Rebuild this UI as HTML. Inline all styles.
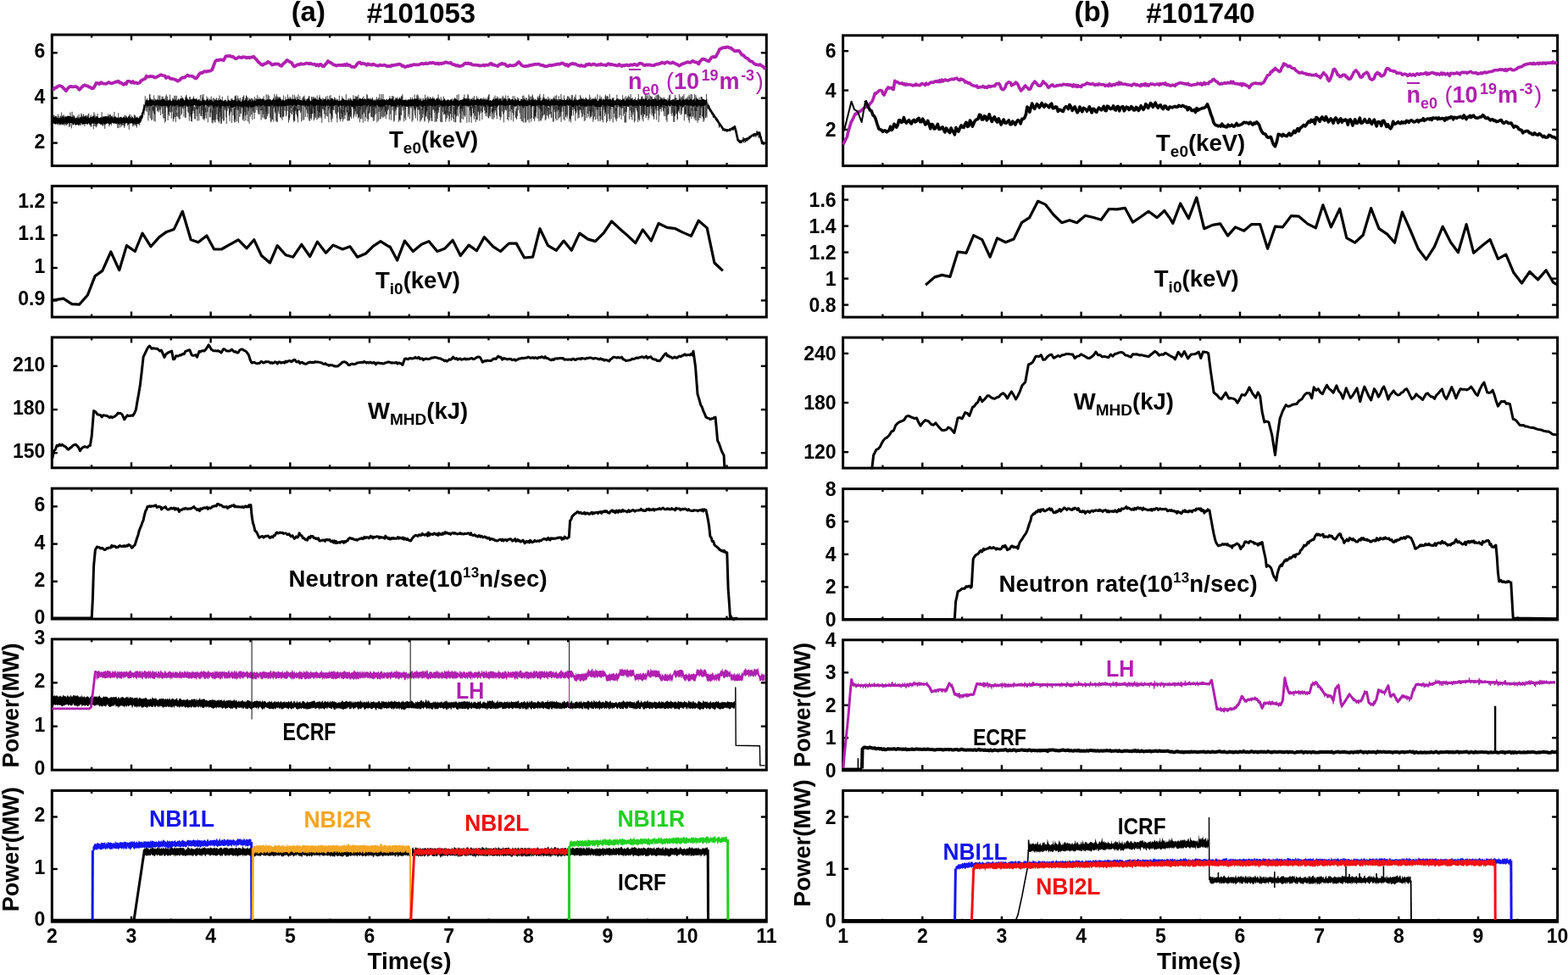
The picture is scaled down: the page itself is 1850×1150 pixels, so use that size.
<!DOCTYPE html><html><head><meta charset="utf-8"><title>Figure</title><style>html,body{margin:0;padding:0;background:#fff;}svg{display:block;}</style></head><body><svg width="1850" height="1150" viewBox="0 0 1850 1150" font-family='"Liberation Sans", Arial, sans-serif' font-weight="bold">
<rect width="1850" height="1150" fill="#fff"/>
<defs><filter id="bl" x="-5%" y="-50%" width="110%" height="200%"><feGaussianBlur stdDeviation="0.35"/></filter></defs>
<line x1="108.1" y1="41" x2="108.1" y2="44.5" stroke="#000" stroke-width="2.4"/>
<line x1="108.1" y1="195.6" x2="108.1" y2="192.1" stroke="#000" stroke-width="2.4"/>
<line x1="155" y1="41" x2="155" y2="47.5" stroke="#000" stroke-width="2.4"/>
<line x1="155" y1="195.6" x2="155" y2="189.1" stroke="#000" stroke-width="2.4"/>
<line x1="201.8" y1="41" x2="201.8" y2="44.5" stroke="#000" stroke-width="2.4"/>
<line x1="201.8" y1="195.6" x2="201.8" y2="192.1" stroke="#000" stroke-width="2.4"/>
<line x1="248.6" y1="41" x2="248.6" y2="47.5" stroke="#000" stroke-width="2.4"/>
<line x1="248.6" y1="195.6" x2="248.6" y2="189.1" stroke="#000" stroke-width="2.4"/>
<line x1="295.5" y1="41" x2="295.5" y2="44.5" stroke="#000" stroke-width="2.4"/>
<line x1="295.5" y1="195.6" x2="295.5" y2="192.1" stroke="#000" stroke-width="2.4"/>
<line x1="342.3" y1="41" x2="342.3" y2="47.5" stroke="#000" stroke-width="2.4"/>
<line x1="342.3" y1="195.6" x2="342.3" y2="189.1" stroke="#000" stroke-width="2.4"/>
<line x1="389.1" y1="41" x2="389.1" y2="44.5" stroke="#000" stroke-width="2.4"/>
<line x1="389.1" y1="195.6" x2="389.1" y2="192.1" stroke="#000" stroke-width="2.4"/>
<line x1="436" y1="41" x2="436" y2="47.5" stroke="#000" stroke-width="2.4"/>
<line x1="436" y1="195.6" x2="436" y2="189.1" stroke="#000" stroke-width="2.4"/>
<line x1="482.8" y1="41" x2="482.8" y2="44.5" stroke="#000" stroke-width="2.4"/>
<line x1="482.8" y1="195.6" x2="482.8" y2="192.1" stroke="#000" stroke-width="2.4"/>
<line x1="529.6" y1="41" x2="529.6" y2="47.5" stroke="#000" stroke-width="2.4"/>
<line x1="529.6" y1="195.6" x2="529.6" y2="189.1" stroke="#000" stroke-width="2.4"/>
<line x1="576.5" y1="41" x2="576.5" y2="44.5" stroke="#000" stroke-width="2.4"/>
<line x1="576.5" y1="195.6" x2="576.5" y2="192.1" stroke="#000" stroke-width="2.4"/>
<line x1="623.3" y1="41" x2="623.3" y2="47.5" stroke="#000" stroke-width="2.4"/>
<line x1="623.3" y1="195.6" x2="623.3" y2="189.1" stroke="#000" stroke-width="2.4"/>
<line x1="670.2" y1="41" x2="670.2" y2="44.5" stroke="#000" stroke-width="2.4"/>
<line x1="670.2" y1="195.6" x2="670.2" y2="192.1" stroke="#000" stroke-width="2.4"/>
<line x1="717" y1="41" x2="717" y2="47.5" stroke="#000" stroke-width="2.4"/>
<line x1="717" y1="195.6" x2="717" y2="189.1" stroke="#000" stroke-width="2.4"/>
<line x1="763.8" y1="41" x2="763.8" y2="44.5" stroke="#000" stroke-width="2.4"/>
<line x1="763.8" y1="195.6" x2="763.8" y2="192.1" stroke="#000" stroke-width="2.4"/>
<line x1="810.7" y1="41" x2="810.7" y2="47.5" stroke="#000" stroke-width="2.4"/>
<line x1="810.7" y1="195.6" x2="810.7" y2="189.1" stroke="#000" stroke-width="2.4"/>
<line x1="857.5" y1="41" x2="857.5" y2="44.5" stroke="#000" stroke-width="2.4"/>
<line x1="857.5" y1="195.6" x2="857.5" y2="192.1" stroke="#000" stroke-width="2.4"/>
<line x1="61.3" y1="62.3" x2="67.8" y2="62.3" stroke="#000" stroke-width="2.4"/>
<line x1="904.3" y1="62.3" x2="897.8" y2="62.3" stroke="#000" stroke-width="2.4"/>
<text x="53.3" y="68.2" font-size="23" text-anchor="end" fill="#000" >6</text>
<line x1="61.3" y1="115.6" x2="67.8" y2="115.6" stroke="#000" stroke-width="2.4"/>
<line x1="904.3" y1="115.6" x2="897.8" y2="115.6" stroke="#000" stroke-width="2.4"/>
<text x="53.3" y="121.5" font-size="23" text-anchor="end" fill="#000" >4</text>
<line x1="61.3" y1="168.6" x2="67.8" y2="168.6" stroke="#000" stroke-width="2.4"/>
<line x1="904.3" y1="168.6" x2="897.8" y2="168.6" stroke="#000" stroke-width="2.4"/>
<text x="53.3" y="174.5" font-size="23" text-anchor="end" fill="#000" >2</text>
<rect x="61.3" y="41" width="843" height="154.6" fill="none" stroke="#000" stroke-width="3"/>
<line x1="108.1" y1="219.4" x2="108.1" y2="222.9" stroke="#000" stroke-width="2.4"/>
<line x1="108.1" y1="374" x2="108.1" y2="370.5" stroke="#000" stroke-width="2.4"/>
<line x1="155" y1="219.4" x2="155" y2="225.9" stroke="#000" stroke-width="2.4"/>
<line x1="155" y1="374" x2="155" y2="367.5" stroke="#000" stroke-width="2.4"/>
<line x1="201.8" y1="219.4" x2="201.8" y2="222.9" stroke="#000" stroke-width="2.4"/>
<line x1="201.8" y1="374" x2="201.8" y2="370.5" stroke="#000" stroke-width="2.4"/>
<line x1="248.6" y1="219.4" x2="248.6" y2="225.9" stroke="#000" stroke-width="2.4"/>
<line x1="248.6" y1="374" x2="248.6" y2="367.5" stroke="#000" stroke-width="2.4"/>
<line x1="295.5" y1="219.4" x2="295.5" y2="222.9" stroke="#000" stroke-width="2.4"/>
<line x1="295.5" y1="374" x2="295.5" y2="370.5" stroke="#000" stroke-width="2.4"/>
<line x1="342.3" y1="219.4" x2="342.3" y2="225.9" stroke="#000" stroke-width="2.4"/>
<line x1="342.3" y1="374" x2="342.3" y2="367.5" stroke="#000" stroke-width="2.4"/>
<line x1="389.1" y1="219.4" x2="389.1" y2="222.9" stroke="#000" stroke-width="2.4"/>
<line x1="389.1" y1="374" x2="389.1" y2="370.5" stroke="#000" stroke-width="2.4"/>
<line x1="436" y1="219.4" x2="436" y2="225.9" stroke="#000" stroke-width="2.4"/>
<line x1="436" y1="374" x2="436" y2="367.5" stroke="#000" stroke-width="2.4"/>
<line x1="482.8" y1="219.4" x2="482.8" y2="222.9" stroke="#000" stroke-width="2.4"/>
<line x1="482.8" y1="374" x2="482.8" y2="370.5" stroke="#000" stroke-width="2.4"/>
<line x1="529.6" y1="219.4" x2="529.6" y2="225.9" stroke="#000" stroke-width="2.4"/>
<line x1="529.6" y1="374" x2="529.6" y2="367.5" stroke="#000" stroke-width="2.4"/>
<line x1="576.5" y1="219.4" x2="576.5" y2="222.9" stroke="#000" stroke-width="2.4"/>
<line x1="576.5" y1="374" x2="576.5" y2="370.5" stroke="#000" stroke-width="2.4"/>
<line x1="623.3" y1="219.4" x2="623.3" y2="225.9" stroke="#000" stroke-width="2.4"/>
<line x1="623.3" y1="374" x2="623.3" y2="367.5" stroke="#000" stroke-width="2.4"/>
<line x1="670.2" y1="219.4" x2="670.2" y2="222.9" stroke="#000" stroke-width="2.4"/>
<line x1="670.2" y1="374" x2="670.2" y2="370.5" stroke="#000" stroke-width="2.4"/>
<line x1="717" y1="219.4" x2="717" y2="225.9" stroke="#000" stroke-width="2.4"/>
<line x1="717" y1="374" x2="717" y2="367.5" stroke="#000" stroke-width="2.4"/>
<line x1="763.8" y1="219.4" x2="763.8" y2="222.9" stroke="#000" stroke-width="2.4"/>
<line x1="763.8" y1="374" x2="763.8" y2="370.5" stroke="#000" stroke-width="2.4"/>
<line x1="810.7" y1="219.4" x2="810.7" y2="225.9" stroke="#000" stroke-width="2.4"/>
<line x1="810.7" y1="374" x2="810.7" y2="367.5" stroke="#000" stroke-width="2.4"/>
<line x1="857.5" y1="219.4" x2="857.5" y2="222.9" stroke="#000" stroke-width="2.4"/>
<line x1="857.5" y1="374" x2="857.5" y2="370.5" stroke="#000" stroke-width="2.4"/>
<line x1="61.3" y1="239" x2="67.8" y2="239" stroke="#000" stroke-width="2.4"/>
<line x1="904.3" y1="239" x2="897.8" y2="239" stroke="#000" stroke-width="2.4"/>
<text x="53.3" y="244.9" font-size="23" text-anchor="end" fill="#000" >1.2</text>
<line x1="61.3" y1="277.4" x2="67.8" y2="277.4" stroke="#000" stroke-width="2.4"/>
<line x1="904.3" y1="277.4" x2="897.8" y2="277.4" stroke="#000" stroke-width="2.4"/>
<text x="53.3" y="283.3" font-size="23" text-anchor="end" fill="#000" >1.1</text>
<line x1="61.3" y1="316" x2="67.8" y2="316" stroke="#000" stroke-width="2.4"/>
<line x1="904.3" y1="316" x2="897.8" y2="316" stroke="#000" stroke-width="2.4"/>
<text x="53.3" y="321.9" font-size="23" text-anchor="end" fill="#000" >1</text>
<line x1="61.3" y1="354.4" x2="67.8" y2="354.4" stroke="#000" stroke-width="2.4"/>
<line x1="904.3" y1="354.4" x2="897.8" y2="354.4" stroke="#000" stroke-width="2.4"/>
<text x="53.3" y="360.3" font-size="23" text-anchor="end" fill="#000" >0.9</text>
<rect x="61.3" y="219.4" width="843" height="154.6" fill="none" stroke="#000" stroke-width="3"/>
<line x1="108.1" y1="397.9" x2="108.1" y2="401.4" stroke="#000" stroke-width="2.4"/>
<line x1="108.1" y1="551.8" x2="108.1" y2="548.3" stroke="#000" stroke-width="2.4"/>
<line x1="155" y1="397.9" x2="155" y2="404.4" stroke="#000" stroke-width="2.4"/>
<line x1="155" y1="551.8" x2="155" y2="545.3" stroke="#000" stroke-width="2.4"/>
<line x1="201.8" y1="397.9" x2="201.8" y2="401.4" stroke="#000" stroke-width="2.4"/>
<line x1="201.8" y1="551.8" x2="201.8" y2="548.3" stroke="#000" stroke-width="2.4"/>
<line x1="248.6" y1="397.9" x2="248.6" y2="404.4" stroke="#000" stroke-width="2.4"/>
<line x1="248.6" y1="551.8" x2="248.6" y2="545.3" stroke="#000" stroke-width="2.4"/>
<line x1="295.5" y1="397.9" x2="295.5" y2="401.4" stroke="#000" stroke-width="2.4"/>
<line x1="295.5" y1="551.8" x2="295.5" y2="548.3" stroke="#000" stroke-width="2.4"/>
<line x1="342.3" y1="397.9" x2="342.3" y2="404.4" stroke="#000" stroke-width="2.4"/>
<line x1="342.3" y1="551.8" x2="342.3" y2="545.3" stroke="#000" stroke-width="2.4"/>
<line x1="389.1" y1="397.9" x2="389.1" y2="401.4" stroke="#000" stroke-width="2.4"/>
<line x1="389.1" y1="551.8" x2="389.1" y2="548.3" stroke="#000" stroke-width="2.4"/>
<line x1="436" y1="397.9" x2="436" y2="404.4" stroke="#000" stroke-width="2.4"/>
<line x1="436" y1="551.8" x2="436" y2="545.3" stroke="#000" stroke-width="2.4"/>
<line x1="482.8" y1="397.9" x2="482.8" y2="401.4" stroke="#000" stroke-width="2.4"/>
<line x1="482.8" y1="551.8" x2="482.8" y2="548.3" stroke="#000" stroke-width="2.4"/>
<line x1="529.6" y1="397.9" x2="529.6" y2="404.4" stroke="#000" stroke-width="2.4"/>
<line x1="529.6" y1="551.8" x2="529.6" y2="545.3" stroke="#000" stroke-width="2.4"/>
<line x1="576.5" y1="397.9" x2="576.5" y2="401.4" stroke="#000" stroke-width="2.4"/>
<line x1="576.5" y1="551.8" x2="576.5" y2="548.3" stroke="#000" stroke-width="2.4"/>
<line x1="623.3" y1="397.9" x2="623.3" y2="404.4" stroke="#000" stroke-width="2.4"/>
<line x1="623.3" y1="551.8" x2="623.3" y2="545.3" stroke="#000" stroke-width="2.4"/>
<line x1="670.2" y1="397.9" x2="670.2" y2="401.4" stroke="#000" stroke-width="2.4"/>
<line x1="670.2" y1="551.8" x2="670.2" y2="548.3" stroke="#000" stroke-width="2.4"/>
<line x1="717" y1="397.9" x2="717" y2="404.4" stroke="#000" stroke-width="2.4"/>
<line x1="717" y1="551.8" x2="717" y2="545.3" stroke="#000" stroke-width="2.4"/>
<line x1="763.8" y1="397.9" x2="763.8" y2="401.4" stroke="#000" stroke-width="2.4"/>
<line x1="763.8" y1="551.8" x2="763.8" y2="548.3" stroke="#000" stroke-width="2.4"/>
<line x1="810.7" y1="397.9" x2="810.7" y2="404.4" stroke="#000" stroke-width="2.4"/>
<line x1="810.7" y1="551.8" x2="810.7" y2="545.3" stroke="#000" stroke-width="2.4"/>
<line x1="857.5" y1="397.9" x2="857.5" y2="401.4" stroke="#000" stroke-width="2.4"/>
<line x1="857.5" y1="551.8" x2="857.5" y2="548.3" stroke="#000" stroke-width="2.4"/>
<line x1="61.3" y1="431.8" x2="67.8" y2="431.8" stroke="#000" stroke-width="2.4"/>
<line x1="904.3" y1="431.8" x2="897.8" y2="431.8" stroke="#000" stroke-width="2.4"/>
<text x="53.3" y="437.7" font-size="23" text-anchor="end" fill="#000" >210</text>
<line x1="61.3" y1="483.1" x2="67.8" y2="483.1" stroke="#000" stroke-width="2.4"/>
<line x1="904.3" y1="483.1" x2="897.8" y2="483.1" stroke="#000" stroke-width="2.4"/>
<text x="53.3" y="489" font-size="23" text-anchor="end" fill="#000" >180</text>
<line x1="61.3" y1="534.2" x2="67.8" y2="534.2" stroke="#000" stroke-width="2.4"/>
<line x1="904.3" y1="534.2" x2="897.8" y2="534.2" stroke="#000" stroke-width="2.4"/>
<text x="53.3" y="540.1" font-size="23" text-anchor="end" fill="#000" >150</text>
<rect x="61.3" y="397.9" width="843" height="153.9" fill="none" stroke="#000" stroke-width="3"/>
<line x1="108.1" y1="576.1" x2="108.1" y2="579.6" stroke="#000" stroke-width="2.4"/>
<line x1="108.1" y1="730.1" x2="108.1" y2="726.6" stroke="#000" stroke-width="2.4"/>
<line x1="155" y1="576.1" x2="155" y2="582.6" stroke="#000" stroke-width="2.4"/>
<line x1="155" y1="730.1" x2="155" y2="723.6" stroke="#000" stroke-width="2.4"/>
<line x1="201.8" y1="576.1" x2="201.8" y2="579.6" stroke="#000" stroke-width="2.4"/>
<line x1="201.8" y1="730.1" x2="201.8" y2="726.6" stroke="#000" stroke-width="2.4"/>
<line x1="248.6" y1="576.1" x2="248.6" y2="582.6" stroke="#000" stroke-width="2.4"/>
<line x1="248.6" y1="730.1" x2="248.6" y2="723.6" stroke="#000" stroke-width="2.4"/>
<line x1="295.5" y1="576.1" x2="295.5" y2="579.6" stroke="#000" stroke-width="2.4"/>
<line x1="295.5" y1="730.1" x2="295.5" y2="726.6" stroke="#000" stroke-width="2.4"/>
<line x1="342.3" y1="576.1" x2="342.3" y2="582.6" stroke="#000" stroke-width="2.4"/>
<line x1="342.3" y1="730.1" x2="342.3" y2="723.6" stroke="#000" stroke-width="2.4"/>
<line x1="389.1" y1="576.1" x2="389.1" y2="579.6" stroke="#000" stroke-width="2.4"/>
<line x1="389.1" y1="730.1" x2="389.1" y2="726.6" stroke="#000" stroke-width="2.4"/>
<line x1="436" y1="576.1" x2="436" y2="582.6" stroke="#000" stroke-width="2.4"/>
<line x1="436" y1="730.1" x2="436" y2="723.6" stroke="#000" stroke-width="2.4"/>
<line x1="482.8" y1="576.1" x2="482.8" y2="579.6" stroke="#000" stroke-width="2.4"/>
<line x1="482.8" y1="730.1" x2="482.8" y2="726.6" stroke="#000" stroke-width="2.4"/>
<line x1="529.6" y1="576.1" x2="529.6" y2="582.6" stroke="#000" stroke-width="2.4"/>
<line x1="529.6" y1="730.1" x2="529.6" y2="723.6" stroke="#000" stroke-width="2.4"/>
<line x1="576.5" y1="576.1" x2="576.5" y2="579.6" stroke="#000" stroke-width="2.4"/>
<line x1="576.5" y1="730.1" x2="576.5" y2="726.6" stroke="#000" stroke-width="2.4"/>
<line x1="623.3" y1="576.1" x2="623.3" y2="582.6" stroke="#000" stroke-width="2.4"/>
<line x1="623.3" y1="730.1" x2="623.3" y2="723.6" stroke="#000" stroke-width="2.4"/>
<line x1="670.2" y1="576.1" x2="670.2" y2="579.6" stroke="#000" stroke-width="2.4"/>
<line x1="670.2" y1="730.1" x2="670.2" y2="726.6" stroke="#000" stroke-width="2.4"/>
<line x1="717" y1="576.1" x2="717" y2="582.6" stroke="#000" stroke-width="2.4"/>
<line x1="717" y1="730.1" x2="717" y2="723.6" stroke="#000" stroke-width="2.4"/>
<line x1="763.8" y1="576.1" x2="763.8" y2="579.6" stroke="#000" stroke-width="2.4"/>
<line x1="763.8" y1="730.1" x2="763.8" y2="726.6" stroke="#000" stroke-width="2.4"/>
<line x1="810.7" y1="576.1" x2="810.7" y2="582.6" stroke="#000" stroke-width="2.4"/>
<line x1="810.7" y1="730.1" x2="810.7" y2="723.6" stroke="#000" stroke-width="2.4"/>
<line x1="857.5" y1="576.1" x2="857.5" y2="579.6" stroke="#000" stroke-width="2.4"/>
<line x1="857.5" y1="730.1" x2="857.5" y2="726.6" stroke="#000" stroke-width="2.4"/>
<line x1="61.3" y1="597.4" x2="67.8" y2="597.4" stroke="#000" stroke-width="2.4"/>
<line x1="904.3" y1="597.4" x2="897.8" y2="597.4" stroke="#000" stroke-width="2.4"/>
<text x="53.3" y="603.3" font-size="23" text-anchor="end" fill="#000" >6</text>
<line x1="61.3" y1="641.6" x2="67.8" y2="641.6" stroke="#000" stroke-width="2.4"/>
<line x1="904.3" y1="641.6" x2="897.8" y2="641.6" stroke="#000" stroke-width="2.4"/>
<text x="53.3" y="647.5" font-size="23" text-anchor="end" fill="#000" >4</text>
<line x1="61.3" y1="685.8" x2="67.8" y2="685.8" stroke="#000" stroke-width="2.4"/>
<line x1="904.3" y1="685.8" x2="897.8" y2="685.8" stroke="#000" stroke-width="2.4"/>
<text x="53.3" y="691.7" font-size="23" text-anchor="end" fill="#000" >2</text>
<text x="53.3" y="736" font-size="23" text-anchor="end" fill="#000" >0</text>
<rect x="61.3" y="576.1" width="843" height="154" fill="none" stroke="#000" stroke-width="3"/>
<line x1="108.1" y1="753.9" x2="108.1" y2="757.4" stroke="#000" stroke-width="2.4"/>
<line x1="108.1" y1="908.2" x2="108.1" y2="904.7" stroke="#000" stroke-width="2.4"/>
<line x1="155" y1="753.9" x2="155" y2="760.4" stroke="#000" stroke-width="2.4"/>
<line x1="155" y1="908.2" x2="155" y2="901.7" stroke="#000" stroke-width="2.4"/>
<line x1="201.8" y1="753.9" x2="201.8" y2="757.4" stroke="#000" stroke-width="2.4"/>
<line x1="201.8" y1="908.2" x2="201.8" y2="904.7" stroke="#000" stroke-width="2.4"/>
<line x1="248.6" y1="753.9" x2="248.6" y2="760.4" stroke="#000" stroke-width="2.4"/>
<line x1="248.6" y1="908.2" x2="248.6" y2="901.7" stroke="#000" stroke-width="2.4"/>
<line x1="295.5" y1="753.9" x2="295.5" y2="757.4" stroke="#000" stroke-width="2.4"/>
<line x1="295.5" y1="908.2" x2="295.5" y2="904.7" stroke="#000" stroke-width="2.4"/>
<line x1="342.3" y1="753.9" x2="342.3" y2="760.4" stroke="#000" stroke-width="2.4"/>
<line x1="342.3" y1="908.2" x2="342.3" y2="901.7" stroke="#000" stroke-width="2.4"/>
<line x1="389.1" y1="753.9" x2="389.1" y2="757.4" stroke="#000" stroke-width="2.4"/>
<line x1="389.1" y1="908.2" x2="389.1" y2="904.7" stroke="#000" stroke-width="2.4"/>
<line x1="436" y1="753.9" x2="436" y2="760.4" stroke="#000" stroke-width="2.4"/>
<line x1="436" y1="908.2" x2="436" y2="901.7" stroke="#000" stroke-width="2.4"/>
<line x1="482.8" y1="753.9" x2="482.8" y2="757.4" stroke="#000" stroke-width="2.4"/>
<line x1="482.8" y1="908.2" x2="482.8" y2="904.7" stroke="#000" stroke-width="2.4"/>
<line x1="529.6" y1="753.9" x2="529.6" y2="760.4" stroke="#000" stroke-width="2.4"/>
<line x1="529.6" y1="908.2" x2="529.6" y2="901.7" stroke="#000" stroke-width="2.4"/>
<line x1="576.5" y1="753.9" x2="576.5" y2="757.4" stroke="#000" stroke-width="2.4"/>
<line x1="576.5" y1="908.2" x2="576.5" y2="904.7" stroke="#000" stroke-width="2.4"/>
<line x1="623.3" y1="753.9" x2="623.3" y2="760.4" stroke="#000" stroke-width="2.4"/>
<line x1="623.3" y1="908.2" x2="623.3" y2="901.7" stroke="#000" stroke-width="2.4"/>
<line x1="670.2" y1="753.9" x2="670.2" y2="757.4" stroke="#000" stroke-width="2.4"/>
<line x1="670.2" y1="908.2" x2="670.2" y2="904.7" stroke="#000" stroke-width="2.4"/>
<line x1="717" y1="753.9" x2="717" y2="760.4" stroke="#000" stroke-width="2.4"/>
<line x1="717" y1="908.2" x2="717" y2="901.7" stroke="#000" stroke-width="2.4"/>
<line x1="763.8" y1="753.9" x2="763.8" y2="757.4" stroke="#000" stroke-width="2.4"/>
<line x1="763.8" y1="908.2" x2="763.8" y2="904.7" stroke="#000" stroke-width="2.4"/>
<line x1="810.7" y1="753.9" x2="810.7" y2="760.4" stroke="#000" stroke-width="2.4"/>
<line x1="810.7" y1="908.2" x2="810.7" y2="901.7" stroke="#000" stroke-width="2.4"/>
<line x1="857.5" y1="753.9" x2="857.5" y2="757.4" stroke="#000" stroke-width="2.4"/>
<line x1="857.5" y1="908.2" x2="857.5" y2="904.7" stroke="#000" stroke-width="2.4"/>
<text x="53.3" y="759.8" font-size="23" text-anchor="end" fill="#000" >3</text>
<line x1="61.3" y1="805.3" x2="67.8" y2="805.3" stroke="#000" stroke-width="2.4"/>
<line x1="904.3" y1="805.3" x2="897.8" y2="805.3" stroke="#000" stroke-width="2.4"/>
<text x="53.3" y="811.2" font-size="23" text-anchor="end" fill="#000" >2</text>
<line x1="61.3" y1="856.7" x2="67.8" y2="856.7" stroke="#000" stroke-width="2.4"/>
<line x1="904.3" y1="856.7" x2="897.8" y2="856.7" stroke="#000" stroke-width="2.4"/>
<text x="53.3" y="862.6" font-size="23" text-anchor="end" fill="#000" >1</text>
<text x="53.3" y="914.1" font-size="23" text-anchor="end" fill="#000" >0</text>
<rect x="61.3" y="753.9" width="843" height="154.3" fill="none" stroke="#000" stroke-width="3"/>
<line x1="108.1" y1="932.5" x2="108.1" y2="936" stroke="#000" stroke-width="2.4"/>
<line x1="108.1" y1="1087.2" x2="108.1" y2="1083.7" stroke="#000" stroke-width="2.4"/>
<line x1="155" y1="932.5" x2="155" y2="939" stroke="#000" stroke-width="2.4"/>
<line x1="155" y1="1087.2" x2="155" y2="1080.7" stroke="#000" stroke-width="2.4"/>
<line x1="201.8" y1="932.5" x2="201.8" y2="936" stroke="#000" stroke-width="2.4"/>
<line x1="201.8" y1="1087.2" x2="201.8" y2="1083.7" stroke="#000" stroke-width="2.4"/>
<line x1="248.6" y1="932.5" x2="248.6" y2="939" stroke="#000" stroke-width="2.4"/>
<line x1="248.6" y1="1087.2" x2="248.6" y2="1080.7" stroke="#000" stroke-width="2.4"/>
<line x1="295.5" y1="932.5" x2="295.5" y2="936" stroke="#000" stroke-width="2.4"/>
<line x1="295.5" y1="1087.2" x2="295.5" y2="1083.7" stroke="#000" stroke-width="2.4"/>
<line x1="342.3" y1="932.5" x2="342.3" y2="939" stroke="#000" stroke-width="2.4"/>
<line x1="342.3" y1="1087.2" x2="342.3" y2="1080.7" stroke="#000" stroke-width="2.4"/>
<line x1="389.1" y1="932.5" x2="389.1" y2="936" stroke="#000" stroke-width="2.4"/>
<line x1="389.1" y1="1087.2" x2="389.1" y2="1083.7" stroke="#000" stroke-width="2.4"/>
<line x1="436" y1="932.5" x2="436" y2="939" stroke="#000" stroke-width="2.4"/>
<line x1="436" y1="1087.2" x2="436" y2="1080.7" stroke="#000" stroke-width="2.4"/>
<line x1="482.8" y1="932.5" x2="482.8" y2="936" stroke="#000" stroke-width="2.4"/>
<line x1="482.8" y1="1087.2" x2="482.8" y2="1083.7" stroke="#000" stroke-width="2.4"/>
<line x1="529.6" y1="932.5" x2="529.6" y2="939" stroke="#000" stroke-width="2.4"/>
<line x1="529.6" y1="1087.2" x2="529.6" y2="1080.7" stroke="#000" stroke-width="2.4"/>
<line x1="576.5" y1="932.5" x2="576.5" y2="936" stroke="#000" stroke-width="2.4"/>
<line x1="576.5" y1="1087.2" x2="576.5" y2="1083.7" stroke="#000" stroke-width="2.4"/>
<line x1="623.3" y1="932.5" x2="623.3" y2="939" stroke="#000" stroke-width="2.4"/>
<line x1="623.3" y1="1087.2" x2="623.3" y2="1080.7" stroke="#000" stroke-width="2.4"/>
<line x1="670.2" y1="932.5" x2="670.2" y2="936" stroke="#000" stroke-width="2.4"/>
<line x1="670.2" y1="1087.2" x2="670.2" y2="1083.7" stroke="#000" stroke-width="2.4"/>
<line x1="717" y1="932.5" x2="717" y2="939" stroke="#000" stroke-width="2.4"/>
<line x1="717" y1="1087.2" x2="717" y2="1080.7" stroke="#000" stroke-width="2.4"/>
<line x1="763.8" y1="932.5" x2="763.8" y2="936" stroke="#000" stroke-width="2.4"/>
<line x1="763.8" y1="1087.2" x2="763.8" y2="1083.7" stroke="#000" stroke-width="2.4"/>
<line x1="810.7" y1="932.5" x2="810.7" y2="939" stroke="#000" stroke-width="2.4"/>
<line x1="810.7" y1="1087.2" x2="810.7" y2="1080.7" stroke="#000" stroke-width="2.4"/>
<line x1="857.5" y1="932.5" x2="857.5" y2="936" stroke="#000" stroke-width="2.4"/>
<line x1="857.5" y1="1087.2" x2="857.5" y2="1083.7" stroke="#000" stroke-width="2.4"/>
<line x1="61.3" y1="963.5" x2="67.8" y2="963.5" stroke="#000" stroke-width="2.4"/>
<line x1="904.3" y1="963.5" x2="897.8" y2="963.5" stroke="#000" stroke-width="2.4"/>
<text x="53.3" y="969.4" font-size="23" text-anchor="end" fill="#000" >2</text>
<line x1="61.3" y1="1025" x2="67.8" y2="1025" stroke="#000" stroke-width="2.4"/>
<line x1="904.3" y1="1025" x2="897.8" y2="1025" stroke="#000" stroke-width="2.4"/>
<text x="53.3" y="1030.9" font-size="23" text-anchor="end" fill="#000" >1</text>
<text x="53.3" y="1092.3" font-size="23" text-anchor="end" fill="#000" >0</text>
<rect x="61.3" y="932.5" width="843" height="154.7" fill="none" stroke="#000" stroke-width="3"/>
<line x1="1041.4" y1="41.8" x2="1041.4" y2="45.3" stroke="#000" stroke-width="2.4"/>
<line x1="1041.4" y1="195.6" x2="1041.4" y2="192.1" stroke="#000" stroke-width="2.4"/>
<line x1="1088.3" y1="41.8" x2="1088.3" y2="48.3" stroke="#000" stroke-width="2.4"/>
<line x1="1088.3" y1="195.6" x2="1088.3" y2="189.1" stroke="#000" stroke-width="2.4"/>
<line x1="1135.1" y1="41.8" x2="1135.1" y2="45.3" stroke="#000" stroke-width="2.4"/>
<line x1="1135.1" y1="195.6" x2="1135.1" y2="192.1" stroke="#000" stroke-width="2.4"/>
<line x1="1181.9" y1="41.8" x2="1181.9" y2="48.3" stroke="#000" stroke-width="2.4"/>
<line x1="1181.9" y1="195.6" x2="1181.9" y2="189.1" stroke="#000" stroke-width="2.4"/>
<line x1="1228.8" y1="41.8" x2="1228.8" y2="45.3" stroke="#000" stroke-width="2.4"/>
<line x1="1228.8" y1="195.6" x2="1228.8" y2="192.1" stroke="#000" stroke-width="2.4"/>
<line x1="1275.6" y1="41.8" x2="1275.6" y2="48.3" stroke="#000" stroke-width="2.4"/>
<line x1="1275.6" y1="195.6" x2="1275.6" y2="189.1" stroke="#000" stroke-width="2.4"/>
<line x1="1322.4" y1="41.8" x2="1322.4" y2="45.3" stroke="#000" stroke-width="2.4"/>
<line x1="1322.4" y1="195.6" x2="1322.4" y2="192.1" stroke="#000" stroke-width="2.4"/>
<line x1="1369.3" y1="41.8" x2="1369.3" y2="48.3" stroke="#000" stroke-width="2.4"/>
<line x1="1369.3" y1="195.6" x2="1369.3" y2="189.1" stroke="#000" stroke-width="2.4"/>
<line x1="1416.1" y1="41.8" x2="1416.1" y2="45.3" stroke="#000" stroke-width="2.4"/>
<line x1="1416.1" y1="195.6" x2="1416.1" y2="192.1" stroke="#000" stroke-width="2.4"/>
<line x1="1463" y1="41.8" x2="1463" y2="48.3" stroke="#000" stroke-width="2.4"/>
<line x1="1463" y1="195.6" x2="1463" y2="189.1" stroke="#000" stroke-width="2.4"/>
<line x1="1509.8" y1="41.8" x2="1509.8" y2="45.3" stroke="#000" stroke-width="2.4"/>
<line x1="1509.8" y1="195.6" x2="1509.8" y2="192.1" stroke="#000" stroke-width="2.4"/>
<line x1="1556.6" y1="41.8" x2="1556.6" y2="48.3" stroke="#000" stroke-width="2.4"/>
<line x1="1556.6" y1="195.6" x2="1556.6" y2="189.1" stroke="#000" stroke-width="2.4"/>
<line x1="1603.5" y1="41.8" x2="1603.5" y2="45.3" stroke="#000" stroke-width="2.4"/>
<line x1="1603.5" y1="195.6" x2="1603.5" y2="192.1" stroke="#000" stroke-width="2.4"/>
<line x1="1650.3" y1="41.8" x2="1650.3" y2="48.3" stroke="#000" stroke-width="2.4"/>
<line x1="1650.3" y1="195.6" x2="1650.3" y2="189.1" stroke="#000" stroke-width="2.4"/>
<line x1="1697.1" y1="41.8" x2="1697.1" y2="45.3" stroke="#000" stroke-width="2.4"/>
<line x1="1697.1" y1="195.6" x2="1697.1" y2="192.1" stroke="#000" stroke-width="2.4"/>
<line x1="1744" y1="41.8" x2="1744" y2="48.3" stroke="#000" stroke-width="2.4"/>
<line x1="1744" y1="195.6" x2="1744" y2="189.1" stroke="#000" stroke-width="2.4"/>
<line x1="1790.8" y1="41.8" x2="1790.8" y2="45.3" stroke="#000" stroke-width="2.4"/>
<line x1="1790.8" y1="195.6" x2="1790.8" y2="192.1" stroke="#000" stroke-width="2.4"/>
<line x1="994.6" y1="60.2" x2="1001.1" y2="60.2" stroke="#000" stroke-width="2.4"/>
<line x1="1837.6" y1="60.2" x2="1831.1" y2="60.2" stroke="#000" stroke-width="2.4"/>
<text x="986.6" y="68.2" font-size="23" text-anchor="end" fill="#000" >6</text>
<line x1="994.6" y1="106.6" x2="1001.1" y2="106.6" stroke="#000" stroke-width="2.4"/>
<line x1="1837.6" y1="106.6" x2="1831.1" y2="106.6" stroke="#000" stroke-width="2.4"/>
<text x="986.6" y="114.6" font-size="23" text-anchor="end" fill="#000" >4</text>
<line x1="994.6" y1="152.9" x2="1001.1" y2="152.9" stroke="#000" stroke-width="2.4"/>
<line x1="1837.6" y1="152.9" x2="1831.1" y2="152.9" stroke="#000" stroke-width="2.4"/>
<text x="986.6" y="160.9" font-size="23" text-anchor="end" fill="#000" >2</text>
<rect x="994.6" y="41.8" width="843" height="153.8" fill="none" stroke="#000" stroke-width="3"/>
<line x1="1041.4" y1="219.8" x2="1041.4" y2="223.3" stroke="#000" stroke-width="2.4"/>
<line x1="1041.4" y1="374.1" x2="1041.4" y2="370.6" stroke="#000" stroke-width="2.4"/>
<line x1="1088.3" y1="219.8" x2="1088.3" y2="226.3" stroke="#000" stroke-width="2.4"/>
<line x1="1088.3" y1="374.1" x2="1088.3" y2="367.6" stroke="#000" stroke-width="2.4"/>
<line x1="1135.1" y1="219.8" x2="1135.1" y2="223.3" stroke="#000" stroke-width="2.4"/>
<line x1="1135.1" y1="374.1" x2="1135.1" y2="370.6" stroke="#000" stroke-width="2.4"/>
<line x1="1181.9" y1="219.8" x2="1181.9" y2="226.3" stroke="#000" stroke-width="2.4"/>
<line x1="1181.9" y1="374.1" x2="1181.9" y2="367.6" stroke="#000" stroke-width="2.4"/>
<line x1="1228.8" y1="219.8" x2="1228.8" y2="223.3" stroke="#000" stroke-width="2.4"/>
<line x1="1228.8" y1="374.1" x2="1228.8" y2="370.6" stroke="#000" stroke-width="2.4"/>
<line x1="1275.6" y1="219.8" x2="1275.6" y2="226.3" stroke="#000" stroke-width="2.4"/>
<line x1="1275.6" y1="374.1" x2="1275.6" y2="367.6" stroke="#000" stroke-width="2.4"/>
<line x1="1322.4" y1="219.8" x2="1322.4" y2="223.3" stroke="#000" stroke-width="2.4"/>
<line x1="1322.4" y1="374.1" x2="1322.4" y2="370.6" stroke="#000" stroke-width="2.4"/>
<line x1="1369.3" y1="219.8" x2="1369.3" y2="226.3" stroke="#000" stroke-width="2.4"/>
<line x1="1369.3" y1="374.1" x2="1369.3" y2="367.6" stroke="#000" stroke-width="2.4"/>
<line x1="1416.1" y1="219.8" x2="1416.1" y2="223.3" stroke="#000" stroke-width="2.4"/>
<line x1="1416.1" y1="374.1" x2="1416.1" y2="370.6" stroke="#000" stroke-width="2.4"/>
<line x1="1463" y1="219.8" x2="1463" y2="226.3" stroke="#000" stroke-width="2.4"/>
<line x1="1463" y1="374.1" x2="1463" y2="367.6" stroke="#000" stroke-width="2.4"/>
<line x1="1509.8" y1="219.8" x2="1509.8" y2="223.3" stroke="#000" stroke-width="2.4"/>
<line x1="1509.8" y1="374.1" x2="1509.8" y2="370.6" stroke="#000" stroke-width="2.4"/>
<line x1="1556.6" y1="219.8" x2="1556.6" y2="226.3" stroke="#000" stroke-width="2.4"/>
<line x1="1556.6" y1="374.1" x2="1556.6" y2="367.6" stroke="#000" stroke-width="2.4"/>
<line x1="1603.5" y1="219.8" x2="1603.5" y2="223.3" stroke="#000" stroke-width="2.4"/>
<line x1="1603.5" y1="374.1" x2="1603.5" y2="370.6" stroke="#000" stroke-width="2.4"/>
<line x1="1650.3" y1="219.8" x2="1650.3" y2="226.3" stroke="#000" stroke-width="2.4"/>
<line x1="1650.3" y1="374.1" x2="1650.3" y2="367.6" stroke="#000" stroke-width="2.4"/>
<line x1="1697.1" y1="219.8" x2="1697.1" y2="223.3" stroke="#000" stroke-width="2.4"/>
<line x1="1697.1" y1="374.1" x2="1697.1" y2="370.6" stroke="#000" stroke-width="2.4"/>
<line x1="1744" y1="219.8" x2="1744" y2="226.3" stroke="#000" stroke-width="2.4"/>
<line x1="1744" y1="374.1" x2="1744" y2="367.6" stroke="#000" stroke-width="2.4"/>
<line x1="1790.8" y1="219.8" x2="1790.8" y2="223.3" stroke="#000" stroke-width="2.4"/>
<line x1="1790.8" y1="374.1" x2="1790.8" y2="370.6" stroke="#000" stroke-width="2.4"/>
<line x1="994.6" y1="235.6" x2="1001.1" y2="235.6" stroke="#000" stroke-width="2.4"/>
<line x1="1837.6" y1="235.6" x2="1831.1" y2="235.6" stroke="#000" stroke-width="2.4"/>
<text x="986.6" y="243.6" font-size="23" text-anchor="end" fill="#000" >1.6</text>
<line x1="994.6" y1="266.6" x2="1001.1" y2="266.6" stroke="#000" stroke-width="2.4"/>
<line x1="1837.6" y1="266.6" x2="1831.1" y2="266.6" stroke="#000" stroke-width="2.4"/>
<text x="986.6" y="274.6" font-size="23" text-anchor="end" fill="#000" >1.4</text>
<line x1="994.6" y1="297.6" x2="1001.1" y2="297.6" stroke="#000" stroke-width="2.4"/>
<line x1="1837.6" y1="297.6" x2="1831.1" y2="297.6" stroke="#000" stroke-width="2.4"/>
<text x="986.6" y="305.6" font-size="23" text-anchor="end" fill="#000" >1.2</text>
<line x1="994.6" y1="328.6" x2="1001.1" y2="328.6" stroke="#000" stroke-width="2.4"/>
<line x1="1837.6" y1="328.6" x2="1831.1" y2="328.6" stroke="#000" stroke-width="2.4"/>
<text x="986.6" y="336.6" font-size="23" text-anchor="end" fill="#000" >1</text>
<line x1="994.6" y1="359.6" x2="1001.1" y2="359.6" stroke="#000" stroke-width="2.4"/>
<line x1="1837.6" y1="359.6" x2="1831.1" y2="359.6" stroke="#000" stroke-width="2.4"/>
<text x="986.6" y="367.6" font-size="23" text-anchor="end" fill="#000" >0.8</text>
<rect x="994.6" y="219.8" width="843" height="154.3" fill="none" stroke="#000" stroke-width="3"/>
<line x1="1041.4" y1="398.1" x2="1041.4" y2="401.6" stroke="#000" stroke-width="2.4"/>
<line x1="1041.4" y1="552.1" x2="1041.4" y2="548.6" stroke="#000" stroke-width="2.4"/>
<line x1="1088.3" y1="398.1" x2="1088.3" y2="404.6" stroke="#000" stroke-width="2.4"/>
<line x1="1088.3" y1="552.1" x2="1088.3" y2="545.6" stroke="#000" stroke-width="2.4"/>
<line x1="1135.1" y1="398.1" x2="1135.1" y2="401.6" stroke="#000" stroke-width="2.4"/>
<line x1="1135.1" y1="552.1" x2="1135.1" y2="548.6" stroke="#000" stroke-width="2.4"/>
<line x1="1181.9" y1="398.1" x2="1181.9" y2="404.6" stroke="#000" stroke-width="2.4"/>
<line x1="1181.9" y1="552.1" x2="1181.9" y2="545.6" stroke="#000" stroke-width="2.4"/>
<line x1="1228.8" y1="398.1" x2="1228.8" y2="401.6" stroke="#000" stroke-width="2.4"/>
<line x1="1228.8" y1="552.1" x2="1228.8" y2="548.6" stroke="#000" stroke-width="2.4"/>
<line x1="1275.6" y1="398.1" x2="1275.6" y2="404.6" stroke="#000" stroke-width="2.4"/>
<line x1="1275.6" y1="552.1" x2="1275.6" y2="545.6" stroke="#000" stroke-width="2.4"/>
<line x1="1322.4" y1="398.1" x2="1322.4" y2="401.6" stroke="#000" stroke-width="2.4"/>
<line x1="1322.4" y1="552.1" x2="1322.4" y2="548.6" stroke="#000" stroke-width="2.4"/>
<line x1="1369.3" y1="398.1" x2="1369.3" y2="404.6" stroke="#000" stroke-width="2.4"/>
<line x1="1369.3" y1="552.1" x2="1369.3" y2="545.6" stroke="#000" stroke-width="2.4"/>
<line x1="1416.1" y1="398.1" x2="1416.1" y2="401.6" stroke="#000" stroke-width="2.4"/>
<line x1="1416.1" y1="552.1" x2="1416.1" y2="548.6" stroke="#000" stroke-width="2.4"/>
<line x1="1463" y1="398.1" x2="1463" y2="404.6" stroke="#000" stroke-width="2.4"/>
<line x1="1463" y1="552.1" x2="1463" y2="545.6" stroke="#000" stroke-width="2.4"/>
<line x1="1509.8" y1="398.1" x2="1509.8" y2="401.6" stroke="#000" stroke-width="2.4"/>
<line x1="1509.8" y1="552.1" x2="1509.8" y2="548.6" stroke="#000" stroke-width="2.4"/>
<line x1="1556.6" y1="398.1" x2="1556.6" y2="404.6" stroke="#000" stroke-width="2.4"/>
<line x1="1556.6" y1="552.1" x2="1556.6" y2="545.6" stroke="#000" stroke-width="2.4"/>
<line x1="1603.5" y1="398.1" x2="1603.5" y2="401.6" stroke="#000" stroke-width="2.4"/>
<line x1="1603.5" y1="552.1" x2="1603.5" y2="548.6" stroke="#000" stroke-width="2.4"/>
<line x1="1650.3" y1="398.1" x2="1650.3" y2="404.6" stroke="#000" stroke-width="2.4"/>
<line x1="1650.3" y1="552.1" x2="1650.3" y2="545.6" stroke="#000" stroke-width="2.4"/>
<line x1="1697.1" y1="398.1" x2="1697.1" y2="401.6" stroke="#000" stroke-width="2.4"/>
<line x1="1697.1" y1="552.1" x2="1697.1" y2="548.6" stroke="#000" stroke-width="2.4"/>
<line x1="1744" y1="398.1" x2="1744" y2="404.6" stroke="#000" stroke-width="2.4"/>
<line x1="1744" y1="552.1" x2="1744" y2="545.6" stroke="#000" stroke-width="2.4"/>
<line x1="1790.8" y1="398.1" x2="1790.8" y2="401.6" stroke="#000" stroke-width="2.4"/>
<line x1="1790.8" y1="552.1" x2="1790.8" y2="548.6" stroke="#000" stroke-width="2.4"/>
<line x1="994.6" y1="416.9" x2="1001.1" y2="416.9" stroke="#000" stroke-width="2.4"/>
<line x1="1837.6" y1="416.9" x2="1831.1" y2="416.9" stroke="#000" stroke-width="2.4"/>
<text x="986.6" y="424.9" font-size="23" text-anchor="end" fill="#000" >240</text>
<line x1="994.6" y1="475" x2="1001.1" y2="475" stroke="#000" stroke-width="2.4"/>
<line x1="1837.6" y1="475" x2="1831.1" y2="475" stroke="#000" stroke-width="2.4"/>
<text x="986.6" y="483" font-size="23" text-anchor="end" fill="#000" >180</text>
<line x1="994.6" y1="533.2" x2="1001.1" y2="533.2" stroke="#000" stroke-width="2.4"/>
<line x1="1837.6" y1="533.2" x2="1831.1" y2="533.2" stroke="#000" stroke-width="2.4"/>
<text x="986.6" y="541.2" font-size="23" text-anchor="end" fill="#000" >120</text>
<rect x="994.6" y="398.1" width="843" height="154" fill="none" stroke="#000" stroke-width="3"/>
<line x1="1041.4" y1="576.6" x2="1041.4" y2="580.1" stroke="#000" stroke-width="2.4"/>
<line x1="1041.4" y1="731" x2="1041.4" y2="727.5" stroke="#000" stroke-width="2.4"/>
<line x1="1088.3" y1="576.6" x2="1088.3" y2="583.1" stroke="#000" stroke-width="2.4"/>
<line x1="1088.3" y1="731" x2="1088.3" y2="724.5" stroke="#000" stroke-width="2.4"/>
<line x1="1135.1" y1="576.6" x2="1135.1" y2="580.1" stroke="#000" stroke-width="2.4"/>
<line x1="1135.1" y1="731" x2="1135.1" y2="727.5" stroke="#000" stroke-width="2.4"/>
<line x1="1181.9" y1="576.6" x2="1181.9" y2="583.1" stroke="#000" stroke-width="2.4"/>
<line x1="1181.9" y1="731" x2="1181.9" y2="724.5" stroke="#000" stroke-width="2.4"/>
<line x1="1228.8" y1="576.6" x2="1228.8" y2="580.1" stroke="#000" stroke-width="2.4"/>
<line x1="1228.8" y1="731" x2="1228.8" y2="727.5" stroke="#000" stroke-width="2.4"/>
<line x1="1275.6" y1="576.6" x2="1275.6" y2="583.1" stroke="#000" stroke-width="2.4"/>
<line x1="1275.6" y1="731" x2="1275.6" y2="724.5" stroke="#000" stroke-width="2.4"/>
<line x1="1322.4" y1="576.6" x2="1322.4" y2="580.1" stroke="#000" stroke-width="2.4"/>
<line x1="1322.4" y1="731" x2="1322.4" y2="727.5" stroke="#000" stroke-width="2.4"/>
<line x1="1369.3" y1="576.6" x2="1369.3" y2="583.1" stroke="#000" stroke-width="2.4"/>
<line x1="1369.3" y1="731" x2="1369.3" y2="724.5" stroke="#000" stroke-width="2.4"/>
<line x1="1416.1" y1="576.6" x2="1416.1" y2="580.1" stroke="#000" stroke-width="2.4"/>
<line x1="1416.1" y1="731" x2="1416.1" y2="727.5" stroke="#000" stroke-width="2.4"/>
<line x1="1463" y1="576.6" x2="1463" y2="583.1" stroke="#000" stroke-width="2.4"/>
<line x1="1463" y1="731" x2="1463" y2="724.5" stroke="#000" stroke-width="2.4"/>
<line x1="1509.8" y1="576.6" x2="1509.8" y2="580.1" stroke="#000" stroke-width="2.4"/>
<line x1="1509.8" y1="731" x2="1509.8" y2="727.5" stroke="#000" stroke-width="2.4"/>
<line x1="1556.6" y1="576.6" x2="1556.6" y2="583.1" stroke="#000" stroke-width="2.4"/>
<line x1="1556.6" y1="731" x2="1556.6" y2="724.5" stroke="#000" stroke-width="2.4"/>
<line x1="1603.5" y1="576.6" x2="1603.5" y2="580.1" stroke="#000" stroke-width="2.4"/>
<line x1="1603.5" y1="731" x2="1603.5" y2="727.5" stroke="#000" stroke-width="2.4"/>
<line x1="1650.3" y1="576.6" x2="1650.3" y2="583.1" stroke="#000" stroke-width="2.4"/>
<line x1="1650.3" y1="731" x2="1650.3" y2="724.5" stroke="#000" stroke-width="2.4"/>
<line x1="1697.1" y1="576.6" x2="1697.1" y2="580.1" stroke="#000" stroke-width="2.4"/>
<line x1="1697.1" y1="731" x2="1697.1" y2="727.5" stroke="#000" stroke-width="2.4"/>
<line x1="1744" y1="576.6" x2="1744" y2="583.1" stroke="#000" stroke-width="2.4"/>
<line x1="1744" y1="731" x2="1744" y2="724.5" stroke="#000" stroke-width="2.4"/>
<line x1="1790.8" y1="576.6" x2="1790.8" y2="580.1" stroke="#000" stroke-width="2.4"/>
<line x1="1790.8" y1="731" x2="1790.8" y2="727.5" stroke="#000" stroke-width="2.4"/>
<text x="986.6" y="584.6" font-size="23" text-anchor="end" fill="#000" >8</text>
<line x1="994.6" y1="615.2" x2="1001.1" y2="615.2" stroke="#000" stroke-width="2.4"/>
<line x1="1837.6" y1="615.2" x2="1831.1" y2="615.2" stroke="#000" stroke-width="2.4"/>
<text x="986.6" y="623.2" font-size="23" text-anchor="end" fill="#000" >6</text>
<line x1="994.6" y1="653.8" x2="1001.1" y2="653.8" stroke="#000" stroke-width="2.4"/>
<line x1="1837.6" y1="653.8" x2="1831.1" y2="653.8" stroke="#000" stroke-width="2.4"/>
<text x="986.6" y="661.8" font-size="23" text-anchor="end" fill="#000" >4</text>
<line x1="994.6" y1="692.4" x2="1001.1" y2="692.4" stroke="#000" stroke-width="2.4"/>
<line x1="1837.6" y1="692.4" x2="1831.1" y2="692.4" stroke="#000" stroke-width="2.4"/>
<text x="986.6" y="700.4" font-size="23" text-anchor="end" fill="#000" >2</text>
<text x="986.6" y="739" font-size="23" text-anchor="end" fill="#000" >0</text>
<rect x="994.6" y="576.6" width="843" height="154.4" fill="none" stroke="#000" stroke-width="3"/>
<line x1="1041.4" y1="754.8" x2="1041.4" y2="758.3" stroke="#000" stroke-width="2.4"/>
<line x1="1041.4" y1="908.8" x2="1041.4" y2="905.3" stroke="#000" stroke-width="2.4"/>
<line x1="1088.3" y1="754.8" x2="1088.3" y2="761.3" stroke="#000" stroke-width="2.4"/>
<line x1="1088.3" y1="908.8" x2="1088.3" y2="902.3" stroke="#000" stroke-width="2.4"/>
<line x1="1135.1" y1="754.8" x2="1135.1" y2="758.3" stroke="#000" stroke-width="2.4"/>
<line x1="1135.1" y1="908.8" x2="1135.1" y2="905.3" stroke="#000" stroke-width="2.4"/>
<line x1="1181.9" y1="754.8" x2="1181.9" y2="761.3" stroke="#000" stroke-width="2.4"/>
<line x1="1181.9" y1="908.8" x2="1181.9" y2="902.3" stroke="#000" stroke-width="2.4"/>
<line x1="1228.8" y1="754.8" x2="1228.8" y2="758.3" stroke="#000" stroke-width="2.4"/>
<line x1="1228.8" y1="908.8" x2="1228.8" y2="905.3" stroke="#000" stroke-width="2.4"/>
<line x1="1275.6" y1="754.8" x2="1275.6" y2="761.3" stroke="#000" stroke-width="2.4"/>
<line x1="1275.6" y1="908.8" x2="1275.6" y2="902.3" stroke="#000" stroke-width="2.4"/>
<line x1="1322.4" y1="754.8" x2="1322.4" y2="758.3" stroke="#000" stroke-width="2.4"/>
<line x1="1322.4" y1="908.8" x2="1322.4" y2="905.3" stroke="#000" stroke-width="2.4"/>
<line x1="1369.3" y1="754.8" x2="1369.3" y2="761.3" stroke="#000" stroke-width="2.4"/>
<line x1="1369.3" y1="908.8" x2="1369.3" y2="902.3" stroke="#000" stroke-width="2.4"/>
<line x1="1416.1" y1="754.8" x2="1416.1" y2="758.3" stroke="#000" stroke-width="2.4"/>
<line x1="1416.1" y1="908.8" x2="1416.1" y2="905.3" stroke="#000" stroke-width="2.4"/>
<line x1="1463" y1="754.8" x2="1463" y2="761.3" stroke="#000" stroke-width="2.4"/>
<line x1="1463" y1="908.8" x2="1463" y2="902.3" stroke="#000" stroke-width="2.4"/>
<line x1="1509.8" y1="754.8" x2="1509.8" y2="758.3" stroke="#000" stroke-width="2.4"/>
<line x1="1509.8" y1="908.8" x2="1509.8" y2="905.3" stroke="#000" stroke-width="2.4"/>
<line x1="1556.6" y1="754.8" x2="1556.6" y2="761.3" stroke="#000" stroke-width="2.4"/>
<line x1="1556.6" y1="908.8" x2="1556.6" y2="902.3" stroke="#000" stroke-width="2.4"/>
<line x1="1603.5" y1="754.8" x2="1603.5" y2="758.3" stroke="#000" stroke-width="2.4"/>
<line x1="1603.5" y1="908.8" x2="1603.5" y2="905.3" stroke="#000" stroke-width="2.4"/>
<line x1="1650.3" y1="754.8" x2="1650.3" y2="761.3" stroke="#000" stroke-width="2.4"/>
<line x1="1650.3" y1="908.8" x2="1650.3" y2="902.3" stroke="#000" stroke-width="2.4"/>
<line x1="1697.1" y1="754.8" x2="1697.1" y2="758.3" stroke="#000" stroke-width="2.4"/>
<line x1="1697.1" y1="908.8" x2="1697.1" y2="905.3" stroke="#000" stroke-width="2.4"/>
<line x1="1744" y1="754.8" x2="1744" y2="761.3" stroke="#000" stroke-width="2.4"/>
<line x1="1744" y1="908.8" x2="1744" y2="902.3" stroke="#000" stroke-width="2.4"/>
<line x1="1790.8" y1="754.8" x2="1790.8" y2="758.3" stroke="#000" stroke-width="2.4"/>
<line x1="1790.8" y1="908.8" x2="1790.8" y2="905.3" stroke="#000" stroke-width="2.4"/>
<text x="986.6" y="762.8" font-size="23" text-anchor="end" fill="#000" >4</text>
<line x1="994.6" y1="793.3" x2="1001.1" y2="793.3" stroke="#000" stroke-width="2.4"/>
<line x1="1837.6" y1="793.3" x2="1831.1" y2="793.3" stroke="#000" stroke-width="2.4"/>
<text x="986.6" y="801.3" font-size="23" text-anchor="end" fill="#000" >3</text>
<line x1="994.6" y1="831.8" x2="1001.1" y2="831.8" stroke="#000" stroke-width="2.4"/>
<line x1="1837.6" y1="831.8" x2="1831.1" y2="831.8" stroke="#000" stroke-width="2.4"/>
<text x="986.6" y="839.8" font-size="23" text-anchor="end" fill="#000" >2</text>
<line x1="994.6" y1="870.3" x2="1001.1" y2="870.3" stroke="#000" stroke-width="2.4"/>
<line x1="1837.6" y1="870.3" x2="1831.1" y2="870.3" stroke="#000" stroke-width="2.4"/>
<text x="986.6" y="878.3" font-size="23" text-anchor="end" fill="#000" >1</text>
<text x="986.6" y="916.8" font-size="23" text-anchor="end" fill="#000" >0</text>
<rect x="994.6" y="754.8" width="843" height="154" fill="none" stroke="#000" stroke-width="3"/>
<line x1="1041.4" y1="932.5" x2="1041.4" y2="936" stroke="#000" stroke-width="2.4"/>
<line x1="1041.4" y1="1087.3" x2="1041.4" y2="1083.8" stroke="#000" stroke-width="2.4"/>
<line x1="1088.3" y1="932.5" x2="1088.3" y2="939" stroke="#000" stroke-width="2.4"/>
<line x1="1088.3" y1="1087.3" x2="1088.3" y2="1080.8" stroke="#000" stroke-width="2.4"/>
<line x1="1135.1" y1="932.5" x2="1135.1" y2="936" stroke="#000" stroke-width="2.4"/>
<line x1="1135.1" y1="1087.3" x2="1135.1" y2="1083.8" stroke="#000" stroke-width="2.4"/>
<line x1="1181.9" y1="932.5" x2="1181.9" y2="939" stroke="#000" stroke-width="2.4"/>
<line x1="1181.9" y1="1087.3" x2="1181.9" y2="1080.8" stroke="#000" stroke-width="2.4"/>
<line x1="1228.8" y1="932.5" x2="1228.8" y2="936" stroke="#000" stroke-width="2.4"/>
<line x1="1228.8" y1="1087.3" x2="1228.8" y2="1083.8" stroke="#000" stroke-width="2.4"/>
<line x1="1275.6" y1="932.5" x2="1275.6" y2="939" stroke="#000" stroke-width="2.4"/>
<line x1="1275.6" y1="1087.3" x2="1275.6" y2="1080.8" stroke="#000" stroke-width="2.4"/>
<line x1="1322.4" y1="932.5" x2="1322.4" y2="936" stroke="#000" stroke-width="2.4"/>
<line x1="1322.4" y1="1087.3" x2="1322.4" y2="1083.8" stroke="#000" stroke-width="2.4"/>
<line x1="1369.3" y1="932.5" x2="1369.3" y2="939" stroke="#000" stroke-width="2.4"/>
<line x1="1369.3" y1="1087.3" x2="1369.3" y2="1080.8" stroke="#000" stroke-width="2.4"/>
<line x1="1416.1" y1="932.5" x2="1416.1" y2="936" stroke="#000" stroke-width="2.4"/>
<line x1="1416.1" y1="1087.3" x2="1416.1" y2="1083.8" stroke="#000" stroke-width="2.4"/>
<line x1="1463" y1="932.5" x2="1463" y2="939" stroke="#000" stroke-width="2.4"/>
<line x1="1463" y1="1087.3" x2="1463" y2="1080.8" stroke="#000" stroke-width="2.4"/>
<line x1="1509.8" y1="932.5" x2="1509.8" y2="936" stroke="#000" stroke-width="2.4"/>
<line x1="1509.8" y1="1087.3" x2="1509.8" y2="1083.8" stroke="#000" stroke-width="2.4"/>
<line x1="1556.6" y1="932.5" x2="1556.6" y2="939" stroke="#000" stroke-width="2.4"/>
<line x1="1556.6" y1="1087.3" x2="1556.6" y2="1080.8" stroke="#000" stroke-width="2.4"/>
<line x1="1603.5" y1="932.5" x2="1603.5" y2="936" stroke="#000" stroke-width="2.4"/>
<line x1="1603.5" y1="1087.3" x2="1603.5" y2="1083.8" stroke="#000" stroke-width="2.4"/>
<line x1="1650.3" y1="932.5" x2="1650.3" y2="939" stroke="#000" stroke-width="2.4"/>
<line x1="1650.3" y1="1087.3" x2="1650.3" y2="1080.8" stroke="#000" stroke-width="2.4"/>
<line x1="1697.1" y1="932.5" x2="1697.1" y2="936" stroke="#000" stroke-width="2.4"/>
<line x1="1697.1" y1="1087.3" x2="1697.1" y2="1083.8" stroke="#000" stroke-width="2.4"/>
<line x1="1744" y1="932.5" x2="1744" y2="939" stroke="#000" stroke-width="2.4"/>
<line x1="1744" y1="1087.3" x2="1744" y2="1080.8" stroke="#000" stroke-width="2.4"/>
<line x1="1790.8" y1="932.5" x2="1790.8" y2="936" stroke="#000" stroke-width="2.4"/>
<line x1="1790.8" y1="1087.3" x2="1790.8" y2="1083.8" stroke="#000" stroke-width="2.4"/>
<line x1="994.6" y1="963.5" x2="1001.1" y2="963.5" stroke="#000" stroke-width="2.4"/>
<line x1="1837.6" y1="963.5" x2="1831.1" y2="963.5" stroke="#000" stroke-width="2.4"/>
<text x="986.6" y="971.5" font-size="23" text-anchor="end" fill="#000" >2</text>
<line x1="994.6" y1="1024.8" x2="1001.1" y2="1024.8" stroke="#000" stroke-width="2.4"/>
<line x1="1837.6" y1="1024.8" x2="1831.1" y2="1024.8" stroke="#000" stroke-width="2.4"/>
<text x="986.6" y="1032.8" font-size="23" text-anchor="end" fill="#000" >1</text>
<text x="986.6" y="1094.2" font-size="23" text-anchor="end" fill="#000" >0</text>
<rect x="994.6" y="932.5" width="843" height="154.8" fill="none" stroke="#000" stroke-width="3"/>
<text x="61.3" y="1112.2" font-size="23" text-anchor="middle" fill="#000" >2</text>
<text x="155" y="1112.2" font-size="23" text-anchor="middle" fill="#000" >3</text>
<text x="248.6" y="1112.2" font-size="23" text-anchor="middle" fill="#000" >4</text>
<text x="342.3" y="1112.2" font-size="23" text-anchor="middle" fill="#000" >5</text>
<text x="436" y="1112.2" font-size="23" text-anchor="middle" fill="#000" >6</text>
<text x="529.6" y="1112.2" font-size="23" text-anchor="middle" fill="#000" >7</text>
<text x="623.3" y="1112.2" font-size="23" text-anchor="middle" fill="#000" >8</text>
<text x="717" y="1112.2" font-size="23" text-anchor="middle" fill="#000" >9</text>
<text x="810.7" y="1112.2" font-size="23" text-anchor="middle" fill="#000" >10</text>
<text x="904.3" y="1112.2" font-size="23" text-anchor="middle" fill="#000" >11</text>
<text x="994.6" y="1112.2" font-size="23" text-anchor="middle" fill="#000" >1</text>
<text x="1088.3" y="1112.2" font-size="23" text-anchor="middle" fill="#000" >2</text>
<text x="1181.9" y="1112.2" font-size="23" text-anchor="middle" fill="#000" >3</text>
<text x="1275.6" y="1112.2" font-size="23" text-anchor="middle" fill="#000" >4</text>
<text x="1369.3" y="1112.2" font-size="23" text-anchor="middle" fill="#000" >5</text>
<text x="1463" y="1112.2" font-size="23" text-anchor="middle" fill="#000" >6</text>
<text x="1556.6" y="1112.2" font-size="23" text-anchor="middle" fill="#000" >7</text>
<text x="1650.3" y="1112.2" font-size="23" text-anchor="middle" fill="#000" >8</text>
<text x="1744" y="1112.2" font-size="23" text-anchor="middle" fill="#000" >9</text>
<text x="1837.6" y="1112.2" font-size="23" text-anchor="middle" fill="#000" >10</text>
<text x="483" y="1142.5" font-size="28" text-anchor="middle" fill="#000" >Time(s)</text>
<text x="1414.5" y="1142.5" font-size="28" text-anchor="middle" fill="#000" >Time(s)</text>
<text x="363.8" y="24.8" font-size="33" text-anchor="middle" fill="#000" >(a)</text>
<text x="497" y="26.5" font-size="33" text-anchor="middle" fill="#000" >#101053</text>
<text x="1288.5" y="24.8" font-size="33" text-anchor="middle" fill="#000" >(b)</text>
<text x="1416.5" y="26.5" font-size="33" text-anchor="middle" fill="#000" >#101740</text>
<text x="22" y="832" font-size="27" text-anchor="middle" transform="rotate(-90 22 832)">Power(MW)</text>
<text x="22" y="1001.7" font-size="27" text-anchor="middle" transform="rotate(-90 22 1001.7)">Power(MW)</text>
<text x="956" y="831.5" font-size="27" text-anchor="middle" transform="rotate(-90 956 831.5)">Power(MW)</text>
<text x="956.5" y="994.4" font-size="27.6" text-anchor="middle" transform="rotate(-90 956.5 994.4)">Power(MW)</text>
<polygon points="61.5,138.7 62.7,136.6 63.9,138.4 65.1,137.5 66.3,136.6 67.5,139.2 68.7,139.8 69.9,139.1 71.1,139.3 72.3,139.3 73.5,136.6 74.7,138.3 75.9,139.8 77.1,136.4 78.3,138.8 79.5,136.8 80.7,136.4 81.9,137.3 83.1,136.7 84.3,138.2 85.5,137.3 86.7,139.2 87.9,137.6 89.1,139.7 90.3,138.6 91.5,139.6 92.7,139.8 93.9,139.6 95.1,136.9 96.3,139.3 97.5,136.9 98.7,138.2 99.9,137 101.1,136.8 102.3,139.6 103.5,138.1 104.7,139.3 105.9,139.1 107.1,137.2 108.3,138.2 109.5,136.5 110.7,136.8 111.9,139.3 113.1,138.8 114.3,136.6 115.5,138.2 116.7,139.1 117.9,139 119.1,138.1 120.3,138.9 121.5,137.3 122.7,137.4 123.9,137.3 125.1,137.1 126.3,137.5 127.5,137.8 128.7,139.5 129.9,139.2 131.1,136.9 132.3,138.1 133.5,139 134.7,138.1 135.9,136.9 137.1,138.8 138.3,139.5 139.5,138 140.7,139.7 141.9,138.1 143.1,137.5 144.3,139.6 145.5,137.4 146.7,138.2 147.9,139.7 149.1,137.4 150.3,139.8 151.5,137.1 152.7,137.1 153.9,139 155.1,139.8 156.3,137.8 157.5,139.5 158.7,139.8 159.9,138.7 161.1,138.7 162.3,138.2 163.5,139.8 164.7,137.5 165.9,137.2 167.1,134.4 168.3,129.5 169.5,124.9 170.7,123.4 171.9,118.8 173.1,117 174.3,118.6 175.5,118.3 176.7,116.7 177.9,116.5 179.1,118.3 180.3,118.4 181.5,119.3 182.7,118.8 183.9,117.9 185.1,118 186.3,117.1 187.5,118 188.7,119.2 189.9,117.2 191.1,117.8 192.3,115.9 193.5,117.3 194.7,118.4 195.9,118.9 197.1,118.2 198.3,119.3 199.5,118 200.7,116.6 201.9,119.1 203.1,119.1 204.3,116.3 205.5,118.8 206.7,116.7 207.9,118.4 209.1,118.8 210.3,116.3 211.5,118.8 212.7,116.1 213.9,115.9 215.1,116.5 216.3,116.6 217.5,118.9 218.7,118.1 219.9,116.6 221.1,116.2 222.3,117.2 223.5,118.4 224.7,117.3 225.9,117.2 227.1,118 228.3,115.8 229.5,116.5 230.7,116.8 231.9,116.7 233.1,118.7 234.3,116.4 235.5,118.9 236.7,118.7 237.9,119.1 239.1,118.5 240.3,117 241.5,119 242.7,118.5 243.9,117.3 245.1,117.2 246.3,119.2 247.5,116.1 248.7,118.4 249.9,117.3 251.1,119.9 252.3,119.9 253.5,117.3 254.7,118.6 255.9,118.3 257.1,118.8 258.3,117.9 259.5,117.4 260.7,117.1 261.9,119.4 263.1,119.5 264.3,119.2 265.5,118.4 266.7,117.7 267.9,120.4 269.1,117.6 270.3,117.7 271.5,120.1 272.7,119.5 273.9,117.1 275.1,118.8 276.3,117.5 277.5,118.2 278.7,118.5 279.9,120.1 281.1,118.1 282.3,118.4 283.5,118.6 284.7,120.5 285.9,117.5 287.1,119.5 288.3,118.6 289.5,118.1 290.7,117.2 291.9,120.3 293.1,118.9 294.3,117.5 295.5,118.1 296.7,120.5 297.9,117 299.1,120.1 300.3,117.5 301.5,119.2 302.7,116.6 303.9,117 305.1,117.1 306.3,116.9 307.5,116.2 308.7,117.2 309.9,115.9 311.1,117 312.3,119 313.5,118 314.7,117.7 315.9,116.6 317.1,118.1 318.3,116.9 319.5,117.5 320.7,118.7 321.9,117.1 323.1,116.4 324.3,118.7 325.5,116.4 326.7,118 327.9,116.5 329.1,116.2 330.3,116.1 331.5,116.4 332.7,118.9 333.9,117.1 335.1,118.7 336.3,118.2 337.5,117.2 338.7,117.1 339.9,116.8 341.1,117.1 342.3,116 343.5,117.8 344.7,116.4 345.9,116.7 347.1,117 348.3,116 349.5,117.9 350.7,117.9 351.9,116.3 353.1,117.7 354.3,118 355.5,117.8 356.7,119.3 357.9,118.2 359.1,115.9 360.3,118.9 361.5,118.9 362.7,116.6 363.9,115.8 365.1,117.1 366.3,119 367.5,119.3 368.7,117.9 369.9,116.4 371.1,116.2 372.3,116.3 373.5,116.9 374.7,118.3 375.9,118.1 377.1,117.3 378.3,116.2 379.5,118.2 380.7,118.8 381.9,117.4 383.1,116.8 384.3,116 385.5,119 386.7,115.9 387.9,117.2 389.1,119 390.3,116.1 391.5,116 392.7,115.9 393.9,118.7 395.1,117.1 396.3,118.2 397.5,118.3 398.7,119.1 399.9,119.2 401.1,118.3 402.3,118.7 403.5,116.5 404.7,116.1 405.9,117 407.1,118.2 408.3,117.6 409.5,118.8 410.7,117.1 411.9,118.4 413.1,118.5 414.3,116.4 415.5,119.2 416.7,116.5 417.9,117.1 419.1,116.7 420.3,119.1 421.5,117 422.7,118.2 423.9,116 425.1,115.8 426.3,117 427.5,116 428.7,117.5 429.9,117.3 431.1,116.5 432.3,118.6 433.5,116.2 434.7,116.3 435.9,116.9 437.1,118 438.3,117.5 439.5,116.1 440.7,118.4 441.9,118.8 443.1,118.7 444.3,118.8 445.5,117.6 446.7,117.3 447.9,118.1 449.1,118.5 450.3,117.7 451.5,116.4 452.7,117.9 453.9,116.8 455.1,118.7 456.3,116.3 457.5,118.3 458.7,116.6 459.9,116.1 461.1,116.6 462.3,116.7 463.5,115.8 464.7,118.4 465.9,118.4 467.1,116.6 468.3,115.8 469.5,118.9 470.7,116 471.9,116.2 473.1,116.6 474.3,118.3 475.5,118.1 476.7,117.8 477.9,118 479.1,117.7 480.3,119.1 481.5,116.7 482.7,118.6 483.9,116.5 485.1,118 486.3,116.9 487.5,117.6 488.7,117.5 489.9,116.3 491.1,116.8 492.3,116.6 493.5,116.5 494.7,118.4 495.9,116.7 497.1,119 498.3,118.8 499.5,118.5 500.7,117.4 501.9,116.2 503.1,119 504.3,116.6 505.5,118.1 506.7,115.9 507.9,116.8 509.1,116.5 510.3,116 511.5,116.4 512.7,116.5 513.9,118.8 515.1,116.3 516.3,115.9 517.5,118.6 518.7,116.5 519.9,119 521.1,118.3 522.3,119.2 523.5,117.8 524.7,115.8 525.9,119.1 527.1,117.9 528.3,117.3 529.5,117.5 530.7,118.8 531.9,116.7 533.1,119.1 534.3,119 535.5,116.6 536.7,117.1 537.9,115.9 539.1,118.1 540.3,118.2 541.5,119 542.7,118.2 543.9,118.1 545.1,117.6 546.3,117.5 547.5,116.1 548.7,116 549.9,118.1 551.1,116.7 552.3,116.5 553.5,116 554.7,119.2 555.9,115.9 557.1,117.6 558.3,118.5 559.5,116.5 560.7,118.2 561.9,117.5 563.1,116.4 564.3,117.2 565.5,117.9 566.7,116.2 567.9,115.9 569.1,118.6 570.3,117.3 571.5,117 572.7,117.3 573.9,118.4 575.1,117.9 576.3,117.8 577.5,119.1 578.7,117.7 579.9,119 581.1,117.9 582.3,116.6 583.5,118.1 584.7,116.8 585.9,116.2 587.1,116.6 588.3,119.1 589.5,117.5 590.7,116.1 591.9,119.3 593.1,118.7 594.3,116.1 595.5,118 596.7,116.2 597.9,119.2 599.1,118.9 600.3,115.9 601.5,115.9 602.7,118.4 603.9,117.3 605.1,117.1 606.3,118.6 607.5,117.5 608.7,116.5 609.9,118.6 611.1,116.2 612.3,118.8 613.5,119.3 614.7,117.2 615.9,117 617.1,118.2 618.3,116.1 619.5,118.1 620.7,118.7 621.9,118.4 623.1,118.9 624.3,115.9 625.5,118.6 626.7,118.5 627.9,116.4 629.1,118.6 630.3,118 631.5,116.3 632.7,118.7 633.9,117.2 635.1,118.4 636.3,116.7 637.5,118.4 638.7,119 639.9,117.2 641.1,116.2 642.3,116.7 643.5,117.7 644.7,116 645.9,118.6 647.1,115.8 648.3,118.7 649.5,118.4 650.7,116.5 651.9,118.4 653.1,115.8 654.3,116.2 655.5,117.8 656.7,117 657.9,118.6 659.1,119.2 660.3,116.9 661.5,117.5 662.7,117.9 663.9,117.8 665.1,118.2 666.3,117.6 667.5,118.4 668.7,116.5 669.9,117.8 671.1,118.3 672.3,116.6 673.5,118.3 674.7,116.7 675.9,119.1 677.1,118 678.3,117 679.5,118.2 680.7,118.3 681.9,118.2 683.1,117 684.3,118.1 685.5,116.4 686.7,115.9 687.9,117.2 689.1,117 690.3,117.2 691.5,117.4 692.7,116.8 693.9,117.8 695.1,117.7 696.3,118.4 697.5,117.5 698.7,116.7 699.9,116.1 701.1,118.2 702.3,116.5 703.5,116.2 704.7,119.2 705.9,119.1 707.1,116.1 708.3,117.6 709.5,116.3 710.7,118.9 711.9,116.6 713.1,118 714.3,116.5 715.5,117.2 716.7,118.1 717.9,116.7 719.1,117.6 720.3,116.7 721.5,118.6 722.7,115.8 723.9,117 725.1,118.9 726.3,118 727.5,116.7 728.7,116.2 729.9,116.7 731.1,118.7 732.3,118.8 733.5,117.8 734.7,117.7 735.9,116.1 737.1,118.5 738.3,118.3 739.5,115.9 740.7,117.8 741.9,117.1 743.1,118.4 744.3,116.1 745.5,116.3 746.7,117.9 747.9,118.3 749.1,116.3 750.3,118.4 751.5,117.6 752.7,119.2 753.9,115.8 755.1,118.5 756.3,116.6 757.5,117.6 758.7,116.7 759.9,117.1 761.1,117.6 762.3,115.9 763.5,118.3 764.7,117.8 765.9,116.1 767.1,118.1 768.3,118.5 769.5,116.9 770.7,116.4 771.9,117.2 773.1,116.6 774.3,116.8 775.5,118.9 776.7,117.8 777.9,118.1 779.1,117.2 780.3,116 781.5,117.6 782.7,117.7 783.9,116.3 785.1,117.3 786.3,117.1 787.5,119.2 788.7,117.8 789.9,116.6 791.1,118.9 792.3,117.8 793.5,118.7 794.7,116.8 795.9,118.7 797.1,118.9 798.3,118.2 799.5,117.5 800.7,118.1 801.9,115.9 803.1,118.4 804.3,118.4 805.5,117.1 806.7,117 807.9,117.9 809.1,116.3 810.3,117.9 811.5,116.2 812.7,118.7 813.9,117.5 815.1,116.5 816.3,117.7 817.5,118.7 818.7,116 819.9,119.1 821.1,118.5 822.3,116.2 823.5,116.7 824.7,118.1 825.9,118.1 827.1,117.5 828.3,117.6 829.5,117.1 830.7,117 831.9,118.1 833.1,117.7 834.3,116.6 834.3,123.4 833.1,123.4 831.9,124.5 830.7,124.6 829.5,125.3 828.3,125.2 827.1,125.4 825.9,125.2 824.7,124.1 823.5,124.6 822.3,125.7 821.1,125.2 819.9,124.2 818.7,124.6 817.5,125.5 816.3,125.2 815.1,124.6 813.9,124.7 812.7,124 811.5,124.8 810.3,124 809.1,124.1 807.9,124.2 806.7,125.4 805.5,126 804.3,125.4 803.1,125 801.9,124.1 800.7,124.7 799.5,125.7 798.3,125.9 797.1,123.9 795.9,125.5 794.7,125.2 793.5,124.6 792.3,123.3 791.1,124.9 789.9,125.1 788.7,124.1 787.5,125.7 786.3,124.7 785.1,125 783.9,123.8 782.7,124.1 781.5,124.1 780.3,125.9 779.1,125.7 777.9,123.8 776.7,125.4 775.5,124.2 774.3,125.9 773.1,125.2 771.9,124.3 770.7,125.7 769.5,125.7 768.3,124.2 767.1,125.3 765.9,125.7 764.7,126 763.5,125.9 762.3,125.3 761.1,124.1 759.9,125.5 758.7,125.6 757.5,124.2 756.3,124.9 755.1,124.7 753.9,123.3 752.7,125.7 751.5,124.8 750.3,124.5 749.1,124.7 747.9,124.8 746.7,125.7 745.5,124.7 744.3,124.5 743.1,124.3 741.9,126 740.7,126 739.5,124.6 738.3,124.7 737.1,124.8 735.9,124.9 734.7,123.8 733.5,125.2 732.3,125.8 731.1,125.8 729.9,124.2 728.7,123.6 727.5,124.7 726.3,123.9 725.1,124.2 723.9,126.1 722.7,126.1 721.5,125.5 720.3,125.9 719.1,124.5 717.9,125.5 716.7,123.3 715.5,125.9 714.3,124.6 713.1,124.6 711.9,124.5 710.7,123.8 709.5,125.9 708.3,126 707.1,125.9 705.9,125.8 704.7,125.9 703.5,125.7 702.3,125.7 701.1,124.9 699.9,123.6 698.7,124.6 697.5,125.7 696.3,124.7 695.1,125.5 693.9,123.6 692.7,125.8 691.5,125.6 690.3,124.8 689.1,125.9 687.9,123.7 686.7,125.6 685.5,125.1 684.3,125.2 683.1,123.4 681.9,125.8 680.7,124.5 679.5,124.4 678.3,124.4 677.1,125.8 675.9,126 674.7,125.9 673.5,124.6 672.3,124 671.1,124.4 669.9,123.7 668.7,123.6 667.5,125.4 666.3,124.7 665.1,124.7 663.9,123.7 662.7,125.6 661.5,123.5 660.3,125.2 659.1,125.8 657.9,123.6 656.7,124.7 655.5,124.6 654.3,124.3 653.1,124.2 651.9,123.7 650.7,124.8 649.5,124.7 648.3,126.1 647.1,124.5 645.9,125 644.7,124.7 643.5,124.8 642.3,124.2 641.1,123.5 639.9,123.9 638.7,125.1 637.5,125.9 636.3,123.6 635.1,123.9 633.9,124.6 632.7,123.7 631.5,125.7 630.3,125.6 629.1,124.7 627.9,125.7 626.7,126 625.5,123.4 624.3,124.6 623.1,124 621.9,125.5 620.7,124.9 619.5,124.7 618.3,124.6 617.1,125.8 615.9,125.3 614.7,123.8 613.5,125.8 612.3,124.4 611.1,123.7 609.9,124.6 608.7,126 607.5,125.1 606.3,124.9 605.1,124.5 603.9,124.1 602.7,123.6 601.5,123.7 600.3,124.5 599.1,123.9 597.9,124.4 596.7,125.3 595.5,125.1 594.3,124.3 593.1,124.6 591.9,123.9 590.7,124.7 589.5,123.5 588.3,123.9 587.1,125.7 585.9,125.5 584.7,125.1 583.5,124.4 582.3,123.9 581.1,125.7 579.9,125.7 578.7,125.7 577.5,126 576.3,123.9 575.1,123.8 573.9,123.4 572.7,126 571.5,125 570.3,124.7 569.1,123.6 567.9,125.5 566.7,123.9 565.5,124.1 564.3,125 563.1,124.1 561.9,124.3 560.7,124.1 559.5,124.6 558.3,125.3 557.1,124.7 555.9,124.3 554.7,124.5 553.5,125.3 552.3,125.2 551.1,125.2 549.9,124.5 548.7,123.6 547.5,125.1 546.3,124.4 545.1,124.9 543.9,123.8 542.7,123.5 541.5,125 540.3,125.9 539.1,124.3 537.9,123.9 536.7,124.9 535.5,124.6 534.3,125 533.1,123.8 531.9,125.6 530.7,124.4 529.5,125.3 528.3,125.9 527.1,123.7 525.9,125 524.7,125.5 523.5,124.6 522.3,126.1 521.1,125.1 519.9,124.5 518.7,123.5 517.5,124 516.3,124.2 515.1,124.3 513.9,124.9 512.7,125 511.5,123.9 510.3,125.5 509.1,124.9 507.9,124.5 506.7,124.7 505.5,123.7 504.3,125.8 503.1,123.4 501.9,124.9 500.7,124.4 499.5,125.5 498.3,125.7 497.1,125.6 495.9,124.3 494.7,124.3 493.5,126 492.3,126 491.1,125.5 489.9,124.6 488.7,125.3 487.5,124.8 486.3,125.3 485.1,125.8 483.9,124.9 482.7,125.5 481.5,125.5 480.3,126 479.1,125.3 477.9,125.3 476.7,124.3 475.5,125.4 474.3,125.1 473.1,124.3 471.9,124 470.7,125.9 469.5,123.5 468.3,125 467.1,125.6 465.9,124.9 464.7,125.7 463.5,125.1 462.3,125.9 461.1,125.4 459.9,123.6 458.7,124.4 457.5,123.7 456.3,123.6 455.1,123.9 453.9,125.5 452.7,125.1 451.5,124.5 450.3,125.9 449.1,125.5 447.9,125.9 446.7,125.8 445.5,124.6 444.3,123.6 443.1,125.6 441.9,124.9 440.7,123.6 439.5,126 438.3,123.7 437.1,125.3 435.9,125 434.7,123.3 433.5,124.9 432.3,124.6 431.1,123.3 429.9,123.9 428.7,123.7 427.5,125.1 426.3,124.9 425.1,125.1 423.9,125 422.7,125.4 421.5,123.5 420.3,125.4 419.1,123.5 417.9,125.9 416.7,125.8 415.5,126 414.3,124.9 413.1,124.1 411.9,125.4 410.7,124.8 409.5,124.7 408.3,126.1 407.1,123.4 405.9,123.9 404.7,125.1 403.5,124.6 402.3,125.5 401.1,124.3 399.9,126.1 398.7,124.5 397.5,123.5 396.3,123.9 395.1,123.9 393.9,125.7 392.7,124.7 391.5,124.2 390.3,123.7 389.1,126.1 387.9,123.4 386.7,125.6 385.5,123.9 384.3,125.7 383.1,125.5 381.9,124.7 380.7,124.9 379.5,124.5 378.3,123.9 377.1,124.6 375.9,124.2 374.7,124.1 373.5,124 372.3,125.2 371.1,124.3 369.9,125.6 368.7,124 367.5,124 366.3,123.4 365.1,124.4 363.9,125.2 362.7,126 361.5,123.6 360.3,126 359.1,123.6 357.9,125 356.7,123.9 355.5,124.4 354.3,124.3 353.1,123.8 351.9,123.3 350.7,124.2 349.5,125.3 348.3,124.5 347.1,123.7 345.9,125.3 344.7,124.9 343.5,124.1 342.3,124.2 341.1,124.1 339.9,124.7 338.7,124.6 337.5,124.6 336.3,125.6 335.1,124.9 333.9,125.4 332.7,125 331.5,126 330.3,124.4 329.1,125.7 327.9,125.2 326.7,125.6 325.5,124.1 324.3,125.7 323.1,124.1 321.9,124.8 320.7,124.1 319.5,124.5 318.3,124.6 317.1,125 315.9,124.7 314.7,126 313.5,124.6 312.3,125.4 311.1,123.3 309.9,123.8 308.7,125.1 307.5,125.3 306.3,124.4 305.1,124 303.9,125.3 302.7,123.4 301.5,124.1 300.3,126 299.1,126.1 297.9,126.7 296.7,126.1 295.5,126.4 294.3,125.3 293.1,126.8 291.9,126.4 290.7,126.1 289.5,124.9 288.3,125.8 287.1,127.1 285.9,125.4 284.7,125.3 283.5,125.4 282.3,125.3 281.1,126.3 279.9,124.6 278.7,126.3 277.5,125.2 276.3,126.1 275.1,126.5 273.9,127.2 272.7,126.8 271.5,125.2 270.3,124.7 269.1,126.7 267.9,124.5 266.7,125.8 265.5,124.9 264.3,125.8 263.1,125 261.9,125.3 260.7,125.2 259.5,127.2 258.3,124.6 257.1,124.6 255.9,126.1 254.7,124.7 253.5,126.1 252.3,127 251.1,126.2 249.9,124.4 248.7,123.8 247.5,125.1 246.3,123.5 245.1,125 243.9,124.2 242.7,123.6 241.5,125 240.3,124.2 239.1,123.9 237.9,124.2 236.7,124.6 235.5,124.9 234.3,125.8 233.1,125.1 231.9,124.1 230.7,124.8 229.5,123.7 228.3,124.5 227.1,125.6 225.9,124.7 224.7,125.5 223.5,124.5 222.3,125.5 221.1,126 219.9,123.8 218.7,124.3 217.5,123.4 216.3,125.3 215.1,125.4 213.9,124.5 212.7,125.4 211.5,125.9 210.3,123.4 209.1,124.5 207.9,124.2 206.7,124.9 205.5,125.4 204.3,123.9 203.1,125.4 201.9,124 200.7,125.1 199.5,126.1 198.3,125.1 197.1,125.8 195.9,124.1 194.7,125.6 193.5,124.7 192.3,125 191.1,125.4 189.9,125.7 188.7,123.9 187.5,125.8 186.3,123.9 185.1,123.6 183.9,125.1 182.7,124.6 181.5,123.6 180.3,123.9 179.1,124.6 177.9,125.4 176.7,124.5 175.5,124.2 174.3,125.4 173.1,125.6 171.9,123.7 170.7,130.4 169.5,133.3 168.3,139.2 167.1,141.4 165.9,144.8 164.7,144.8 163.5,146.5 162.3,146.3 161.1,145.6 159.9,146.8 158.7,145.4 157.5,146 156.3,145.9 155.1,145.1 153.9,145.9 152.7,145 151.5,147.2 150.3,145.4 149.1,144.8 147.9,146.2 146.7,145.2 145.5,144.8 144.3,145.5 143.1,147.1 141.9,144.8 140.7,145.1 139.5,145.5 138.3,145.3 137.1,146.6 135.9,145.4 134.7,145.8 133.5,145.4 132.3,144.7 131.1,145.7 129.9,147 128.7,146.5 127.5,145.6 126.3,145.4 125.1,146.1 123.9,147.4 122.7,146 121.5,145.2 120.3,146.5 119.1,147 117.9,146.2 116.7,145.5 115.5,145.4 114.3,147.1 113.1,145.9 111.9,145.4 110.7,145.4 109.5,145.6 108.3,145.6 107.1,147.4 105.9,147.2 104.7,145.1 103.5,147.3 102.3,145.9 101.1,146.3 99.9,146 98.7,146.2 97.5,147.2 96.3,145.3 95.1,144.7 93.9,147 92.7,145.8 91.5,146.9 90.3,147.2 89.1,147.5 87.9,144.8 86.7,147.5 85.5,145.7 84.3,145.1 83.1,145 81.9,145.7 80.7,145.1 79.5,146.5 78.3,144.9 77.1,145.9 75.9,145.1 74.7,147.2 73.5,146.9 72.3,145.5 71.1,147.3 69.9,146.3 68.7,145 67.5,146.7 66.3,145.3 65.1,147 63.9,145.8 62.7,145 61.5,144.9" fill="#000"/>
<polyline points="61.5,141.2 61.7,144.1 61.9,138.7 62.1,141.4 62.3,146.4 62.5,143.8 62.7,146.1 62.9,143.1 63.1,135.9 63.3,145.4 63.5,144.1 63.7,144.1 63.9,135.8 64.1,135.6 64.3,143.4 64.5,142 64.7,144.2 64.9,139.8 65.1,143.4 65.3,143.7 65.5,144.3 65.7,146.7 65.9,139.8 66.1,139.4 66.3,140.9 66.5,141.8 66.7,140.5 66.9,138.6 67.1,140.2 67.3,146.8 67.5,139.1 67.7,143.1 67.9,142.4 68.1,147.2 68.3,134.5 68.5,141 68.7,141.8 68.9,139.1 69.1,136.6 69.3,145.3 69.5,144.7 69.7,145.8 69.9,147.7 70.1,143.6 70.3,144.5 70.5,139.9 70.7,140.5 70.9,137.4 71.1,138.5 71.3,140.2 71.5,136.7 71.7,143.1 71.9,147.7 72.1,144.4 72.3,135 72.5,132.6 72.7,137.9 72.9,145.9 73.1,146.4 73.3,142.8 73.5,143.1 73.7,143.9 73.9,144.2 74.1,144.3 74.3,136.2 74.5,147.1 74.7,145.8 74.9,144.2 75.1,145.4 75.3,135.3 75.5,141.5 75.7,146.1 75.9,137.2 76.1,148.3 76.3,143.4 76.5,144.7 76.7,142.7 76.9,146.6 77.1,139.7 77.3,140.6 77.5,138.9 77.7,145.8 77.9,147.8 78.1,140.5 78.3,137 78.5,141.7 78.7,147.5 78.9,138.3 79.1,147 79.3,137.4 79.5,139.2 79.7,144.6 79.9,143.5 80.1,142.7 80.3,142.8 80.5,144.4 80.7,141.5 80.9,143.3 81.1,145.1 81.3,144.4 81.5,149.8 81.7,143.4 81.9,140.6 82.1,140.8 82.3,140.9 82.5,143.7 82.7,149.2 82.9,132.5 83.1,137.9 83.3,143.1 83.5,140.6 83.7,144.7 83.9,143.3 84.1,140.2 84.3,151.4 84.5,143.5 84.7,141.3 84.9,142 85.1,131.8 85.3,140.3 85.5,146 85.7,137.8 85.9,145.5 86.1,147.9 86.3,135.7 86.5,140.9 86.7,140.9 86.9,144.6 87.1,146.3 87.3,136.7 87.5,144.8 87.7,136.5 87.9,142.9 88.1,146.7 88.3,145.2 88.5,142.7 88.7,141.9 88.9,148 89.1,146.2 89.3,141.1 89.5,145.7 89.7,141.2 89.9,142.7 90.1,144.9 90.3,143 90.5,144.6 90.7,144.5 90.9,138.5 91.1,138.3 91.3,136.6 91.5,147 91.7,145 91.9,142.2 92.1,137.9 92.3,145.1 92.5,148.2 92.7,138.8 92.9,148.1 93.1,134.7 93.3,147.5 93.5,141.8 93.7,139.9 93.9,143.7 94.1,143.8 94.3,146.5 94.5,147.9 94.7,147.7 94.9,141.5 95.1,139.4 95.3,146.1 95.5,147.6 95.7,141.2 95.9,133.5 96.1,140.7 96.3,135.2 96.5,145.3 96.7,142.2 96.9,145.4 97.1,142.5 97.3,147.2 97.5,142 97.7,146.2 97.9,139.6 98.1,145.5 98.3,135.1 98.5,138.1 98.7,134.7 98.9,146.3 99.1,141.5 99.3,142.1 99.5,140 99.7,143.1 99.9,149 100.1,142.4 100.3,141.4 100.5,137.4 100.7,140.1 100.9,146.3 101.1,135.9 101.3,139.9 101.5,142.2 101.7,145.3 101.9,142.8 102.1,137.7 102.3,136.3 102.5,139.8 102.7,138.8 102.9,139.3 103.1,136.4 103.3,141.8 103.5,137.7 103.7,143.6 103.9,139.8 104.1,134.8 104.3,145 104.5,141.2 104.7,133.7 104.9,138.9 105.1,145.2 105.3,145 105.5,144.7 105.7,143.4 105.9,147.3 106.1,144.7 106.3,145.6 106.5,147.2 106.7,141.1 106.9,140.4 107.1,149.6 107.3,135.5 107.5,138.7 107.7,144.8 107.9,149.4 108.1,141.7 108.3,144.3 108.5,145.6 108.7,143.3 108.9,145.3 109.1,142.1 109.3,141.5 109.5,138.3 109.7,140.8 109.9,139 110.1,139 110.3,152.3 110.5,146.5 110.7,144.6 110.9,132.3 111.1,148.6 111.3,143.8 111.5,141.9 111.7,144.2 111.9,134.8 112.1,146.1 112.3,147.2 112.5,149.1 112.7,136.9 112.9,139.7 113.1,143.3 113.3,142.9 113.5,150.3 113.7,146.1 113.9,137.7 114.1,137.1 114.3,148.7 114.5,146 114.7,138.9 114.9,143.2 115.1,134 115.3,139.4 115.5,142 115.7,144.2 115.9,143.9 116.1,143.6 116.3,144.6 116.5,143 116.7,141 116.9,145.2 117.1,139.8 117.3,142.2 117.5,141.8 117.7,142.8 117.9,142.2 118.1,142.9 118.3,143.8 118.5,146.2 118.7,143.9 118.9,141.5 119.1,143.9 119.3,138.5 119.5,138.7 119.7,145 119.9,138.1 120.1,132.2 120.3,138.2 120.5,148.2 120.7,139.3 120.9,144.2 121.1,144.1 121.3,142.9 121.5,147.8 121.7,144.9 121.9,148.5 122.1,145.9 122.3,146.1 122.5,138.1 122.7,141.6 122.9,145 123.1,144.5 123.3,145.7 123.5,141.4 123.7,151.9 123.9,146.9 124.1,141.4 124.3,140.9 124.5,145.5 124.7,145.9 124.9,142.2 125.1,137.8 125.3,142.9 125.5,145.2 125.7,142.3 125.9,145.4 126.1,144.3 126.3,143 126.5,142.4 126.7,138.2 126.9,139.8 127.1,142.2 127.3,136.6 127.5,140.5 127.7,134.6 127.9,144.4 128.1,142 128.3,141.3 128.5,136.8 128.7,149.1 128.9,144.2 129.1,141.5 129.3,135.3 129.5,145.2 129.7,145.8 129.9,135 130.1,142 130.3,135.3 130.5,138.2 130.7,139.8 130.9,136.9 131.1,142.3 131.3,143.1 131.5,147.9 131.7,146.6 131.9,137.2 132.1,140.3 132.3,138.2 132.5,138.1 132.7,144.1 132.9,136.2 133.1,137.5 133.3,142.1 133.5,141.4 133.7,141 133.9,144.9 134.1,143.5 134.3,141.9 134.5,139.6 134.7,141.5 134.9,131.9 135.1,136.5 135.3,143 135.5,142.8 135.7,137 135.9,141.2 136.1,141 136.3,142.1 136.5,139 136.7,141.7 136.9,142 137.1,145 137.3,143.3 137.5,140.8 137.7,139.4 137.9,138 138.1,141.8 138.3,140.3 138.5,142.6 138.7,151 138.9,141 139.1,146.4 139.3,142.7 139.5,146.4 139.7,133.2 139.9,144.5 140.1,151.1 140.3,143.4 140.5,147.1 140.7,145.1 140.9,145.8 141.1,144.1 141.3,138.1 141.5,146.7 141.7,138.3 141.9,143.1 142.1,150.3 142.3,146.6 142.5,142.3 142.7,139.1 142.9,143.2 143.1,144.4 143.3,144.9 143.5,148.5 143.7,142.3 143.9,143.2 144.1,140.6 144.3,147.6 144.5,139.5 144.7,139.6 144.9,144.9 145.1,147.3 145.3,142.2 145.5,139.6 145.7,145.3 145.9,148 146.1,146.5 146.3,140.2 146.5,150.9 146.7,142.2 146.9,145.2 147.1,135.6 147.3,149 147.5,147.4 147.7,137.6 147.9,136.5 148.1,136 148.3,142 148.5,141 148.7,141.7 148.9,138.1 149.1,142.3 149.3,136.7 149.5,144 149.7,141.3 149.9,138.8 150.1,142.8 150.3,140.4 150.5,148.2 150.7,140.4 150.9,139.5 151.1,138.6 151.3,140.9 151.5,143.3 151.7,144.2 151.9,139.5 152.1,142.2 152.3,152.8 152.5,135.1 152.7,140.2 152.9,142.8 153.1,141.3 153.3,143.6 153.5,142.4 153.7,145.1 153.9,135 154.1,138.8 154.3,138.2 154.5,144.6 154.7,139.7 154.9,144.6 155.1,145 155.3,143.4 155.5,136.8 155.7,142.1 155.9,143.9 156.1,140.2 156.3,141.8 156.5,145 156.7,149.3 156.9,140.1 157.1,142.8 157.3,141.6 157.5,148.1 157.7,143.4 157.9,142.1 158.1,142.2 158.3,135.5 158.5,147.7 158.7,145.6 158.9,135.6 159.1,143.9 159.3,143.6 159.5,136.5 159.7,141.4 159.9,147.9 160.1,140 160.3,137.6 160.5,143.5 160.7,148.6 160.9,143.8 161.1,143.1 161.3,150.7 161.5,144.2 161.7,144.3 161.9,138.3 162.1,137.8 162.3,143.3 162.5,143.1 162.7,140.1 162.9,143.9 163.1,141.8 163.3,141.9 163.5,140.9 163.7,146.2 163.9,145.4 164.1,139.3 164.3,142.5 164.5,145 164.7,148 164.9,140.7 165.1,136.5 165.3,142.3 165.5,139.6 165.7,143.6 165.9,137.9 166.1,135.9 166.3,139.5 166.5,143.1 166.7,138.9 166.9,137.2 167.1,139.8 167.3,132.9 167.5,139.5 167.7,135.8 167.9,136.5 168.1,132.9 168.3,135.1 168.5,138.4 168.7,130.8 168.9,132.1 169.1,131.9 169.3,133.7 169.5,126.2 169.7,122.9 169.9,130.4 170.1,135.7 170.3,127.8 170.5,127.2 170.7,128.5 170.9,126.2 171.1,123.2 171.3,113.3 171.5,125.4 171.7,121.1 171.9,124.3 172.1,130.7 172.3,127.9 172.5,120.9 172.7,121 172.9,122.4 173.1,127.2 173.3,131.8 173.5,120.3 173.7,115.9 173.9,127 174.1,121.5 174.3,120.3 174.5,122 174.7,128.2 174.9,142.4 175.1,121.1 175.3,125.2 175.5,119.6 175.7,126.3 175.9,136.2 176.1,124.1 176.3,120.9 176.5,111.2 176.7,130.8 176.9,111.4 177.1,122.6 177.3,139.4 177.5,129.6 177.7,115.7 177.9,121.1 178.1,119.5 178.3,124.9 178.5,121.7 178.7,142 178.9,128.4 179.1,124 179.3,123 179.5,117.2 179.7,141.1 179.9,125.7 180.1,128.9 180.3,130.6 180.5,117.4 180.7,124.7 180.9,129.6 181.1,126.4 181.3,133.4 181.5,122.5 181.7,112.4 181.9,142.7 182.1,116.3 182.3,122.4 182.5,135.1 182.7,130.5 182.9,122.3 183.1,143.5 183.3,117 183.5,118.2 183.7,122.2 183.9,122.5 184.1,123.7 184.3,126.8 184.5,121 184.7,122 184.9,116.8 185.1,117.5 185.3,123.4 185.5,131.3 185.7,117.9 185.9,128.4 186.1,130.2 186.3,128.1 186.5,127.2 186.7,112.4 186.9,131.6 187.1,131.3 187.3,132.4 187.5,125 187.7,121.2 187.9,130.5 188.1,117.2 188.3,113.3 188.5,119.8 188.7,112.5 188.9,129.2 189.1,117.6 189.3,130.9 189.5,135.9 189.7,126.4 189.9,127.5 190.1,126.8 190.3,117.7 190.5,117.6 190.7,120.4 190.9,119.7 191.1,113.8 191.3,121.7 191.5,134.4 191.7,129.2 191.9,114.3 192.1,113.7 192.3,115.4 192.5,116.7 192.7,139.6 192.9,117 193.1,117.4 193.3,119.4 193.5,117.5 193.7,119.9 193.9,139.5 194.1,117.6 194.3,115.8 194.5,125.9 194.7,144.7 194.9,119.8 195.1,133.1 195.3,142.8 195.5,122.6 195.7,113.4 195.9,120.9 196.1,126.1 196.3,111.5 196.5,118.9 196.7,117.9 196.9,120.7 197.1,124.9 197.3,127.4 197.5,125.5 197.7,113.9 197.9,123.7 198.1,142 198.3,117.8 198.5,121.6 198.7,135 198.9,118.3 199.1,132 199.3,120.8 199.5,128.1 199.7,136.9 199.9,119.8 200.1,122.6 200.3,131.8 200.5,111.7 200.7,121.2 200.9,123.9 201.1,120.9 201.3,121.5 201.5,127.2 201.7,132.7 201.9,125.1 202.1,124.7 202.3,139.6 202.5,123.5 202.7,125.5 202.9,130.1 203.1,132 203.3,121.1 203.5,124.4 203.7,115.6 203.9,126.2 204.1,122.9 204.3,143.4 204.5,133.4 204.7,140.4 204.9,119.8 205.1,123.4 205.3,139.6 205.5,123.9 205.7,113.1 205.9,116.8 206.1,120.9 206.3,121.7 206.5,137.6 206.7,138 206.9,112.7 207.1,116.6 207.3,144 207.5,121.2 207.7,120.4 207.9,120.5 208.1,129.6 208.3,112.9 208.5,136.2 208.7,136.9 208.9,132.6 209.1,137.7 209.3,134.8 209.5,121.9 209.7,125.3 209.9,126.1 210.1,126.7 210.3,125.5 210.5,119.1 210.7,138.6 210.9,116.4 211.1,130.4 211.3,140.5 211.5,124.7 211.7,125.4 211.9,121.5 212.1,140.3 212.3,140.6 212.5,128.8 212.7,121.4 212.9,119.3 213.1,123.9 213.3,119.7 213.5,125.9 213.7,124.6 213.9,135.9 214.1,112.8 214.3,119.9 214.5,134.1 214.7,121.7 214.9,126.5 215.1,119.7 215.3,123.8 215.5,115 215.7,126.8 215.9,116 216.1,128.3 216.3,128.7 216.5,117.4 216.7,125 216.9,137.7 217.1,136.1 217.3,118.1 217.5,125.1 217.7,122.7 217.9,124 218.1,118.5 218.3,127.7 218.5,114.7 218.7,139 218.9,124.4 219.1,138.7 219.3,126.1 219.5,112.8 219.7,125.7 219.9,111.8 220.1,119 220.3,114.7 220.5,120.8 220.7,117.1 220.9,123.7 221.1,126.1 221.3,120 221.5,126.6 221.7,131.9 221.9,120.2 222.1,125.4 222.3,120.1 222.5,133.3 222.7,132.5 222.9,121.4 223.1,131.2 223.3,142.6 223.5,114.4 223.7,119.6 223.9,137.7 224.1,137.3 224.3,132.3 224.5,114.1 224.7,125.3 224.9,136.1 225.1,117.6 225.3,131.3 225.5,143.1 225.7,122.5 225.9,139.5 226.1,124.3 226.3,117.1 226.5,143.4 226.7,117.4 226.9,134.2 227.1,133.5 227.3,115.6 227.5,127.3 227.7,131 227.9,125.7 228.1,130.2 228.3,120.3 228.5,113.4 228.7,124.1 228.9,121.7 229.1,133.9 229.3,126.2 229.5,131 229.7,140.3 229.9,132.6 230.1,127.6 230.3,130.1 230.5,140.5 230.7,132.6 230.9,122.4 231.1,128.4 231.3,118.1 231.5,118.9 231.7,121.7 231.9,128.7 232.1,115.5 232.3,136.8 232.5,126.6 232.7,118 232.9,142.5 233.1,126 233.3,128.9 233.5,128.1 233.7,121.4 233.9,121.4 234.1,126.5 234.3,125.6 234.5,139.6 234.7,142.3 234.9,141 235.1,117.5 235.3,133.9 235.5,131.9 235.7,121 235.9,117.6 236.1,117.2 236.3,115 236.5,112 236.7,122.6 236.9,136.9 237.1,130.6 237.3,122.1 237.5,136.3 237.7,120.5 237.9,137.3 238.1,133.5 238.3,111.7 238.5,119.9 238.7,116.3 238.9,130.4 239.1,114.8 239.3,115.5 239.5,140.7 239.7,122.4 239.9,116.5 240.1,111 240.3,139.9 240.5,117.8 240.7,136.3 240.9,124.3 241.1,142.1 241.3,117.7 241.5,122.9 241.7,139.8 241.9,135.7 242.1,136.1 242.3,135.4 242.5,127.3 242.7,132.4 242.9,120.9 243.1,121.9 243.3,130.5 243.5,139.7 243.7,128.2 243.9,113.6 244.1,113.9 244.3,124.5 244.5,124.3 244.7,122.4 244.9,132.1 245.1,116.8 245.3,144.3 245.5,115.6 245.7,119.4 245.9,119 246.1,125.8 246.3,121 246.5,125.8 246.7,120.3 246.9,126.9 247.1,118.4 247.3,138 247.5,138.4 247.7,132.4 247.9,128.1 248.1,138.1 248.3,125.6 248.5,124.9 248.7,121.2 248.9,133 249.1,117.9 249.3,113.6 249.5,124 249.7,130.4 249.9,136.1 250.1,144.7 250.3,135.9 250.5,130.3 250.7,141.9 250.9,125.3 251.1,145.5 251.3,115.8 251.5,125 251.7,136.7 251.9,141.4 252.1,124.6 252.3,115.5 252.5,122 252.7,141.5 252.9,136 253.1,125.6 253.3,143.9 253.5,117.2 253.7,128.3 253.9,144.4 254.1,118.1 254.3,118.1 254.5,118.9 254.7,141.1 254.9,140.6 255.1,115.8 255.3,134.9 255.5,115.5 255.7,118.6 255.9,124.2 256.1,126.6 256.3,118.4 256.5,125.2 256.7,121.9 256.9,141 257.1,119.5 257.3,120.3 257.5,142.8 257.7,115.7 257.9,122.6 258.1,140.5 258.3,145.1 258.5,118.6 258.7,122.9 258.9,142.9 259.1,112.5 259.3,125.9 259.5,132.3 259.7,122.5 259.9,137.6 260.1,138.2 260.3,120.2 260.5,145.8 260.7,122.6 260.9,127.9 261.1,125.6 261.3,139.2 261.5,145.6 261.7,117.9 261.9,122.2 262.1,140.3 262.3,114.2 262.5,121.9 262.7,118.3 262.9,123.7 263.1,121.8 263.3,121.5 263.5,128.7 263.7,142.8 263.9,127.2 264.1,118.7 264.3,142.2 264.5,123.7 264.7,127.2 264.9,118.6 265.1,121.1 265.3,117.9 265.5,129.6 265.7,123.6 265.9,119.5 266.1,117.4 266.3,126.7 266.5,125.8 266.7,138.2 266.9,121.9 267.1,124.2 267.3,146 267.5,126.4 267.7,122.9 267.9,130.1 268.1,131.1 268.3,121.3 268.5,124 268.7,118.5 268.9,112.8 269.1,120.4 269.3,128.2 269.5,121.2 269.7,119 269.9,119.6 270.1,118.1 270.3,136.3 270.5,132.5 270.7,125.8 270.9,131 271.1,142.8 271.3,119 271.5,134 271.7,118.6 271.9,131.6 272.1,118.9 272.3,125.2 272.5,116.6 272.7,118.6 272.9,130.7 273.1,131.9 273.3,125.8 273.5,144.9 273.7,116.1 273.9,115.9 274.1,122.6 274.3,123.4 274.5,125.4 274.7,121.3 274.9,119.9 275.1,136.1 275.3,125.6 275.5,118.2 275.7,118.1 275.9,122.2 276.1,120.5 276.3,142.7 276.5,127.6 276.7,144.5 276.9,123 277.1,113.4 277.3,116.9 277.5,140.7 277.7,113.4 277.9,143.9 278.1,142.4 278.3,125.7 278.5,112.4 278.7,129.3 278.9,120.8 279.1,116.1 279.3,121.8 279.5,127.6 279.7,137.4 279.9,143.2 280.1,129.6 280.3,129.7 280.5,112.7 280.7,129.3 280.9,116.6 281.1,130 281.3,120.9 281.5,144.9 281.7,117.7 281.9,115.9 282.1,123.2 282.3,123.2 282.5,125.5 282.7,136.9 282.9,137.8 283.1,124.2 283.3,133.6 283.5,115.3 283.7,122.7 283.9,125.9 284.1,125.1 284.3,123.6 284.5,134.3 284.7,120.1 284.9,127.5 285.1,124.5 285.3,119.4 285.5,117 285.7,124 285.9,127.2 286.1,120.6 286.3,137 286.5,141.7 286.7,114.3 286.9,140.3 287.1,113.9 287.3,122.2 287.5,136.4 287.7,112.3 287.9,132.7 288.1,143 288.3,131.9 288.5,130.1 288.7,121.8 288.9,132 289.1,123.5 289.3,116.6 289.5,115.8 289.7,136.3 289.9,124.6 290.1,142.1 290.3,128.4 290.5,112.8 290.7,120.6 290.9,112.7 291.1,135.3 291.3,134.8 291.5,114.7 291.7,119.2 291.9,125.5 292.1,118.7 292.3,118.6 292.5,143.1 292.7,134.2 292.9,115.2 293.1,131.1 293.3,124.5 293.5,128.1 293.7,118.6 293.9,138.7 294.1,145.8 294.3,132.8 294.5,116.1 294.7,121.2 294.9,118.9 295.1,118.7 295.3,137.5 295.5,117.1 295.7,125.1 295.9,124.4 296.1,128.2 296.3,115.8 296.5,118.3 296.7,135.2 296.9,123.4 297.1,126.6 297.3,123.3 297.5,115.9 297.7,141.4 297.9,121.1 298.1,121.3 298.3,119 298.5,127.8 298.7,131.3 298.9,117 299.1,126.2 299.3,133.2 299.5,129.3 299.7,127.9 299.9,119.3 300.1,140.4 300.3,114.1 300.5,115.8 300.7,120.3 300.9,118.5 301.1,132.9 301.3,127.9 301.5,119.5 301.7,125.5 301.9,115.8 302.1,122.4 302.3,125.2 302.5,125.1 302.7,121.8 302.9,129.9 303.1,123.3 303.3,125.2 303.5,121.7 303.7,112.3 303.9,126.3 304.1,119.3 304.3,127.3 304.5,133.4 304.7,119.1 304.9,128.3 305.1,135.2 305.3,127.3 305.5,125.7 305.7,114.6 305.9,121.3 306.1,130.8 306.3,134.8 306.5,123.6 306.7,126.6 306.9,125.4 307.1,130.3 307.3,116.4 307.5,119.9 307.7,123 307.9,125.6 308.1,141.5 308.3,117.7 308.5,125.7 308.7,130.1 308.9,128 309.1,130.1 309.3,126.8 309.5,121.7 309.7,138.5 309.9,124.3 310.1,119.7 310.3,123.9 310.5,119.5 310.7,134.8 310.9,128.2 311.1,113.5 311.3,139.5 311.5,119.2 311.7,123.5 311.9,117.2 312.1,125.3 312.3,124.6 312.5,119.7 312.7,140.7 312.9,117.7 313.1,124.1 313.3,137.5 313.5,140.7 313.7,119.7 313.9,131.7 314.1,111.4 314.3,120.9 314.5,140.2 314.7,119.8 314.9,134.2 315.1,123.7 315.3,121.9 315.5,120.1 315.7,137.1 315.9,122.5 316.1,111.4 316.3,118.7 316.5,127.3 316.7,129.7 316.9,134.3 317.1,126.5 317.3,112.8 317.5,125.5 317.7,119.4 317.9,122.5 318.1,122.5 318.3,117.4 318.5,125.7 318.7,121.2 318.9,138.9 319.1,121 319.3,144.3 319.5,125.4 319.7,120.4 319.9,136.5 320.1,143.2 320.3,128.1 320.5,120.7 320.7,126.4 320.9,121.8 321.1,141.1 321.3,126.5 321.5,140.8 321.7,129.6 321.9,122.1 322.1,118.2 322.3,127.9 322.5,116.6 322.7,137.9 322.9,143.5 323.1,115 323.3,125 323.5,126.4 323.7,111.1 323.9,118.9 324.1,118.8 324.3,123.8 324.5,131.7 324.7,121.6 324.9,133.6 325.1,116.1 325.3,113.7 325.5,142.5 325.7,114.5 325.9,121.3 326.1,122.1 326.3,111.1 326.5,141.6 326.7,143.9 326.9,118.8 327.1,116.8 327.3,143.7 327.5,113.8 327.7,117 327.9,126.5 328.1,117.5 328.3,130.5 328.5,131.5 328.7,114.5 328.9,122.4 329.1,134.3 329.3,122.2 329.5,118.3 329.7,114.6 329.9,120.3 330.1,125.5 330.3,114.3 330.5,114.7 330.7,138.1 330.9,125.5 331.1,138.2 331.3,123.2 331.5,131 331.7,139.5 331.9,121 332.1,119.7 332.3,125.2 332.5,121.2 332.7,119.9 332.9,134.6 333.1,141.7 333.3,117.4 333.5,129.9 333.7,137.3 333.9,125.7 334.1,138.2 334.3,119.6 334.5,112.5 334.7,119.9 334.9,137.2 335.1,122.1 335.3,124.2 335.5,125.4 335.7,124.6 335.9,128.9 336.1,130.7 336.3,123.7 336.5,124 336.7,117.9 336.9,114.1 337.1,124.3 337.3,120.7 337.5,137.3 337.7,122.7 337.9,135.7 338.1,118.1 338.3,122.3 338.5,124.4 338.7,127.6 338.9,130.9 339.1,125.1 339.3,121 339.5,111.4 339.7,123.2 339.9,119.5 340.1,118.5 340.3,133.9 340.5,144.6 340.7,115.5 340.9,139.4 341.1,136.2 341.3,141.8 341.5,137.3 341.7,118.7 341.9,138.6 342.1,113.9 342.3,117.6 342.5,119.7 342.7,132.9 342.9,120.9 343.1,123.2 343.3,127.5 343.5,115.4 343.7,121.1 343.9,119.9 344.1,134.4 344.3,129.9 344.5,135.1 344.7,123.5 344.9,130.2 345.1,131.7 345.3,124.8 345.5,111.7 345.7,120.8 345.9,121.5 346.1,119 346.3,141.6 346.5,127 346.7,143.9 346.9,124.9 347.1,141.8 347.3,122.1 347.5,111.9 347.7,142.9 347.9,118.3 348.1,131.2 348.3,129.8 348.5,125.7 348.7,129.8 348.9,114.2 349.1,120.3 349.3,134.7 349.5,124.6 349.7,120.9 349.9,121.8 350.1,125.1 350.3,131.6 350.5,114.3 350.7,136.8 350.9,128.2 351.1,139.2 351.3,129.2 351.5,144.3 351.7,116.5 351.9,111.3 352.1,113.8 352.3,130.3 352.5,127.6 352.7,125.1 352.9,122.3 353.1,124.4 353.3,130.4 353.5,122.2 353.7,120.2 353.9,113.4 354.1,121.2 354.3,133.2 354.5,132.4 354.7,118.4 354.9,125.4 355.1,124.7 355.3,131.2 355.5,124.6 355.7,143.5 355.9,127.6 356.1,120.5 356.3,124.3 356.5,121.1 356.7,116.1 356.9,126.3 357.1,141.7 357.3,120.9 357.5,114.7 357.7,113.9 357.9,121.4 358.1,114.4 358.3,127.3 358.5,130.3 358.7,141.5 358.9,127.8 359.1,112.7 359.3,123.9 359.5,126.2 359.7,125.2 359.9,120.2 360.1,119.5 360.3,138.1 360.5,121.4 360.7,124.3 360.9,116.8 361.1,117.4 361.3,126.6 361.5,129.4 361.7,117.3 361.9,117.1 362.1,126.1 362.3,133.3 362.5,118.5 362.7,130.1 362.9,138.5 363.1,123.9 363.3,120.7 363.5,122 363.7,115.6 363.9,130.3 364.1,134.2 364.3,113.5 364.5,141.8 364.7,131.1 364.9,113.1 365.1,125.1 365.3,121.1 365.5,143 365.7,120.8 365.9,130.6 366.1,121.3 366.3,139.7 366.5,129.6 366.7,134.3 366.9,122.4 367.1,123.8 367.3,141.3 367.5,114.3 367.7,138.7 367.9,120 368.1,114.1 368.3,129.5 368.5,134.2 368.7,117.6 368.9,132.7 369.1,133.7 369.3,116.8 369.5,124.4 369.7,114.8 369.9,127.8 370.1,113.9 370.3,142.3 370.5,124.4 370.7,119 370.9,140.5 371.1,122.2 371.3,133.7 371.5,117.5 371.7,122.9 371.9,137.6 372.1,115.1 372.3,139.1 372.5,118.4 372.7,120.5 372.9,120.3 373.1,121.2 373.3,124.6 373.5,120.3 373.7,125.1 373.9,141.4 374.1,118.2 374.3,112.6 374.5,130.5 374.7,117.8 374.9,121.9 375.1,140.3 375.3,117.5 375.5,126.9 375.7,138 375.9,123.7 376.1,120.9 376.3,115 376.5,139 376.7,117.6 376.9,132.5 377.1,112.2 377.3,132 377.5,114.9 377.7,137.1 377.9,131.2 378.1,119 378.3,139.3 378.5,117 378.7,125.3 378.9,120.9 379.1,116.5 379.3,138 379.5,117.6 379.7,144.8 379.9,141.7 380.1,118.8 380.3,124.2 380.5,128.6 380.7,119.8 380.9,115.5 381.1,123.1 381.3,124.8 381.5,128.2 381.7,116.4 381.9,117.7 382.1,130.4 382.3,127.1 382.5,134.5 382.7,120.1 382.9,117.5 383.1,129.5 383.3,120.1 383.5,140.1 383.7,132.3 383.9,132.1 384.1,124.6 384.3,113.9 384.5,119.1 384.7,134.6 384.9,133.2 385.1,137.2 385.3,119.6 385.5,121.8 385.7,119.2 385.9,122.5 386.1,112.9 386.3,128.2 386.5,137.4 386.7,125.6 386.9,122.6 387.1,118.3 387.3,126.2 387.5,129.6 387.7,126.2 387.9,144.3 388.1,119.4 388.3,127.5 388.5,117.5 388.7,113.2 388.9,113.6 389.1,121.6 389.3,133.8 389.5,119.3 389.7,120.8 389.9,125.2 390.1,112 390.3,134.2 390.5,116.9 390.7,141.1 390.9,121.6 391.1,144 391.3,120.4 391.5,136.7 391.7,116.7 391.9,126.7 392.1,129 392.3,119.4 392.5,139.8 392.7,132.4 392.9,120.3 393.1,125.8 393.3,130.1 393.5,119.8 393.7,119.1 393.9,129.7 394.1,117.2 394.3,122 394.5,114.7 394.7,119.7 394.9,117.1 395.1,114.9 395.3,121.3 395.5,122.4 395.7,133.3 395.9,124 396.1,133 396.3,134.8 396.5,126.2 396.7,124 396.9,116.4 397.1,125 397.3,127.8 397.5,139.7 397.7,121.4 397.9,144.4 398.1,117.1 398.3,129.9 398.5,132.4 398.7,123.9 398.9,117.4 399.1,121 399.3,126.2 399.5,126.2 399.7,121.5 399.9,123 400.1,132.8 400.3,112.7 400.5,138.9 400.7,127.1 400.9,141.1 401.1,125.2 401.3,125.6 401.5,125.9 401.7,143.3 401.9,138.8 402.1,140.1 402.3,131.9 402.5,129 402.7,134 402.9,125.6 403.1,139.8 403.3,119.7 403.5,127.7 403.7,113.6 403.9,138 404.1,121.1 404.3,139.9 404.5,143.4 404.7,131.3 404.9,129.9 405.1,140.9 405.3,123.8 405.5,117.8 405.7,122.1 405.9,132.3 406.1,117.6 406.3,135.9 406.5,123 406.7,132 406.9,140.2 407.1,122.2 407.3,126.8 407.5,123.8 407.7,120 407.9,135.7 408.1,131 408.3,111.2 408.5,121.8 408.7,117.8 408.9,119.1 409.1,132.3 409.3,128.1 409.5,124.2 409.7,123.3 409.9,142.3 410.1,124.9 410.3,132.1 410.5,130.3 410.7,136.2 410.9,142.6 411.1,115.9 411.3,124.6 411.5,137.4 411.7,132.1 411.9,142.2 412.1,120 412.3,142.2 412.5,122.4 412.7,135 412.9,116.5 413.1,128.7 413.3,115.5 413.5,136.6 413.7,137.2 413.9,124.2 414.1,138 414.3,128.6 414.5,139.9 414.7,123.3 414.9,126.4 415.1,126.5 415.3,123.9 415.5,119.8 415.7,123.9 415.9,122.9 416.1,120 416.3,117.4 416.5,118.2 416.7,128.4 416.9,112.2 417.1,139.5 417.3,122.8 417.5,121 417.7,137.1 417.9,128.6 418.1,116.4 418.3,128.3 418.5,124.3 418.7,134.7 418.9,117.1 419.1,128.4 419.3,113 419.5,131.4 419.7,125.5 419.9,115.5 420.1,137.6 420.3,131 420.5,114 420.7,121.9 420.9,117.9 421.1,134 421.3,113.6 421.5,125.9 421.7,114.4 421.9,135 422.1,120.7 422.3,128.5 422.5,139.8 422.7,126.2 422.9,111.7 423.1,138.7 423.3,136.6 423.5,125.8 423.7,137.8 423.9,128.6 424.1,128.5 424.3,121 424.5,144.2 424.7,130.3 424.9,124.8 425.1,129.6 425.3,122.2 425.5,124.1 425.7,140.2 425.9,122.1 426.1,125.5 426.3,118.7 426.5,118.6 426.7,127.3 426.9,140.3 427.1,117.7 427.3,124.1 427.5,115.5 427.7,135.1 427.9,116.4 428.1,120.5 428.3,144.7 428.5,143.9 428.7,122.1 428.9,113.5 429.1,132.3 429.3,120.7 429.5,118.6 429.7,122.3 429.9,133.6 430.1,127 430.3,116 430.5,138.8 430.7,142.9 430.9,138.2 431.1,118.9 431.3,138.2 431.5,128.3 431.7,123.2 431.9,129.2 432.1,124.8 432.3,116.5 432.5,126.4 432.7,124 432.9,110.9 433.1,139.9 433.3,112.4 433.5,125.5 433.7,116.9 433.9,128 434.1,143.5 434.3,131.9 434.5,130.8 434.7,141 434.9,121.8 435.1,130.7 435.3,123.6 435.5,117.7 435.7,134 435.9,115.7 436.1,132.9 436.3,127.2 436.5,123.5 436.7,119 436.9,125.7 437.1,116.6 437.3,117.6 437.5,124.5 437.7,115.7 437.9,138 438.1,122 438.3,137.6 438.5,135.4 438.7,121.5 438.9,130.5 439.1,122.3 439.3,138.7 439.5,114.8 439.7,124.3 439.9,121.3 440.1,128.4 440.3,143.1 440.5,142.9 440.7,121.2 440.9,138 441.1,121.3 441.3,126.4 441.5,117.4 441.7,142.2 441.9,123.8 442.1,133.3 442.3,135.3 442.5,124.9 442.7,118.2 442.9,120 443.1,120.8 443.3,117.3 443.5,127.2 443.7,117.4 443.9,134.3 444.1,120.1 444.3,120 444.5,114.4 444.7,120.9 444.9,144.3 445.1,123.9 445.3,118.9 445.5,119.2 445.7,116.6 445.9,136.6 446.1,138.5 446.3,142.7 446.5,138.1 446.7,118.1 446.9,115 447.1,132 447.3,128.1 447.5,119.1 447.7,123.2 447.9,111 448.1,140.9 448.3,138.9 448.5,120.8 448.7,124.2 448.9,126.4 449.1,115.9 449.3,139.9 449.5,117.4 449.7,129.3 449.9,130.4 450.1,111.1 450.3,116.1 450.5,119.9 450.7,137.5 450.9,125.1 451.1,119.1 451.3,127.8 451.5,118.7 451.7,137.5 451.9,139 452.1,111 452.3,125.8 452.5,121.7 452.7,125.4 452.9,137.6 453.1,119.7 453.3,121.3 453.5,121 453.7,123.7 453.9,137.4 454.1,123.3 454.3,119.7 454.5,132.1 454.7,125.2 454.9,129.9 455.1,124.2 455.3,140.1 455.5,128.6 455.7,124 455.9,122.4 456.1,135.2 456.3,126.7 456.5,130.8 456.7,134.8 456.9,119.7 457.1,127.2 457.3,121.4 457.5,130.4 457.7,128.1 457.9,119.2 458.1,120.6 458.3,128.8 458.5,121 458.7,118.5 458.9,118.4 459.1,124.5 459.3,140.9 459.5,117.9 459.7,119.3 459.9,113.3 460.1,117.1 460.3,121.4 460.5,117.4 460.7,118.4 460.9,134.5 461.1,123.6 461.3,141.7 461.5,141.4 461.7,124.6 461.9,119.4 462.1,122.3 462.3,119.1 462.5,113.1 462.7,118 462.9,121.6 463.1,130.3 463.3,124.6 463.5,120.4 463.7,117.7 463.9,113.1 464.1,116.7 464.3,114.2 464.5,126.1 464.7,143.5 464.9,122.5 465.1,119.6 465.3,142.4 465.5,121 465.7,117.3 465.9,121.7 466.1,131.2 466.3,123.9 466.5,127.7 466.7,114.9 466.9,133.1 467.1,135.9 467.3,124.4 467.5,120.8 467.7,129.5 467.9,118.1 468.1,124.9 468.3,124 468.5,126.1 468.7,114.5 468.9,125.9 469.1,126.9 469.3,126.6 469.5,116.5 469.7,120.2 469.9,117.7 470.1,118.9 470.3,136.9 470.5,143.8 470.7,124 470.9,119.6 471.1,120.1 471.3,141.7 471.5,114.7 471.7,140.2 471.9,133.5 472.1,135.2 472.3,142.4 472.5,127 472.7,123.4 472.9,134.8 473.1,119.9 473.3,113.6 473.5,118.4 473.7,136 473.9,113.6 474.1,123.9 474.3,113.6 474.5,126.4 474.7,119.3 474.9,111.2 475.1,113.7 475.3,127.7 475.5,130.3 475.7,125.4 475.9,121.4 476.1,123.3 476.3,117.9 476.5,122.7 476.7,143.4 476.9,131.9 477.1,120.2 477.3,126.4 477.5,120.9 477.7,139.3 477.9,136.4 478.1,127 478.3,129.1 478.5,122.7 478.7,141.8 478.9,127.1 479.1,116.8 479.3,121.1 479.5,120.9 479.7,123.8 479.9,120.3 480.1,124 480.3,126 480.5,118.8 480.7,124.2 480.9,118.3 481.1,121.1 481.3,121.6 481.5,137.7 481.7,129.9 481.9,117 482.1,134.6 482.3,122 482.5,119.7 482.7,127.7 482.9,117.8 483.1,126.9 483.3,140.1 483.5,127.7 483.7,118.6 483.9,117.2 484.1,119.2 484.3,119 484.5,114.7 484.7,124.2 484.9,127.5 485.1,117.6 485.3,116.9 485.5,119.5 485.7,118.6 485.9,121.6 486.1,143.8 486.3,129.3 486.5,114.7 486.7,125.1 486.9,118.9 487.1,141.9 487.3,116.9 487.5,120.6 487.7,119.9 487.9,125.4 488.1,116.8 488.3,118.3 488.5,127.5 488.7,121.1 488.9,130.5 489.1,111.5 489.3,135.9 489.5,116.3 489.7,122.1 489.9,128 490.1,129.1 490.3,119.9 490.5,139.4 490.7,117.5 490.9,127.9 491.1,125.5 491.3,121.8 491.5,121.6 491.7,112.3 491.9,123.4 492.1,116.1 492.3,125.8 492.5,120.5 492.7,142.5 492.9,111.2 493.1,128.8 493.3,113.3 493.5,125.8 493.7,126.2 493.9,129.8 494.1,120.7 494.3,126.1 494.5,129.5 494.7,124.5 494.9,115.5 495.1,134.9 495.3,123.8 495.5,135.6 495.7,143.6 495.9,124.3 496.1,115.8 496.3,119.6 496.5,121.9 496.7,131.3 496.9,142.1 497.1,128 497.3,138.4 497.5,140.4 497.7,119 497.9,125.9 498.1,116.1 498.3,130 498.5,126 498.7,138.8 498.9,136.7 499.1,118.1 499.3,134.3 499.5,116.1 499.7,127.4 499.9,120.8 500.1,122.3 500.3,121.5 500.5,118.5 500.7,120.7 500.9,143.7 501.1,118.6 501.3,142.3 501.5,111.7 501.7,129.3 501.9,134.9 502.1,133.7 502.3,115.6 502.5,136.9 502.7,118.8 502.9,137.6 503.1,123.2 503.3,131.8 503.5,131.7 503.7,114.8 503.9,130.2 504.1,119.9 504.3,140.1 504.5,131.8 504.7,118.9 504.9,113.4 505.1,118.2 505.3,125.5 505.5,115 505.7,144.8 505.9,139.9 506.1,124.3 506.3,141.7 506.5,118.6 506.7,127.2 506.9,142.4 507.1,133.5 507.3,134.6 507.5,116.8 507.7,114.2 507.9,116.4 508.1,115.2 508.3,123.8 508.5,138.8 508.7,120.9 508.9,118.8 509.1,142.5 509.3,138.9 509.5,138 509.7,120.6 509.9,143 510.1,124.2 510.3,119.6 510.5,126 510.7,113.9 510.9,129.8 511.1,128 511.3,122.6 511.5,129.1 511.7,123.7 511.9,119.2 512.1,124.4 512.3,115.4 512.5,133 512.7,132.6 512.9,121.4 513.1,144 513.3,121.9 513.5,118.1 513.7,131 513.9,122.2 514.1,123.9 514.3,116.5 514.5,142.9 514.7,118.3 514.9,136.9 515.1,143.6 515.3,139.8 515.5,137.2 515.7,121.9 515.9,134.3 516.1,121.5 516.3,140.1 516.5,115 516.7,122.3 516.9,130.1 517.1,111.4 517.3,132.8 517.5,117.4 517.7,123.7 517.9,116.1 518.1,116.5 518.3,126.3 518.5,126.4 518.7,124.1 518.9,126.1 519.1,123.2 519.3,138.2 519.5,143.5 519.7,142.9 519.9,121.7 520.1,120.7 520.3,114.3 520.5,124.7 520.7,144.2 520.9,116.8 521.1,121.3 521.3,121.3 521.5,122.7 521.7,144.1 521.9,124.9 522.1,131.9 522.3,120.8 522.5,126.6 522.7,123.2 522.9,117.6 523.1,125.1 523.3,113.6 523.5,115.4 523.7,135.5 523.9,123 524.1,126.9 524.3,134.6 524.5,118.5 524.7,117 524.9,133.6 525.1,124.2 525.3,131.4 525.5,134.8 525.7,131.3 525.9,143.7 526.1,118.9 526.3,139.9 526.5,140.5 526.7,137.5 526.9,122.6 527.1,128.3 527.3,133 527.5,122 527.7,139 527.9,120.2 528.1,134.9 528.3,135.2 528.5,121.1 528.7,119.3 528.9,123.3 529.1,128.2 529.3,136.6 529.5,118.2 529.7,119.3 529.9,118.6 530.1,143.4 530.3,131.7 530.5,140.2 530.7,132.3 530.9,132.7 531.1,120.8 531.3,124.5 531.5,134.2 531.7,125.8 531.9,130.6 532.1,119 532.3,117.5 532.5,142.2 532.7,117.2 532.9,138.4 533.1,121.6 533.3,121.5 533.5,119.3 533.7,116.1 533.9,124.2 534.1,128.1 534.3,127.5 534.5,139.4 534.7,134 534.9,132 535.1,119.2 535.3,140.2 535.5,138.8 535.7,143.9 535.9,126.4 536.1,134.5 536.3,121.7 536.5,115 536.7,122.4 536.9,135.2 537.1,123.2 537.3,144.4 537.5,118.7 537.7,144 537.9,118.1 538.1,120 538.3,117.9 538.5,137.4 538.7,117.7 538.9,136.2 539.1,112 539.3,129.1 539.5,128 539.7,124.7 539.9,118.7 540.1,117.4 540.3,137 540.5,137.2 540.7,123.8 540.9,120.1 541.1,111.1 541.3,120.4 541.5,120.6 541.7,123.9 541.9,123.5 542.1,126.4 542.3,128.4 542.5,133.6 542.7,124.1 542.9,144.3 543.1,120.1 543.3,128.5 543.5,117.6 543.7,144.7 543.9,136 544.1,134.4 544.3,124.5 544.5,128.2 544.7,121.8 544.9,140.1 545.1,122.4 545.3,131.4 545.5,117.8 545.7,118.7 545.9,127.9 546.1,127.9 546.3,121.9 546.5,121 546.7,140.9 546.9,114.9 547.1,135.6 547.3,118.5 547.5,123.4 547.7,116.3 547.9,111.4 548.1,122.3 548.3,119.8 548.5,137.9 548.7,117.1 548.9,136.6 549.1,123.5 549.3,124.6 549.5,116.1 549.7,120.6 549.9,117.1 550.1,125.1 550.3,123.8 550.5,115.6 550.7,121.3 550.9,144.7 551.1,122.1 551.3,116.7 551.5,117.2 551.7,123.7 551.9,110.9 552.1,125.3 552.3,115 552.5,112.5 552.7,126.3 552.9,117.3 553.1,117.3 553.3,137.7 553.5,144.2 553.7,125.5 553.9,118.4 554.1,116.2 554.3,118.2 554.5,130.4 554.7,128.6 554.9,125.3 555.1,136.3 555.3,123.7 555.5,138.1 555.7,117.2 555.9,124.2 556.1,144.7 556.3,125.7 556.5,135.2 556.7,136.5 556.9,134.7 557.1,117.7 557.3,118 557.5,127.5 557.7,123.6 557.9,114.9 558.1,119.7 558.3,116.5 558.5,133.6 558.7,119 558.9,133.5 559.1,120 559.3,140.5 559.5,113.1 559.7,124 559.9,117.3 560.1,127.2 560.3,125.1 560.5,136.7 560.7,136.3 560.9,120.3 561.1,133.8 561.3,144 561.5,127.7 561.7,121.5 561.9,122.3 562.1,115.6 562.3,113.3 562.5,141.2 562.7,132 562.9,116.2 563.1,126.8 563.3,141.3 563.5,124.9 563.7,117 563.9,130.6 564.1,115.2 564.3,132 564.5,124.1 564.7,121.2 564.9,116.9 565.1,124.8 565.3,136 565.5,125.7 565.7,121.4 565.9,142.6 566.1,117.1 566.3,118.6 566.5,118.6 566.7,133.5 566.9,125 567.1,116.2 567.3,126.2 567.5,127.9 567.7,127.9 567.9,130.6 568.1,128.4 568.3,132.8 568.5,124.5 568.7,121.4 568.9,141 569.1,115.8 569.3,125.4 569.5,132 569.7,125.1 569.9,116.9 570.1,122 570.3,121.6 570.5,119.6 570.7,126.5 570.9,115 571.1,117 571.3,127.3 571.5,130.2 571.7,128.7 571.9,123.8 572.1,119.9 572.3,134 572.5,117.8 572.7,126.4 572.9,119.2 573.1,136.9 573.3,115.6 573.5,121.9 573.7,132.3 573.9,130.6 574.1,125.6 574.3,133.2 574.5,117 574.7,119.6 574.9,137.6 575.1,119.7 575.3,116.2 575.5,125.9 575.7,114.1 575.9,119.4 576.1,119 576.3,139.6 576.5,112.3 576.7,139 576.9,117.1 577.1,111.1 577.3,136.7 577.5,120.1 577.7,128.4 577.9,126.7 578.1,133.7 578.3,120.2 578.5,132 578.7,137.5 578.9,123.2 579.1,119 579.3,122 579.5,125.6 579.7,121.3 579.9,119.5 580.1,132 580.3,128.7 580.5,140.3 580.7,127.6 580.9,128.1 581.1,134.4 581.3,119.6 581.5,132.3 581.7,117.3 581.9,128.7 582.1,140.8 582.3,119.7 582.5,130.5 582.7,114.9 582.9,117.7 583.1,138.8 583.3,130.2 583.5,117.7 583.7,117.2 583.9,132.7 584.1,112.7 584.3,125.2 584.5,130.1 584.7,125.2 584.9,115.8 585.1,127.4 585.3,117.8 585.5,128.1 585.7,134.4 585.9,136.1 586.1,124.6 586.3,140.4 586.5,113.6 586.7,126.9 586.9,116.4 587.1,118.9 587.3,120.7 587.5,122.6 587.7,124.8 587.9,114.7 588.1,114.9 588.3,124 588.5,121.3 588.7,116.8 588.9,129.2 589.1,127.6 589.3,136.6 589.5,116.5 589.7,137.5 589.9,115.7 590.1,119.1 590.3,141.7 590.5,120.8 590.7,122.2 590.9,119.7 591.1,124.3 591.3,138.3 591.5,120.9 591.7,121.2 591.9,118.9 592.1,115.4 592.3,131.4 592.5,131 592.7,128 592.9,115.4 593.1,112.8 593.3,124.3 593.5,123.4 593.7,134.6 593.9,114.4 594.1,118.7 594.3,141.6 594.5,144.3 594.7,117.5 594.9,132.6 595.1,117.5 595.3,119.6 595.5,115.6 595.7,124.1 595.9,116.2 596.1,129.8 596.3,119.5 596.5,129.2 596.7,112.5 596.9,118.4 597.1,124.1 597.3,130.5 597.5,117.7 597.7,123.2 597.9,118 598.1,116.8 598.3,129.5 598.5,140.8 598.7,120.4 598.9,128.6 599.1,124.3 599.3,112.9 599.5,121.7 599.7,117.4 599.9,142.3 600.1,120.4 600.3,131.5 600.5,129.1 600.7,138 600.9,122.2 601.1,120.1 601.3,124 601.5,123.4 601.7,123.5 601.9,122.6 602.1,117.3 602.3,131.5 602.5,122 602.7,121.3 602.9,131.3 603.1,141.5 603.3,119.9 603.5,119.3 603.7,128.6 603.9,117 604.1,129 604.3,116.7 604.5,125 604.7,133.2 604.9,123.8 605.1,113.2 605.3,128.5 605.5,142.2 605.7,143.4 605.9,123.4 606.1,135.7 606.3,125.6 606.5,120.7 606.7,126.6 606.9,119.2 607.1,113.3 607.3,119.4 607.5,125.4 607.7,124.4 607.9,124 608.1,115.8 608.3,138.7 608.5,131.2 608.7,133.6 608.9,139.5 609.1,132.5 609.3,127.9 609.5,138.1 609.7,140.8 609.9,128.4 610.1,120 610.3,122.7 610.5,137 610.7,114.7 610.9,118.7 611.1,119.9 611.3,127.6 611.5,129.6 611.7,129.1 611.9,120.4 612.1,115.8 612.3,121.1 612.5,123.1 612.7,120.2 612.9,125 613.1,133.4 613.3,123.8 613.5,123.9 613.7,120.2 613.9,124 614.1,140.3 614.3,134.4 614.5,126.2 614.7,116.5 614.9,134.9 615.1,136.1 615.3,142.9 615.5,134.7 615.7,123.7 615.9,119.4 616.1,136.5 616.3,143.3 616.5,132.1 616.7,112.9 616.9,124.3 617.1,128 617.3,123.7 617.5,117.8 617.7,144.7 617.9,112.6 618.1,126.6 618.3,126.6 618.5,120.9 618.7,115.6 618.9,131.4 619.1,139.6 619.3,127.8 619.5,117.5 619.7,121 619.9,144.7 620.1,120.5 620.3,121.2 620.5,115.2 620.7,144 620.9,123.9 621.1,123.7 621.3,119.9 621.5,115.8 621.7,115.6 621.9,120 622.1,125.6 622.3,141.7 622.5,139.1 622.7,124.3 622.9,117.4 623.1,140.7 623.3,130.7 623.5,121.1 623.7,116.2 623.9,111.4 624.1,142.7 624.3,144.6 624.5,138.3 624.7,136 624.9,113.9 625.1,113.4 625.3,124 625.5,121.6 625.7,140.1 625.9,120 626.1,121.6 626.3,114.2 626.5,125.9 626.7,143.7 626.9,117.6 627.1,120.5 627.3,126.6 627.5,139.4 627.7,124 627.9,113.1 628.1,121.1 628.3,111.4 628.5,119.9 628.7,122.5 628.9,119.5 629.1,116.7 629.3,123.4 629.5,115.3 629.7,140.3 629.9,127.4 630.1,125.2 630.3,139.4 630.5,129.6 630.7,142.9 630.9,120.8 631.1,137.4 631.3,134.7 631.5,120.8 631.7,127.9 631.9,137.1 632.1,124.9 632.3,139.3 632.5,123 632.7,132.5 632.9,122.4 633.1,122.2 633.3,119.5 633.5,125.1 633.7,125 633.9,117.3 634.1,115.1 634.3,121.1 634.5,139.7 634.7,113.4 634.9,126.6 635.1,120.1 635.3,123.4 635.5,123.9 635.7,115.8 635.9,143.3 636.1,114.5 636.3,128.2 636.5,112.8 636.7,117.2 636.9,110.9 637.1,115.8 637.3,142.2 637.5,124.2 637.7,129.2 637.9,116.4 638.1,115.2 638.3,142.5 638.5,132.8 638.7,126 638.9,131.4 639.1,124.1 639.3,140.5 639.5,124.1 639.7,127.4 639.9,132.6 640.1,138.4 640.3,123.1 640.5,120.5 640.7,114.6 640.9,136.2 641.1,117.6 641.3,114.3 641.5,111 641.7,118.8 641.9,123.6 642.1,135.3 642.3,115.5 642.5,115.3 642.7,134.6 642.9,122.6 643.1,121.4 643.3,142.1 643.5,121.5 643.7,117.3 643.9,118.3 644.1,116.4 644.3,140.5 644.5,124.6 644.7,127.6 644.9,122.5 645.1,136 645.3,118.5 645.5,121.6 645.7,122.3 645.9,130 646.1,131 646.3,126.9 646.5,137.1 646.7,113.9 646.9,117.5 647.1,121.6 647.3,139.6 647.5,129.1 647.7,127.1 647.9,129 648.1,130.1 648.3,134.9 648.5,121.3 648.7,124.2 648.9,115.8 649.1,129.4 649.3,120.8 649.5,134.4 649.7,121.1 649.9,117.8 650.1,118.5 650.3,139.2 650.5,132 650.7,137 650.9,138.4 651.1,119.7 651.3,123.6 651.5,120.2 651.7,116.5 651.9,125.6 652.1,120.8 652.3,124.8 652.5,143.3 652.7,120.8 652.9,128.2 653.1,143.8 653.3,115.7 653.5,114.4 653.7,123.8 653.9,129.2 654.1,122.9 654.3,119.2 654.5,121.9 654.7,132.1 654.9,123.1 655.1,112.8 655.3,129.9 655.5,139.8 655.7,125.4 655.9,125.3 656.1,142.1 656.3,125.9 656.5,127.8 656.7,112.3 656.9,127 657.1,131.7 657.3,126.9 657.5,124.3 657.7,122.2 657.9,117.1 658.1,141.5 658.3,122.1 658.5,121.1 658.7,129.8 658.9,117.1 659.1,130 659.3,113.3 659.5,118.6 659.7,139.4 659.9,135.5 660.1,122.3 660.3,138.3 660.5,120.4 660.7,124.4 660.9,130.8 661.1,132.6 661.3,129.1 661.5,117.7 661.7,137.2 661.9,111 662.1,143.8 662.3,119.3 662.5,124 662.7,131.9 662.9,115.7 663.1,123.1 663.3,119.6 663.5,126.2 663.7,120.6 663.9,124.7 664.1,117.9 664.3,123.8 664.5,131.6 664.7,124.8 664.9,141 665.1,124.4 665.3,117.2 665.5,112.5 665.7,123.3 665.9,118.4 666.1,116.2 666.3,142.2 666.5,127.4 666.7,122 666.9,120.1 667.1,122.4 667.3,124.1 667.5,137.7 667.7,119 667.9,127.2 668.1,135.4 668.3,126.5 668.5,123.5 668.7,125.6 668.9,138.8 669.1,139.6 669.3,114.5 669.5,136.6 669.7,135.2 669.9,112.9 670.1,115.5 670.3,114.5 670.5,115.5 670.7,118 670.9,125.1 671.1,122.2 671.3,114.3 671.5,120.8 671.7,143.3 671.9,121.4 672.1,116.2 672.3,125.7 672.5,140 672.7,115.8 672.9,116.9 673.1,141.5 673.3,125.5 673.5,144.4 673.7,125.8 673.9,122.8 674.1,137 674.3,111.8 674.5,135.8 674.7,117.9 674.9,125.7 675.1,119 675.3,118.2 675.5,112.4 675.7,119.5 675.9,129.7 676.1,119.5 676.3,119.8 676.5,136.3 676.7,122.5 676.9,126.6 677.1,121.2 677.3,116.6 677.5,128.6 677.7,126.3 677.9,114.1 678.1,123.5 678.3,122.3 678.5,131.2 678.7,115.7 678.9,142.5 679.1,111.5 679.3,122.5 679.5,133.8 679.7,125.3 679.9,126 680.1,132.4 680.3,116.9 680.5,118.2 680.7,117.8 680.9,125.1 681.1,122.3 681.3,129.6 681.5,126.8 681.7,120.2 681.9,139.8 682.1,125.5 682.3,123.8 682.5,120.6 682.7,135.2 682.9,116.7 683.1,139 683.3,128.2 683.5,125.6 683.7,130.2 683.9,129 684.1,124.8 684.3,123.9 684.5,112.2 684.7,129 684.9,125.7 685.1,130.1 685.3,113.8 685.5,123.8 685.7,133.5 685.9,121.9 686.1,119.7 686.3,117.1 686.5,138.4 686.7,132.6 686.9,120.5 687.1,123.6 687.3,125.8 687.5,124.3 687.7,137.5 687.9,118.5 688.1,129.4 688.3,115.4 688.5,119.4 688.7,121.8 688.9,134.4 689.1,121.2 689.3,142.9 689.5,134 689.7,134.9 689.9,119.5 690.1,126.3 690.3,124.7 690.5,119.2 690.7,142 690.9,115.1 691.1,121.2 691.3,115.7 691.5,124.3 691.7,125.9 691.9,115.4 692.1,130.1 692.3,131.2 692.5,139.1 692.7,130.3 692.9,129.2 693.1,120.3 693.3,121.7 693.5,133.9 693.7,134.1 693.9,120.6 694.1,125.3 694.3,118.6 694.5,137.6 694.7,124.5 694.9,116.6 695.1,121.1 695.3,118.9 695.5,111.7 695.7,131.1 695.9,116.5 696.1,139.6 696.3,129.1 696.5,130.4 696.7,137.4 696.9,114.5 697.1,133.9 697.3,123.9 697.5,138.1 697.7,118.1 697.9,130.6 698.1,136.6 698.3,125.2 698.5,124.6 698.7,122.8 698.9,126.1 699.1,132.1 699.3,117.4 699.5,130 699.7,143.7 699.9,140.7 700.1,123.2 700.3,140.9 700.5,127.5 700.7,123.3 700.9,120.6 701.1,116.3 701.3,129.1 701.5,137.5 701.7,132.6 701.9,116.4 702.1,121.9 702.3,114.1 702.5,141.3 702.7,133 702.9,120.1 703.1,125.5 703.3,126.2 703.5,118.2 703.7,124.4 703.9,129.7 704.1,124.7 704.3,140.6 704.5,128.5 704.7,113.1 704.9,112.4 705.1,111.2 705.3,129.4 705.5,123.2 705.7,130.3 705.9,143.2 706.1,119.9 706.3,124 706.5,123.2 706.7,119.9 706.9,127.8 707.1,136.7 707.3,119.8 707.5,117.9 707.7,126.7 707.9,112.6 708.1,143 708.3,116.5 708.5,137 708.7,131.3 708.9,141.2 709.1,120.7 709.3,124.1 709.5,114.4 709.7,117 709.9,117.9 710.1,118.9 710.3,120.4 710.5,119.1 710.7,141.5 710.9,120.9 711.1,116.3 711.3,118.6 711.5,144.3 711.7,121.8 711.9,120.3 712.1,129.6 712.3,119.3 712.5,117.1 712.7,119.9 712.9,126.8 713.1,118 713.3,125.4 713.5,137 713.7,123.9 713.9,132.7 714.1,113.5 714.3,131.6 714.5,111.7 714.7,134.5 714.9,124.1 715.1,117.1 715.3,116.8 715.5,144.8 715.7,113.8 715.9,127.2 716.1,122 716.3,120.7 716.5,113 716.7,143.1 716.9,124.2 717.1,121.6 717.3,113.9 717.5,122.9 717.7,130.2 717.9,134.2 718.1,118.1 718.3,117.9 718.5,117.7 718.7,127 718.9,140.3 719.1,121.4 719.3,110.9 719.5,142.8 719.7,137.7 719.9,117.6 720.1,123.2 720.3,129.3 720.5,117.8 720.7,116.5 720.9,129.1 721.1,140.4 721.3,124.6 721.5,124.9 721.7,125.6 721.9,124.2 722.1,124.2 722.3,116.7 722.5,125.6 722.7,115.6 722.9,121.6 723.1,144.5 723.3,143 723.5,125 723.7,127.6 723.9,114.9 724.1,119.2 724.3,133.2 724.5,133.7 724.7,129.8 724.9,121.5 725.1,137.8 725.3,138.6 725.5,131.3 725.7,124.9 725.9,120.2 726.1,122.4 726.3,138.5 726.5,140.7 726.7,127.6 726.9,131 727.1,124.7 727.3,143.2 727.5,126.1 727.7,119.5 727.9,111.6 728.1,136.3 728.3,139.7 728.5,124.7 728.7,126.6 728.9,120.1 729.1,125.8 729.3,120.4 729.5,120.8 729.7,120.9 729.9,121 730.1,118.9 730.3,123.1 730.5,138.6 730.7,117.8 730.9,123.8 731.1,118.7 731.3,116.6 731.5,120.8 731.7,117.2 731.9,135.9 732.1,117.5 732.3,127.1 732.5,121.4 732.7,126.6 732.9,122.8 733.1,140.8 733.3,127 733.5,128.3 733.7,119.7 733.9,126.8 734.1,121.8 734.3,117.8 734.5,112.1 734.7,127.3 734.9,117.2 735.1,123.5 735.3,136.7 735.5,122.2 735.7,117.4 735.9,118.6 736.1,125 736.3,127.9 736.5,133.9 736.7,123.9 736.9,114.7 737.1,144.5 737.3,136.3 737.5,144.1 737.7,127.4 737.9,132 738.1,119.7 738.3,127.5 738.5,113.3 738.7,144.6 738.9,140 739.1,118.9 739.3,132.1 739.5,117.4 739.7,116.3 739.9,119.5 740.1,120.9 740.3,116 740.5,114.7 740.7,121.2 740.9,121.3 741.1,118.5 741.3,112.6 741.5,125.7 741.7,121.7 741.9,123.8 742.1,114.4 742.3,136.4 742.5,140.7 742.7,128.9 742.9,114.3 743.1,122.7 743.3,128.7 743.5,130.5 743.7,122.6 743.9,119.4 744.1,111 744.3,122.2 744.5,138 744.7,125.6 744.9,130.2 745.1,132.6 745.3,132.8 745.5,126.5 745.7,124.3 745.9,141.5 746.1,126.6 746.3,115.2 746.5,120.2 746.7,133.5 746.9,135.4 747.1,128.2 747.3,126.4 747.5,123.4 747.7,132.4 747.9,117.3 748.1,123.8 748.3,143.3 748.5,144.4 748.7,118 748.9,123.1 749.1,142.5 749.3,142.1 749.5,117.4 749.7,114.8 749.9,126.8 750.1,121.3 750.3,125.2 750.5,127.5 750.7,127.6 750.9,120.8 751.1,123.7 751.3,130.2 751.5,124.2 751.7,122.3 751.9,132.1 752.1,123.2 752.3,116.4 752.5,123.2 752.7,144 752.9,121.6 753.1,139.2 753.3,110.8 753.5,125.6 753.7,123.9 753.9,141.4 754.1,128.3 754.3,124.1 754.5,125.5 754.7,142.3 754.9,135.7 755.1,117.2 755.3,118 755.5,120 755.7,119.7 755.9,122 756.1,116.8 756.3,135 756.5,130.5 756.7,114.4 756.9,136.3 757.1,118.3 757.3,113.3 757.5,119.4 757.7,140.5 757.9,114 758.1,120.7 758.3,116.8 758.5,133.3 758.7,124.7 758.9,143.3 759.1,125 759.3,122.8 759.5,137.3 759.7,116.1 759.9,122.6 760.1,135.1 760.3,121.3 760.5,123.3 760.7,134.9 760.9,134.5 761.1,132.6 761.3,111.4 761.5,117.8 761.7,122.3 761.9,115.1 762.1,139.2 762.3,125.2 762.5,136.7 762.7,117.7 762.9,112.3 763.1,124.4 763.3,124.2 763.5,118.5 763.7,136.5 763.9,125.1 764.1,112.5 764.3,124.9 764.5,123.9 764.7,126 764.9,141.8 765.1,118.9 765.3,119.8 765.5,119.8 765.7,136.5 765.9,139.3 766.1,111.4 766.3,117.5 766.5,126.6 766.7,134.1 766.9,133.1 767.1,121 767.3,116.5 767.5,113.3 767.7,122.9 767.9,124.7 768.1,124 768.3,128.4 768.5,114.2 768.7,124.4 768.9,135.9 769.1,113.7 769.3,117 769.5,125.8 769.7,133.5 769.9,133.1 770.1,121.4 770.3,124.1 770.5,131.4 770.7,136.7 770.9,123.5 771.1,136.6 771.3,138.7 771.5,122.9 771.7,141 771.9,117.2 772.1,124.4 772.3,114.6 772.5,124.8 772.7,117.3 772.9,134 773.1,116.6 773.3,127.4 773.5,128.6 773.7,117.4 773.9,118.1 774.1,112.5 774.3,130.4 774.5,120.7 774.7,141.4 774.9,125.3 775.1,119.4 775.3,114.1 775.5,112 775.7,121.7 775.9,124.9 776.1,116.1 776.3,130.4 776.5,111 776.7,120 776.9,119.9 777.1,144 777.3,139.8 777.5,138.1 777.7,112.4 777.9,136.1 778.1,117.8 778.3,128.9 778.5,124.6 778.7,126.6 778.9,127.9 779.1,124.6 779.3,114 779.5,115.2 779.7,128.6 779.9,115.1 780.1,123.2 780.3,131.8 780.5,123.9 780.7,124.4 780.9,126.1 781.1,115.9 781.3,115.5 781.5,123.4 781.7,126.9 781.9,117.9 782.1,124.3 782.3,130.4 782.5,129.1 782.7,116.2 782.9,131.4 783.1,128.9 783.3,114.5 783.5,136.7 783.7,117.5 783.9,119.9 784.1,119.2 784.3,127.8 784.5,118.2 784.7,123.9 784.9,128.1 785.1,137.2 785.3,132 785.5,124.7 785.7,123.8 785.9,125.1 786.1,141.6 786.3,119.7 786.5,121.2 786.7,133.5 786.9,143.9 787.1,143.5 787.3,124.1 787.5,122.5 787.7,135.9 787.9,115.5 788.1,118.3 788.3,120 788.5,134.9 788.7,128.9 788.9,127.3 789.1,134.5 789.3,124.1 789.5,112.4 789.7,122.6 789.9,118.8 790.1,126.4 790.3,119.8 790.5,117.1 790.7,111.3 790.9,117.6 791.1,117.7 791.3,119.6 791.5,123.8 791.7,130.7 791.9,134.4 792.1,127.9 792.3,120.6 792.5,118.8 792.7,118.2 792.9,136.8 793.1,117.8 793.3,133 793.5,124.3 793.7,117.1 793.9,124.7 794.1,122.8 794.3,126.6 794.5,135.9 794.7,143.6 794.9,125.6 795.1,135.5 795.3,117 795.5,144 795.7,129.8 795.9,137.3 796.1,115.7 796.3,136.7 796.5,111.9 796.7,124.5 796.9,121.1 797.1,125.1 797.3,120.9 797.5,115.8 797.7,134.4 797.9,133.4 798.1,115.2 798.3,120.2 798.5,134.2 798.7,119.3 798.9,124.2 799.1,141.6 799.3,123.1 799.5,140.2 799.7,118.8 799.9,132.2 800.1,124.2 800.3,131 800.5,121.4 800.7,130.3 800.9,124.5 801.1,128.8 801.3,111.2 801.5,122.9 801.7,121.7 801.9,133.6 802.1,117.1 802.3,123.8 802.5,118.8 802.7,125.5 802.9,113.8 803.1,118.1 803.3,135.6 803.5,119.9 803.7,119.1 803.9,115 804.1,120 804.3,134.6 804.5,124.4 804.7,130.6 804.9,114.7 805.1,126.5 805.3,126.4 805.5,126.4 805.7,113 805.9,127.1 806.1,120.9 806.3,123.9 806.5,118.8 806.7,124 806.9,111.1 807.1,126.6 807.3,142.3 807.5,133.9 807.7,122.7 807.9,121.2 808.1,134.9 808.3,125.1 808.5,133.4 808.7,127.8 808.9,131.2 809.1,135.1 809.3,124 809.5,134.3 809.7,129.6 809.9,115.1 810.1,124.8 810.3,116.6 810.5,122.9 810.7,123.3 810.9,138.5 811.1,118.9 811.3,123.9 811.5,136.2 811.7,113.6 811.9,124.7 812.1,118.3 812.3,142 812.5,119.2 812.7,124.8 812.9,137.4 813.1,111.7 813.3,144.7 813.5,134.9 813.7,137.1 813.9,114.4 814.1,120.4 814.3,137.7 814.5,133.5 814.7,137 814.9,127.2 815.1,111.1 815.3,120.6 815.5,126.9 815.7,140 815.9,128.2 816.1,130.5 816.3,111.2 816.5,123.4 816.7,120.9 816.9,128.1 817.1,137.2 817.3,120.1 817.5,117.6 817.7,137.5 817.9,118 818.1,118.3 818.3,125.9 818.5,125.6 818.7,117.8 818.9,122.1 819.1,139.9 819.3,119.7 819.5,110.9 819.7,130.9 819.9,128.3 820.1,116.2 820.3,142 820.5,126.8 820.7,138.3 820.9,112.1 821.1,116.1 821.3,117.5 821.5,116.5 821.7,131.1 821.9,114.7 822.1,142.2 822.3,120.5 822.5,125.7 822.7,122.9 822.9,141.5 823.1,144.6 823.3,123.1 823.5,117.8 823.7,126.3 823.9,121.8 824.1,122.2 824.3,121.7 824.5,141.9 824.7,122.9 824.9,125 825.1,114.8 825.3,127.5 825.5,139 825.7,124.7 825.9,123.5 826.1,118.5 826.3,136.2 826.5,136 826.7,121.1 826.9,139.6 827.1,114.3 827.3,116.5 827.5,116.9 827.7,114.2 827.9,127.3 828.1,114.3 828.3,132.4 828.5,133.6 828.7,137.3 828.9,119.9 829.1,119.6 829.3,116.4 829.5,138.5 829.7,126.3 829.9,143.8 830.1,123.6 830.3,140.1 830.5,124.5 830.7,125.5 830.9,142.3 831.1,139.3 831.3,120.5 831.5,121.1 831.7,122.5 831.9,124.2 832.1,119.6 832.3,118.1 832.5,139 832.7,128.9 832.9,120.2 833.1,136.7 833.3,119 833.5,111 833.7,119.7 833.9,138.8 834.1,138.9 834.3,120.1 834.5,125 834.7,124.2 834.9,128.8 835.1,126.3 835.3,127.4" fill="none" stroke="#000" stroke-width="0.45" stroke-linejoin="round" stroke-linecap="butt" filter="url(#bl)"/>
<polyline points="835.4,124 837,128.3 844.3,139.2 849.2,146.5 853.5,152.6 859.6,153.8 866.9,149.6 868.1,153.8 870.5,164.8 873.6,167.8 877.8,164.8 883.9,163 887,160 896.1,156.9 897.3,161.7 899.1,167.8 902.2,170.3" fill="none" stroke="#000" stroke-width="2.6" stroke-linejoin="round" stroke-linecap="butt" />
<polyline points="835.4,122.2 835.8,125.6 836.2,127.6 836.6,126.5 837,126.3 837.4,128.7 837.7,130.1 838.1,131.6 838.5,128.7 838.8,129.1 839.2,132.6 839.6,132.8 839.9,135 840.3,134.7 840.6,133.6 841,133.9 841.4,138.7 841.7,135 842.1,134.8 842.5,134.8 842.8,137.2 843.2,137.8 843.6,137.6 843.9,138.6 844.3,139.6 844.6,140.8 845,141.9 845.4,141.1 845.7,138.6 846,142.9 846.4,140.2 846.8,142.6 847.1,141.2 847.5,143.9 847.8,143.2 848.1,145.3 848.5,150.4 848.9,145.9 849.2,147.8 849.6,145 849.9,147.1 850.3,149 850.6,148.4 851,149.6 851.4,149.7 851.7,148.5 852.1,151.4 852.4,149.9 852.8,154.4 853.1,151.3 853.5,153.6 853.9,152.7 854.2,154.2 854.6,151.9 854.9,154.4 855.3,152.8 855.7,154.9 856,154 856.4,153.4 856.7,152.1 857.1,154.5 857.4,154.1 857.8,155.9 858.2,153 858.5,154.4 858.9,154.4 859.2,154.2 859.6,154.1 860,153.9 860.3,152.5 860.7,151.6 861.1,152.4 861.4,153.6 861.8,154.8 862.2,153.8 862.5,153.7 862.9,153.1 863.2,152.7 863.6,151.8 864,152.4 864.3,153.7 864.7,150.4 865.1,149.6 865.4,153.4 865.8,150.6 866.2,151.5 866.5,151.1 866.9,147.9 867.3,154.7 867.7,155.1 868.1,154.1 868.5,156.8 868.9,157.7 869.3,158 869.7,161 870.1,163.5 870.5,166.5 870.9,166.2 871.3,165.6 871.7,168 872,165.2 872.4,167.9 872.8,168.7 873.2,167 873.6,165.1 874,166.2 874.4,167.6 874.7,167.8 875.1,169 875.5,164.9 875.9,166.2 876.3,166.9 876.7,165.4 877,161.8 877.4,166.3 877.8,168.3 878.2,166.2 878.5,163.2 878.9,163.9 879.2,164.7 879.6,168 880,165.1 880.3,164.2 880.7,166.3 881,163.7 881.4,166.5 881.7,162.6 882.1,162.8 882.5,164.5 882.8,165.5 883.2,164.2 883.5,163.6 883.9,160.3 884.3,161.6 884.7,161.3 885.1,161.1 885.5,162.4 885.8,160.6 886.2,161.9 886.6,160.5 887,159.5 887.4,160.1 887.7,160.4 888,160.9 888.4,158.8 888.8,159.1 889.1,157.2 889.5,161.6 889.8,161.2 890.1,158.7 890.5,158.1 890.9,156.8 891.2,158.8 891.5,158.8 891.9,161.6 892.2,158.6 892.6,156.9 893,154.3 893.3,160 893.6,158 894,155.2 894.4,157.8 894.7,155 895.1,162.5 895.4,158.8 895.8,157.9 896.1,156.6 896.5,155.3 896.9,159.9 897.3,159.4 897.7,163.8 898,160.9 898.4,164 898.7,168.4 899.1,170.3 899.5,166.3 899.9,166.1 900.3,170.1 900.7,170.3 901,167.9 901.4,168.6 901.8,168.9 902.2,168.5" fill="none" stroke="#000" stroke-width="0.8" stroke-linejoin="round" stroke-linecap="butt" />
<polyline points="61.9,105.4 63.5,105.2 65,103.3 66.5,103.4 68.1,101.9 69.7,101.1 71.2,101.3 72.9,102 74.6,103.5 76.3,105.4 78,107.2 79.9,104.4 81.8,102.5 83.4,101.9 85,102.3 86.6,102.4 88.2,102.1 89.8,102.1 91.7,103.6 93.6,105.9 95.2,104.2 96.9,102.5 98.5,101 100.2,100.4 101.8,101.2 103.5,101.4 105,102.7 106.6,102.9 108.2,104.2 109.7,104.4 111.6,102 113.5,98 115.3,98.1 117.2,99.1 119.1,97.1 120.9,98.3 122.8,98.7 124.7,98.9 126.6,98.1 128.4,97 130.2,98.1 132.1,98.4 133.6,97.7 135.1,97.2 136.6,96.5 138.1,96.5 139.6,95.6 141.2,97.6 142.7,97.3 144.2,98.8 145.8,99.9 147.4,98.3 148.9,99.2 150.4,95.9 152,95.9 153.6,96.1 155.2,97.5 156.8,96.1 158.4,98 160,97.4 161.6,98.1 163.2,98.2 164.9,97.4 166.5,95.1 168.2,94.2 169.8,93.3 171.3,92.9 172.8,89.7 174.4,90.6 175.9,90.4 177.5,89.9 179.1,90.4 180.6,90.2 182.4,91.6 184.3,91.2 186.2,90.1 188,89.1 189.9,88.2 192.1,89 194.3,89.4 196,91.9 197.6,90.9 199.3,91.1 200.9,92.8 202.6,92.8 204.2,93.1 206.1,93.6 207.9,94.5 209.8,95.6 212,94.3 214.2,92.1 215.9,91.3 217.7,91.7 219.4,90.2 221.2,88.6 222.9,89.5 224.6,89.6 226.4,89.8 228.1,90.5 229.9,92.1 231.6,92.5 233.3,90.1 234.9,87.7 236.6,85.8 238.2,86.2 239.9,85 241.5,84.1 243.2,84.7 245,83.9 246.7,83.8 248.5,83.5 250.2,82.3 252.1,77.3 254,72.4 255.6,71 257.3,71.1 258.9,70.6 260.6,70.4 262.2,70.6 263.9,71.1 266.4,66.4 268.1,66.2 269.7,66.2 271.4,65.8 273.2,66.8 275.1,67 276.9,68.7 278.8,69.3 280.4,68.2 281.9,67.2 283.4,67.9 285,68 286.5,67.2 288,67.4 289.5,67.5 291,68.3 292.5,67.6 294.2,68.3 295.9,67.3 297.6,67.6 299.3,66.8 301.2,69 303,70.6 304.9,73.3 306.6,74.5 308.2,76.1 309.9,76.9 311.4,75.5 313,75.1 314.6,74.4 316.1,72.9 317.8,73.8 319.4,74.9 321.1,76.5 322.7,76.2 324.2,75.3 325.8,75.8 327.3,75.3 328.9,75.8 330.6,77.4 332.2,77.8 333.8,75.5 335.4,74.3 336.9,73 338.5,70.9 340.4,72 342.2,73.3 343.9,73.8 345.5,76.5 347.2,78.4 349.1,77.6 350.9,76.1 352.8,76.3 354.6,75.1 356.3,75.7 357.9,75.6 359.6,75.3 361.3,74.7 362.9,74.7 364.6,75.3 366.2,74.7 367.9,75.5 369.6,75.8 371.2,75.6 372.9,77.1 374.5,76.1 376,77.6 377.5,75.9 379,76.1 380.5,78.1 382,78.3 383.7,76.2 385.3,74.6 387,72 388.6,73.4 390.3,73.9 391.9,75.1 393.6,76.4 395.2,76.7 396.9,77.6 398.4,76.9 400,76.9 401.6,77 403.1,76.6 404.6,77.2 406.2,76 407.8,77.2 409.3,75.6 411,77.2 412.8,77 414.5,78.8 416.3,78.6 418,79.4 419.7,77.9 421.3,75.6 423,73.8 424.6,73.5 426.2,75.4 427.8,74.7 429.4,75 431,75.6 432.6,76.8 434.2,75.2 435.8,76.3 437.3,76.1 438.9,76.6 440.4,75.6 441.9,76.3 443.5,77 445.1,77.5 446.6,77.6 448.2,76.5 449.7,77.1 451.3,77.2 452.9,76.7 454.4,76.8 456,78.1 457.5,78 459.1,77.9 460.7,78.3 462.2,76.9 463.8,77.3 465.3,76.8 466.9,76.4 468.4,76.4 469.9,75.9 471.5,75.6 473.1,76.4 474.6,78 476.1,77.7 477.7,79.1 479.2,78.6 480.8,77.8 482.4,78.1 483.9,76.9 485.4,77.6 487,76.3 488.6,76.2 490.1,76.3 491.7,76.4 493.2,76.3 494.8,76.1 496.3,75.4 497.9,74.9 499.5,75.5 501,75.2 502.6,74.4 504.1,75.2 505.7,74.7 507.2,74 508.8,74.5 510.5,73.9 512.3,74.3 514,75.2 515.8,74.5 517.5,75.5 519.1,74.6 520.7,75.3 522.3,74.3 523.8,74.5 525.4,73.4 527,73.7 528.6,74.1 530.2,74.4 531.7,73.8 533.3,75.7 534.9,76.2 536.4,76.2 538,77.6 539.5,76.9 541.1,78 542.8,78 544.4,77.6 546,77.1 547.7,75.4 549.4,74.5 551,75.1 552.5,74.4 554,75.3 555.5,75 557,76.4 558.5,76.6 560,76.7 561.5,76.7 563,76.9 564.5,77 566,77.6 567.5,77.3 569,77.2 570.5,76.6 572,77.5 573.6,76.5 575.1,76.8 576.6,76.6 578.1,75.3 579.6,74.7 581.1,76.6 582.6,76.3 584.1,77 585.6,77.4 587.1,78.1 588.8,76.4 590.4,75.9 592.1,74.7 594,75.7 595.8,75.3 597.6,77.6 599.5,78.2 601,76.9 602.5,77.2 604,77.3 605.5,77.4 607,76.8 608.7,76.4 610.3,74.7 612,73.1 613.6,74.7 615.3,76.9 616.9,77.7 618.5,78.2 620.1,78.2 621.6,77.8 623.2,77.8 624.8,77 626.4,77 628,76.5 629.6,76.3 631.1,75.7 632.7,76 634.3,75.6 635.9,75.6 637.4,76.6 639,77 640.5,76.9 642.1,78 643.7,78 645.2,78.3 646.8,77.7 648.4,76.8 650.1,77.4 651.8,76.9 653.4,76.7 655.1,76.1 656.7,76.1 658.4,75.4 660.2,75.8 661.9,75.1 663.7,74.3 665.4,75.3 667.1,76.9 668.7,75.9 670.4,77.9 672.1,76.2 673.7,75.5 675.4,74.9 677.1,75.5 678.9,75.4 680.6,76.5 682.4,77.1 684.1,77.8 685.6,76.9 687.2,77.9 688.8,77.9 690.3,78 691.9,75.9 693.4,76.5 695,75.3 696.5,76.3 698,76.5 699.6,75.7 701.1,75.6 702.7,76.5 704.2,76.9 705.8,76.2 707.4,76.6 708.9,75.5 710.5,76.4 712,76.7 713.6,76.6 715.1,77.2 716.7,75.8 718.3,75.1 719.8,76.4 721.4,75.8 722.9,76.4 724.4,76.7 725.9,76.8 727.4,77.3 729,77.4 730.5,76 732,76.9 733.5,78.1 735,77 736.5,77.5 738.1,76.9 739.6,76.5 741.1,77.4 742.7,77 744.2,76.2 746,76.9 747.9,75.8 749.7,76.2 751.5,77.2 753,76 754.6,74.6 756.1,74.6 757.6,75.3 759.2,76.6 760.7,77.2 762.3,76.5 763.9,76.3 765.5,76.5 767,76.4 768.6,77.1 770.2,77.2 771.8,77 773.3,76.2 774.9,75.5 776.4,75.8 777.9,74.9 779.5,74.8 781,73.6 782.6,74.1 784.2,74.9 785.8,73.5 787.4,73.2 789,73.8 790.6,74.6 792.2,74.3 793.8,73.3 795.6,74.3 797.5,75.5 799.4,76.1 801.2,77.6 803,76.6 804.9,75.3 806.7,74.9 808.5,74.3 810,73.6 811.6,73.1 813.1,73.7 814.6,73.8 816.2,72.3 817.7,71.9 819.3,73.1 821,73.4 822.6,73.8 824.2,75.6 825.7,72.7 827.3,71.1 828.8,69.5 830.6,69.8 832.5,70.6 834.3,71.5 836.1,72.4 838,69.9 839.8,67.5 841.3,66.9 842.9,67.5 844.4,67 845.9,64.3 847.5,61.6 849,58 850.8,57.2 852.7,56.3 854.5,56 856.1,56.1 857.7,55.5 859.3,55.7 860.9,56.4 862.4,56.4 864,58.2 865.5,59.1 867.1,60.5 868.7,60 870.3,60 871.9,59.9 873.8,62.4 875.6,64.9 877.3,65.2 878.9,67.3 880.6,68.6 882.2,68.8 883.9,71.1 885.7,72.4 887.5,72.7 889.4,74.7 891.2,76.1 893.1,76.2 894.9,76.8 896.8,76.1 898.3,77.4 899.9,78.3 901.4,79.4 903,81.5" fill="none" stroke="#b020b0" stroke-width="3.8" stroke-linejoin="round" stroke-linecap="butt" />
<text x="741" y="104.6" font-size="27" text-anchor="start" fill="#b020b0" ><tspan>n</tspan><tspan font-size="18" dy="7">e0</tspan><tspan dy="-7" font-weight="normal" dx="1"> (</tspan><tspan>10</tspan><tspan font-size="18" dy="-10" dx="2.5">19</tspan><tspan dy="10" dx="1">m</tspan><tspan font-size="18" dy="-10" dx="1.5">-3</tspan><tspan dy="10" dx="1.5" font-weight="normal">)</tspan></text>
<line x1="742" y1="82" x2="756" y2="82" stroke="#b020b0" stroke-width="2"/>
<text x="459" y="174.1" font-size="27.5" text-anchor="start" fill="#000" >T<tspan font-size="19" dy="7">e0</tspan><tspan dy="-7">(keV)</tspan></text>
<polyline points="62.4,354.2 74.8,352.2 84.8,358.7 93.5,359.2 103.4,348 112.1,325.6 120.8,319.4 130.8,297 140.7,318.7 149.4,289.6 159.3,296.5 168,275.1 178,290.8 187.9,279.6 196.6,273.4 205.3,270.4 215.3,249.3 225.2,282.8 233.9,285.8 243.9,277.9 252.6,294 261.3,294 271.2,288.3 281.2,282.8 291.1,292.8 299.8,282.8 308.5,301.5 318.5,310 327.2,289.6 337.1,300.8 345.8,303.2 355.8,288.3 365.7,302.5 374.4,285.1 384.4,298.3 393.1,289.1 404.2,294 412.9,290.8 421.7,303.2 431.6,299 440.3,290.3 449,284.6 458.9,290.8 460,290.8 468.7,307 477.4,284.1 487.3,296.5 497.3,288.3 506,284.6 515.9,296.5 524.6,293.3 534.1,283.3 543.3,301.5 553.2,289.1 562.4,295.8 571.4,279.6 581.8,290.8 590.5,296.5 600.5,287.1 609.2,287.1 618.6,304 628.6,303.2 637,269.7 646.5,289.6 656.4,295.3 665.1,284.1 674.3,295.3 683.8,275.1 693.7,282.1 702.4,284.6 712.4,274.6 721.6,261 731,269.7 741,278.4 749.7,286.6 758.4,270.9 768.3,284.1 777,263.5 787,268.4 796.9,269.7 805.6,274.1 815.5,278.4 824.2,260.2 834.2,268.9 842.9,310 852.8,319.4" fill="none" stroke="#000" stroke-width="3.2" stroke-linejoin="round" stroke-linecap="butt" />
<text x="443" y="340.3" font-size="27.5" text-anchor="start" fill="#000" >T<tspan font-size="19" dy="7">i0</tspan><tspan dy="-7">(keV)</tspan></text>
<polyline points="61.7,541 63.4,532.3 65.3,530.3 67.1,525.4 68.7,526 70.2,524.2 71.8,525.5 73.3,524.4 75.8,526.3 77.5,526.9 79.1,529.1 80.8,530.3 82.7,528.4 84.5,527.3 86.2,525.3 87.9,524.7 89.5,524.2 91.2,526 92.8,528 94.5,531.8 96.1,529.3 97.8,527.6 99.5,526.8 101.3,527.1 103.2,527.8 104.8,525.9 106.4,525.5 108.2,514.3 110.6,484.6 113.1,486.1 115,488.8 116.9,489.3 118.5,489.5 120.2,491.8 121.8,489.8 123.5,490.1 125.1,490.3 126.8,490.8 129.3,492.6 130.8,491.3 132.4,492.7 134,491.6 135.5,491.2 137.4,489.5 139.2,487.1 140.9,487.6 142.5,487.5 144.2,489 146.7,494.8 148.6,492 150.4,489.7 152,490.6 153.5,490.6 155.1,489.9 156.6,490.4 158.5,487.6 160.4,483.2 162,473.5 163.7,464.3 165.3,454.6 167.2,438.5 169.1,421.2 171.6,415.9 173.2,412.5 174.9,409.4 176.5,408 179,411.3 180.7,410.7 182.3,410.9 184,411.2 185.5,411.2 187.1,412.7 188.6,414 190.2,413 192.1,417 193.9,421.5 195.6,418 197.2,416.8 198.9,415.6 200.8,414.9 202.6,414 204.4,423.7 206,423.5 207.6,419.7 209.2,419.9 210.7,419.9 212.3,418.7 213.8,419 215.5,417.4 217.1,417.7 218.8,414.4 220.5,413.9 222.1,413.1 223.8,412.7 226.3,418.9 227.8,419.4 229.4,419.1 230.9,418.6 232.5,421.2 235,414.5 236.4,415 237.9,414 239.4,413.6 240.9,414 242.4,412.7 244.3,409.9 246.1,406.8 247.8,409.4 249.5,412.3 251.1,413.3 252.6,413.9 254.1,413.6 255.6,413.9 257.1,413.8 258.6,414.2 261.1,415.9 263.6,411.7 265.2,412 266.9,413.7 268.5,414 270.2,413.9 271.8,413.7 273.5,412.2 275,413.8 276.5,415 278,414.6 279.5,416 281,416 282.8,413 284.7,412 286.2,412.1 287.8,413.4 289.3,413.8 290.9,415.1 293.4,418.6 295.3,424.8 297.1,428.1 298.8,427.5 300.4,427.6 302.1,428.5 303.5,428.7 305,428.4 306.4,428.2 307.9,426.5 309.3,426.8 310.8,428.1 312.2,427.5 313.6,426.5 314.9,426.9 316.3,426.6 317.7,427 319.1,428.3 320.5,427.5 321.8,428.4 323.2,427.9 324.6,426.8 326,427.3 327.4,429 328.7,427.1 330.1,426.9 331.5,428.2 332.9,427.5 334.3,427.3 335.7,428.2 337,426 338.4,427.1 339.8,426 341.2,425.6 342.6,425.7 343.9,426.7 345.3,425.7 346.7,424.4 348.1,424.6 349.5,426.7 350.9,426.9 352.3,426 353.8,428.6 355.2,427.4 356.6,427.3 358,428.5 359.4,429 360.7,429.3 362.1,428.8 363.5,427.8 364.8,427.6 366.2,427 367.5,427.7 368.9,427.3 370.2,427.7 371.6,426.6 372.9,427 374.3,427 375.7,427.1 377.1,427.4 378.5,427.8 379.9,428 381.2,429.3 382.6,429.3 384,428.7 385.4,430.1 386.8,430.2 388.1,431.2 389.5,430.5 390.9,430.8 392.3,430.7 393.7,431.5 395,432 396.4,432.1 397.8,432.1 399.3,431.5 400.8,430.1 402.3,429.1 403.8,427.3 405.3,426.9 406.8,426.8 408.3,427.5 409.7,428.7 411.2,430.5 412.7,430.4 414.2,429.5 415.6,429.1 417,429.5 418.4,429.5 419.8,429.1 421.3,428 422.7,427.9 424.1,427.6 425.4,427.6 426.8,427.3 428.2,427.6 429.6,426.5 431,427.1 432.3,428.1 433.7,427.2 435.1,428.1 436.5,427.1 437.9,427.7 439.3,428.3 440.6,427.5 442,427.8 443.4,429.8 444.8,428 446.2,428 447.5,428.2 448.9,428.5 450.3,428.4 451.7,428.9 453.1,428.7 454.5,427.9 455.8,427.8 457.2,427.1 458.6,427 460,427.3 461.5,428.1 463,427.7 464.5,428 466,428 467.5,427.2 469,429.1 470.4,428 471.9,428.4 473.4,429 474.9,430.5 477.4,423.5 478.8,422.9 480.2,423.4 481.5,423.7 482.9,422.7 484.3,422.4 485.7,423.1 487.1,422.8 488.5,422.6 489.8,421.4 491.2,422.2 492.6,422.4 494,421.3 495.4,423.3 496.7,422.9 498.1,422.8 499.5,424.6 500.9,423.5 502.3,423.1 503.6,423.3 505,423.5 506.4,423.5 507.8,422.8 509.2,422.1 510.6,422 511.9,421.7 513.3,421.4 514.7,421.8 516.1,422 517.5,422.8 518.8,422.7 520.2,423.2 521.6,424.1 523,424.4 524.4,425.8 525.7,425 527.1,426.2 528.6,425.3 530.1,423.8 531.6,424.3 533.1,423.2 534.6,421 536,422.9 537.4,423.3 538.7,422.5 540.1,424.2 541.5,423.5 542.9,422.9 544.3,424.2 545.6,423.9 547,423.5 548.4,422.8 549.8,424 551.2,423.2 552.5,423.8 553.9,423.4 555.3,422.7 556.7,422.4 558.1,423.6 559.5,423.4 560.9,422.5 562.4,421.6 563.9,421 565.4,421.1 566.9,422.1 569.4,427.1 570.8,426.3 572.2,425.5 573.7,426 575.1,425.1 576.5,425.4 577.9,425.5 579.3,425.5 580.8,424.3 582.2,423.3 583.6,423 585,423.4 586.4,421.8 587.9,420.1 589.3,421.3 590.9,421.3 592.6,424.1 594.3,422.5 595.7,423 597.1,423.2 598.5,423.9 599.9,423.6 601.4,423.3 602.8,423.4 604.2,424.7 605.6,424.2 606.9,423.9 608.3,425.3 609.6,424.2 611,424.1 612.3,422.9 613.7,423.1 615.1,422.5 616.4,422.2 617.8,422.6 619.1,422.2 620.5,422.1 621.8,422 623.2,421.1 624.5,421.6 625.9,422.3 627.3,421.9 628.6,421.7 630,422.4 631.3,421.7 632.7,421.9 634,422.9 635.7,421.4 637.4,421.9 639,420.7 640.4,421.4 641.9,422.2 643.3,420.7 644.7,422.6 646.1,422.4 647.5,423.5 649,424.2 650.4,424.8 651.8,423.7 653.2,424.5 654.6,422.9 656.1,422.9 657.5,422.7 658.9,422.9 660.3,422.5 661.7,422.4 663,422.8 664.4,422.4 665.8,424.2 667.2,424.1 668.6,424.1 670,424.3 671.3,423.9 672.7,423.9 674.1,424.5 675.5,423.3 676.9,423.2 678.2,424.4 679.6,424.3 681,423.3 682.4,423.3 683.8,422.9 685.2,423.6 686.5,422.4 687.9,422.7 689.3,422.9 690.7,423.4 692.1,422.3 693.4,422.6 694.8,422.1 696.2,421.9 697.6,422.1 699,422.6 700.3,423.3 701.7,422.5 703.1,422.6 704.5,422.9 705.9,423.5 707.3,423.9 708.6,422.8 710.1,424.1 711.5,423.7 712.9,425.1 714.3,424.4 715.7,424.7 717.2,425.3 718.6,426 720.2,423.8 721.9,422.9 723.6,421.2 725,421.3 726.4,421.6 727.8,422.1 729.2,421.3 730.7,422 732.1,422.1 733.5,421.1 735.2,423.8 736.8,424.3 738.5,425.6 740,425.3 741.5,425.1 742.9,424.8 744.4,424.4 745.9,423.1 747.3,423.6 748.7,423.1 750.1,422.3 751.5,422.1 752.8,422.3 754.2,421.7 755.6,421.5 757,420.8 758.4,421 759.7,421.9 761.1,421.2 762.5,420.2 763.9,422.5 765.3,421.4 766.6,421.2 768,420.8 769.4,422.8 770.8,423.5 772.3,424.1 773.8,423.9 775.3,425.6 776.8,425.4 778.2,425.7 779.8,423.9 781.4,421.8 782.9,419.6 784.5,417.6 785.9,416.9 787.4,419.9 788.8,419.5 790.3,421.1 791.7,421 793.2,422.4 794.6,422 796,421 797.4,422 798.9,422 800.3,420.8 801.7,420 803.1,420.7 804.8,419.5 806.4,419 808.1,417.8 809.5,419.1 811,418.7 812.4,418.4 813.9,418.9 815.3,417.4 816.8,418.8 818,414.3 820.5,432.2 823,464.8 824.9,470.9 826.7,477.6 828.3,480.3 829.8,484.7 831.4,488.1 832.9,491.9 834.6,493 836.3,493.4 837.9,494.6 839.5,493.8 841,493.8 842.6,492.5 844.1,492.1 846.6,519.6 848.3,523 849.9,527.5 851.6,532.4 854.1,537.3 854.8,552" fill="none" stroke="#000" stroke-width="3.0" stroke-linejoin="round" stroke-linecap="butt" />
<text x="434" y="494" font-size="27.5" text-anchor="start" fill="#000" >W<tspan font-size="19" dy="7">MHD</tspan><tspan dy="-7">(kJ)</tspan></text>
<polyline points="61.7,729.1 108.2,729.1" fill="none" stroke="#000" stroke-width="3.0" stroke-linejoin="round" stroke-linecap="butt" />
<polyline points="108.2,729.1 109.4,706.5 110.6,667.6 112.4,648.5 114.4,645 115.6,645.5 116.9,645.5 118.1,646.5 119.3,646.9 120.6,646.3 121.8,647.2 123.1,648.5 124.3,648.2 125.4,647.4 126.4,646.4 127.5,646.7 128.6,645.9 129.6,646 130.7,645.9 131.8,643.4 132.8,645 133.9,644 135,644.4 136,644.2 137.1,645.9 138.2,645.6 139.2,645.4 140.3,644.3 141.4,643.6 142.4,644.3 143.5,644.5 144.6,644.1 145.6,644.5 146.7,643.6 147.9,644.7 149.2,643.5 150.4,644 151.7,642.3 152.9,643.1 154.2,643.8 155.4,646.2 156.6,645.4 157.9,643.7 159.1,642.9 160.4,638.7 161.6,634.8 162.9,631.2 164.1,626.3 165.3,623.2 166.6,620.2 167.8,616.6 169.1,613.6 170.3,608.2 171.6,603.1 172.8,601 174,597.5 175.3,597.4 176.4,596.7 177.5,597.7 178.5,597.1 179.6,597.1 180.7,596.9 181.8,597.1 182.9,595.9 184,596.1 185.1,598.4 186.2,598 187.3,597.6 188.4,597.8 189.5,598 190.6,600.9 191.7,599.1 192.8,598.9 193.9,598.6 195.2,597.6 196.4,599.8 197.7,601 198.9,601 200,600.4 201,599.7 202.1,599.2 203.2,600.1 204.2,599.7 205.3,599 206.4,601.1 207.6,599.7 208.9,600.7 210.1,599.9 211.3,603.6 212.4,601.8 213.5,601.5 214.5,601.5 215.6,600.3 216.7,600.1 217.7,600.4 218.8,599.2 219.9,599.9 221,600.4 222.1,599.9 223.2,600.2 224.3,599.8 225.4,600.1 226.5,598.9 227.6,598.8 228.7,597.5 230,599.3 231.2,599.9 232.5,601.5 233.5,600.5 234.5,601.2 235.6,602.6 236.6,599.8 237.7,600.5 238.7,600.3 239.8,599 240.9,599.2 242,598.8 243.1,599.3 244.2,598.2 245.3,600.4 246.4,598.9 247.5,598.9 248.6,599.4 249.7,598.6 250.8,597.2 251.9,597.3 253.1,596.8 254.2,596.6 255.3,596.9 256.4,594.4 257.5,594.4 258.6,595.1 259.7,596.1 260.8,595.8 261.9,596.4 263,597.8 264.1,597.9 265.2,597.7 266.3,598 267.4,597.5 268.5,599.4 269.8,598.5 271,597.1 272.3,597.6 273.5,596.3 274.6,596.5 275.7,595.7 276.8,597.8 277.9,596.8 279,597.8 280.1,597.9 281.2,597.5 282.3,598.1 283.4,598.1 284.5,598 285.5,598.3 286.5,597.6 287.6,598.5 288.6,598 289.7,596.9 290.7,598 291.7,597.3 292.8,597.9 293.8,595.7 294.8,597.6 295.9,595.6 297.1,608.6 298.4,616.7 299.6,620.2 300.8,625.9 302.1,626.8 303.3,628.6 304.6,631.6 305.8,634.1 306.9,633.6 307.9,632.9 309,632.6 310.1,632.8 311.1,634.1 312.2,632.8 313.3,632.3 314.3,632.6 315.4,632.2 316.5,632.1 317.5,633.4 318.6,634.5 319.7,634 320.7,632.8 322,633.7 323.2,631.6 324.5,631.5 325.7,628.8 326.8,627.9 327.9,629.1 329,628.8 330.1,628.1 331.2,628.3 332.3,628.6 333.4,628.2 334.5,629.4 335.7,629.1 336.7,628.9 337.8,629.3 338.9,630.6 339.9,630.6 341,629.8 342,631.2 343.1,632.7 344.2,632.1 345.2,631.8 346.3,634.1 347.4,635.4 348.4,634.2 349.5,632.9 350.6,634 351.8,633.4 353.1,628.8 354.1,630.5 355.2,631.5 356.3,632.3 357.3,634.5 358.4,634.4 359.5,635.8 360.5,636.7 361.6,636.1 362.6,637.2 363.7,634 364.8,633.4 365.8,634.6 366.9,632.3 368,632.8 369.1,632.5 370.2,634.5 371.3,634.4 372.4,635.4 373.5,634.9 374.6,635.9 375.7,634.8 376.8,637.7 377.9,638 379,637.5 380.1,637.4 381.2,637 382.3,637.1 383.4,638.4 384.6,636.4 385.7,636.3 386.8,637.1 387.9,636.6 389,636.4 390.1,638.5 391.2,638.9 392.3,637.8 393.4,639.9 394.5,637.9 395.6,640.5 396.7,638.5 397.8,640.4 398.9,639.9 400,639.6 401.1,640.2 402.2,638.9 403.3,638.9 404.4,638.5 405.5,640.3 406.7,638.6 407.8,639.2 409,637.8 410.2,637.8 411.5,635.3 412.7,634.5 413.8,634.8 414.9,635.6 416,635 417.2,636.1 418.3,636.3 419.4,636.8 420.5,636.5 421.6,637.3 422.7,636.2 423.7,635.8 424.7,635.5 425.8,635.3 426.8,634.6 427.9,635.7 428.9,635.2 429.9,633.4 431,634.7 432,634 433,633.6 434.1,633.9 435.1,634.8 436.1,633.9 437.2,632.3 438.2,634 439.3,633 440.3,634.8 441.3,633.2 442.4,633.4 443.4,633.3 444.4,632.7 445.5,633 446.5,633.1 447.5,634.8 448.6,633.4 449.6,633.9 450.7,633.8 451.7,634 452.7,634.3 453.8,635.2 454.8,632.1 455.8,634 456.9,634 457.9,635.5 459,634.4 460,635.9 461,635.9 462.1,634.5 463.1,635.3 464.1,634.4 465.2,635.3 466.2,634.9 467.3,635.3 468.3,635 469.3,633.5 470.4,635.2 471.4,634.1 472.4,634.7 473.5,634.3 474.5,635.3 475.5,634 476.6,636.2 477.6,634.8 478.6,635.7 479.7,636.5 480.7,635.3 481.8,637 482.8,637.1 483.8,638 484.9,637.6 486.1,635.4 487.3,633.8 488.6,632.4 489.8,631.6 490.9,631.3 491.9,631.8 493,632.4 494,631 495.1,630.8 496.1,631.4 497.2,631.3 498.2,629.3 499.3,630.4 500.3,630.9 501.4,631.2 502.4,630.3 503.4,629.8 504.5,632.1 505.5,628.1 506.6,631.4 507.6,629.8 508.7,630 509.7,630.2 510.8,630.4 511.8,629.3 512.8,629 513.9,630.2 514.9,630.8 515.9,629.6 517,631.5 518,628.8 519.1,630.3 520.1,630 521.1,630.6 522.2,628.7 523.2,630 524.2,629.3 525.3,627.7 526.3,629 527.3,628.2 528.4,628.9 529.4,629.6 530.4,629 531.5,630.4 532.5,629.5 533.6,628.5 534.6,628.7 535.6,629.3 536.7,628.5 537.7,629.5 538.8,629.6 539.8,630 540.9,629.5 541.9,629.5 543,628.6 544,629.7 545.1,629.5 546.1,629.8 547.2,630.1 548.2,629.3 549.2,629.6 550.3,629.4 551.3,629.2 552.4,628.8 553.4,629.4 554.5,630.6 555.5,628.7 556.5,630.9 557.6,631.3 558.6,631.6 559.6,630.8 560.6,631 561.6,632.2 562.7,632.2 563.7,633.1 564.7,631.7 565.7,631.8 566.8,633.2 567.8,632.2 568.8,632.6 569.8,633.8 570.9,633.6 571.9,632.9 572.9,634 574,633.8 575,635 576,634.8 577.1,634.2 578.1,636.5 579.1,635.5 580.2,635.9 581.2,635.7 582.2,636.5 583.3,636.6 584.3,637.6 585.4,637.5 586.4,638 587.5,637.6 588.6,636.6 589.6,636.4 590.7,636.3 591.8,637.6 592.8,636.2 593.9,637.9 595,636.8 596,636.6 597.1,636.7 598.2,637.9 599.2,636.5 600.3,636.3 601.3,636 602.4,635.7 603.4,636.5 604.5,638.1 605.5,637.7 606.6,636.8 607.6,635.7 608.7,638.5 609.7,638 610.7,636.4 611.8,637.9 612.8,637.3 613.9,639 614.9,638.9 616,638 617,637 618.1,638.6 619.1,640.8 620.2,639.2 621.3,638.4 622.3,639.5 623.4,638.3 624.5,639.9 625.5,637.3 626.6,638.2 627.6,639.7 628.7,639.3 629.8,638.8 630.8,637.3 631.9,638.3 633,638.7 634,637.9 635.1,638 636.2,638.4 637.2,637.3 638.3,637.7 639.4,636.9 640.4,636 641.5,635.5 642.6,635.9 643.6,635.6 644.7,636.8 645.8,635.9 646.8,634.2 647.9,636.5 649,637 650.1,634.8 651.2,635.5 652.3,634.9 653.4,635.5 654.5,635 655.6,635.2 656.7,634.8 657.8,634.2 658.9,634.4 659.9,634 661,634 662,634.1 663,636.3 664.1,634.9 665.1,635.7 666.2,633.1 667.2,634 668.2,634.8 669.3,635 670.3,634.3 671.3,633.6 672.6,614.2 673.8,612.9 675.1,609 676.3,608 677.6,606.6 678.8,605.8 680,605 681.3,603.6 682.3,603.9 683.4,605.2 684.4,604.5 685.4,604.5 686.5,605.9 687.5,605.7 688.5,605.6 689.6,604.3 690.6,606.3 691.6,606 692.7,604.9 693.7,605.3 694.8,606.3 695.8,606.4 696.9,605.1 698,604.4 699,606.1 700.1,604.7 701.2,605.5 702.2,604.8 703.3,604.6 704.4,604.3 705.4,605.6 706.5,604 707.6,604.2 708.6,603.6 709.7,605.5 710.7,604 711.7,603.1 712.8,603.8 713.8,602.5 714.8,603.6 715.9,602.8 716.9,604.6 718,604.7 719,605.3 720,603.3 721.1,602.8 722.1,601.8 723.1,603.5 724.2,602.7 725.2,604.3 726.2,604.8 727.3,602.1 728.3,603 729.4,604.3 730.4,601.9 731.4,602.1 732.5,603.6 733.5,603.1 734.5,601.4 735.6,603.1 736.6,602.4 737.6,602.7 738.7,602.9 739.7,603.9 740.7,603.2 741.8,601.7 742.8,603.5 743.9,602.9 744.9,602.7 745.9,601.7 747,601.5 748,602.2 749,603.2 750.1,602.4 751.1,602.1 752.1,602.1 753.2,602.1 754.2,601.6 755.3,601.8 756.3,600.3 757.3,601.6 758.4,602.3 759.4,601.7 760.4,602.6 761.5,602.6 762.5,601.2 763.5,600.4 764.6,601.3 765.6,600.2 766.6,601.8 767.7,601 768.7,601.6 769.8,600.8 770.8,600.4 771.8,602.1 772.9,600.8 773.9,600.9 774.9,600.9 776,600.4 777,600.4 778,599.6 779.1,600.5 780.1,600.7 781.2,599.7 782.2,599.1 783.2,599.9 784.3,600.8 785.3,600.8 786.3,600.6 787.4,599.7 788.4,600.6 789.4,600.2 790.5,600.9 791.5,600.7 792.5,599.6 793.6,600.5 794.6,600.5 795.7,601.1 796.7,601.7 797.7,599.2 798.8,599.9 799.8,599.9 800.8,599.9 801.9,600.1 802.9,601.6 803.9,600.8 805,600.3 806,600.8 807,600.5 808.1,600 809.2,600.6 810.3,601.3 811.4,602 812.5,600.7 813.6,601.8 814.7,602.2 815.8,602.6 816.9,602.3 818,602.6 819.1,601.6 820.2,601.9 821.2,602.1 822.3,601.9 823.4,602.7 824.4,602 825.5,601.8 826.6,601.5 827.6,602.1 828.7,600.9 829.8,603 830.8,600.8 831.9,601.2 832.9,601.5 834.2,607.1 835.4,613.1 836.7,621.2 837.9,632.6 839.2,634.2 840.4,638.6 841.7,638.6 842.9,642.5 844,643.9 845,644.3 846.1,645.4 847.2,646.2 848.2,647.3 849.3,648.7 850.4,648.8 851.4,650 852.5,649.5 853.5,650.6 854.6,649.3 855.7,651.7 856.7,651.3 857.8,651.8 859.1,693.6 860.3,710.1 861.5,728.4 862.6,727.2 863.7,729.9 864.8,729.5 865.9,730.7 867,729.2 868.1,729.4 869.2,729.2 870.2,729.3" fill="none" stroke="#000" stroke-width="3.0" stroke-linejoin="round" stroke-linecap="butt" />
<text x="340.6" y="692" font-size="27.5" text-anchor="start" fill="#000" letter-spacing="0.15">Neutron rate(10<tspan font-size="17" dy="-11">13</tspan><tspan dy="11">n/sec)</tspan></text>
<polygon points="61.5,821.1 62.3,819.8 63.1,820.8 63.9,820.9 64.7,819.8 65.5,821.4 66.3,820.3 67.1,820.8 67.9,820.6 68.7,822.1 69.5,821.5 70.3,821.5 71.1,820.2 71.9,821.5 72.7,821.7 73.5,822.2 74.3,819.7 75.1,820.2 75.9,820.9 76.7,821.3 77.5,821 78.3,822.8 79.1,821 79.9,819.7 80.7,821.7 81.5,821.3 82.3,822.7 83.1,820.3 83.9,820.2 84.7,822 85.5,821.5 86.3,820.6 87.1,820.1 87.9,819.8 88.7,821.4 89.5,820 90.3,821.5 91.1,820.1 91.9,820.6 92.7,821.2 93.5,822.8 94.3,821.5 95.1,820.8 95.9,823.2 96.7,819.2 97.5,822.6 98.3,822.3 99.1,821 99.9,821.9 100.7,823 101.5,821.7 102.3,821.7 103.1,821.6 103.9,821.2 104.7,822.4 105.5,823.8 106.3,821.7 107.1,821.7 107.9,820.3 108.7,822.4 109.5,822.6 110.3,822.7 111.1,820.8 111.9,822.3 112.7,821.2 113.5,821.9 114.3,821.1 115.1,823.2 115.9,820.9 116.7,821.4 117.5,820.1 118.3,822.5 119.1,822.4 119.9,823.1 120.7,823.3 121.5,821.9 122.3,821.4 123.1,821.6 123.9,822.5 124.7,821.2 125.5,822 126.3,821.8 127.1,822.5 127.9,823.3 128.7,823.8 129.5,823 130.3,822.4 131.1,822.3 131.9,821.9 132.7,823.1 133.5,821.4 134.3,822.9 135.1,821.7 135.9,822.3 136.7,822.1 137.5,821.5 138.3,824.2 139.1,823.5 139.9,821.5 140.7,823 141.5,824.2 142.3,822.8 143.1,822.6 143.9,822.2 144.7,821.9 145.5,822.3 146.3,823.8 147.1,822.9 147.9,823.5 148.7,822.3 149.5,822.2 150.3,821.4 151.1,823.9 151.9,821.6 152.7,824.3 153.5,822 154.3,822.2 155.1,822.7 155.9,823.2 156.7,822.2 157.5,824.2 158.3,823.3 159.1,822.9 159.9,822.9 160.7,822.9 161.5,822.6 162.3,823.3 163.1,825.1 163.9,823.2 164.7,822.7 165.5,823.1 166.3,824.2 167.1,823.4 167.9,824.3 168.7,823.9 169.5,823.4 170.3,824.5 171.1,822.4 171.9,823.5 172.7,823.1 173.5,824.5 174.3,825.3 175.1,825 175.9,824.8 176.7,824.9 177.5,823.6 178.3,824.9 179.1,824.4 179.9,822 180.7,823.5 181.5,824.3 182.3,823.6 183.1,824.3 183.9,823.3 184.7,824.5 185.5,825.7 186.3,825.2 187.1,825.7 187.9,824 188.7,824.2 189.5,824.6 190.3,823.4 191.1,824.4 191.9,824.1 192.7,823.8 193.5,824.5 194.3,825.2 195.1,824 195.9,824.3 196.7,825.3 197.5,823.8 198.3,824.6 199.1,825.4 199.9,823.2 200.7,824.3 201.5,825.9 202.3,824.5 203.1,823.8 203.9,824.1 204.7,824.3 205.5,825.5 206.3,825.3 207.1,824.3 207.9,825 208.7,822.7 209.5,825.6 210.3,826.7 211.1,824.8 211.9,824 212.7,823.6 213.5,824.5 214.3,825.8 215.1,825.3 215.9,826 216.7,825.1 217.5,825.5 218.3,825.7 219.1,825.4 219.9,825.3 220.7,825.1 221.5,824 222.3,826.4 223.1,825.2 223.9,826.1 224.7,826 225.5,825.6 226.3,824 227.1,825.4 227.9,824.8 228.7,824.4 229.5,824.6 230.3,824.3 231.1,826.9 231.9,823.9 232.7,825.2 233.5,826.3 234.3,825.3 235.1,824.8 235.9,822.7 236.7,825.7 237.5,825.3 238.3,825.2 239.1,824.4 239.9,824.6 240.7,824.6 241.5,824.5 242.3,826.6 243.1,825.2 243.9,826 244.7,826.2 245.5,826.8 246.3,826.4 247.1,825.4 247.9,826.1 248.7,825.5 249.5,826 250.3,824.4 251.1,826.2 251.9,825.2 252.7,825.5 253.5,826.1 254.3,825.7 255.1,827.3 255.9,825.9 256.7,825.9 257.5,825.1 258.3,826.9 259.1,825.3 259.9,825.6 260.7,826.2 261.5,825.1 262.3,826.5 263.1,827.5 263.9,825.6 264.7,825.3 265.5,827.2 266.3,827.1 267.1,826 267.9,826.4 268.7,826.6 269.5,825.2 270.3,826.5 271.1,826 271.9,825.2 272.7,826.9 273.5,826.2 274.3,826.6 275.1,827.1 275.9,825.1 276.7,825.3 277.5,827.4 278.3,825.8 279.1,825.7 279.9,827.7 280.7,827.9 281.5,826.3 282.3,827.1 283.1,828.3 283.9,826.6 284.7,827.3 285.5,826.2 286.3,825.7 287.1,827.6 287.9,827.6 288.7,827.4 289.5,827.4 290.3,828 291.1,826.4 291.9,825.8 292.7,825.9 293.5,826.4 294.3,826.3 295.1,827.5 295.9,826.9 296.7,828 297.5,826.7 298.3,827.9 299.1,827.8 299.9,827 300.7,826.7 301.5,827.2 302.3,826.8 303.1,826 303.9,827 304.7,826.5 305.5,827.7 306.3,826.8 307.1,826.5 307.9,828 308.7,828.3 309.5,825.8 310.3,828 311.1,827.1 311.9,827.5 312.7,826.5 313.5,828.1 314.3,829 315.1,828.8 315.9,827.4 316.7,829.1 317.5,826.6 318.3,827.7 319.1,827.5 319.9,828.3 320.7,826.4 321.5,829.1 322.3,828.7 323.1,827.6 323.9,827.7 324.7,826.8 325.5,828.5 326.3,827.4 327.1,828.6 327.9,827.3 328.7,827.4 329.5,828.4 330.3,828.7 331.1,826.8 331.9,827.6 332.7,828.7 333.5,828.3 334.3,827.9 335.1,828.1 335.9,826.9 336.7,828.9 337.5,827.5 338.3,827.9 339.1,828.6 339.9,827.9 340.7,826.6 341.5,828.8 342.3,827.8 343.1,827.6 343.9,826.2 344.7,828.3 345.5,829.9 346.3,826.6 347.1,828 347.9,826 348.7,829.3 349.5,829.1 350.3,825.9 351.1,828.5 351.9,829.1 352.7,827.9 353.5,827.7 354.3,827.1 355.1,829.9 355.9,828.8 356.7,827.1 357.5,827.2 358.3,826.5 359.1,828.2 359.9,828 360.7,829.7 361.5,828.4 362.3,827.6 363.1,827.2 363.9,828.7 364.7,828.2 365.5,828.1 366.3,827.5 367.1,828.6 367.9,826.4 368.7,827.6 369.5,826.8 370.3,826.4 371.1,826.5 371.9,827.8 372.7,829 373.5,828.2 374.3,827.8 375.1,827.9 375.9,827.2 376.7,827.8 377.5,827.1 378.3,828.5 379.1,828.5 379.9,826.5 380.7,826.8 381.5,829.4 382.3,828 383.1,826.7 383.9,827.6 384.7,827.6 385.5,828.6 386.3,827.5 387.1,826.6 387.9,829.1 388.7,828.6 389.5,826.3 390.3,828.7 391.1,827.3 391.9,827.6 392.7,826.9 393.5,828 394.3,827.1 395.1,828.1 395.9,828.5 396.7,827.7 397.5,829.8 398.3,828.5 399.1,828.7 399.9,828.3 400.7,828.3 401.5,828.4 402.3,828.4 403.1,827.3 403.9,826 404.7,827.2 405.5,828.2 406.3,828.1 407.1,827.7 407.9,826.9 408.7,826.4 409.5,827.5 410.3,827.8 411.1,827.9 411.9,827.2 412.7,827.2 413.5,827.7 414.3,826.8 415.1,828.5 415.9,829.1 416.7,826.8 417.5,829.4 418.3,827.7 419.1,827.2 419.9,828.2 420.7,828.3 421.5,828.1 422.3,826.7 423.1,828.4 423.9,826.9 424.7,827.9 425.5,825.7 426.3,828.5 427.1,826.9 427.9,828.9 428.7,828.5 429.5,827.6 430.3,827.8 431.1,828.6 431.9,828.4 432.7,827.1 433.5,829 434.3,826 435.1,827.9 435.9,828.2 436.7,830.2 437.5,827 438.3,828 439.1,828 439.9,827.9 440.7,826.9 441.5,827.8 442.3,828.6 443.1,828.9 443.9,827.6 444.7,829.1 445.5,828.2 446.3,827 447.1,827.4 447.9,826.6 448.7,829 449.5,829.5 450.3,826.8 451.1,827.3 451.9,827.4 452.7,827.3 453.5,827.7 454.3,827.9 455.1,827.8 455.9,827.5 456.7,828.6 457.5,828.4 458.3,826.3 459.1,828.6 459.9,827.4 460.7,828.1 461.5,826.3 462.3,827.9 463.1,826.7 463.9,828 464.7,828 465.5,826.6 466.3,826.5 467.1,828.5 467.9,827.2 468.7,828.3 469.5,827.9 470.3,827.1 471.1,828.2 471.9,827.5 472.7,829.5 473.5,827.2 474.3,828.5 475.1,825.9 475.9,827.6 476.7,828.3 477.5,828.6 478.3,827.3 479.1,828.4 479.9,826.6 480.7,827.1 481.5,827.4 482.3,828 483.1,827 483.9,828.1 484.7,827.4 485.5,826.2 486.3,826.9 487.1,827.6 487.9,828.7 488.7,828.9 489.5,830.3 490.3,827.3 491.1,828.6 491.9,828.6 492.7,826.6 493.5,828.6 494.3,827.8 495.1,828.5 495.9,826.6 496.7,826.3 497.5,825.5 498.3,828.5 499.1,826.7 499.9,827.6 500.7,829.1 501.5,828.1 502.3,825.1 503.1,825.4 503.9,828.7 504.7,826.4 505.5,826.3 506.3,827 507.1,828.3 507.9,829.2 508.7,828.7 509.5,829 510.3,828.6 511.1,828.5 511.9,827.2 512.7,829 513.5,826.9 514.3,828 515.1,829.6 515.9,826.7 516.7,828.8 517.5,828.4 518.3,828.2 519.1,829.1 519.9,827.4 520.7,828 521.5,827 522.3,829.5 523.1,828.4 523.9,827.3 524.7,827.8 525.5,827 526.3,827.5 527.1,825.6 527.9,829.2 528.7,827.3 529.5,829 530.3,828.2 531.1,827.6 531.9,829.4 532.7,827.5 533.5,828 534.3,828.4 535.1,828.2 535.9,827 536.7,828.9 537.5,827 538.3,827.3 539.1,828.6 539.9,828.4 540.7,829.3 541.5,827.1 542.3,828.6 543.1,827.4 543.9,828.7 544.7,827.2 545.5,827.4 546.3,828.1 547.1,827.1 547.9,827.1 548.7,827.6 549.5,827.6 550.3,828 551.1,826.8 551.9,827.7 552.7,828.3 553.5,826.6 554.3,829 555.1,828.6 555.9,828.8 556.7,827.2 557.5,829.9 558.3,828.2 559.1,828.3 559.9,827.2 560.7,828 561.5,828.7 562.3,828.9 563.1,829.3 563.9,826.7 564.7,828.3 565.5,828.2 566.3,827.1 567.1,827.1 567.9,830 568.7,830.1 569.5,828 570.3,828.2 571.1,826.9 571.9,828.9 572.7,828.3 573.5,829.3 574.3,829.4 575.1,826.9 575.9,826.3 576.7,827.7 577.5,826.3 578.3,826.5 579.1,827.1 579.9,827.5 580.7,825.6 581.5,826.6 582.3,828.3 583.1,827.1 583.9,829.7 584.7,828.8 585.5,828.6 586.3,827.8 587.1,825.5 587.9,828.3 588.7,828.5 589.5,827.2 590.3,828.1 591.1,828 591.9,827.6 592.7,828.8 593.5,828.5 594.3,829 595.1,827.2 595.9,828 596.7,828.4 597.5,828.1 598.3,827.7 599.1,827.2 599.9,829.5 600.7,827.1 601.5,828.4 602.3,828.8 603.1,826.9 603.9,827.6 604.7,827.9 605.5,828 606.3,827.7 607.1,827.9 607.9,828.5 608.7,827 609.5,828 610.3,827 611.1,827.4 611.9,825.4 612.7,829.8 613.5,828.9 614.3,828.8 615.1,827.9 615.9,827.9 616.7,828.8 617.5,828.1 618.3,827.1 619.1,827.3 619.9,828.2 620.7,829.5 621.5,827.5 622.3,827.1 623.1,828.3 623.9,829.3 624.7,826.2 625.5,829 626.3,827.3 627.1,827 627.9,826.2 628.7,829.1 629.5,828.1 630.3,828.6 631.1,828.3 631.9,828 632.7,829.7 633.5,828 634.3,827.6 635.1,826.4 635.9,828.3 636.7,828 637.5,828.4 638.3,828.9 639.1,826.6 639.9,828.3 640.7,826.4 641.5,827.9 642.3,829.2 643.1,828.3 643.9,827.7 644.7,828 645.5,828 646.3,825 647.1,828.5 647.9,827.7 648.7,827.6 649.5,827.2 650.3,828.1 651.1,826.1 651.9,828.4 652.7,827 653.5,827.6 654.3,827.5 655.1,828.2 655.9,828.3 656.7,826.3 657.5,828.2 658.3,828.2 659.1,828.3 659.9,829.6 660.7,828.1 661.5,828.9 662.3,830.2 663.1,827.6 663.9,828.6 664.7,828 665.5,826.5 666.3,827.3 667.1,828.4 667.9,828.6 668.7,828.1 669.5,826.9 670.3,827.3 671.1,830.2 671.9,828.2 672.7,829 673.5,828.1 674.3,825.9 675.1,827.7 675.9,830 676.7,828.3 677.5,830.1 678.3,828.2 679.1,827.8 679.9,828.3 680.7,827.1 681.5,828.2 682.3,829.2 683.1,827 683.9,827.7 684.7,828.8 685.5,826.1 686.3,828.6 687.1,829.3 687.9,828.2 688.7,827.3 689.5,828.3 690.3,828.1 691.1,828.5 691.9,828.2 692.7,827.5 693.5,826.5 694.3,826.5 695.1,827.3 695.9,828.3 696.7,828.4 697.5,827.4 698.3,826.3 699.1,828.2 699.9,828.8 700.7,825.2 701.5,826.9 702.3,828.2 703.1,827.8 703.9,826.8 704.7,828.5 705.5,828 706.3,827.3 707.1,826.5 707.9,826.4 708.7,828.4 709.5,828.6 710.3,828.6 711.1,827.4 711.9,827.7 712.7,828.8 713.5,829.1 714.3,826 715.1,827.1 715.9,826.8 716.7,827.5 717.5,828.6 718.3,828.4 719.1,827.8 719.9,826.2 720.7,827.5 721.5,828.9 722.3,828.4 723.1,828.7 723.9,829 724.7,829.2 725.5,828.9 726.3,828 727.1,828.2 727.9,828.4 728.7,829.9 729.5,828.6 730.3,828.1 731.1,827.7 731.9,828.4 732.7,828.6 733.5,827.4 734.3,828.1 735.1,826.2 735.9,826.6 736.7,827.6 737.5,828.2 738.3,828.4 739.1,827.8 739.9,827 740.7,827.8 741.5,827.7 742.3,827.8 743.1,827.4 743.9,826.7 744.7,828.6 745.5,827.8 746.3,828.5 747.1,828.4 747.9,828.3 748.7,827.4 749.5,830.2 750.3,827.5 751.1,827.5 751.9,827.2 752.7,826.2 753.5,825.3 754.3,828.1 755.1,829.2 755.9,827.8 756.7,826.1 757.5,827.9 758.3,828.9 759.1,828.2 759.9,828 760.7,826.9 761.5,827.3 762.3,828.3 763.1,827.1 763.9,826.5 764.7,826.3 765.5,828.9 766.3,827.2 767.1,827.9 767.9,827.7 768.7,828.8 769.5,827.8 770.3,829.1 771.1,828.5 771.9,827.4 772.7,827.4 773.5,828 774.3,828.2 775.1,828.3 775.9,829.3 776.7,827.9 777.5,827.6 778.3,826.9 779.1,828.2 779.9,829.1 780.7,826.6 781.5,828.6 782.3,827.6 783.1,827.9 783.9,829.7 784.7,827.8 785.5,827.7 786.3,827.6 787.1,826.6 787.9,826.7 788.7,827.9 789.5,827.9 790.3,828.2 791.1,826 791.9,827.5 792.7,827.4 793.5,827.9 794.3,828.6 795.1,828.4 795.9,827.6 796.7,827.6 797.5,827.4 798.3,828.5 799.1,829.2 799.9,826.8 800.7,827 801.5,827.8 802.3,828.2 803.1,827.1 803.9,828.1 804.7,828.3 805.5,828.4 806.3,828.6 807.1,827.6 807.9,826.4 808.7,828.2 809.5,828.3 810.3,827.9 811.1,830.1 811.9,827.8 812.7,826 813.5,827.5 814.3,828.3 815.1,827.5 815.9,827.7 816.7,829.3 817.5,826.4 818.3,827.1 819.1,829.5 819.9,827.6 820.7,829 821.5,829.2 822.3,830.4 823.1,828.3 823.9,827.5 824.7,826.3 825.5,827.8 826.3,827.9 827.1,828.3 827.9,829 828.7,829.3 829.5,826.2 830.3,826.6 831.1,827.9 831.9,828.1 832.7,827.1 833.5,828.5 834.3,826.9 835.1,828.4 835.9,828.9 836.7,828.8 837.5,828.3 838.3,826.4 839.1,828.2 839.9,829.4 840.7,828.1 841.5,827.7 842.3,828.7 843.1,828.2 843.9,828.2 844.7,827.6 845.5,827.1 846.3,828.2 847.1,827.6 847.9,827 848.7,829.1 849.5,829.1 850.3,828.9 851.1,827.7 851.9,828.7 852.7,827.5 853.5,828.4 854.3,828.1 855.1,827.9 855.9,828.5 856.7,828.6 857.5,828.8 858.3,826.7 859.1,828.1 859.9,827.7 860.7,828.1 861.5,828.2 862.3,828 863.1,828.6 863.9,827.8 864.7,828.9 865.5,827.7 866.3,827.5 867.1,826.6 867.1,833.8 866.3,836.2 865.5,835.6 864.7,835.2 863.9,834.7 863.1,834.1 862.3,836.1 861.5,836.3 860.7,836.7 859.9,835.1 859.1,835.9 858.3,834.5 857.5,835.6 856.7,835.1 855.9,834.3 855.1,835.3 854.3,835.3 853.5,836.1 852.7,836 851.9,836.4 851.1,835.6 850.3,836.4 849.5,837 848.7,836.1 847.9,836.2 847.1,835 846.3,835.7 845.5,833.8 844.7,835.4 843.9,837 843.1,836.9 842.3,836.5 841.5,835.8 840.7,836 839.9,834.2 839.1,835.5 838.3,835.9 837.5,836.7 836.7,836.4 835.9,835.1 835.1,835.6 834.3,835.6 833.5,836.6 832.7,835.2 831.9,834.5 831.1,834.8 830.3,836.8 829.5,836.7 828.7,835.9 827.9,836 827.1,835.9 826.3,837.4 825.5,837.4 824.7,835.9 823.9,835.8 823.1,836.1 822.3,834.4 821.5,835.1 820.7,836.3 819.9,835.1 819.1,836.5 818.3,835.3 817.5,836 816.7,836.1 815.9,835.1 815.1,835.8 814.3,836 813.5,835.8 812.7,834.2 811.9,836.9 811.1,833.7 810.3,836.6 809.5,836.4 808.7,834 807.9,833.9 807.1,835.3 806.3,836.3 805.5,835.4 804.7,835.5 803.9,834 803.1,835.4 802.3,834.8 801.5,837.5 800.7,836.5 799.9,836.2 799.1,835.3 798.3,836 797.5,835.9 796.7,835.8 795.9,837 795.1,834.7 794.3,834.5 793.5,834.8 792.7,836.2 791.9,835.1 791.1,836 790.3,835.2 789.5,835 788.7,836.6 787.9,835.4 787.1,835.4 786.3,835.6 785.5,836.3 784.7,836 783.9,836.2 783.1,835.8 782.3,834.5 781.5,836.1 780.7,835.5 779.9,835.8 779.1,835.5 778.3,835.7 777.5,835.2 776.7,835.3 775.9,835.5 775.1,835.7 774.3,836 773.5,836.5 772.7,835.2 771.9,835.3 771.1,834.1 770.3,835.9 769.5,836 768.7,835.8 767.9,834.7 767.1,836.3 766.3,836.5 765.5,835.2 764.7,834.9 763.9,835.3 763.1,835.1 762.3,836.1 761.5,835 760.7,836.7 759.9,836 759.1,837.2 758.3,835.2 757.5,833.4 756.7,833.7 755.9,836.3 755.1,836.3 754.3,836.3 753.5,834.8 752.7,835.9 751.9,835.5 751.1,836 750.3,836.7 749.5,835.6 748.7,837 747.9,834.8 747.1,836.9 746.3,834.7 745.5,835.2 744.7,834.9 743.9,835.4 743.1,834.2 742.3,835.2 741.5,832.7 740.7,836.2 739.9,835.1 739.1,836.5 738.3,835.9 737.5,834.7 736.7,834.1 735.9,836.2 735.1,836.2 734.3,836 733.5,835.6 732.7,836 731.9,836.5 731.1,835.6 730.3,834.7 729.5,833.9 728.7,836.3 727.9,835.9 727.1,834.7 726.3,833.6 725.5,833.9 724.7,835.8 723.9,835.3 723.1,834.8 722.3,837 721.5,834.6 720.7,835.5 719.9,836.1 719.1,835.2 718.3,837.4 717.5,834.8 716.7,834.5 715.9,836.1 715.1,835.6 714.3,834.7 713.5,836.7 712.7,834.9 711.9,834.3 711.1,835.4 710.3,835.5 709.5,836.2 708.7,834.7 707.9,836.8 707.1,836.9 706.3,835 705.5,835.2 704.7,835.8 703.9,835.2 703.1,835.4 702.3,836.6 701.5,833.9 700.7,836 699.9,836.1 699.1,836.4 698.3,835.3 697.5,835.8 696.7,834.9 695.9,833.7 695.1,836.5 694.3,837.5 693.5,836.7 692.7,836 691.9,834.8 691.1,836.9 690.3,834.8 689.5,836.5 688.7,832.8 687.9,837.1 687.1,836 686.3,835.8 685.5,835.5 684.7,835.3 683.9,835.3 683.1,836.6 682.3,834.7 681.5,835.3 680.7,835.3 679.9,836 679.1,835.3 678.3,836.2 677.5,835.1 676.7,835.9 675.9,835.2 675.1,837.4 674.3,835 673.5,835.9 672.7,836.4 671.9,835.1 671.1,835.4 670.3,835 669.5,833.7 668.7,835.3 667.9,835.3 667.1,835 666.3,835.8 665.5,836.2 664.7,835.2 663.9,835 663.1,836.8 662.3,835.9 661.5,836.1 660.7,835.7 659.9,835.6 659.1,836.7 658.3,834.6 657.5,836.6 656.7,836 655.9,835.5 655.1,835.8 654.3,835.6 653.5,835.8 652.7,834.5 651.9,835.9 651.1,836.9 650.3,836 649.5,833.9 648.7,836.1 647.9,837.1 647.1,836 646.3,836.5 645.5,835.9 644.7,835.5 643.9,836.1 643.1,835 642.3,834.4 641.5,836.5 640.7,836.1 639.9,834.9 639.1,834.7 638.3,835.5 637.5,835.3 636.7,835.5 635.9,835.7 635.1,834.3 634.3,836.7 633.5,835 632.7,834.7 631.9,835.3 631.1,836.3 630.3,836.1 629.5,836.5 628.7,834.8 627.9,835.1 627.1,837.1 626.3,836.7 625.5,834.9 624.7,834.6 623.9,833.9 623.1,837.4 622.3,835.1 621.5,837.6 620.7,835.8 619.9,837.7 619.1,834.8 618.3,835.6 617.5,836 616.7,836.5 615.9,834.1 615.1,835.7 614.3,836.2 613.5,835.5 612.7,837.1 611.9,835 611.1,835.2 610.3,835.4 609.5,835.2 608.7,835.6 607.9,835.5 607.1,834.8 606.3,834.8 605.5,836.1 604.7,836.5 603.9,835.5 603.1,835.2 602.3,834.8 601.5,835.4 600.7,836.2 599.9,835.5 599.1,835.3 598.3,834.7 597.5,835.7 596.7,835.8 595.9,836 595.1,835.8 594.3,835.9 593.5,836.2 592.7,836.4 591.9,834.8 591.1,833.7 590.3,835.7 589.5,834.5 588.7,835.3 587.9,836.2 587.1,835 586.3,836.5 585.5,835.6 584.7,836.7 583.9,835.8 583.1,835.3 582.3,836.5 581.5,834.9 580.7,835.7 579.9,836.2 579.1,836 578.3,836.6 577.5,835.1 576.7,835.7 575.9,835 575.1,836.7 574.3,837.5 573.5,834.8 572.7,836.2 571.9,835.5 571.1,835.6 570.3,835.1 569.5,835.9 568.7,834.5 567.9,835 567.1,836.7 566.3,835.1 565.5,837.2 564.7,835.5 563.9,835.5 563.1,836.7 562.3,836 561.5,835.7 560.7,835.7 559.9,834.5 559.1,836.1 558.3,835 557.5,834.6 556.7,836.4 555.9,835.4 555.1,835.7 554.3,834.6 553.5,835.4 552.7,836.9 551.9,836.8 551.1,836.4 550.3,834.8 549.5,836.6 548.7,835.7 547.9,835.8 547.1,836.6 546.3,835.4 545.5,836.2 544.7,836 543.9,835.6 543.1,835.5 542.3,836.4 541.5,835.1 540.7,837.2 539.9,837.1 539.1,836.2 538.3,836.5 537.5,834.3 536.7,834.6 535.9,835.4 535.1,835.3 534.3,835 533.5,833.9 532.7,836.7 531.9,836.7 531.1,834.6 530.3,834.9 529.5,836.3 528.7,834.9 527.9,837.1 527.1,836.7 526.3,836.9 525.5,835.3 524.7,835 523.9,836.4 523.1,836 522.3,835.6 521.5,834.8 520.7,834.9 519.9,835 519.1,835.6 518.3,834 517.5,835.4 516.7,836.7 515.9,835.8 515.1,836.6 514.3,835.8 513.5,836.5 512.7,836.2 511.9,833.8 511.1,836 510.3,836.9 509.5,836.7 508.7,835.7 507.9,835.9 507.1,834.5 506.3,836.7 505.5,835.5 504.7,835 503.9,836.1 503.1,836.1 502.3,834.8 501.5,833.9 500.7,834.6 499.9,836 499.1,835.8 498.3,834.4 497.5,835.5 496.7,835.9 495.9,836.2 495.1,837 494.3,834.9 493.5,836 492.7,835.9 491.9,835.8 491.1,835.4 490.3,836 489.5,834.9 488.7,836 487.9,834.9 487.1,835.3 486.3,835.6 485.5,835.4 484.7,834.8 483.9,835.2 483.1,835 482.3,835.8 481.5,835.1 480.7,835.3 479.9,835.5 479.1,835.2 478.3,836.7 477.5,837.3 476.7,837.3 475.9,836.5 475.1,836.8 474.3,836.3 473.5,837.4 472.7,835.1 471.9,835.2 471.1,837.7 470.3,834.7 469.5,836 468.7,835.5 467.9,835.8 467.1,836.6 466.3,834 465.5,835.9 464.7,836.2 463.9,837 463.1,834.4 462.3,836.7 461.5,836 460.7,834.9 459.9,834.2 459.1,835.6 458.3,835.5 457.5,835 456.7,835.9 455.9,835.4 455.1,835.2 454.3,834.9 453.5,835.5 452.7,835.4 451.9,833.8 451.1,837 450.3,835.3 449.5,837.4 448.7,835.9 447.9,835.9 447.1,836.4 446.3,835.8 445.5,835.1 444.7,835.1 443.9,838.4 443.1,836.4 442.3,835.4 441.5,834.5 440.7,835 439.9,835.4 439.1,836.2 438.3,836.4 437.5,835.7 436.7,835.2 435.9,834.8 435.1,835.2 434.3,835.8 433.5,835.5 432.7,834.9 431.9,835.4 431.1,836.6 430.3,837.3 429.5,836.3 428.7,833.4 427.9,835.4 427.1,834 426.3,836.1 425.5,836.5 424.7,835 423.9,836.9 423.1,835.4 422.3,837.5 421.5,834.8 420.7,833.7 419.9,834.8 419.1,835.8 418.3,835 417.5,836.2 416.7,836.4 415.9,834.6 415.1,834.3 414.3,836.5 413.5,836.1 412.7,836.5 411.9,835.6 411.1,833.3 410.3,834.8 409.5,835.8 408.7,835.2 407.9,836.6 407.1,836.1 406.3,836.1 405.5,836.7 404.7,836.8 403.9,837 403.1,834.9 402.3,836.8 401.5,835.8 400.7,834.8 399.9,836.5 399.1,834.8 398.3,834.9 397.5,836.8 396.7,834.4 395.9,836.8 395.1,837.2 394.3,837.1 393.5,836.3 392.7,833.7 391.9,835.8 391.1,836.3 390.3,836 389.5,834.7 388.7,834.9 387.9,835.2 387.1,833.2 386.3,836.1 385.5,835.8 384.7,834.8 383.9,835.1 383.1,836.4 382.3,836.7 381.5,835.4 380.7,835.6 379.9,835.4 379.1,835.6 378.3,836.2 377.5,834.7 376.7,837.5 375.9,835.6 375.1,834.8 374.3,835 373.5,835.5 372.7,835.5 371.9,837 371.1,834.2 370.3,835.4 369.5,834.7 368.7,835 367.9,836 367.1,834.6 366.3,836.3 365.5,836.3 364.7,835.8 363.9,836.4 363.1,836.6 362.3,836.3 361.5,836.5 360.7,836.5 359.9,835.1 359.1,836.4 358.3,836.2 357.5,835.1 356.7,835.3 355.9,835.5 355.1,836.5 354.3,834.7 353.5,836.2 352.7,835.5 351.9,836.8 351.1,836.7 350.3,835.9 349.5,836.4 348.7,834.3 347.9,834 347.1,835.1 346.3,836 345.5,835.3 344.7,835.7 343.9,836.4 343.1,836.4 342.3,835 341.5,834.5 340.7,836.7 339.9,836.3 339.1,835.4 338.3,835.3 337.5,835.3 336.7,834.3 335.9,835.2 335.1,835.2 334.3,835.9 333.5,836.4 332.7,835.7 331.9,837.2 331.1,834.5 330.3,835.4 329.5,836.3 328.7,834 327.9,835.1 327.1,835.6 326.3,834.1 325.5,836.3 324.7,836.6 323.9,834.8 323.1,836.6 322.3,836.4 321.5,836.1 320.7,836.1 319.9,835.7 319.1,836 318.3,836.1 317.5,836.2 316.7,835.4 315.9,834.6 315.1,835.5 314.3,834.6 313.5,833.8 312.7,834.6 311.9,837.1 311.1,835 310.3,836.3 309.5,837.2 308.7,835.5 307.9,835 307.1,833.4 306.3,834.1 305.5,835 304.7,837.1 303.9,834.5 303.1,834.5 302.3,835.9 301.5,834.3 300.7,834.6 299.9,834.8 299.1,834.8 298.3,835.5 297.5,835.6 296.7,837.2 295.9,836.1 295.1,836.3 294.3,835 293.5,834.5 292.7,835.9 291.9,836.5 291.1,835.5 290.3,836.1 289.5,835.8 288.7,833.7 287.9,835.6 287.1,835.4 286.3,836.2 285.5,834 284.7,835.8 283.9,834 283.1,834.8 282.3,834.9 281.5,834.8 280.7,834.1 279.9,835.3 279.1,836.3 278.3,836.8 277.5,835.1 276.7,834.8 275.9,834.2 275.1,835.3 274.3,836.2 273.5,834.9 272.7,836.3 271.9,835.8 271.1,834.8 270.3,835.3 269.5,833.7 268.7,835.4 267.9,835.1 267.1,835.6 266.3,836.2 265.5,835.4 264.7,834.2 263.9,835 263.1,834.9 262.3,836.3 261.5,835.1 260.7,833.5 259.9,835.4 259.1,833.8 258.3,834.5 257.5,835.1 256.7,833.5 255.9,834.5 255.1,836 254.3,833.8 253.5,834.9 252.7,835.1 251.9,835.7 251.1,835.9 250.3,834.6 249.5,835.2 248.7,833.9 247.9,833.9 247.1,834.2 246.3,834.9 245.5,833 244.7,834.2 243.9,832.9 243.1,835 242.3,833.3 241.5,833.6 240.7,835.2 239.9,834.4 239.1,835.6 238.3,834.4 237.5,832.7 236.7,835 235.9,832.9 235.1,833.3 234.3,834.4 233.5,834.3 232.7,832.9 231.9,833.5 231.1,834.7 230.3,834 229.5,834.3 228.7,834.6 227.9,833.7 227.1,832.7 226.3,834.8 225.5,834.7 224.7,833.5 223.9,833.7 223.1,834.6 222.3,834.4 221.5,834.7 220.7,834.3 219.9,833.3 219.1,835.1 218.3,834.5 217.5,833.5 216.7,832.6 215.9,834 215.1,833.6 214.3,833.5 213.5,833.6 212.7,833 211.9,835 211.1,833.8 210.3,833.2 209.5,833.8 208.7,833.5 207.9,832 207.1,833.3 206.3,832.1 205.5,835.4 204.7,832.8 203.9,833.5 203.1,834.7 202.3,834.1 201.5,834.6 200.7,832.7 199.9,834.5 199.1,833.3 198.3,834.1 197.5,832.6 196.7,834 195.9,834 195.1,833.2 194.3,834.1 193.5,833.5 192.7,834.9 191.9,834.5 191.1,832.9 190.3,832.9 189.5,832.5 188.7,833.9 187.9,832.1 187.1,834.5 186.3,833.7 185.5,832.7 184.7,831.9 183.9,833.3 183.1,834.4 182.3,833.5 181.5,831.9 180.7,833.8 179.9,834 179.1,833.9 178.3,833.5 177.5,832.8 176.7,833.7 175.9,833.5 175.1,832.8 174.3,833.7 173.5,835.5 172.7,833.8 171.9,833.9 171.1,833.8 170.3,833 169.5,834.2 168.7,834.5 167.9,834.4 167.1,835 166.3,833 165.5,832.6 164.7,834.3 163.9,832.6 163.1,834.6 162.3,832.2 161.5,835.2 160.7,833.1 159.9,833.5 159.1,833.9 158.3,833.1 157.5,831.1 156.7,833.9 155.9,835.1 155.1,831.8 154.3,831.5 153.5,832 152.7,832.1 151.9,833.1 151.1,833.5 150.3,831.3 149.5,833.7 148.7,833.2 147.9,831.7 147.1,834.4 146.3,833.2 145.5,833.3 144.7,832.8 143.9,832.1 143.1,832.8 142.3,831.9 141.5,833.6 140.7,833.1 139.9,835.4 139.1,832.7 138.3,833.5 137.5,832.6 136.7,834.1 135.9,830.4 135.1,832.1 134.3,832.6 133.5,832.7 132.7,832.3 131.9,833.2 131.1,832.9 130.3,834.1 129.5,833.9 128.7,833.3 127.9,832.7 127.1,831.1 126.3,830.9 125.5,832.5 124.7,833.6 123.9,833.1 123.1,832.6 122.3,832.4 121.5,832.2 120.7,833.9 119.9,832.7 119.1,832.7 118.3,832.2 117.5,833.8 116.7,832.1 115.9,831.1 115.1,832.6 114.3,830.4 113.5,832.3 112.7,832.3 111.9,831.8 111.1,832.9 110.3,831.6 109.5,831 108.7,832.5 107.9,832.1 107.1,834.6 106.3,831.3 105.5,830.8 104.7,832.6 103.9,832.5 103.1,833 102.3,832 101.5,831.2 100.7,832.9 99.9,831.8 99.1,832.7 98.3,831.5 97.5,831.9 96.7,833.7 95.9,830.8 95.1,830.9 94.3,831.3 93.5,832.8 92.7,832.5 91.9,833.1 91.1,833.8 90.3,832.6 89.5,831.6 88.7,833.3 87.9,831.6 87.1,832 86.3,829.2 85.5,832.1 84.7,831.9 83.9,832.2 83.1,832.4 82.3,831.1 81.5,831.4 80.7,832.6 79.9,831.2 79.1,830.4 78.3,831.5 77.5,831.3 76.7,831.4 75.9,832.1 75.1,832.7 74.3,832.1 73.5,833.3 72.7,833.2 71.9,831.5 71.1,831.8 70.3,831.9 69.5,830.9 68.7,831.7 67.9,832 67.1,831.1 66.3,831.5 65.5,831.7 64.7,831.6 63.9,830.6 63.1,833.2 62.3,830.8 61.5,832.8" fill="#000"/>
<polyline points="867.8,831.8 867.8,811 868.2,879.3 896.4,879.8 896.8,902.9 902.6,902.9" fill="none" stroke="#000" stroke-width="1.4" stroke-linejoin="round" stroke-linecap="butt" />
<polygon points="113.5,793 114.2,792 114.9,791.7 115.6,791.4 116.3,791.4 117,790.5 117.7,792.4 118.4,792.9 119.1,792.5 119.8,791.4 120.5,793.3 121.2,792.6 121.9,791.9 122.6,792 123.3,791.8 124,791.4 124.7,790.8 125.4,792.9 126.1,790.8 126.8,790.9 127.5,790.2 128.2,792.4 128.9,790.6 129.6,792.1 130.3,791 131,793.3 131.7,794 132.4,790.7 133.1,792 133.8,792.8 134.5,791.2 135.2,793.1 135.9,790.8 136.6,791.4 137.3,794 138,793.1 138.7,791.2 139.4,793.2 140.1,790.8 140.8,793.2 141.5,791.9 142.2,791.9 142.9,792.7 143.6,791.2 144.3,792.8 145,792.6 145.7,792.8 146.4,792.6 147.1,791.3 147.8,792.8 148.5,792.5 149.2,791.9 149.9,791 150.6,793.2 151.3,793.1 152,791.8 152.7,791.5 153.4,791.5 154.1,790 154.8,791.8 155.5,793.6 156.2,792.8 156.9,793.1 157.6,793.9 158.3,791.7 159,793.8 159.7,791 160.4,791.7 161.1,791.8 161.8,791.1 162.5,790.9 163.2,792.6 163.9,792.4 164.6,791.2 165.3,791.6 166,791.2 166.7,794 167.4,790.7 168.1,791.7 168.8,793.6 169.5,792.5 170.2,791.1 170.9,791 171.6,791.3 172.3,792.3 173,792.8 173.7,791.8 174.4,792.6 175.1,791.8 175.8,790.5 176.5,793.1 177.2,790.9 177.9,791.4 178.6,793.5 179.3,792.6 180,790.6 180.7,791.2 181.4,793.2 182.1,791.5 182.8,792.6 183.5,792.9 184.2,791.3 184.9,791.9 185.7,794.9 186.4,792 187.1,792 187.8,791.4 188.5,793.9 189.2,791.5 189.9,790.1 190.6,792.2 191.3,793.1 192,792.4 192.7,793.5 193.4,794.1 194.1,791.6 194.8,791 195.5,792.2 196.2,793.2 196.9,793.8 197.6,793.6 198.3,791.9 199,792.9 199.7,791.5 200.4,791.6 201.1,792.5 201.8,792.1 202.5,793 203.2,793.7 203.9,792.5 204.6,791.4 205.3,794.7 206,792.3 206.7,792.6 207.4,792.1 208.1,793.5 208.8,791.8 209.5,792.7 210.2,794 210.9,793.9 211.6,791.5 212.3,791.2 213,793.8 213.7,791.2 214.4,792.9 215.1,793.2 215.8,791.4 216.5,794.3 217.2,790.9 217.9,792.6 218.6,791.8 219.3,792.4 220,793.8 220.7,791.1 221.4,791.7 222.1,793.4 222.8,792 223.5,792.5 224.2,793.3 224.9,792.4 225.6,793.7 226.3,790.7 227,793.5 227.7,791.8 228.4,792.2 229.1,792.8 229.8,793.3 230.5,792.5 231.2,792.2 231.9,792.7 232.6,792.6 233.3,791.2 234,793.4 234.7,793.2 235.4,793.2 236.1,792.8 236.8,792.1 237.5,791.3 238.2,792.3 238.9,792.4 239.6,791.9 240.3,791.1 241,791.8 241.7,791.9 242.4,792.2 243.1,792.8 243.8,793 244.5,793.1 245.2,791 245.9,791 246.6,792.5 247.3,792.4 248,793.2 248.7,793 249.4,793.3 250.1,793.4 250.8,791.9 251.5,793.3 252.2,791 252.9,794.6 253.6,791.5 254.3,791.7 255,792.1 255.7,792.2 256.4,791 257.1,793.7 257.8,791.5 258.5,792.6 259.2,792.8 259.9,791.2 260.6,792.7 261.3,792.6 262,792.1 262.7,791.7 263.4,793.1 264.1,791.3 264.8,792.5 265.5,792.4 266.2,792.8 266.9,792.6 267.6,792.8 268.3,793.4 269,792 269.7,791.2 270.4,790.7 271.1,793.6 271.8,793.7 272.5,792 273.2,793.1 273.9,790.6 274.6,793 275.3,793.4 276,791.5 276.7,790.7 277.4,793.3 278.1,790.2 278.8,792.9 279.5,791.1 280.2,794 280.9,793.3 281.6,791.5 282.3,792 283,790.8 283.7,792.2 284.4,790.6 285.1,793 285.8,791.6 286.5,792.8 287.2,792.3 287.9,791.4 288.6,793.2 289.3,793.1 290,793.2 290.7,791.7 291.4,792.1 292.1,791.2 292.8,792.9 293.5,793.3 294.2,794.2 294.9,791.7 295.6,792.2 296.3,793.4 297,791.9 297.7,791.8 298.4,794.1 299.1,792.2 299.8,792.4 300.5,792.2 301.2,794.3 301.9,792.8 302.6,792.2 303.3,793.4 304,791.5 304.7,793.9 305.4,794.4 306.1,792.9 306.8,791.8 307.5,792.5 308.2,793.2 308.9,793.3 309.6,791.9 310.3,792.5 311,791.6 311.7,791.8 312.4,792.5 313.1,792.8 313.8,792.3 314.5,792.7 315.2,793.3 315.9,792.9 316.6,792.7 317.3,793.1 318,792.6 318.7,791.6 319.4,791.1 320.1,791.2 320.8,794.3 321.5,792.4 322.2,790.7 322.9,792.2 323.6,791.9 324.3,792.3 325,792.3 325.7,793.2 326.4,792 327.1,793.8 327.8,791.4 328.6,792.1 329.3,791.7 330,793.1 330.7,793 331.4,792.1 332.1,793.2 332.8,792.4 333.5,790.5 334.2,794.2 334.9,792.9 335.6,792 336.3,792.9 337,793.2 337.7,792 338.4,790.6 339.1,791.8 339.8,792.9 340.5,792.1 341.2,793.2 341.9,793.7 342.6,792.6 343.3,792.3 344,793.3 344.7,789.8 345.4,790.9 346.1,793.7 346.8,791.9 347.5,791.2 348.2,793.8 348.9,794 349.6,792.1 350.3,793.4 351,794 351.7,792.9 352.4,792.9 353.1,792.3 353.8,791.3 354.5,792.6 355.2,792.7 355.9,792.3 356.6,792.4 357.3,794.2 358,792.6 358.7,790.8 359.4,792.8 360.1,793.3 360.8,792 361.5,791.6 362.2,791.4 362.9,791.6 363.6,793.6 364.3,792.2 365,793.4 365.7,793.6 366.4,791.8 367.1,791.6 367.8,793.2 368.5,793.3 369.2,792.5 369.9,793.2 370.6,793.3 371.3,792.7 372,793.1 372.7,791.9 373.4,791.5 374.1,792.7 374.8,793.1 375.5,793.5 376.2,794.7 376.9,793.2 377.6,792.5 378.3,793 379,791.3 379.7,790.8 380.4,793.7 381.1,792.3 381.8,793.2 382.5,793.3 383.2,793.2 383.9,793.5 384.6,792.5 385.3,793.3 386,793.1 386.7,793.5 387.4,792.7 388.1,792.8 388.8,790.6 389.5,793.2 390.2,792.9 390.9,791.8 391.6,791.9 392.3,792.1 393,792.4 393.7,791 394.4,791.9 395.1,791.4 395.8,793.4 396.5,792.5 397.2,792.7 397.9,792.5 398.6,791.3 399.3,792.9 400,792.8 400.7,793.6 401.4,791.9 402.1,792.5 402.8,793.7 403.5,792.4 404.2,792.3 404.9,792.8 405.6,791.6 406.3,791.4 407,790.9 407.7,792.5 408.4,793 409.1,791.9 409.8,792.4 410.5,793 411.2,793 411.9,791.4 412.6,792.5 413.3,794.8 414,792.7 414.7,793.4 415.4,793 416.1,792.9 416.8,792.5 417.5,790.8 418.2,790.5 418.9,792.5 419.6,792 420.3,792.8 421,793 421.7,791.6 422.4,792.2 423.1,792.4 423.8,793.5 424.5,792 425.2,791.3 425.9,794 426.6,793.3 427.3,791 428,792.8 428.7,793.6 429.4,791.1 430.1,793.8 430.8,792.8 431.5,791.9 432.2,793.1 432.9,791.8 433.6,792.6 434.4,792.4 435.1,792.9 435.8,794.2 436.5,790.9 437.2,792.4 437.9,791.9 438.6,794.1 439.3,794 440,792.9 440.7,791.5 441.4,792.3 442.1,792 442.8,793.6 443.5,793.2 444.2,792.6 444.9,793.6 445.6,792.7 446.3,791.3 447,793.2 447.7,794.1 448.4,792.7 449.1,792.3 449.8,791.3 450.5,792.1 451.2,792.2 451.9,795.3 452.6,792.8 453.3,792.2 454,793.8 454.7,793.2 455.4,793.3 456.1,794 456.8,792 457.5,792.6 458.2,793.3 458.9,793.8 459.6,792.2 460.3,792.8 461,792.9 461.7,792.2 462.4,791.1 463.1,793.3 463.8,793.9 464.5,792.3 465.2,791.5 465.9,792.9 466.6,792.1 467.3,792 468,789.7 468.7,793.3 469.4,791.4 470.1,792.3 470.8,793 471.5,792.2 472.2,791.9 472.9,793.8 473.6,793.3 474.3,793.2 475,793.1 475.7,793.3 476.4,791.3 477.1,792.2 477.8,793.6 478.5,792.9 479.2,792.2 479.9,792.8 480.6,795.5 481.3,793.4 482,794.2 482.7,794.9 483.4,792.7 484.1,793.7 484.8,791.7 485.5,791.5 486.2,791.9 486.9,790.8 487.6,794.6 488.3,792.5 489,792.3 489.7,792.2 490.4,792.2 491.1,792.1 491.8,790.1 492.5,791.9 493.2,793 493.9,792.7 494.6,792.4 495.3,792.2 496,792.3 496.7,792.2 497.4,792 498.1,792.3 498.8,791 499.5,790.8 500.2,793.5 500.9,791.2 501.6,791.2 502.4,792.7 503.1,790.7 503.8,790.6 504.5,790.6 505.2,794.1 505.9,795.3 506.6,792.4 507.3,792.2 508,791.8 508.7,793 509.4,792.3 510.1,792.7 510.8,795.2 511.5,792.2 512.2,792.6 512.9,792.6 513.6,792.6 514.3,792.5 515,791.7 515.7,790.8 516.4,792 517.1,793.8 517.8,791.3 518.5,793 519.2,794.6 519.9,791.9 520.6,793.8 521.3,791.7 522,792.3 522.7,793.2 523.4,794.4 524.1,790.3 524.8,791.4 525.5,792.5 526.2,791.9 526.9,791.6 527.6,791.4 528.3,792.7 529,789.6 529.7,791.3 530.4,792.4 531.1,792.3 531.8,792.2 532.5,792.6 533.2,790.2 533.9,791.4 534.6,793.2 535.3,791.4 536,792.6 536.7,791.2 537.4,791.5 538.1,793.4 538.8,791.3 539.5,793.5 540.2,793.3 540.9,792.8 541.6,795.2 542.3,791.6 543,791 543.7,793.6 544.4,792.3 545.1,791.9 545.8,794.6 546.5,792.3 547.2,791.5 547.9,792.7 548.6,792.3 549.3,794.6 550,792.8 550.7,792.4 551.4,793.7 552.1,793.2 552.8,791.5 553.5,791.9 554.2,792.9 554.9,791.3 555.6,791.6 556.3,792.5 557,792.8 557.7,793.5 558.4,794.8 559.1,793 559.8,792.4 560.5,792.8 561.2,792.2 561.9,792.7 562.6,793 563.3,792.9 564,791.9 564.7,791.6 565.4,792 566.1,791.9 566.8,794.6 567.5,793.7 568.2,791.3 568.9,790.7 569.7,793.7 570.4,791.9 571.1,792.1 571.8,791.4 572.5,794.1 573.2,791.8 573.9,790.6 574.6,792.9 575.3,793.9 576,792.2 576.7,792.1 577.4,793 578.1,791.8 578.8,791.5 579.5,791.5 580.2,792.2 580.9,791.2 581.6,791.9 582.3,792.6 583,792 583.7,793.2 584.4,792.5 585.1,794.2 585.8,792.1 586.5,794 587.2,792.9 587.9,792.4 588.6,790.2 589.3,792.8 590,792.2 590.7,793.1 591.4,794.1 592.1,793 592.8,792.5 593.5,792.1 594.2,794.2 594.9,791.7 595.6,791.6 596.3,792 597,791.7 597.7,792.7 598.4,795.1 599.1,791.8 599.8,791.7 600.5,792.3 601.2,793.6 601.9,792.5 602.6,792.3 603.3,793.4 604,791.8 604.7,792.3 605.4,792.8 606.1,791.7 606.8,792.4 607.5,792.3 608.2,792 608.9,791 609.6,792.5 610.3,790.6 611,793.2 611.7,792.8 612.4,792.6 613.1,790.7 613.8,791.3 614.5,790.4 615.2,790.8 615.9,793.7 616.6,792.7 617.3,793 618,794 618.7,793.1 619.4,792.7 620.1,792.2 620.8,791.2 621.5,792.4 622.2,792.1 622.9,792.2 623.6,792.5 624.3,793.3 625,792.2 625.7,793.5 626.4,791.8 627.1,792.1 627.8,793.7 628.5,793.5 629.2,792 629.9,791.4 630.6,790.2 631.3,793.2 632,791.3 632.7,791.2 633.4,792.1 634.1,791.2 634.8,793.9 635.5,792.2 636.2,791.3 636.9,791.9 637.7,791.2 638.4,792.4 639.1,791.2 639.8,791 640.5,792.6 641.2,792.5 641.9,792 642.6,790.8 643.3,792.7 644,793.4 644.7,791.1 645.4,791.7 646.1,792.6 646.8,793.4 647.5,791.2 648.2,792.2 648.9,791.4 649.6,791.5 650.3,791 651,792.1 651.7,793.2 652.4,792.1 653.1,791.7 653.8,793.9 654.5,793.6 655.2,792.3 655.9,793 656.6,791 657.3,794.6 658,794 658.7,794.5 659.4,793.3 660.1,792.3 660.8,792.6 661.5,790.7 662.2,790 662.9,791.6 663.6,792.7 664.3,791.9 665,792.3 665.7,794.5 666.4,792.5 667.1,792.1 667.8,792.7 668.5,792.3 669.2,790.3 669.9,791.7 670.6,791.1 671.3,792.5 672.5,791.3 673.2,791.1 673.9,790.8 674.6,790.8 675.3,792.2 676,792.4 677.2,795.6 677.9,795.9 678.6,797.1 679.4,793.3 680.1,795 680.8,796.2 681.5,794.5 682.3,794.5 683,795.1 683.7,795 684.4,795.5 685.2,794.5 685.9,795.4 686.6,794.2 687.3,795.1 688.1,793.9 688.8,794.8 689.5,794.7 690.2,794.2 691,792.7 691.7,794.9 692.4,792.9 693.6,790.7 694.3,788.8 695,790.2 695.7,791.4 696.4,791.5 697.1,790.9 697.8,790.1 698.5,788.4 699.2,789 699.9,792.8 700.6,790.1 701.3,791.6 702,791.7 702.7,788.5 703.4,791 704.2,790.5 704.9,790.4 705.6,792.6 706.3,790.4 707,791.5 707.7,790.7 708.4,790.9 709.1,791.1 709.8,791.2 710.5,791 711.2,789.2 711.9,792.4 712.6,790.3 713.3,792.1 714,792.4 715.2,795.1 715.9,795.7 716.6,796.6 717.3,795.5 718,795.7 718.7,795.6 719.4,793.9 720.1,795.6 720.8,795.3 721.5,794.3 722.2,794.8 723,794.8 723.7,794 724.4,793.4 725.1,795.2 725.8,796 726.5,794.6 727.2,793.6 727.9,793.9 728.6,796 729.3,793.7 730,794.4 731.2,789.3 731.9,788.7 732.6,790.2 733.4,789.2 734.1,788.3 734.8,789.8 735.5,790.3 736.3,789.2 737,790.8 737.7,788.7 738.4,790.7 739.1,790.2 739.9,789 740.6,789.5 741.3,791.1 742,791.1 742.7,790.9 743.5,789.3 744.2,790.2 744.9,790.6 745.6,790.1 746.4,790.5 747.1,789.5 747.8,790.1 749,796.2 749.7,796.6 750.4,794.7 751.2,795 751.9,794 752.6,795.5 753.3,793.7 754,795.7 754.8,794.6 755.5,793.4 756.2,794.8 756.9,796.1 757.7,794.5 758.4,794.1 759.1,793 759.8,794.7 760.5,795.4 761.3,793.7 762,793.3 762.7,796 763.9,790.1 764.6,790.2 765.3,790.3 766.1,791.1 766.8,793.5 767.5,788.8 768.2,789 768.9,791.3 769.7,790.6 770.4,790.6 771.1,791.7 771.8,789.6 772.6,791.1 773.3,790.7 774,790.3 774.7,790.8 775.4,791 776.2,791.4 776.9,791.4 777.6,790.1 778.8,794.8 779.5,794.8 780.2,798 780.9,793.6 781.7,796.2 782.4,795.4 783.1,797.9 783.8,795.7 784.5,794.8 785.2,794.5 785.9,795.8 786.7,796.1 787.4,794.2 788.1,797.2 788.8,795.8 789.5,795 790.2,795.8 790.9,793.2 791.7,795.8 792.4,797 793.1,795.1 793.8,795.8 795,791.5 795.7,790.7 796.5,790.5 797.2,789.3 797.9,792.3 798.7,790.8 799.4,791.3 800.1,790.8 800.9,790 801.6,790.5 802.3,790 803.1,790.1 803.8,789.8 804.5,789.9 805.3,791.1 806,790.8 807.2,796 807.9,796.1 808.6,795.1 809.3,795.7 810.1,794.1 810.8,796.4 811.5,796.3 812.2,795.3 812.9,793.3 813.6,795.1 814.4,796.3 815.1,794.2 815.8,796 816.5,795 817.2,794.3 817.9,795.4 818.7,793.8 819.4,795.2 820.1,795.2 820.8,795.5 822,789 822.7,789.5 823.5,789.9 824.2,789.6 824.9,790.5 825.7,790.6 826.4,788.1 827.1,790.4 827.9,788.4 828.6,790.6 829.3,792.2 830.1,788.8 830.8,790.4 831.5,789.3 832.3,790.1 833,790.8 834.2,794.6 834.9,794.9 835.6,794.9 836.3,793.4 837,796.1 837.7,795.7 838.4,794.3 839.1,795.4 839.8,795 840.5,793.1 841.2,793.5 842,795.7 842.7,796.5 843.4,796.5 844.1,795.5 844.8,794.4 845.5,795.9 846.2,795.1 846.9,793.9 847.6,794.7 848.3,794.1 849,794.6 850.2,789.9 850.9,791.9 851.7,790.3 852.4,788.3 853.2,792.6 853.9,791.5 854.7,791.6 855.4,789 856.2,790.3 856.9,790.2 857.7,790.2 858.4,791.3 859.2,791 859.9,793.2 860.7,792.2 861.4,790.8 862.6,795.4 863.3,795.3 864,794 864.7,796.7 865.5,794.9 866.2,793.9 866.9,794.5 867.6,797 868.3,794 869,796.2 869.8,795.5 870.5,793.3 871.2,795.8 871.9,795.4 872.6,793.3 873.3,796.9 874.1,796.8 874.8,794.6 875.5,792.8 876.2,795 877.4,791.2 878.1,789.7 878.8,789.9 879.5,787.8 880.2,788.9 880.9,790.4 881.6,790.4 882.3,790.1 883,790.3 883.7,788.5 884.4,790.7 885.1,790.7 885.8,789.5 886.6,790.4 887.3,789 888,791.1 888.7,792.1 889.4,789 890.1,788.5 890.8,789.6 891.5,789.7 892.2,789.3 892.9,789.7 893.6,789.1 894.3,787.3 895,790.6 896.2,796.5 897,796.3 897.8,797.2 898.6,794 899.4,794.8 900.1,795.4 900.9,796 901.7,795 902.5,796.2 902.5,801 901.7,804 900.9,801.9 900.1,804.5 899.4,803.3 898.6,801.9 897.8,803.1 897,803.2 896.2,803.4 895,797.6 894.3,798 893.6,795.3 892.9,796 892.2,796.7 891.5,798.7 890.8,797.5 890.1,796.3 889.4,798.7 888.7,798.4 888,797.6 887.3,797.3 886.6,796.8 885.8,798.8 885.1,797.7 884.4,796.2 883.7,799.5 883,797.9 882.3,795.7 881.6,795.8 880.9,796.8 880.2,797 879.5,797.9 878.8,797.4 878.1,796.1 877.4,797.2 876.2,803.4 875.5,802.4 874.8,803.3 874.1,802.7 873.3,802.4 872.6,803 871.9,803 871.2,802.4 870.5,803.5 869.8,803.4 869,802.9 868.3,803.1 867.6,802.8 866.9,803.6 866.2,803.6 865.5,801.8 864.7,803 864,802 863.3,802.4 862.6,803.5 861.4,797.7 860.7,798.7 859.9,797.9 859.2,797.5 858.4,799 857.7,799 856.9,798.1 856.2,798.4 855.4,799.6 854.7,800.1 853.9,799 853.2,799.9 852.4,796.6 851.7,797.9 850.9,797.2 850.2,798 849,804 848.3,803 847.6,803.2 846.9,801.5 846.2,800.6 845.5,803.8 844.8,803.2 844.1,801.2 843.4,801.9 842.7,803.9 842,801.7 841.2,801.5 840.5,802.9 839.8,802.4 839.1,804 838.4,804.6 837.7,802.7 837,805.3 836.3,802.3 835.6,804.5 834.9,803.1 834.2,803.4 833,798.6 832.3,797.8 831.5,797.4 830.8,798.2 830.1,797.8 829.3,799.3 828.6,798.4 827.9,798.2 827.1,797.7 826.4,796 825.7,797.7 824.9,797.9 824.2,797.3 823.5,795.9 822.7,797.5 822,797.7 820.8,802.6 820.1,804.1 819.4,803.6 818.7,803.2 817.9,802.9 817.2,801.4 816.5,802 815.8,801.3 815.1,802.3 814.4,803.7 813.6,803 812.9,804.1 812.2,804.2 811.5,802.1 810.8,802.6 810.1,800 809.3,803.5 808.6,803 807.9,803.2 807.2,802 806,800.2 805.3,797.2 804.5,800.5 803.8,799.1 803.1,796.4 802.3,799.9 801.6,798.5 800.9,798 800.1,799.5 799.4,797 798.7,797.8 797.9,799.9 797.2,799.5 796.5,798.7 795.7,797.1 795,795.3 793.8,801.3 793.1,804.6 792.4,802.1 791.7,805 790.9,800.3 790.2,803.8 789.5,803.2 788.8,801.5 788.1,803.7 787.4,803.7 786.7,803.1 785.9,803.3 785.2,802.9 784.5,803.1 783.8,803.5 783.1,801.9 782.4,801.6 781.7,803.9 780.9,802.7 780.2,803.8 779.5,802.9 778.8,801.8 777.6,799.6 776.9,798.2 776.2,798.9 775.4,798.4 774.7,798.9 774,798.4 773.3,799.4 772.6,798 771.8,798.1 771.1,797.5 770.4,798.8 769.7,797.1 768.9,798.4 768.2,799.3 767.5,799.2 766.8,799.4 766.1,798.3 765.3,798.1 764.6,796.8 763.9,798.3 762.7,801.5 762,803.1 761.3,801.1 760.5,801.8 759.8,801.4 759.1,802.2 758.4,803.3 757.7,803.3 756.9,802.7 756.2,801.4 755.5,801.7 754.8,801.6 754,801.2 753.3,804.3 752.6,800.8 751.9,802.5 751.2,801.6 750.4,801.9 749.7,803.7 749,802.2 747.8,797.6 747.1,796.5 746.4,797.2 745.6,798.4 744.9,797.7 744.2,797.7 743.5,797.8 742.7,796.9 742,800.2 741.3,798 740.6,798.3 739.9,800.4 739.1,796.7 738.4,798 737.7,796 737,795.8 736.3,798.6 735.5,796.7 734.8,798.1 734.1,797.2 733.4,797.5 732.6,796.7 731.9,796.7 731.2,797.9 730,801 729.3,801.5 728.6,803.8 727.9,803.9 727.2,801.2 726.5,802.9 725.8,803.2 725.1,802.2 724.4,803.7 723.7,802 723,803.1 722.2,801.9 721.5,801.9 720.8,802.1 720.1,805 719.4,802.8 718.7,803 718,802.8 717.3,804.1 716.6,803.6 715.9,802.9 715.2,803.4 714,797.4 713.3,797.8 712.6,797.7 711.9,799.6 711.2,797.9 710.5,798.1 709.8,799.4 709.1,800.5 708.4,798.5 707.7,799.3 707,798.3 706.3,797.7 705.6,798.6 704.9,799 704.2,800 703.4,797.6 702.7,799.6 702,799.8 701.3,799.1 700.6,799.7 699.9,798.4 699.2,798.1 698.5,799.3 697.8,799.1 697.1,798.3 696.4,798.4 695.7,797.6 695,797.3 694.3,799.2 693.6,798.2 692.4,801.9 691.7,802.8 691,801.2 690.2,803.1 689.5,802.2 688.8,804.2 688.1,803.3 687.3,802.8 686.6,802 685.9,803.4 685.2,803.5 684.4,803.9 683.7,802.9 683,800.3 682.3,803.3 681.5,801.2 680.8,803.4 680.1,804.7 679.4,802.6 678.6,803.8 677.9,802.8 677.2,801.3 676,798.6 675.3,798.8 674.6,799.4 673.9,799.4 673.2,798.3 672.5,799.3 671.3,800.4 670.6,801.6 669.9,800.1 669.2,799.9 668.5,798.7 667.8,799.3 667.1,800.3 666.4,800.8 665.7,799.3 665,800.5 664.3,799.8 663.6,798.3 662.9,800.3 662.2,800 661.5,800 660.8,801.3 660.1,798.8 659.4,799.4 658.7,801 658,800.1 657.3,800.2 656.6,800.9 655.9,798.7 655.2,799.6 654.5,799.3 653.8,800.5 653.1,799.1 652.4,797.9 651.7,800.1 651,800.6 650.3,800.1 649.6,798.4 648.9,798.9 648.2,799.1 647.5,798 646.8,801.3 646.1,801.6 645.4,799.1 644.7,800 644,799.1 643.3,798.7 642.6,800.6 641.9,799.9 641.2,798.9 640.5,799 639.8,799.2 639.1,799.8 638.4,800.9 637.7,801.8 636.9,801.3 636.2,799.2 635.5,799.9 634.8,800.7 634.1,799.7 633.4,799.9 632.7,797.9 632,798.9 631.3,800.7 630.6,799.1 629.9,800.6 629.2,800.6 628.5,799.2 627.8,800.7 627.1,798.3 626.4,800.6 625.7,800.6 625,798.9 624.3,800.9 623.6,800.9 622.9,800.7 622.2,799.7 621.5,802.3 620.8,798 620.1,799.8 619.4,800 618.7,801 618,798.6 617.3,799.6 616.6,800.3 615.9,800.2 615.2,799.9 614.5,800.6 613.8,798.7 613.1,799.1 612.4,800.3 611.7,797.2 611,801.1 610.3,801.6 609.6,800.7 608.9,799.1 608.2,801.3 607.5,801.9 606.8,799.5 606.1,800.5 605.4,797.6 604.7,799.7 604,800 603.3,798.8 602.6,800.2 601.9,797.8 601.2,799.7 600.5,800.3 599.8,798.4 599.1,798.6 598.4,800.3 597.7,802.5 597,800.4 596.3,799 595.6,800.3 594.9,800.7 594.2,799.7 593.5,801.2 592.8,800.5 592.1,800.8 591.4,799.7 590.7,799 590,800.7 589.3,799.9 588.6,801.4 587.9,799.6 587.2,799.1 586.5,799.6 585.8,799.1 585.1,801 584.4,799.7 583.7,798.8 583,801.7 582.3,799.2 581.6,800.1 580.9,800.3 580.2,799.2 579.5,800 578.8,800.4 578.1,798.8 577.4,801.4 576.7,801 576,800.2 575.3,800.1 574.6,799.4 573.9,799.6 573.2,799.8 572.5,798.9 571.8,799.6 571.1,800.3 570.4,800 569.7,799.7 568.9,797.6 568.2,797.8 567.5,800 566.8,800.5 566.1,800.4 565.4,798.4 564.7,799.3 564,799.9 563.3,801.4 562.6,799.6 561.9,798 561.2,800 560.5,799.6 559.8,800.3 559.1,799.6 558.4,798.9 557.7,799.6 557,802.3 556.3,797.7 555.6,802.7 554.9,799.6 554.2,800.5 553.5,798.9 552.8,798.4 552.1,800.7 551.4,801.5 550.7,798.7 550,800 549.3,800.5 548.6,799.9 547.9,799.3 547.2,799.7 546.5,798.8 545.8,800.1 545.1,801.4 544.4,799.2 543.7,800.9 543,799.7 542.3,799.8 541.6,798.3 540.9,798.2 540.2,799.9 539.5,799.2 538.8,800.7 538.1,799.8 537.4,800.7 536.7,799.9 536,799.6 535.3,801.3 534.6,800.6 533.9,800.1 533.2,800.5 532.5,798.3 531.8,800 531.1,800.7 530.4,799.7 529.7,800 529,799.3 528.3,798.9 527.6,801.4 526.9,800.8 526.2,800.3 525.5,800.1 524.8,800.6 524.1,799.5 523.4,799.5 522.7,799.5 522,800.5 521.3,801.4 520.6,798.9 519.9,800.9 519.2,798.7 518.5,800.5 517.8,800.4 517.1,800.6 516.4,799.7 515.7,799.1 515,800.6 514.3,799.3 513.6,800.4 512.9,800 512.2,799.9 511.5,799.3 510.8,800.3 510.1,800.2 509.4,799.1 508.7,801.1 508,800.3 507.3,800.8 506.6,799.6 505.9,801.1 505.2,801.8 504.5,800.7 503.8,800.6 503.1,800.5 502.4,798.2 501.6,799.1 500.9,800.7 500.2,798.7 499.5,799.8 498.8,800.1 498.1,800.6 497.4,800.2 496.7,799.3 496,797.9 495.3,800.6 494.6,799.1 493.9,800.7 493.2,800.6 492.5,799.4 491.8,798.9 491.1,801 490.4,799 489.7,800.4 489,798.9 488.3,800.9 487.6,800.4 486.9,800.2 486.2,798.8 485.5,800.8 484.8,800.8 484.1,799.3 483.4,798.3 482.7,800.7 482,801.1 481.3,799 480.6,802.5 479.9,798.8 479.2,800.1 478.5,801.8 477.8,802.2 477.1,802.6 476.4,799.5 475.7,799.4 475,798.3 474.3,800.5 473.6,800.2 472.9,799.1 472.2,799.7 471.5,800.2 470.8,802 470.1,800.4 469.4,800.8 468.7,800.1 468,799.1 467.3,800.7 466.6,800.8 465.9,799 465.2,799.2 464.5,799 463.8,800 463.1,799.3 462.4,799.1 461.7,800.8 461,799.9 460.3,802 459.6,798.4 458.9,799.9 458.2,799.8 457.5,800.7 456.8,800.2 456.1,800.4 455.4,799.5 454.7,797.7 454,800.6 453.3,800.3 452.6,799.8 451.9,801.3 451.2,799.6 450.5,800.7 449.8,798.8 449.1,802.1 448.4,801.4 447.7,800.9 447,799.9 446.3,800.8 445.6,801.3 444.9,801.5 444.2,799.4 443.5,798.4 442.8,799.9 442.1,801.3 441.4,799.8 440.7,801.4 440,800.9 439.3,800.2 438.6,800.7 437.9,799.6 437.2,800.6 436.5,800.4 435.8,798.9 435.1,800.5 434.4,799.6 433.6,800.3 432.9,798.6 432.2,799 431.5,798.9 430.8,800 430.1,800.4 429.4,798.3 428.7,801.1 428,799.2 427.3,799.9 426.6,799 425.9,800.4 425.2,800.7 424.5,798.7 423.8,801.7 423.1,800.3 422.4,801.5 421.7,799.8 421,802.2 420.3,800.8 419.6,800.9 418.9,800.1 418.2,801 417.5,802.4 416.8,801 416.1,800 415.4,800.9 414.7,799.5 414,802.4 413.3,801 412.6,801.4 411.9,799.8 411.2,799.6 410.5,801.8 409.8,799.8 409.1,801 408.4,800.5 407.7,799.3 407,800 406.3,800.1 405.6,801.3 404.9,800.7 404.2,801.2 403.5,799.7 402.8,799.7 402.1,801.8 401.4,797.1 400.7,801.3 400,799.3 399.3,799.7 398.6,800.3 397.9,799.9 397.2,801.1 396.5,800.7 395.8,801.2 395.1,800.4 394.4,799.9 393.7,801.8 393,800.4 392.3,800.6 391.6,801.4 390.9,800.1 390.2,799.2 389.5,799.4 388.8,799.8 388.1,800.5 387.4,799.9 386.7,800.1 386,800.4 385.3,800.6 384.6,800.7 383.9,798.9 383.2,800.8 382.5,800.8 381.8,800.3 381.1,799.8 380.4,802.6 379.7,799.1 379,799.1 378.3,799.8 377.6,799.9 376.9,800.1 376.2,800.2 375.5,799.2 374.8,799.6 374.1,800.6 373.4,799.8 372.7,799.9 372,798 371.3,801.5 370.6,799.3 369.9,801.2 369.2,800.3 368.5,798.4 367.8,799.6 367.1,799.4 366.4,800.7 365.7,801 365,799.5 364.3,800.9 363.6,801.2 362.9,800.6 362.2,799.5 361.5,801.2 360.8,801.5 360.1,801 359.4,801 358.7,799.6 358,799.1 357.3,799.2 356.6,801.2 355.9,801.3 355.2,801.2 354.5,800.3 353.8,801.4 353.1,799.7 352.4,801.2 351.7,798.8 351,799.7 350.3,799.5 349.6,800.6 348.9,799.3 348.2,799 347.5,800.8 346.8,800.4 346.1,801.5 345.4,800.1 344.7,800.7 344,802.8 343.3,798.7 342.6,800.7 341.9,798.2 341.2,799.6 340.5,797.5 339.8,799.1 339.1,801 338.4,800.3 337.7,801 337,800.4 336.3,800.3 335.6,800.7 334.9,799.3 334.2,799.7 333.5,799.3 332.8,799.8 332.1,800.4 331.4,801.4 330.7,798.8 330,799.7 329.3,800 328.6,800.2 327.8,798.8 327.1,800.5 326.4,800.1 325.7,800.9 325,801 324.3,798.8 323.6,799 322.9,800.1 322.2,802 321.5,799.9 320.8,798.9 320.1,799.4 319.4,801.4 318.7,800.2 318,799.3 317.3,801.5 316.6,799.9 315.9,801.8 315.2,799 314.5,800.1 313.8,799.2 313.1,800.3 312.4,800.8 311.7,799 311,799.5 310.3,800.8 309.6,801.3 308.9,801.3 308.2,800 307.5,800.9 306.8,797 306.1,799.8 305.4,799.5 304.7,800.3 304,799.1 303.3,799 302.6,801.8 301.9,800.8 301.2,801.5 300.5,800.7 299.8,800.1 299.1,801.1 298.4,801.8 297.7,800.3 297,798.8 296.3,801.2 295.6,799.7 294.9,799.4 294.2,800.2 293.5,798.8 292.8,800.1 292.1,800.9 291.4,799.8 290.7,798 290,799.1 289.3,797.8 288.6,798 287.9,801 287.2,798.9 286.5,799.8 285.8,801.4 285.1,798.4 284.4,799.3 283.7,801.3 283,801.2 282.3,799.5 281.6,798.8 280.9,800.1 280.2,800.2 279.5,802.8 278.8,799.4 278.1,801.2 277.4,800.7 276.7,800.2 276,800.5 275.3,799.8 274.6,800.9 273.9,800.6 273.2,799.4 272.5,798.3 271.8,799.7 271.1,801.1 270.4,798.8 269.7,800.3 269,800.6 268.3,799.4 267.6,800.9 266.9,799.7 266.2,799.4 265.5,801.6 264.8,798.9 264.1,799.8 263.4,796.6 262.7,801 262,800.5 261.3,798.9 260.6,801 259.9,801.4 259.2,801 258.5,799.1 257.8,799.9 257.1,800.5 256.4,799.1 255.7,799.7 255,799.9 254.3,800.6 253.6,801.8 252.9,799.9 252.2,801.5 251.5,800.1 250.8,800 250.1,800.8 249.4,799 248.7,797.2 248,799 247.3,800.1 246.6,799 245.9,800.5 245.2,801.6 244.5,799.8 243.8,799.3 243.1,800.1 242.4,800.8 241.7,801 241,800.9 240.3,799.5 239.6,797.4 238.9,801 238.2,798.3 237.5,799.6 236.8,800.3 236.1,801.5 235.4,800.7 234.7,800.1 234,800 233.3,798.1 232.6,799.5 231.9,802 231.2,800.8 230.5,799.4 229.8,800.3 229.1,800.3 228.4,799.3 227.7,799.6 227,800.1 226.3,800.7 225.6,800.8 224.9,799.4 224.2,799.8 223.5,800.6 222.8,801 222.1,800.1 221.4,799.6 220.7,799.7 220,799.6 219.3,799.1 218.6,799.4 217.9,799.2 217.2,799.8 216.5,799.8 215.8,799.3 215.1,798.9 214.4,801.1 213.7,800.1 213,799.2 212.3,800.4 211.6,799.2 210.9,800.9 210.2,798.3 209.5,799.9 208.8,799.3 208.1,800 207.4,799.9 206.7,798.9 206,799.5 205.3,799.9 204.6,798.3 203.9,800.4 203.2,799.3 202.5,800 201.8,801.9 201.1,799 200.4,800.1 199.7,799.5 199,799.8 198.3,798.7 197.6,799.7 196.9,800 196.2,800 195.5,798.9 194.8,799.7 194.1,800.8 193.4,798.4 192.7,800.7 192,800.6 191.3,800.4 190.6,800 189.9,800.3 189.2,798.3 188.5,800.3 187.8,800.9 187.1,798.2 186.4,799.9 185.7,800.1 184.9,798.4 184.2,799.1 183.5,798.8 182.8,801.2 182.1,800.4 181.4,800.9 180.7,800.4 180,800.2 179.3,800 178.6,799 177.9,799.8 177.2,801.1 176.5,798.6 175.8,800.9 175.1,800.3 174.4,798.4 173.7,800.2 173,800.2 172.3,800.3 171.6,800.9 170.9,798.8 170.2,799.6 169.5,797.7 168.8,799.9 168.1,802.1 167.4,800.3 166.7,799.1 166,800.7 165.3,798.6 164.6,799.4 163.9,799.2 163.2,800.2 162.5,797.9 161.8,799.9 161.1,801.4 160.4,800.2 159.7,799.3 159,798.8 158.3,799 157.6,799.9 156.9,799.8 156.2,797.7 155.5,799.1 154.8,800.5 154.1,799.9 153.4,799.8 152.7,800.6 152,800.5 151.3,799.7 150.6,800.4 149.9,797.7 149.2,797.7 148.5,799.4 147.8,798.2 147.1,798.9 146.4,799.5 145.7,800.2 145,798.3 144.3,799.1 143.6,800.9 142.9,800.3 142.2,800.6 141.5,799.9 140.8,800 140.1,799.3 139.4,799 138.7,801.3 138,800 137.3,800.3 136.6,797.8 135.9,799.1 135.2,799.7 134.5,798.9 133.8,798.7 133.1,800.1 132.4,799.4 131.7,798.8 131,800.2 130.3,799.8 129.6,800.6 128.9,799 128.2,798.6 127.5,800.7 126.8,798.9 126.1,799.6 125.4,799.9 124.7,799.9 124,799.9 123.3,800.6 122.6,798.7 121.9,800.2 121.2,799.6 120.5,799.2 119.8,799 119.1,798.3 118.4,799.5 117.7,797.5 117,800.4 116.3,800 115.6,799.6 114.9,800.6 114.2,803 113.5,799.5" fill="#b020b0"/>
<polyline points="61.3,835.8 105.6,835.8 107.5,834 112.4,792.5 114,792.5" fill="none" stroke="#b020b0" stroke-width="2.8" stroke-linejoin="round" stroke-linecap="butt" />
<line x1="297.1" y1="755" x2="297.1" y2="848.6" stroke="#222" stroke-width="1.1"/>
<line x1="484.2" y1="755" x2="484.2" y2="831.3" stroke="#222" stroke-width="1.1"/>
<line x1="671.6" y1="755" x2="671.6" y2="793" stroke="#222" stroke-width="1.1"/>
<line x1="671.6" y1="793" x2="671.6" y2="833.8" stroke="#b020b0" stroke-width="1.1"/>
<text transform="translate(333.5 873) scale(0.796 1)" font-size="29.07" fill="#000">ECRF</text>
<text transform="translate(537.9 823.6) scale(0.894 1)" font-size="27.91" fill="#b020b0">LH</text>
<polyline points="61.5,1085.2 903,1085.2" fill="none" stroke="#000" stroke-width="3.0" stroke-linejoin="round" stroke-linecap="butt" />
<polyline points="109.1,1085 109.4,1003" fill="none" stroke="#1414f0" stroke-width="3.0" stroke-linejoin="round" stroke-linecap="butt" />
<polygon points="109.4,998.9 110.2,997.9 111,996.2 111.8,995 112.6,994.8 113.4,996.2 114.2,994.1 115,994.7 115.7,994 116.4,995 117.1,995.1 117.8,995.5 118.5,995.4 119.2,993.7 119.9,994 120.6,993.9 121.3,994 122,994.5 122.7,994.2 123.4,993.6 124.1,993.7 124.8,996.4 125.5,993 126.2,996.1 126.9,993.2 127.6,993.3 128.3,993.8 129,993.8 129.7,994 130.4,993.5 131.1,993.7 131.8,994.3 132.5,994.7 133.2,994.3 133.9,994.7 134.6,994 135.3,995.6 136,991.5 136.7,993.5 137.4,994 138.1,993.6 138.8,994 139.5,994 140.2,994.8 140.9,993.6 141.6,993.6 142.3,992.8 143,993.7 143.7,993.3 144.4,993.8 145.1,993.3 145.8,993.8 146.5,993.1 147.2,992.4 147.9,992.9 148.6,992.9 149.3,994.2 150,993.2 150.7,993.6 151.4,994.1 152.1,993.7 152.8,993.1 153.5,993.5 154.2,991.4 154.9,993.8 155.6,992.5 156.3,991.7 157,993.7 157.7,992.8 158.5,991.7 159.2,993.6 159.9,994.1 160.6,993 161.3,992.5 162,993.4 162.7,994.5 163.4,992.3 164.1,992.6 164.8,992.3 165.5,993 166.2,992.9 166.9,993.3 167.6,992.5 168.3,993.1 169,994.4 169.7,991.6 170.4,992.5 171.1,992.6 171.8,992.4 172.5,992.5 173.2,992.4 173.9,993 174.6,992.3 175.4,992.6 176.1,992.5 176.8,993.2 177.5,990.8 178.2,992.9 178.9,991.3 179.6,991.8 180.3,992.3 181,991.5 181.7,992.7 182.4,992.5 183.1,993 183.8,993.1 184.5,991.4 185.2,993.9 185.9,992.5 186.6,992.7 187.3,991.6 188,991.4 188.7,992.9 189.4,992.5 190.1,990.8 190.8,992.7 191.5,992.4 192.3,990.5 193,990.3 193.7,991.7 194.4,991.4 195.1,992.2 195.8,993 196.5,993.2 197.2,991.3 197.9,991.1 198.6,993.1 199.3,991.8 200,991.4 200.7,993 201.4,992.3 202.1,991.6 202.8,992.6 203.5,991.5 204.2,992.5 204.9,992.4 205.6,992 206.3,990.9 207,991.6 207.7,993.1 208.5,992.7 209.2,992.4 209.9,991 210.6,992.5 211.3,991 212,991.6 212.7,992.1 213.4,993.1 214.1,991 214.8,991.8 215.5,990.4 216.2,990.8 216.9,992.3 217.6,992 218.3,992.3 219,992.6 219.7,993 220.4,991.9 221.1,990.6 221.8,991.1 222.5,990.8 223.2,991.3 223.9,991 224.6,991.6 225.4,990.7 226.1,992.2 226.8,990.8 227.5,990.9 228.2,990.3 228.9,990.4 229.6,991.3 230.3,991.2 231,990.8 231.7,991.3 232.4,991.7 233.1,990.3 233.8,990.2 234.5,991.6 235.2,990.7 235.9,991.1 236.6,991.4 237.3,991 238,991.8 238.7,991.3 239.4,991.6 240.1,991.7 240.8,990.5 241.5,990.5 242.3,991.8 243,990.9 243.7,993.1 244.4,990.2 245.1,989.6 245.8,990.6 246.5,992.6 247.2,991.8 247.9,990.3 248.6,991.2 249.3,991.6 250,990.5 250.7,991 251.4,991 252.1,991 252.8,990.4 253.5,990.6 254.2,990.6 254.9,991.6 255.6,988.8 256.4,989.8 257.1,991.8 257.8,991.2 258.5,990.4 259.2,987.9 259.9,991.1 260.6,991.7 261.3,990.4 262,990.5 262.7,990.6 263.4,991.5 264.1,988.9 264.8,990 265.5,990.3 266.2,991.3 266.9,991.3 267.7,990.2 268.4,989.5 269.1,990.6 269.8,990.3 270.5,990.8 271.2,990.5 271.9,990.3 272.6,990.7 273.3,990.4 274,990.9 274.7,990.7 275.4,989.5 276.1,990.6 276.8,991.2 277.5,991.6 278.2,992.3 278.9,990.8 279.7,990.6 280.4,988.7 281.1,989.5 281.8,990 282.5,989.8 283.2,989.2 283.9,989.3 284.6,991.2 285.3,989.7 286,990.1 286.7,991.6 287.4,989.6 288.1,988.5 288.8,990.5 289.5,991.5 290.2,989.5 291,990.1 291.7,990 292.4,990.4 293.1,990.3 293.8,989.7 294.5,989.5 295.2,989.5 295.9,989.9 296.6,990.6 296.6,996.2 295.9,998.3 295.2,997 294.5,996.7 293.8,997.9 293.1,997.2 292.4,998.5 291.7,998.4 291,997.8 290.2,997.5 289.5,998.5 288.8,996.7 288.1,996.5 287.4,997.5 286.7,997.5 286,997.9 285.3,996.8 284.6,997.3 283.9,997.4 283.2,995.9 282.5,996.1 281.8,997.6 281.1,996.7 280.4,997.7 279.7,996.1 278.9,999.4 278.2,998.4 277.5,996.1 276.8,997.6 276.1,997.7 275.4,997.3 274.7,995.7 274,997.4 273.3,999.3 272.6,997.5 271.9,996.9 271.2,997.6 270.5,997.3 269.8,998.5 269.1,997.8 268.4,998.7 267.7,996.3 266.9,997.8 266.2,997.2 265.5,997.5 264.8,998 264.1,997.8 263.4,998 262.7,997 262,998.3 261.3,997 260.6,997.8 259.9,998.1 259.2,997.5 258.5,998.3 257.8,997.5 257.1,998.8 256.4,999.2 255.6,997.8 254.9,998.1 254.2,996.8 253.5,997.8 252.8,999 252.1,998.1 251.4,996.8 250.7,997.4 250,998.2 249.3,996.2 248.6,998.3 247.9,997.2 247.2,997.5 246.5,997.6 245.8,997.9 245.1,998.6 244.4,998.7 243.7,998 243,999 242.3,998.6 241.5,997.6 240.8,998.7 240.1,997.3 239.4,999.1 238.7,997.8 238,998.7 237.3,998.4 236.6,999.5 235.9,999.9 235.2,998 234.5,998.5 233.8,1000 233.1,998.4 232.4,998.6 231.7,998.3 231,999.1 230.3,998.6 229.6,999 228.9,998.6 228.2,997.6 227.5,998.4 226.8,997.5 226.1,998.2 225.4,999 224.6,997.9 223.9,997.8 223.2,998.3 222.5,999.2 221.8,997 221.1,997 220.4,999 219.7,999.4 219,998.4 218.3,999.6 217.6,998.2 216.9,998.7 216.2,999 215.5,999.1 214.8,998 214.1,998.7 213.4,998.9 212.7,999.4 212,999.2 211.3,998.3 210.6,998.9 209.9,998.1 209.2,998.7 208.5,998.4 207.7,998.7 207,999.3 206.3,999.5 205.6,998.3 204.9,998.1 204.2,998.7 203.5,999.3 202.8,999.5 202.1,1001 201.4,1000 200.7,999.9 200,999.1 199.3,1001.4 198.6,1000.4 197.9,1000.9 197.2,999.8 196.5,999.6 195.8,999.3 195.1,1000.3 194.4,997.9 193.7,999.9 193,998.7 192.3,997.7 191.5,1000 190.8,999.2 190.1,998.3 189.4,999.5 188.7,999.7 188,999.2 187.3,1000 186.6,1001.1 185.9,998.8 185.2,998.5 184.5,998.9 183.8,999.3 183.1,1001.1 182.4,999.1 181.7,999.2 181,999.7 180.3,999.6 179.6,999.8 178.9,1001.6 178.2,999.7 177.5,1000.4 176.8,1000 176.1,999.9 175.4,1000.9 174.6,999.3 173.9,1000.8 173.2,1001.1 172.5,1000.5 171.8,999.3 171.1,1000.4 170.4,1000 169.7,999.9 169,999.5 168.3,999.5 167.6,1000.2 166.9,999.8 166.2,999.8 165.5,1000.5 164.8,999.4 164.1,1001.6 163.4,1000.5 162.7,1000.2 162,1000.3 161.3,1000.7 160.6,1000.4 159.9,1000.3 159.2,1000.9 158.5,1002.1 157.7,1000.8 157,1000.4 156.3,998.4 155.6,1000.5 154.9,1000.3 154.2,1002.3 153.5,1002.5 152.8,1000.9 152.1,1000.2 151.4,1001.4 150.7,998 150,1001.6 149.3,1001.7 148.6,1000.2 147.9,1002 147.2,1001.3 146.5,999.6 145.8,1002.5 145.1,1000.8 144.4,1000.3 143.7,1001.8 143,1001.1 142.3,1000 141.6,1000.2 140.9,1001.3 140.2,1000.5 139.5,1002.7 138.8,1000.7 138.1,1000.9 137.4,1000.9 136.7,1001.6 136,1000.7 135.3,1000.6 134.6,1001.8 133.9,999.2 133.2,1001.4 132.5,1001.5 131.8,1001.9 131.1,1001.2 130.4,1001.8 129.7,1002.2 129,1000.6 128.3,1001.1 127.6,1000.1 126.9,1001.2 126.2,1001.6 125.5,1000.6 124.8,1002.5 124.1,1001.7 123.4,1000.1 122.7,1001.7 122,1001.4 121.3,1000.6 120.6,1002.3 119.9,1001.9 119.2,1002 118.5,1002.6 117.8,1001.5 117.1,1001.8 116.4,1000.4 115.7,1002.8 115,1000.9 114.2,1002.8 113.4,1002.4 112.6,1001.5 111.8,1003.3 111,1002.6 110.2,1004.9 109.4,1007.3" fill="#1414f0"/>
<polyline points="296.6,993 296.9,1085" fill="none" stroke="#1414f0" stroke-width="3.0" stroke-linejoin="round" stroke-linecap="butt" />
<polyline points="158.1,1085 170.5,1002" fill="none" stroke="#000" stroke-width="3.0" stroke-linejoin="round" stroke-linecap="butt" />
<polygon points="170,1000.9 170.7,1000.3 171.4,1001.1 172.1,1000.4 172.8,998.8 173.5,1000.9 174.2,999.9 174.9,1001.3 175.6,1001.6 176.3,1002.2 177,1001 177.7,1000.5 178.4,1001.1 179.1,1001.1 179.8,999.1 180.5,1000.3 181.2,999.9 181.9,1001.4 182.6,1000.8 183.3,1001 184,1001.4 184.7,1001 185.4,999.5 186.1,1000.1 186.8,1001.1 187.5,1000.2 188.2,1000 188.9,1001.2 189.6,1001.1 190.3,1000.3 191,1000.3 191.7,1001.3 192.4,1000.3 193.1,999.9 193.8,1001.1 194.5,1001.6 195.2,999.6 195.9,1000 196.6,1001.1 197.3,1000.6 198,1001.1 198.7,1001 199.4,1002.5 200.1,999.2 200.8,1000.9 201.5,999.9 202.2,998.9 202.9,999.8 203.6,1000.1 204.3,1001.2 205,1000.3 205.7,999.8 206.4,999.8 207.1,1000.6 207.8,1000.9 208.5,999.6 209.2,1000.6 209.9,1000.6 210.6,1000.3 211.3,1000.2 212,1000.2 212.7,1000 213.4,999.8 214.1,1000.4 214.8,1000.3 215.5,1000.1 216.2,999.5 216.9,1001.1 217.6,1000.4 218.3,1003 219,1002.6 219.7,1000.4 220.4,1002.2 221.1,999.7 221.8,999.1 222.5,999.8 223.2,1000.3 223.9,1000.7 224.6,1002.1 225.3,999.7 226,1000.5 226.7,1001.3 227.4,1000.6 228.1,1001.8 228.8,1001.2 229.5,1001.8 230.2,1001.3 230.9,1000.7 231.6,1000.7 232.3,999.6 233,1000.6 233.7,1000.7 234.4,1000.4 235.1,1000.2 235.8,1000.3 236.5,1001.6 237.2,1000.4 237.9,1000.7 238.6,1000.9 239.3,999.3 240,1000.2 240.7,1000.3 241.4,998.4 242.1,1000.7 242.8,999.9 243.5,1000.5 244.2,1001.2 244.9,1000.2 245.6,1000 246.3,1000.4 247,1001.3 247.7,999.6 248.4,999.6 249.1,1000.3 249.8,1000 250.5,1001.2 251.2,1000.3 251.9,1000.5 252.6,1000.2 253.3,999.2 254,1000.9 254.7,1000.6 255.4,1000.3 256.1,999.8 256.8,1001.3 257.5,1001.5 258.2,1001.2 258.9,1000.4 259.6,999.7 260.3,999.9 261,999.5 261.7,1000.1 262.4,1001.9 263.1,999.7 263.8,1001.4 264.5,999.7 265.2,1000.6 265.9,999.2 266.6,1000.4 267.3,999.3 268,1000.5 268.7,1000.2 269.4,1001.1 270.1,1001.5 270.8,1000 271.5,1000.8 272.2,1000.2 272.9,1000.1 273.6,1000.5 274.3,999.8 275,1001.1 275.7,1000.2 276.4,1001.2 277.1,1000.3 277.8,1000.6 278.5,1000.1 279.2,999.7 279.9,1000.5 280.6,1001.3 281.3,999.5 282,1000.1 282.7,1000.3 283.4,999.9 284.1,1000.4 284.8,1001.5 285.5,1001.2 286.2,997.5 286.9,999.6 287.6,1000.6 288.3,1000.3 289,1001.4 289.7,1000.2 290.4,1001.2 291.1,1000.5 291.8,999.3 292.5,1000.7 293.2,1000.5 293.9,1001.3 294.6,1000.1 295.3,1001.1 296,999.6 296,1008.9 295.3,1009.5 294.6,1009.2 293.9,1008.8 293.2,1008.7 292.5,1007.9 291.8,1008.4 291.1,1009.3 290.4,1009.2 289.7,1009.3 289,1009.6 288.3,1009 287.6,1007.8 286.9,1010.4 286.2,1009 285.5,1008 284.8,1008.3 284.1,1009.2 283.4,1008.5 282.7,1008.7 282,1009.2 281.3,1009.1 280.6,1011.1 279.9,1009.1 279.2,1009.2 278.5,1008.9 277.8,1010.2 277.1,1008.6 276.4,1008.7 275.7,1009.1 275,1010.2 274.3,1009.1 273.6,1008.5 272.9,1008.1 272.2,1009 271.5,1007.4 270.8,1009.5 270.1,1009.6 269.4,1008.7 268.7,1008.3 268,1009.4 267.3,1008.3 266.6,1009.4 265.9,1009.3 265.2,1009.8 264.5,1007.8 263.8,1007.2 263.1,1007.7 262.4,1010.3 261.7,1009.1 261,1009.1 260.3,1010.2 259.6,1008.7 258.9,1008.8 258.2,1008 257.5,1007.9 256.8,1008.7 256.1,1009.4 255.4,1009.2 254.7,1009.6 254,1009.2 253.3,1008.8 252.6,1008.5 251.9,1009 251.2,1008.8 250.5,1008.2 249.8,1008.2 249.1,1009 248.4,1009.3 247.7,1009.5 247,1009.1 246.3,1007.6 245.6,1008.8 244.9,1007.7 244.2,1007.6 243.5,1008 242.8,1009.3 242.1,1010.5 241.4,1008.1 240.7,1008.3 240,1008.1 239.3,1008.1 238.6,1009.4 237.9,1009.9 237.2,1008.1 236.5,1009.4 235.8,1009 235.1,1008.8 234.4,1007.4 233.7,1008.9 233,1008.2 232.3,1009.1 231.6,1009.9 230.9,1009.6 230.2,1008.8 229.5,1008.1 228.8,1008 228.1,1009.7 227.4,1009.9 226.7,1008.6 226,1009.2 225.3,1008.9 224.6,1008.8 223.9,1008.1 223.2,1009.6 222.5,1008.4 221.8,1008.5 221.1,1009.5 220.4,1008.6 219.7,1009.7 219,1009 218.3,1010.3 217.6,1008.2 216.9,1009.7 216.2,1009.1 215.5,1009.2 214.8,1009 214.1,1008.3 213.4,1007.7 212.7,1009.3 212,1009.3 211.3,1009.4 210.6,1008.3 209.9,1008.5 209.2,1009.2 208.5,1009.3 207.8,1008.9 207.1,1008.6 206.4,1010.8 205.7,1008.3 205,1008.6 204.3,1009 203.6,1007.8 202.9,1008.6 202.2,1008.3 201.5,1009.1 200.8,1009.4 200.1,1009.1 199.4,1008.4 198.7,1009.4 198,1009.7 197.3,1009.2 196.6,1008.2 195.9,1008 195.2,1009.3 194.5,1010 193.8,1009 193.1,1009.4 192.4,1007.1 191.7,1009 191,1009.6 190.3,1008.8 189.6,1008.9 188.9,1010 188.2,1008.7 187.5,1008.8 186.8,1007.8 186.1,1008.6 185.4,1009.7 184.7,1008.2 184,1007.3 183.3,1009.1 182.6,1010.3 181.9,1009.5 181.2,1009.1 180.5,1009.1 179.8,1008.6 179.1,1008.5 178.4,1007.1 177.7,1009.4 177,1008.9 176.3,1008.6 175.6,1009.2 174.9,1008.7 174.2,1008.9 173.5,1009.6 172.8,1009.6 172.1,1008.9 171.4,1008.5 170.7,1009.3 170,1008.7" fill="#000"/>
<polygon points="298,1002.7 298.7,1003.5 299.4,1004.1 300.1,1002.8 300.8,1004.4 301.5,1004 302.2,1003.8 302.9,1003.5 303.6,1004.3 304.3,1003.8 305,1003.9 305.7,1002.4 306.4,1003.6 307.1,1004.8 307.8,1003.8 308.5,1002.8 309.2,1003.1 309.9,1004.5 310.6,1005 311.3,1003 312,1004.2 312.7,1002.4 313.4,1003.5 314.1,1004.4 314.8,1002.3 315.5,1003.8 316.2,1002.8 317,1003.3 317.7,1003.5 318.4,1003.2 319.1,1002.9 319.8,1003.9 320.5,1003.7 321.2,1003.2 321.9,1001.6 322.6,1002.4 323.3,1001.9 324,1002.1 324.7,1002.6 325.4,1003.8 326.1,1002.8 326.8,1003.9 327.5,1003.1 328.2,1003.6 328.9,1004.6 329.6,1003.2 330.3,1002.9 331,1002.4 331.7,1003.5 332.4,1003.8 333.1,1004.8 333.8,1003 334.5,1002 335.2,1003.7 335.9,1003.5 336.6,1003.2 337.3,1002.8 338,1003.9 338.7,1002.8 339.4,1004.1 340.1,1003.2 340.8,1003.7 341.5,1003.9 342.2,1002.7 342.9,1003.4 343.6,1002.9 344.3,1003 345,1004.2 345.7,1004.1 346.4,1003.5 347.1,1003.6 347.8,1004 348.5,1002.9 349.2,1004.6 349.9,1002.7 350.6,1003.3 351.3,1002.5 352,1002.8 352.7,1003.5 353.4,1004.7 354.2,1003.2 354.9,1003.2 355.6,1002.5 356.3,1003.1 357,1005.1 357.7,1004.4 358.4,1001.5 359.1,1001.6 359.8,1002.5 360.5,1003.4 361.2,1004 361.9,1004.3 362.6,1002.8 363.3,1003.4 364,1003.9 364.7,1002.4 365.4,1005.2 366.1,1004.4 366.8,1001.7 367.5,1004.2 368.2,1003.1 368.9,1003.4 369.6,1002.5 370.3,1003.1 371,1003.5 371.7,1002.4 372.4,1002.7 373.1,1003.9 373.8,1002 374.5,1003.4 375.2,1003.6 375.9,1002.5 376.6,1003.4 377.3,1003.4 378,1002.8 378.7,1003 379.4,1003.8 380.1,1002.6 380.8,1003.6 381.5,1003.2 382.2,1003.5 382.9,1003 383.6,1003.3 384.3,1004.1 385,1003.1 385.7,1004.2 386.4,1002.2 387.1,1003.3 387.8,1004.4 388.5,1003.5 389.2,1002.5 389.9,1004.1 390.6,1002.8 391.4,1004.7 392.1,1003.4 392.8,1003.6 393.5,1003.1 394.2,1002.2 394.9,1003.6 395.6,1004 396.3,1002.8 397,1003.6 397.7,1002.5 398.4,1003 399.1,1002.1 399.8,1002.7 400.5,1003.6 401.2,1003.9 401.9,1002.8 402.6,1002.4 403.3,1003.2 404,1002.7 404.7,1003.4 405.4,1003.5 406.1,1003.1 406.8,1003.9 407.5,1003.3 408.2,1002.6 408.9,1003.4 409.6,1002.9 410.3,1003.1 411,1004.1 411.7,1003.4 412.4,1004.2 413.1,1004.2 413.8,1003.1 414.5,1003.6 415.2,1004.3 415.9,1001.8 416.6,1003.1 417.3,1004.4 418,1003.9 418.7,1002.8 419.4,1002.9 420.1,1003.1 420.8,1003.6 421.5,1003.9 422.2,1003 422.9,1002.3 423.6,1003.8 424.3,1003.3 425,1002.2 425.7,1002.3 426.4,1003.9 427.1,1002.6 427.8,1003.2 428.6,1003.5 429.3,1002.9 430,1003.7 430.7,1004.1 431.4,1002.9 432.1,1003.3 432.8,1003.2 433.5,1001.3 434.2,1002.3 434.9,1002.9 435.6,1003.2 436.3,1003.7 437,1002.6 437.7,1004.4 438.4,1003.8 439.1,1002.7 439.8,1002.9 440.5,1003.9 441.2,1002.7 441.9,1003.1 442.6,1001.8 443.3,1003.2 444,1003.9 444.7,1004.3 445.4,1003.2 446.1,1003.8 446.8,1002.3 447.5,1003.8 448.2,1002.6 448.9,1003.7 449.6,1002.6 450.3,1002.6 451,1004.3 451.7,1001.4 452.4,1004.3 453.1,1002.7 453.8,1003.8 454.5,1004 455.2,1003 455.9,1004.3 456.6,1004.8 457.3,1004.4 458,1003.3 458.7,1003.9 459.4,1003.9 460.1,1002.7 460.8,1003.7 461.5,1003.4 462.2,1003.2 462.9,1003.2 463.6,1003.2 464.3,1002.9 465,1004.1 465.8,1003.8 466.5,1003.4 467.2,1003.4 467.9,1002.9 468.6,1003.1 469.3,1001.5 470,1004.2 470.7,1004.3 471.4,1002 472.1,1002.2 472.8,1003.4 473.5,1002.1 474.2,1003.9 474.9,1003.6 475.6,1003.2 476.3,1004.2 477,1003.3 477.7,1002.4 478.4,1002.7 479.1,1003.4 479.8,1003.7 480.5,1002.1 481.2,1004.1 481.9,1002.2 482.6,1004.1 483.3,1001.9 484,1003.6 484,1009.9 483.3,1009 482.6,1010.6 481.9,1008.1 481.2,1009.3 480.5,1010 479.8,1008.2 479.1,1008.6 478.4,1009.5 477.7,1007.9 477,1008.8 476.3,1009.7 475.6,1009.6 474.9,1009.1 474.2,1010.5 473.5,1009.5 472.8,1009.4 472.1,1008.9 471.4,1008.8 470.7,1009.4 470,1009.8 469.3,1011.2 468.6,1008.6 467.9,1007.5 467.2,1010.1 466.5,1009.9 465.8,1010.2 465,1007.5 464.3,1009.4 463.6,1009 462.9,1008.8 462.2,1009.6 461.5,1008.8 460.8,1009.3 460.1,1009.6 459.4,1008.6 458.7,1009.5 458,1009.9 457.3,1009.3 456.6,1008.2 455.9,1010.3 455.2,1008.8 454.5,1009 453.8,1009.9 453.1,1008.1 452.4,1010 451.7,1010 451,1010.2 450.3,1008.9 449.6,1008.1 448.9,1010 448.2,1009.2 447.5,1009.4 446.8,1010.1 446.1,1010 445.4,1010.6 444.7,1009.3 444,1010.2 443.3,1009.6 442.6,1008.1 441.9,1009.1 441.2,1010.2 440.5,1011.2 439.8,1010.3 439.1,1008.8 438.4,1009.3 437.7,1009.6 437,1009 436.3,1008.2 435.6,1010.5 434.9,1008 434.2,1010.1 433.5,1008.5 432.8,1009.6 432.1,1009.6 431.4,1010.5 430.7,1009.8 430,1008.5 429.3,1009.6 428.6,1010 427.8,1009.2 427.1,1010.6 426.4,1008.8 425.7,1008.2 425,1009.3 424.3,1009.8 423.6,1008.9 422.9,1009.1 422.2,1008.3 421.5,1011 420.8,1008.6 420.1,1009.7 419.4,1009 418.7,1008.5 418,1010 417.3,1009.6 416.6,1008.6 415.9,1009.2 415.2,1009.3 414.5,1009.1 413.8,1009.9 413.1,1009.4 412.4,1008.5 411.7,1010.4 411,1009.7 410.3,1010.3 409.6,1010.9 408.9,1010 408.2,1010.8 407.5,1008.4 406.8,1008.8 406.1,1008.4 405.4,1010 404.7,1009.4 404,1011.3 403.3,1010 402.6,1009.8 401.9,1009.6 401.2,1009.9 400.5,1009.1 399.8,1009.6 399.1,1009.6 398.4,1010 397.7,1009.4 397,1009.8 396.3,1008 395.6,1009.2 394.9,1011.2 394.2,1010.1 393.5,1009.6 392.8,1010.5 392.1,1009.7 391.4,1009 390.6,1010 389.9,1010.7 389.2,1008.5 388.5,1009.4 387.8,1009.2 387.1,1008.7 386.4,1009.7 385.7,1009.2 385,1009.1 384.3,1008.5 383.6,1009.4 382.9,1008.3 382.2,1009.9 381.5,1009.4 380.8,1009.4 380.1,1008.5 379.4,1009 378.7,1007.9 378,1008.6 377.3,1010.9 376.6,1008.2 375.9,1008.9 375.2,1009.1 374.5,1008.4 373.8,1008.9 373.1,1009.1 372.4,1008.6 371.7,1008.3 371,1009.8 370.3,1008.9 369.6,1007.4 368.9,1010.1 368.2,1009.3 367.5,1010.8 366.8,1009.3 366.1,1008.6 365.4,1010.3 364.7,1009.5 364,1009.2 363.3,1009.2 362.6,1010.3 361.9,1010.4 361.2,1008.7 360.5,1008.9 359.8,1008.4 359.1,1009.2 358.4,1009.1 357.7,1007.5 357,1009.3 356.3,1010.8 355.6,1010.3 354.9,1009.8 354.2,1009.2 353.4,1010.1 352.7,1008.2 352,1010.3 351.3,1007.8 350.6,1007.7 349.9,1008.4 349.2,1010.3 348.5,1008.3 347.8,1008.8 347.1,1010 346.4,1010.6 345.7,1009.6 345,1008.3 344.3,1008.4 343.6,1008.9 342.9,1009.2 342.2,1009.8 341.5,1009.1 340.8,1010.4 340.1,1010.6 339.4,1009.6 338.7,1008.6 338,1008.4 337.3,1008.8 336.6,1008.7 335.9,1008.7 335.2,1009.6 334.5,1010.2 333.8,1009.2 333.1,1011 332.4,1009.6 331.7,1010 331,1007.8 330.3,1008.8 329.6,1009.7 328.9,1008.9 328.2,1009.1 327.5,1009.1 326.8,1008.7 326.1,1008.6 325.4,1010.1 324.7,1009.3 324,1009 323.3,1010.3 322.6,1010 321.9,1009.2 321.2,1008.7 320.5,1009.1 319.8,1009.1 319.1,1009.8 318.4,1009.2 317.7,1010 317,1009.7 316.2,1008.7 315.5,1009.1 314.8,1008.9 314.1,1008.4 313.4,1009.8 312.7,1009.6 312,1009 311.3,1008.9 310.6,1009.6 309.9,1008 309.2,1008.2 308.5,1008.4 307.8,1009.5 307.1,1010.1 306.4,1009.6 305.7,1009.2 305,1009.3 304.3,1009.4 303.6,1009 302.9,1009.5 302.2,1008.2 301.5,1009.8 300.8,1010.4 300.1,1010.1 299.4,1009.3 298.7,1010.1 298,1010.2" fill="#000"/>
<polygon points="486,999.4 486.7,1000.7 487.4,999 488.1,1001.5 488.8,1002.9 489.5,1000.8 490.2,1000.1 490.9,999.1 491.6,1000.7 492.3,1000 493,1001 493.7,999.4 494.4,1001.5 495.1,1001.8 495.8,999.3 496.5,1001 497.2,1001.5 497.9,1001.1 498.6,1000.8 499.3,1000.5 500,1000.7 500.7,1000.7 501.4,1000 502.1,1000.2 502.8,1001 503.5,1001.9 504.2,1000.6 504.9,999.7 505.6,1000.8 506.3,1001.8 507,999.8 507.7,1000.3 508.4,1000.2 509.1,1001.2 509.8,1000 510.5,1000.5 511.2,1001.4 511.9,1000.5 512.6,1000.6 513.3,1000.8 514,1000.3 514.7,1001.7 515.4,1000.6 516.1,1000.3 516.8,1000.7 517.5,999.9 518.2,1001.5 518.9,999.2 519.6,1000.2 520.3,1001.6 521,1000 521.7,1000.3 522.4,1001.6 523.1,1000.2 523.8,1000.9 524.5,1000.4 525.2,1000.4 525.9,1002.3 526.6,1000.3 527.3,1001.2 528,1000.3 528.7,1002 529.4,1000.4 530.1,1000.9 530.8,1001.9 531.5,1001.7 532.2,1001 533,1000.7 533.7,1000 534.4,1001.4 535.1,1001.6 535.8,998.7 536.5,999.3 537.2,1000.7 537.9,1000.1 538.6,1001.4 539.3,1001.8 540,1000.8 540.7,999.3 541.4,1000.2 542.1,1001.3 542.8,999.3 543.5,1001.8 544.2,1000.3 544.9,1001.1 545.6,1001 546.3,1000.2 547,1000.2 547.7,999.9 548.4,1001 549.1,1001 549.8,1001.1 550.5,999.7 551.2,998.8 551.9,999.9 552.6,999.6 553.3,1001.6 554,1002.5 554.7,1000.6 555.4,999.3 556.1,999.5 556.8,1000.7 557.5,1001.1 558.2,1000.8 558.9,1002.9 559.6,1000.9 560.3,999.8 561,1001.4 561.7,1000.5 562.4,999.6 563.1,1002.7 563.8,1000.2 564.5,1000.3 565.2,1000.5 565.9,1000.7 566.6,999.6 567.3,1001.8 568,1000.7 568.7,998.8 569.4,999.2 570.1,999.8 570.8,1000 571.5,1000.9 572.2,1000.8 572.9,1000.4 573.6,999 574.3,999.9 575,1001.3 575.7,1000.5 576.4,1000.5 577.1,1000.6 577.8,1000.9 578.5,1000.6 579.2,1000.2 579.9,1000.7 580.6,1001.3 581.3,1001.1 582,1000.2 582.7,1000 583.4,1001.7 584.1,998.8 584.8,1000.8 585.5,999.9 586.2,1000.4 586.9,1001.4 587.6,999.8 588.3,999.1 589,1000.9 589.7,1000.2 590.4,1001 591.1,1000.7 591.8,1001.1 592.5,1000.9 593.2,999.1 593.9,1000.6 594.6,1000.7 595.3,1000.5 596,1000.6 596.7,999.9 597.4,1000.1 598.1,1000.2 598.8,1000.1 599.5,999.8 600.2,999.4 600.9,1000 601.6,1002.6 602.3,1000 603,1003 603.7,1002.2 604.4,1000.3 605.1,999.2 605.8,1001.2 606.5,1001.2 607.2,1000.2 607.9,1000.6 608.6,999.8 609.3,1000.5 610,1002.2 610.7,1000.2 611.4,999.2 612.1,1001.2 612.8,1000.9 613.5,1001.4 614.2,1000.7 614.9,999.8 615.6,1000.2 616.3,999.7 617,1000.7 617.7,1001.3 618.4,1000.6 619.1,1000.4 619.8,999.5 620.5,1001 621.2,1000.5 621.9,1000.5 622.6,1000.7 623.3,1000.1 624,1000.9 624.8,999.3 625.5,1001 626.2,1001.5 626.9,1000.3 627.6,1001.6 628.3,1001.9 629,1001.7 629.7,999.9 630.4,1000.6 631.1,1001.5 631.8,1000.5 632.5,1001.7 633.2,1001.5 633.9,999.8 634.6,999.3 635.3,1000.4 636,1000.9 636.7,1001.2 637.4,1000.8 638.1,1000.6 638.8,1001.3 639.5,1000.8 640.2,1000.2 640.9,1001.9 641.6,1000.9 642.3,1001.4 643,999.8 643.7,1000.4 644.4,1000.2 645.1,1001.2 645.8,999.3 646.5,999.3 647.2,998.3 647.9,1001.2 648.6,1001.4 649.3,1001.5 650,999.5 650.7,999.7 651.4,1000.8 652.1,1000.7 652.8,1001 653.5,1000.5 654.2,998.7 654.9,999.6 655.6,999.1 656.3,1000.6 657,1000.7 657.7,1000.5 658.4,999.6 659.1,1001.4 659.8,1001.3 660.5,1001.4 661.2,1001.6 661.9,1000.3 662.6,1000.8 663.3,999.7 664,1002 664.7,999.8 665.4,1001.2 666.1,999.9 666.8,999.9 667.5,1000 668.2,1000.9 668.9,1002.3 669.6,1000.1 670.3,1000.7 671,1001.8 671,1009.7 670.3,1010.4 669.6,1009.2 668.9,1008.8 668.2,1009.3 667.5,1008.5 666.8,1009.5 666.1,1010.1 665.4,1009.6 664.7,1009.1 664,1008.5 663.3,1009.9 662.6,1010 661.9,1010.7 661.2,1009.8 660.5,1008.4 659.8,1009.8 659.1,1009.8 658.4,1010.5 657.7,1010.7 657,1008.9 656.3,1008.8 655.6,1009.8 654.9,1009 654.2,1009.3 653.5,1008.3 652.8,1008.9 652.1,1008.9 651.4,1009.2 650.7,1009 650,1011 649.3,1010.2 648.6,1009 647.9,1011.1 647.2,1008.4 646.5,1009.6 645.8,1009.6 645.1,1009.4 644.4,1010 643.7,1009 643,1009.1 642.3,1009.4 641.6,1009.7 640.9,1010.4 640.2,1008.9 639.5,1008.3 638.8,1009 638.1,1011.1 637.4,1008.7 636.7,1009.2 636,1009.8 635.3,1010.1 634.6,1008.5 633.9,1009.4 633.2,1009.2 632.5,1010.2 631.8,1008.3 631.1,1008.2 630.4,1009 629.7,1010.2 629,1008.9 628.3,1009.2 627.6,1009.4 626.9,1010.8 626.2,1007.4 625.5,1009.8 624.8,1010.1 624,1010 623.3,1009.2 622.6,1010.3 621.9,1009.1 621.2,1010.9 620.5,1009.7 619.8,1009.7 619.1,1010.2 618.4,1008.2 617.7,1009.7 617,1010.1 616.3,1010.3 615.6,1009.9 614.9,1010.6 614.2,1008.7 613.5,1008.7 612.8,1010.1 612.1,1009.4 611.4,1008.8 610.7,1011.1 610,1010.1 609.3,1009.8 608.6,1008.8 607.9,1009.9 607.2,1008.3 606.5,1009.2 605.8,1008.3 605.1,1010 604.4,1010.6 603.7,1010.6 603,1010.7 602.3,1009.3 601.6,1009.1 600.9,1009.9 600.2,1008.5 599.5,1009.5 598.8,1008.7 598.1,1009.3 597.4,1009.3 596.7,1009.9 596,1009.8 595.3,1008.6 594.6,1010.2 593.9,1009.4 593.2,1009.8 592.5,1008.7 591.8,1009.3 591.1,1009.5 590.4,1007.6 589.7,1011.1 589,1009.2 588.3,1009.3 587.6,1008.7 586.9,1010.5 586.2,1008.9 585.5,1009.6 584.8,1009.1 584.1,1009.1 583.4,1009.8 582.7,1009.4 582,1009.8 581.3,1009.7 580.6,1009.3 579.9,1009.3 579.2,1008.9 578.5,1008.4 577.8,1010.6 577.1,1007.2 576.4,1008.6 575.7,1010.4 575,1008.7 574.3,1009.9 573.6,1009.4 572.9,1010.2 572.2,1009 571.5,1009.5 570.8,1009.8 570.1,1009.2 569.4,1009.2 568.7,1009.4 568,1008.7 567.3,1009.8 566.6,1008.5 565.9,1010 565.2,1008.3 564.5,1010.5 563.8,1008.4 563.1,1009.1 562.4,1009.2 561.7,1009.5 561,1011.9 560.3,1009.6 559.6,1009.6 558.9,1010.6 558.2,1008.9 557.5,1009.9 556.8,1008.9 556.1,1008.6 555.4,1009.1 554.7,1009.2 554,1008.2 553.3,1008.4 552.6,1009.4 551.9,1009.7 551.2,1007.9 550.5,1009.9 549.8,1009.4 549.1,1009.7 548.4,1009.6 547.7,1008.9 547,1007.7 546.3,1009 545.6,1009.6 544.9,1009.5 544.2,1009.9 543.5,1010.1 542.8,1010.8 542.1,1008.8 541.4,1010.8 540.7,1009.5 540,1011.5 539.3,1008.5 538.6,1009.4 537.9,1009.1 537.2,1009.7 536.5,1009.6 535.8,1009.2 535.1,1009.1 534.4,1008.9 533.7,1009.2 533,1009.2 532.2,1008.8 531.5,1009.7 530.8,1008.6 530.1,1009.6 529.4,1008.1 528.7,1009.5 528,1010.5 527.3,1009.5 526.6,1008.5 525.9,1009.6 525.2,1009.6 524.5,1009.3 523.8,1009.3 523.1,1009.6 522.4,1008.9 521.7,1010.9 521,1009.1 520.3,1010.8 519.6,1012.3 518.9,1009 518.2,1009.2 517.5,1007.4 516.8,1007.5 516.1,1009.8 515.4,1010.1 514.7,1009.9 514,1008.9 513.3,1009.5 512.6,1010 511.9,1009.9 511.2,1009.9 510.5,1009.4 509.8,1009.7 509.1,1008.4 508.4,1007.4 507.7,1008.4 507,1009.8 506.3,1008.7 505.6,1009.3 504.9,1010.7 504.2,1009.7 503.5,1007.3 502.8,1009 502.1,1009.1 501.4,1009.9 500.7,1010.6 500,1009.7 499.3,1008.4 498.6,1009.9 497.9,1009.9 497.2,1009.6 496.5,1010.2 495.8,1009.6 495.1,1009.2 494.4,1009.8 493.7,1010.5 493,1009.8 492.3,1009.1 491.6,1009.7 490.9,1008.6 490.2,1009.6 489.5,1008.8 488.8,1009.3 488.1,1008.7 487.4,1009.6 486.7,1009.4 486,1010.2" fill="#000"/>
<polygon points="673,999.9 673.7,1000.8 674.4,1001 675.1,999.8 675.8,999.5 676.5,1000.3 677.2,999.9 677.9,1001.5 678.6,1000.8 679.3,1000.3 680,999.9 680.7,1000.3 681.4,999.9 682.1,999.6 682.8,1000.9 683.5,1000.6 684.2,998.9 684.9,1000.2 685.6,1000.9 686.3,999.1 687,1001 687.7,1001.1 688.4,999.8 689.1,1000.1 689.9,1000.7 690.6,1002.3 691.3,1000 692,999.9 692.7,999.3 693.4,1000.7 694.1,1000.6 694.8,999.1 695.5,999.4 696.2,1002.3 696.9,1000.6 697.6,999.9 698.3,1000.9 699,1001.2 699.7,1000.4 700.4,1002.1 701.1,1002 701.8,1000.6 702.5,1001.3 703.2,1001.7 703.9,1000.1 704.6,1000.7 705.3,1001.3 706,1000.4 706.7,1001.2 707.4,1000.4 708.1,1000.6 708.8,1001.5 709.5,1000.9 710.2,1001.5 710.9,1000.2 711.6,999.4 712.3,1001.7 713,1000.5 713.7,1000.4 714.4,1001.4 715.1,1001.5 715.8,999.2 716.5,1000.7 717.2,1000.8 717.9,1000.5 718.6,999.7 719.3,1000.2 720,999.4 720.7,1002.1 721.4,1000.4 722.2,1002.2 722.9,1000.4 723.6,999.8 724.3,1000.2 725,1001.3 725.7,1001.8 726.4,999.6 727.1,1000.5 727.8,1000.3 728.5,1001.2 729.2,999.4 729.9,1000.5 730.6,1000.3 731.3,1000.9 732,998.9 732.7,999.4 733.4,998.4 734.1,999.7 734.8,1001.1 735.5,1001.8 736.2,1000.3 736.9,1000.5 737.6,1001.1 738.3,1001.6 739,1000.7 739.7,1000.1 740.4,999.8 741.1,999 741.8,1000.6 742.5,1002 743.2,1000.7 743.9,1000.9 744.6,1001 745.3,998.9 746,1000.2 746.7,999.6 747.4,999.9 748.1,999.6 748.8,999.1 749.5,999.4 750.2,999.9 750.9,1000.6 751.6,1000.7 752.3,1001.5 753,1000.6 753.7,999.7 754.5,1000.5 755.2,1001 755.9,1000.5 756.6,1000.4 757.3,1000.2 758,1000.9 758.7,1000.3 759.4,999.2 760.1,1000.4 760.8,1000.2 761.5,1000.4 762.2,1001.1 762.9,1002.1 763.6,999.5 764.3,1000.7 765,999.5 765.7,999.6 766.4,1001 767.1,999.8 767.8,1000.3 768.5,1000.6 769.2,1000.8 769.9,1000.5 770.6,1001 771.3,1000.3 772,999.1 772.7,1001.4 773.4,1001.9 774.1,1000.6 774.8,999.7 775.5,1000.4 776.2,999.6 776.9,999.8 777.6,999.4 778.3,1001.4 779,1000 779.7,1000.7 780.4,1001.6 781.1,1000 781.8,999.7 782.5,998.7 783.2,1002.5 783.9,1001.8 784.6,1000.1 785.3,999.3 786,1000.6 786.8,1000.6 787.5,1000.7 788.2,1000.5 788.9,1001.6 789.6,1001.8 790.3,1000.2 791,1000.3 791.7,1000.2 792.4,1000.6 793.1,1000.3 793.8,1000.8 794.5,1001.5 795.2,1000.6 795.9,1000.2 796.6,1000.6 797.3,999.4 798,999.9 798.7,999.6 799.4,1002 800.1,1000.2 800.8,1002.2 801.5,1000.9 802.2,999.3 802.9,998.7 803.6,1001.3 804.3,1000.2 805,1001.8 805.7,1002.1 806.4,1000.9 807.1,1000.6 807.8,1000.9 808.5,1001.9 809.2,1001.1 809.9,1001.4 810.6,1000.6 811.3,1001.6 812,999.2 812.7,1001.2 813.4,998.8 814.1,999.2 814.8,1000.8 815.5,1000.7 816.2,999.2 816.9,999.7 817.6,1000.9 818.3,1000.4 819.1,1001.3 819.8,1000.3 820.5,1000.7 821.2,1000.4 821.9,999.7 822.6,1001.2 823.3,1000.5 824,999 824.7,1001.2 825.4,1001.2 826.1,1001.4 826.8,1001.3 827.5,1002 828.2,1001.3 828.9,999.6 829.6,1000.9 830.3,1000.3 831,1000.2 831.7,1001.3 832.4,999.9 833.1,999.2 833.8,1000.6 834.5,998.7 835.2,1001.2 835.2,1009.5 834.5,1008.3 833.8,1007.9 833.1,1009.6 832.4,1008 831.7,1009.3 831,1009.8 830.3,1009.8 829.6,1007 828.9,1007.9 828.2,1008.7 827.5,1010.1 826.8,1007.9 826.1,1011 825.4,1008 824.7,1008.2 824,1008.7 823.3,1009.3 822.6,1008.4 821.9,1009 821.2,1009 820.5,1008.8 819.8,1008.3 819.1,1009.6 818.3,1009.4 817.6,1008.7 816.9,1009.4 816.2,1009 815.5,1009.5 814.8,1010.1 814.1,1006.8 813.4,1009.3 812.7,1009.7 812,1007.7 811.3,1009.4 810.6,1009.1 809.9,1008.5 809.2,1009.8 808.5,1008.6 807.8,1008.1 807.1,1008.8 806.4,1009.4 805.7,1009.2 805,1009.1 804.3,1008.3 803.6,1007.8 802.9,1007 802.2,1007.7 801.5,1008.5 800.8,1008.2 800.1,1008.3 799.4,1009.8 798.7,1009.7 798,1009.6 797.3,1008.7 796.6,1007.4 795.9,1009.5 795.2,1008.3 794.5,1007.8 793.8,1008.8 793.1,1008.1 792.4,1008 791.7,1009.4 791,1009.4 790.3,1010.1 789.6,1010.7 788.9,1009.6 788.2,1010.5 787.5,1008.7 786.8,1009.1 786,1009.3 785.3,1008.9 784.6,1010.2 783.9,1008.2 783.2,1009.8 782.5,1009 781.8,1009.4 781.1,1008.2 780.4,1009.5 779.7,1009.1 779,1008.9 778.3,1008.4 777.6,1009 776.9,1009.1 776.2,1008 775.5,1009.4 774.8,1009.9 774.1,1009.4 773.4,1009.7 772.7,1009 772,1008.9 771.3,1007.9 770.6,1009.6 769.9,1008.9 769.2,1009.1 768.5,1009.4 767.8,1008.6 767.1,1007.5 766.4,1008.8 765.7,1009.4 765,1009 764.3,1010.2 763.6,1009.4 762.9,1009.8 762.2,1009.6 761.5,1010.3 760.8,1008.5 760.1,1007.7 759.4,1009.1 758.7,1009.6 758,1008.6 757.3,1009 756.6,1009.4 755.9,1007.8 755.2,1010.3 754.5,1008.8 753.7,1009.9 753,1010 752.3,1009.1 751.6,1009.4 750.9,1009 750.2,1008.7 749.5,1008.8 748.8,1008.5 748.1,1008.9 747.4,1010 746.7,1010 746,1007.8 745.3,1007.6 744.6,1009.4 743.9,1007.6 743.2,1010 742.5,1008.3 741.8,1009.3 741.1,1009.4 740.4,1007.7 739.7,1009.4 739,1008.5 738.3,1009.5 737.6,1009.4 736.9,1009.5 736.2,1007.5 735.5,1010.6 734.8,1008.9 734.1,1008.5 733.4,1008.5 732.7,1008.8 732,1008.2 731.3,1008.1 730.6,1009.3 729.9,1009.1 729.2,1008.2 728.5,1006.9 727.8,1008.8 727.1,1008.6 726.4,1008.5 725.7,1009 725,1007.6 724.3,1009.1 723.6,1008.2 722.9,1008.6 722.2,1008.8 721.4,1008.8 720.7,1007.9 720,1009.3 719.3,1009.7 718.6,1008.5 717.9,1008.1 717.2,1009.2 716.5,1008 715.8,1007.8 715.1,1008.8 714.4,1009 713.7,1007.8 713,1008.7 712.3,1008.9 711.6,1009.9 710.9,1009 710.2,1007.4 709.5,1008.9 708.8,1009.4 708.1,1009.5 707.4,1009.6 706.7,1009.7 706,1009.5 705.3,1008.9 704.6,1009.5 703.9,1009.8 703.2,1008.5 702.5,1009.9 701.8,1008.6 701.1,1008.3 700.4,1009.1 699.7,1009.8 699,1008.1 698.3,1007.8 697.6,1008.4 696.9,1010.6 696.2,1008 695.5,1008.2 694.8,1009.4 694.1,1008.4 693.4,1008.4 692.7,1009.5 692,1009.6 691.3,1008.6 690.6,1009.2 689.9,1008.1 689.1,1009.6 688.4,1008.4 687.7,1008.5 687,1008.8 686.3,1009.5 685.6,1009.2 684.9,1009.6 684.2,1009.2 683.5,1010.1 682.8,1008.8 682.1,1008.3 681.4,1008.6 680.7,1009.5 680,1008.8 679.3,1008.1 678.6,1009.7 677.9,1009.5 677.2,1009.1 676.5,1008.6 675.8,1008.8 675.1,1008 674.4,1008 673.7,1008.9 673,1009.2" fill="#000"/>
<polyline points="835.2,1002 835.5,1085" fill="none" stroke="#000" stroke-width="3.0" stroke-linejoin="round" stroke-linecap="butt" />
<polyline points="298.1,1085 298.5,1000" fill="none" stroke="#f5a623" stroke-width="2.6" stroke-linejoin="round" stroke-linecap="butt" />
<polygon points="298.6,998.1 299.3,997.7 300,997.3 300.7,998.2 301.4,997.2 302.1,998.9 302.8,996.1 303.5,996.8 304.2,998.1 304.9,996.9 305.6,996.9 306.3,997.4 307.1,997.3 307.8,997 308.5,997 309.2,997.6 309.9,997.2 310.6,996.4 311.3,996.3 312,997.2 312.7,998.5 313.4,995.4 314.1,996.1 314.8,998.5 315.5,997 316.2,996.1 316.9,997.8 317.6,997.2 318.3,996.9 319,998.1 319.7,997 320.4,997.9 321.1,997.8 321.8,999 322.5,998.9 323.2,996.9 324,997.5 324.7,996.5 325.4,996.9 326.1,998 326.8,997.6 327.5,997.3 328.2,996.4 328.9,997.4 329.6,996.7 330.3,996.4 331,998.5 331.7,998.1 332.4,996.4 333.1,997.6 333.8,996.7 334.5,997.8 335.2,999.1 335.9,996.2 336.6,997.9 337.3,998.9 338,997.8 338.7,995.8 339.4,996.9 340.1,998.9 340.9,996.4 341.6,996.8 342.3,998.2 343,997.4 343.7,997.5 344.4,997.8 345.1,997.7 345.8,996.7 346.5,997.5 347.2,996.5 347.9,997.8 348.6,997.7 349.3,997.4 350,997.6 350.7,996.6 351.4,996.1 352.1,997.7 352.8,998.4 353.5,996.8 354.2,997.1 354.9,998.2 355.6,997.9 356.3,998.5 357,996.4 357.8,996.9 358.5,997 359.2,997.2 359.9,996.9 360.6,997.2 361.3,996.8 362,998.1 362.7,997 363.4,997.3 364.1,997.5 364.8,997.1 365.5,998.4 366.2,997.1 366.9,997.5 367.6,997.2 368.3,996.7 369,997.4 369.7,997.6 370.4,997.5 371.1,997.6 371.8,997.3 372.5,997.2 373.2,997.7 373.9,997.7 374.6,998.5 375.4,996.4 376.1,996.7 376.8,997 377.5,997.7 378.2,996.9 378.9,996.1 379.6,997 380.3,996.6 381,997.4 381.7,997.4 382.4,996.9 383.1,996.5 383.8,998.2 384.5,997.1 385.2,997.3 385.9,998.2 386.6,997.8 387.3,996.4 388,997 388.7,997.8 389.4,996.2 390.1,997.3 390.8,997.6 391.6,997.8 392.3,996.6 393,996.4 393.7,996.9 394.4,998.1 395.1,996.7 395.8,997.5 396.5,996.4 397.2,997 397.9,996.8 398.6,997.6 399.3,997.6 400,996.6 400.7,999 401.4,997.3 402.1,998.1 402.8,997.8 403.5,996.4 404.2,998.1 404.9,996.3 405.6,997.1 406.3,996.7 407.1,996.6 407.8,998.6 408.5,996.1 409.2,998 409.9,995.6 410.6,995.4 411.3,995.1 412,996.5 412.7,997.7 413.4,996 414.1,998.3 414.8,996.8 415.5,995.7 416.2,997.6 416.9,996.8 417.6,996.1 418.3,997.1 419,996.1 419.7,997.9 420.4,996.5 421.2,997.8 421.9,996.6 422.6,997.2 423.3,996.9 424,997.5 424.7,997 425.4,996.6 426.1,997.5 426.8,997.6 427.5,996 428.2,996.8 428.9,997.2 429.6,995.5 430.3,997.3 431,997.6 431.7,996.6 432.4,997.8 433.1,997 433.8,997.5 434.5,997 435.3,998.2 436,997.4 436.7,996.7 437.4,998.1 438.1,996.6 438.8,997.1 439.5,997.2 440.2,997 440.9,996.8 441.6,998.1 442.3,996.6 443,996.6 443.7,997 444.4,997.6 445.1,997.5 445.8,996.4 446.5,997.5 447.2,998.7 447.9,997.4 448.6,995.5 449.4,994.9 450.1,996.3 450.8,995.6 451.5,998 452.2,998.2 452.9,996.8 453.6,996 454.3,997 455,996.9 455.7,996.5 456.4,998.4 457.1,997.1 457.8,998.5 458.5,996.5 459.2,997.2 459.9,997.3 460.6,997.1 461.3,998.5 462,997.7 462.7,996.9 463.5,997 464.2,997.2 464.9,996.8 465.6,997.5 466.3,996.4 467,996.3 467.7,997.4 468.4,996.9 469.1,997 469.8,997.7 470.5,996.5 471.2,996.4 471.9,997 472.6,997 473.3,997.3 474,998 474.7,996.6 475.4,995.8 476.1,997.7 476.8,997.9 477.6,997.2 478.3,998.3 479,997.5 479.7,996.8 480.4,997.8 481.1,997.3 481.8,997.2 482.5,997 483.2,997.7 483.9,997.5 483.9,1005.6 483.2,1005 482.5,1006.9 481.8,1005.2 481.1,1006 480.4,1006.3 479.7,1005.8 479,1004.4 478.3,1003.2 477.6,1005.5 476.8,1004.7 476.1,1006.7 475.4,1005.1 474.7,1006.1 474,1005.7 473.3,1005.4 472.6,1004.2 471.9,1005.2 471.2,1005.5 470.5,1004.8 469.8,1006.8 469.1,1003.7 468.4,1005.5 467.7,1005.4 467,1005.6 466.3,1005 465.6,1006.1 464.9,1006.4 464.2,1004.9 463.5,1004.7 462.7,1004.7 462,1006.5 461.3,1004.4 460.6,1005.2 459.9,1004.2 459.2,1005.7 458.5,1006.5 457.8,1005.7 457.1,1005.1 456.4,1006.9 455.7,1005.5 455,1005.3 454.3,1006.1 453.6,1005.4 452.9,1004.7 452.2,1005.9 451.5,1006 450.8,1005.6 450.1,1005.3 449.4,1003.6 448.6,1004.9 447.9,1005.6 447.2,1005.3 446.5,1005.5 445.8,1006 445.1,1005.4 444.4,1006.1 443.7,1004.3 443,1006.1 442.3,1006.1 441.6,1005.8 440.9,1005.4 440.2,1006.2 439.5,1005.2 438.8,1004.9 438.1,1006.1 437.4,1004.2 436.7,1005.9 436,1004.6 435.3,1005.1 434.5,1005.1 433.8,1006.6 433.1,1004.9 432.4,1005.6 431.7,1004 431,1006.7 430.3,1005.6 429.6,1006.7 428.9,1006.9 428.2,1004.8 427.5,1004.6 426.8,1006.6 426.1,1006.2 425.4,1005.6 424.7,1004.4 424,1005.1 423.3,1006.4 422.6,1005.3 421.9,1004.8 421.2,1005.7 420.4,1005.6 419.7,1004.9 419,1005.9 418.3,1006.1 417.6,1003.8 416.9,1006.5 416.2,1006.7 415.5,1006.3 414.8,1005 414.1,1005.7 413.4,1004.9 412.7,1005.2 412,1005.8 411.3,1005.1 410.6,1005.1 409.9,1005.4 409.2,1003.8 408.5,1005.7 407.8,1004.9 407.1,1005 406.3,1005.3 405.6,1005 404.9,1006.3 404.2,1005.2 403.5,1005.3 402.8,1005.3 402.1,1006.3 401.4,1006.1 400.7,1004.1 400,1005.6 399.3,1006.2 398.6,1005 397.9,1004.5 397.2,1004.3 396.5,1006.4 395.8,1005.3 395.1,1003.9 394.4,1004.5 393.7,1005.2 393,1005.6 392.3,1006.2 391.6,1004.7 390.8,1005.1 390.1,1005.6 389.4,1005 388.7,1006.4 388,1004.7 387.3,1005 386.6,1004.6 385.9,1005.2 385.2,1005.9 384.5,1007.3 383.8,1005.9 383.1,1006.4 382.4,1005.4 381.7,1004.8 381,1006.5 380.3,1005.6 379.6,1005.1 378.9,1005.9 378.2,1006.1 377.5,1005.8 376.8,1005.2 376.1,1006.1 375.4,1005.8 374.6,1006.3 373.9,1004.4 373.2,1005.1 372.5,1006.2 371.8,1006.7 371.1,1005.4 370.4,1005.7 369.7,1005.5 369,1005.2 368.3,1006.2 367.6,1004.8 366.9,1005 366.2,1006.8 365.5,1004.8 364.8,1005.4 364.1,1005.3 363.4,1007.6 362.7,1005.5 362,1005.8 361.3,1006.2 360.6,1005.6 359.9,1005.8 359.2,1005.5 358.5,1006.5 357.8,1003.4 357,1005.7 356.3,1004.4 355.6,1006.6 354.9,1006.1 354.2,1005.7 353.5,1005.4 352.8,1006.1 352.1,1006.1 351.4,1005 350.7,1005.3 350,1005.5 349.3,1005.5 348.6,1004.7 347.9,1006.1 347.2,1006 346.5,1006.3 345.8,1005.3 345.1,1005.2 344.4,1004.6 343.7,1004 343,1005.2 342.3,1005 341.6,1006.3 340.9,1006.9 340.1,1006.2 339.4,1005.6 338.7,1004.9 338,1005.1 337.3,1004.9 336.6,1005 335.9,1006 335.2,1005.1 334.5,1005.5 333.8,1005.6 333.1,1006.5 332.4,1006.4 331.7,1005.3 331,1004.9 330.3,1006.3 329.6,1005.6 328.9,1005.2 328.2,1005.5 327.5,1006.1 326.8,1005.7 326.1,1006.2 325.4,1004.9 324.7,1005.3 324,1005 323.2,1005.6 322.5,1004.8 321.8,1004.9 321.1,1004.6 320.4,1004.6 319.7,1005.8 319,1005 318.3,1006.7 317.6,1005 316.9,1007.3 316.2,1005.8 315.5,1004.6 314.8,1005.7 314.1,1005.3 313.4,1007 312.7,1005.1 312,1006.2 311.3,1004.4 310.6,1006.8 309.9,1007.3 309.2,1005.6 308.5,1006.1 307.8,1005 307.1,1005.7 306.3,1006.4 305.6,1005.7 304.9,1007.8 304.2,1006.7 303.5,1005.3 302.8,1005.5 302.1,1007.7 301.4,1005.1 300.7,1005.8 300,1007.6 299.3,1006.6 298.6,1004.4" fill="#f5a623"/>
<polyline points="483.9,1001 484.2,1085" fill="none" stroke="#f5a623" stroke-width="2.0" stroke-linejoin="round" stroke-linecap="butt" />
<polyline points="484.8,1085 488.7,1006" fill="none" stroke="#f01010" stroke-width="3.0" stroke-linejoin="round" stroke-linecap="butt" />
<polygon points="488.5,1002.5 489.2,1001.9 489.9,1002.1 490.6,1001.2 491.3,1002.1 492,1001 492.7,1000 493.4,1000.1 494.1,1001.4 494.8,1001.5 495.5,1001.4 496.2,1001.5 496.9,1000.9 497.6,1001.5 498.4,1001.9 499.1,1001.7 499.8,1000 500.5,1002.3 501.2,1002.5 501.9,1001.4 502.6,1002.4 503.3,1000.6 504,1001.5 504.7,1001.7 505.4,1001.2 506.1,1001.4 506.8,1002.6 507.5,1001 508.2,1001.7 508.9,1000.2 509.6,1002.1 510.3,1001.2 511,1002 511.7,1001.5 512.4,1000 513.1,1001.9 513.8,1002.9 514.5,1001.3 515.2,1001.2 516,1001.4 516.7,1000 517.4,1000.3 518.1,1000.3 518.8,1000.5 519.5,1000.6 520.2,1001.6 520.9,1002.9 521.6,1001.6 522.3,1000.9 523,1001.1 523.7,1001.7 524.4,1002.2 525.1,1000.6 525.8,999.5 526.5,1000.4 527.2,1001.7 527.9,1001.2 528.6,1001 529.3,1002.1 530,1001.1 530.7,1002.9 531.4,1001.2 532.1,1001.5 532.8,1000.9 533.5,1000.4 534.2,1001.6 535,1000.9 535.7,1002.1 536.4,1000.9 537.1,1002.3 537.8,1001 538.5,1000.1 539.2,1001.8 539.9,1000 540.6,1000.6 541.3,1002.2 542,1001.3 542.7,1001 543.4,1000.9 544.1,1000.5 544.8,1001.7 545.5,1001.8 546.2,1001.4 546.9,1000.1 547.6,999.6 548.3,1000.9 549,1001.2 549.7,1001.2 550.4,1000.7 551.1,1000.5 551.8,1001.6 552.5,1000.2 553.3,1001.3 554,1001 554.7,1001.1 555.4,1000.8 556.1,1002.1 556.8,1002.4 557.5,1002.1 558.2,999.4 558.9,1000.2 559.6,1002.9 560.3,1000.7 561,1000.3 561.7,1002 562.4,999.9 563.1,1002.3 563.8,1001.7 564.5,1000.4 565.2,1000.6 565.9,1000.1 566.6,1002.9 567.3,1001.8 568,1002.7 568.7,1001.4 569.4,1001.6 570.1,1002.7 570.9,1002.3 571.6,1001.9 572.3,1001.4 573,1001.3 573.7,1000.6 574.4,1002.7 575.1,1000.7 575.8,1000.1 576.5,1001.7 577.2,1001.9 577.9,1000.2 578.6,1001.9 579.3,1001 580,1000.8 580.7,1001 581.4,1002.6 582.1,1001.5 582.8,1001.2 583.5,1001.4 584.2,1000.1 584.9,1000.8 585.6,1001.9 586.3,1001.6 587,1002.1 587.7,1000.6 588.4,1002.5 589.1,1001.8 589.8,1001.3 590.5,1002.1 591.2,1003.4 591.9,1001 592.6,1001.5 593.3,1001.4 594,1000.9 594.7,1000.5 595.5,1001.5 596.2,1001.9 596.9,1001.8 597.6,1001 598.3,1000.5 599,1000.6 599.7,1000.8 600.4,1002 601.1,1001 601.8,1000.9 602.5,1001.1 603.2,1001.1 603.9,1001.7 604.6,1001.2 605.3,1000.8 606,1001.9 606.7,1000.8 607.4,1001.1 608.1,1001.6 608.8,1000.3 609.5,1001.9 610.2,1000.5 610.9,1001.4 611.6,1003.2 612.3,1000.6 613,1000.8 613.7,1000.4 614.4,1000.6 615.1,1001.1 615.8,1000.7 616.5,1002 617.2,1000.6 617.9,1000.9 618.6,1001.2 619.3,1001.6 620,1002.5 620.7,1000.2 621.4,1001.5 622.1,1000.6 622.8,1000.6 623.5,1001.3 624.2,1001.2 624.9,1001.9 625.6,1000.4 626.4,1001.9 627.1,1000.1 627.8,1000.7 628.5,1000.6 629.2,1001 629.9,1000.2 630.6,1000.3 631.3,1000.9 632,1000.5 632.7,999.5 633.4,1002.7 634.1,1000.2 634.8,1002 635.5,1001.5 636.2,1000.7 636.9,1001.5 637.6,1000.9 638.3,1001 639,1002.3 639.7,1001.5 640.4,1001.6 641.1,1000.2 641.8,1001.4 642.5,999.3 643.2,1001.5 643.9,1001.6 644.6,1000.4 645.3,1001 646,1001.1 646.7,1000.1 647.4,1000.8 648.1,1002.9 648.8,1000.8 649.5,1002.1 650.2,1000.8 650.9,999.5 651.6,1001.6 652.3,1001.6 653,1002 653.7,1000.9 654.4,1000.7 655.1,1001.9 655.8,1000.1 656.6,1000.6 657.3,1001.3 658,1001.9 658.7,1002.2 659.4,1001.4 660.1,1001.1 660.8,1000.6 661.5,1001.3 662.2,1002.4 662.9,1000.9 663.6,1000.6 664.3,1000.5 665,1000.4 665.7,1002.3 666.4,1001.3 667.1,1001.6 667.8,1001.6 668.5,1001.4 669.2,1002.2 669.9,999.4 670.6,1002.1 671.3,1001.9 671.3,1007.8 670.6,1007.7 669.9,1007.1 669.2,1007.4 668.5,1006.7 667.8,1008.3 667.1,1009.3 666.4,1009 665.7,1008.6 665,1008.4 664.3,1007.6 663.6,1006.8 662.9,1008.5 662.2,1007.6 661.5,1008.5 660.8,1006.3 660.1,1007.8 659.4,1006 658.7,1007.8 658,1008.8 657.3,1007.4 656.6,1007.7 655.8,1008.7 655.1,1006.7 654.4,1007.6 653.7,1008 653,1009.1 652.3,1007 651.6,1007.6 650.9,1009.5 650.2,1007.1 649.5,1007.5 648.8,1007.1 648.1,1006.4 647.4,1006.2 646.7,1007.6 646,1007.6 645.3,1007.5 644.6,1007 643.9,1008.6 643.2,1007.7 642.5,1007.3 641.8,1006.4 641.1,1006.2 640.4,1007.3 639.7,1006.9 639,1006 638.3,1006.1 637.6,1008.7 636.9,1007.1 636.2,1007.4 635.5,1008 634.8,1007.9 634.1,1008.2 633.4,1007.6 632.7,1008.5 632,1007.6 631.3,1007.2 630.6,1007.4 629.9,1009 629.2,1008.4 628.5,1007.5 627.8,1008.1 627.1,1008.9 626.4,1007.1 625.6,1007.3 624.9,1007 624.2,1007.7 623.5,1007.1 622.8,1007.7 622.1,1007.6 621.4,1008 620.7,1008.3 620,1007.4 619.3,1006.6 618.6,1006.8 617.9,1006.4 617.2,1007.2 616.5,1007.5 615.8,1005.9 615.1,1007.6 614.4,1006.7 613.7,1009.2 613,1009.6 612.3,1007 611.6,1006.7 610.9,1008.5 610.2,1008.1 609.5,1007.9 608.8,1008.3 608.1,1009.3 607.4,1008.6 606.7,1008.2 606,1007.1 605.3,1006.7 604.6,1008.3 603.9,1009.2 603.2,1008.1 602.5,1008.8 601.8,1006.5 601.1,1006.9 600.4,1008.2 599.7,1007.6 599,1006.9 598.3,1009 597.6,1007.9 596.9,1007.2 596.2,1008.2 595.5,1007.5 594.7,1007.3 594,1008.4 593.3,1007.6 592.6,1007.9 591.9,1007.1 591.2,1009.9 590.5,1008 589.8,1008.6 589.1,1007.5 588.4,1008 587.7,1008.1 587,1007.6 586.3,1008 585.6,1008.1 584.9,1007.8 584.2,1008.2 583.5,1007.8 582.8,1008.5 582.1,1006.7 581.4,1008.6 580.7,1009.6 580,1007.4 579.3,1008.4 578.6,1008.3 577.9,1009.5 577.2,1008.4 576.5,1008.2 575.8,1007.5 575.1,1007.3 574.4,1008.6 573.7,1007.5 573,1009.5 572.3,1010 571.6,1007.8 570.9,1007.8 570.1,1007.8 569.4,1007.2 568.7,1009 568,1010.1 567.3,1007.6 566.6,1008.7 565.9,1007.8 565.2,1007.8 564.5,1008.8 563.8,1007.5 563.1,1007.5 562.4,1007.6 561.7,1007.1 561,1008.2 560.3,1008.2 559.6,1006.1 558.9,1006.6 558.2,1008.6 557.5,1007.6 556.8,1008.6 556.1,1008.2 555.4,1005.8 554.7,1007.9 554,1006.9 553.3,1008.5 552.5,1007.6 551.8,1008 551.1,1008.3 550.4,1009.3 549.7,1009.4 549,1006.8 548.3,1008.5 547.6,1007.6 546.9,1008.4 546.2,1008.5 545.5,1008.5 544.8,1007.6 544.1,1008.4 543.4,1009.2 542.7,1008.7 542,1008.4 541.3,1008.4 540.6,1008.8 539.9,1008.6 539.2,1006.6 538.5,1007.1 537.8,1009 537.1,1008.8 536.4,1008.5 535.7,1008 535,1008.3 534.2,1007.4 533.5,1006.9 532.8,1008.3 532.1,1007.7 531.4,1008.8 530.7,1006.3 530,1007.9 529.3,1006.9 528.6,1008.6 527.9,1007.3 527.2,1008.9 526.5,1008.5 525.8,1008.8 525.1,1007.3 524.4,1008.4 523.7,1007.4 523,1007.2 522.3,1006.6 521.6,1006.7 520.9,1007.3 520.2,1007.3 519.5,1007.7 518.8,1007.8 518.1,1009.1 517.4,1007.7 516.7,1008.2 516,1006.6 515.2,1006.4 514.5,1008.4 513.8,1008.5 513.1,1007.7 512.4,1008.3 511.7,1006.5 511,1008.5 510.3,1007.8 509.6,1008.2 508.9,1008.3 508.2,1007.5 507.5,1008.4 506.8,1008.1 506.1,1007.5 505.4,1008.5 504.7,1007.4 504,1007.8 503.3,1007.4 502.6,1007.7 501.9,1006.9 501.2,1008 500.5,1008.3 499.8,1009 499.1,1007.7 498.4,1008.6 497.6,1009.2 496.9,1008.8 496.2,1008.9 495.5,1007.3 494.8,1008.9 494.1,1008.7 493.4,1008.8 492.7,1007.7 492,1007.6 491.3,1007.8 490.6,1007.8 489.9,1007.6 489.2,1007.7 488.5,1007.9" fill="#f01010"/>
<polyline points="671.3,1004 671.5,1085" fill="none" stroke="#f01010" stroke-width="2.4" stroke-linejoin="round" stroke-linecap="butt" />
<polyline points="671.4,1085 671.6,998" fill="none" stroke="#20d020" stroke-width="3.0" stroke-linejoin="round" stroke-linecap="butt" />
<polygon points="671.6,995.2 673,990.9 673.8,992.6 674.6,990.7 675.4,993.1 676.2,992.8 677,991.4 677.7,992.2 678.4,992.4 679.1,991.4 679.8,992.6 680.5,991.7 681.2,990.5 681.9,991.4 682.6,991.8 683.3,991.5 684,991.7 684.8,991.3 685.5,991.5 686.2,992 686.9,991.2 687.6,991.3 688.3,991.9 689,992.5 689.7,990.6 690.4,992 691.1,990.2 691.8,991.3 692.5,993.1 693.2,990.1 693.9,990.4 694.6,990.7 695.3,990.7 696,990.9 696.7,991.4 697.4,990.8 698.1,992.1 698.9,990.8 699.6,991.2 700.3,989.9 701,991.8 701.7,991.5 702.4,990.8 703.1,991.3 703.8,991 704.5,990.1 705.2,990.8 705.9,990.7 706.6,991.7 707.3,990.6 708,991.5 708.7,989.6 709.4,991.9 710.1,991.5 710.8,990.4 711.5,989.3 712.2,990.8 713,990.1 713.7,988.9 714.4,989.5 715.1,990.6 715.8,991.3 716.5,989.5 717.2,990.8 717.9,990.5 718.6,989.7 719.3,989.4 720,989.2 720.7,991.3 721.4,990.5 722.1,991.6 722.8,991.3 723.5,989.8 724.2,990 724.9,990.5 725.6,989.7 726.3,989.3 727,991.5 727.7,989.6 728.4,988.9 729.1,990.7 729.8,990.4 730.5,990.7 731.2,988.2 731.9,989.7 732.6,990.6 733.3,989.3 734,989.6 734.7,988.7 735.4,989.7 736.1,990.2 736.8,989.7 737.5,989.9 738.2,990.8 738.9,991.1 739.6,990.5 740.4,990.3 741.1,991.2 741.8,989.2 742.5,990.9 743.2,989.2 743.9,989.2 744.6,988.2 745.3,989.8 746,990.4 746.7,989.3 747.4,988.9 748.1,987.8 748.8,989.6 749.5,991 750.2,990.2 750.9,989.6 751.6,989.5 752.3,990.3 753,989.9 753.7,989.5 754.4,990.7 755.1,989.7 755.8,988.4 756.5,989.5 757.2,988.9 757.9,989.3 758.6,989.9 759.3,987.8 760,990 760.7,989.1 761.4,989.7 762.1,987.7 762.8,990.2 763.5,989.9 764.2,988.5 764.9,989.3 765.6,988.6 766.3,990.3 767,989.6 767.7,990.2 768.4,989.9 769.1,990.2 769.8,988.8 770.5,989.2 771.2,988.4 771.9,989.2 772.6,987.3 773.3,989.7 774,989.3 774.7,989.3 775.4,990.2 776.1,988.7 776.8,988.3 777.5,988.5 778.2,987.4 778.9,990.3 779.6,987.7 780.4,987.6 781.1,988.4 781.8,990.2 782.5,989.5 783.2,988.6 783.9,989.6 784.6,989.2 785.3,988.8 786,989.2 786.7,988.1 787.4,988.6 788.1,990 788.8,989.1 789.5,988.5 790.2,988.5 790.9,989 791.6,989.5 792.3,988.3 793,988.4 793.7,988.4 794.4,988.1 795.1,988.2 795.8,987.6 796.5,989.2 797.2,987.8 797.9,987 798.6,988.8 799.3,987.1 800,988.3 800.7,987.3 801.4,988.4 802.1,989.3 802.8,988 803.5,987.6 804.2,989.6 805,987.5 805.7,988.3 806.4,986.9 807.1,987.3 807.8,987.1 808.5,989.5 809.2,987.6 809.9,987.5 810.6,987.7 811.3,988.5 812,989.5 812.7,988.3 813.4,988.5 814.1,989.8 814.9,988.3 815.6,987.8 816.3,988.4 817,986.5 817.7,987.9 818.4,987.4 819.1,988.8 819.8,989 820.5,987.3 821.2,987.8 821.9,988.4 822.6,988.5 823.3,988.9 824,988.4 824.8,988.7 825.5,988 826.2,987.9 826.9,987.5 827.6,987.6 828.3,987.4 829,988.6 829.7,987.1 830.4,987.8 831.1,989.1 831.8,987.6 832.5,987.7 833.2,986.5 834,986.5 834.7,987 835.4,986.4 836.1,988.3 836.8,988.5 837.5,989.1 838.2,988.2 838.9,985.6 839.6,988.7 840.3,988.1 841,987.9 841.7,986.7 842.4,987.7 843.1,985.4 843.9,986.8 844.6,988.8 845.3,988.6 846,988.8 846.7,987.6 847.4,987.2 848.1,986.3 848.8,987.6 849.5,987.9 850.2,988.5 850.9,989.2 851.6,986.8 852.3,987.5 853,987.6 853.8,987.2 854.5,987.6 855.2,988.1 855.9,985.9 856.6,986.7 857.3,987.9 858,986.6 858,994.6 857.3,992.2 856.6,993.9 855.9,993.6 855.2,993 854.5,993.1 853.8,992.1 853,994.8 852.3,992.8 851.6,993.9 850.9,994.5 850.2,993.9 849.5,993.7 848.8,993.1 848.1,993.5 847.4,994.4 846.7,995.2 846,994.4 845.3,991.7 844.6,992.4 843.9,994 843.1,994.3 842.4,994.4 841.7,994 841,993.8 840.3,993.7 839.6,993.8 838.9,991.6 838.2,993.8 837.5,994.8 836.8,993.5 836.1,994.7 835.4,995.3 834.7,992.2 834,995.7 833.2,995.2 832.5,993.8 831.8,993.7 831.1,993.3 830.4,994.5 829.7,995.9 829,994.4 828.3,994.8 827.6,992.4 826.9,993.4 826.2,994.5 825.5,994.5 824.8,993.6 824,993.7 823.3,995.5 822.6,993.5 821.9,994.6 821.2,995.9 820.5,993.1 819.8,995.1 819.1,993.5 818.4,994.5 817.7,995.4 817,994.4 816.3,993.8 815.6,994.8 814.9,994.1 814.1,994.7 813.4,993.1 812.7,994.3 812,994.7 811.3,993.8 810.6,994.2 809.9,996.1 809.2,994.9 808.5,994.4 807.8,995.7 807.1,994.4 806.4,994.5 805.7,993.5 805,994.5 804.2,994.8 803.5,995.5 802.8,995.6 802.1,995.4 801.4,995.4 800.7,994.2 800,994.3 799.3,995.9 798.6,995.7 797.9,995 797.2,995.3 796.5,994.6 795.8,994.6 795.1,995 794.4,995 793.7,994.9 793,994.8 792.3,994 791.6,994.5 790.9,995.8 790.2,995.1 789.5,994.7 788.8,994.7 788.1,995.6 787.4,995.7 786.7,994 786,995.1 785.3,994.9 784.6,996.2 783.9,995.3 783.2,995 782.5,995.9 781.8,996.1 781.1,996.1 780.4,995.5 779.6,994.8 778.9,994.6 778.2,994.2 777.5,994.1 776.8,995.4 776.1,995.1 775.4,995.6 774.7,994.9 774,995 773.3,995.5 772.6,995.3 771.9,996.2 771.2,992.7 770.5,997.3 769.8,995.5 769.1,995 768.4,996.6 767.7,994.6 767,996.4 766.3,997 765.6,996.5 764.9,995.9 764.2,997.4 763.5,995.9 762.8,995.3 762.1,995.3 761.4,995.4 760.7,995.5 760,994.9 759.3,994.7 758.6,996 757.9,996.4 757.2,995.6 756.5,996.1 755.8,995 755.1,996.9 754.4,994.9 753.7,996.2 753,996.7 752.3,997 751.6,997.5 750.9,995.8 750.2,996.2 749.5,995.3 748.8,996.6 748.1,996.2 747.4,996.4 746.7,998 746,995.8 745.3,997.2 744.6,997 743.9,996.5 743.2,996.6 742.5,995.5 741.8,995.6 741.1,995.2 740.4,995.3 739.6,996.6 738.9,995.9 738.2,995.3 737.5,996.2 736.8,996.6 736.1,995.4 735.4,997 734.7,997 734,997.2 733.3,996.3 732.6,996.3 731.9,997.6 731.2,993.7 730.5,995.2 729.8,997.4 729.1,996.7 728.4,995.8 727.7,996.4 727,996.2 726.3,996.3 725.6,997.2 724.9,996.9 724.2,996.9 723.5,997.7 722.8,997 722.1,996.7 721.4,997.1 720.7,995.9 720,996.8 719.3,997.4 718.6,998.1 717.9,996.7 717.2,997.3 716.5,996.4 715.8,997.1 715.1,996.8 714.4,997.1 713.7,995.7 713,996.7 712.2,995.8 711.5,998.7 710.8,997.5 710.1,997 709.4,996.7 708.7,996.1 708,995.9 707.3,997.1 706.6,996.7 705.9,999 705.2,998.9 704.5,998.5 703.8,996 703.1,996.6 702.4,997.9 701.7,998.7 701,996.7 700.3,997.7 699.6,998.1 698.9,997.7 698.1,997.1 697.4,995.7 696.7,997.4 696,998.4 695.3,998 694.6,997.6 693.9,998.8 693.2,998.6 692.5,998 691.8,998.4 691.1,998.3 690.4,998.1 689.7,998.3 689,997.6 688.3,1000.2 687.6,997.9 686.9,998.2 686.2,998.7 685.5,998.2 684.8,998.1 684,997.7 683.3,998.2 682.6,999.2 681.9,998.6 681.2,998.1 680.5,997.5 679.8,998.4 679.1,997.2 678.4,998.5 677.7,998.8 677,999.2 676.2,997.3 675.4,999.3 674.6,998.2 673.8,998.4 673,999.3 671.6,1003.6" fill="#20d020"/>
<polyline points="858.6,990 858.9,1085" fill="none" stroke="#20d020" stroke-width="3.0" stroke-linejoin="round" stroke-linecap="butt" />
<text transform="translate(176 974.8) scale(0.941 1)" font-size="28.34" fill="#1414f0">NBI1L</text>
<text transform="translate(358.4 976) scale(0.934 1)" font-size="28.49" fill="#f5a623">NBI2R</text>
<text transform="translate(548.2 979.5) scale(0.937 1)" font-size="28.20" fill="#f01010">NBI2L</text>
<text transform="translate(728.4 975) scale(0.943 1)" font-size="28.20" fill="#20d020">NBI1R</text>
<text transform="translate(729.1 1050.1) scale(0.870 1)" font-size="28.05" fill="#000">ICRF</text>
<polyline points="994.7,170.3 996.3,167.5 997.8,164.5 999.4,161.5 1001,154.4 1002.5,149.6 1004.1,144.2 1005.7,141.5 1007.2,138.4 1008.8,134.6 1010,134.7 1011.3,132.8 1012.5,133.1 1013.8,131.3 1015,131.2 1016.3,130.3 1017.6,129 1019,127.7 1020.3,126.7 1021.6,125.5 1022.9,126.2 1024.1,124.5 1025.4,124.2 1026.6,122.1 1027.9,121 1029.1,119.3 1030.7,115.3 1032.3,110.1 1033.7,110.4 1035,109 1036.3,107.9 1037.7,106.5 1039.1,106.5 1040.5,107.2 1041.8,110.8 1043.2,112.1 1044.8,108.2 1046.3,105.1 1047.9,103 1049.2,104.1 1050.4,103.7 1051.7,103.5 1052.9,105 1054.2,105.6 1055.7,95.2 1057.3,97 1058.8,96.6 1060.4,97.8 1061.7,98.5 1063.1,98.5 1064.4,97.9 1065.8,99.4 1067.1,98.6 1068.5,100.3 1069.8,99 1071,99.9 1072.2,99.8 1073.4,99.7 1074.6,100.2 1075.9,100.2 1077.1,101.1 1078.3,100.2 1079.5,100.6 1080.7,99.2 1081.9,100.5 1083.1,100.3 1084.3,100.6 1085.6,100.6 1086.8,99.1 1088,98.8 1089.2,99.1 1090.4,99.2 1091.6,100.4 1092.8,98.2 1094,99.5 1095.3,99.6 1096.5,98.4 1097.8,97.2 1099,97 1100.3,97.5 1101.5,97.1 1102.7,96.1 1104,95.9 1105.2,96.5 1106.5,95.3 1107.7,96.7 1109,94.7 1110.2,96.4 1111.4,94.2 1112.7,95.9 1113.9,94.9 1115.2,93.8 1116.4,94.8 1117.7,94.9 1118.9,94.9 1120.1,94.2 1121.4,93.7 1122.6,93.4 1123.9,93.3 1125.1,93.7 1126.4,92.9 1127.6,92.7 1128.9,92.1 1130.1,93.4 1131.3,94.5 1132.6,94.8 1133.8,93.1 1135.1,93.8 1136.3,94.1 1137.6,95 1138.8,97 1140,96.3 1141.3,97.4 1142.5,98.1 1143.8,97.8 1145,99.1 1146.3,100.2 1147.5,100.5 1148.7,101.1 1150,101.3 1151.2,101.8 1152.5,101.2 1153.7,103.2 1155,103.2 1156.2,102.7 1157.4,102.8 1158.7,102.4 1159.9,101.6 1161.2,103.2 1162.4,102.4 1163.7,103.2 1164.9,103.4 1166.1,101.5 1167.4,101.5 1168.6,102.5 1169.9,101.7 1171.1,101.5 1172.4,101.2 1173.6,101.5 1174.8,99.5 1176.1,98.5 1177.3,98.9 1178.6,98.4 1179.8,100.4 1181.1,104 1182.3,105.4 1183.6,105.8 1184.8,104.6 1186,103.2 1187.3,99.1 1188.5,98.2 1189.8,96.9 1191,97 1192.3,97.7 1193.5,100.8 1194.7,100.1 1196,99.1 1197.2,99.1 1198.5,97.1 1199.7,98 1201,99.6 1202.2,102.7 1203.4,104.8 1204.7,107 1205.9,105.5 1207.2,104.5 1208.4,102.4 1209.7,101 1210.9,102.7 1212.1,103.2 1213.4,105 1214.6,105.5 1215.9,104.6 1217.1,101.4 1218.4,99 1219.6,97.8 1220.8,96.1 1222.1,97.4 1223.3,98.9 1224.6,100.4 1225.8,101.1 1227.1,101.3 1228.3,100.3 1229.5,98.6 1230.8,96 1232,97.2 1233.3,98.7 1234.5,99.4 1235.8,101.5 1237,103.3 1238.2,102.6 1239.5,101 1240.7,100.3 1242,99.9 1243.2,101.7 1244.5,101.7 1245.7,101.8 1247,100.6 1248.2,101 1249.4,100.5 1250.7,100.1 1251.9,100.6 1253.2,100.2 1254.4,99.4 1255.7,99.6 1256.9,99.8 1258.1,100.1 1259.4,99.5 1260.6,100.5 1261.9,99.9 1263.1,100.6 1264.4,100.2 1265.6,102 1266.8,99.9 1268.1,101.7 1269.3,100.5 1270.6,102.4 1271.8,100.7 1273.1,102.1 1274.3,101.7 1275.5,102.6 1276.8,100.3 1278,100.2 1279.3,100 1280.5,99.5 1281.8,98.6 1283,97.9 1284.2,98.9 1285.5,98.8 1286.7,99.3 1288,99.1 1289.2,98.7 1290.5,99.4 1291.7,100.5 1292.9,100 1294.2,99.4 1295.4,100.1 1296.7,98.9 1297.9,99.5 1299.2,99.9 1300.4,99.8 1301.7,99.7 1302.9,100.2 1304.1,101.4 1305.4,100.3 1306.6,100.6 1307.9,101.5 1309.1,98.9 1310.4,100.4 1311.6,101.2 1312.8,99.7 1314.1,99.8 1315.3,100.3 1316.6,98.9 1317.8,98.4 1319.1,99.7 1320.3,97.2 1321.5,99.3 1322.8,97.9 1324,99.1 1325.3,99.3 1326.5,99.2 1327.8,99 1329,99.9 1330.2,99.7 1331.5,100.1 1332.7,100.4 1334,100.2 1335.2,101.1 1336.5,99.8 1337.7,99 1338.9,99.1 1340.2,100.3 1341.4,99.7 1342.7,100.5 1343.9,100.7 1345.2,101.5 1346.4,99.6 1347.6,100.6 1348.9,99.3 1350.1,100.7 1351.4,98.6 1352.6,100.9 1353.9,99.6 1355.1,101.1 1356.4,99.7 1357.6,98.9 1358.8,99.2 1360.1,99 1361.3,99.6 1362.6,100.1 1363.8,99.5 1365.1,99.1 1366.3,99.1 1367.5,100.4 1368.8,98.6 1370,99.6 1371.3,98.6 1372.5,98.6 1373.8,99.5 1375,98 1376.2,100.1 1377.5,100.1 1378.7,99.7 1380,100.9 1381.3,101.2 1382.5,100.7 1383.8,100 1385.1,100.8 1386.4,101.3 1387.6,99.3 1388.9,99.4 1390.2,98.3 1391.4,98.2 1392.7,97.5 1394,98 1395.2,98.4 1396.5,98.4 1397.8,99 1399.1,98.6 1400.3,99.6 1401.6,98.5 1402.9,100.2 1404.1,100 1405.4,100.7 1406.7,100.2 1407.9,100 1409.2,99.9 1410.5,99.5 1411.8,99.6 1413,98.1 1414.3,98.8 1415.6,99.3 1416.8,98.1 1418.1,100.2 1419.4,99.6 1420.7,97.5 1421.9,99.4 1423.2,98.4 1424.5,98.4 1425.7,98.8 1427,96.6 1428.3,96.3 1429.5,95.8 1430.8,93.9 1432.1,93.4 1433.4,94.7 1434.6,96 1435.9,96.2 1437.2,97.9 1438.4,98.7 1439.7,99.4 1441,98.3 1442.2,99 1443.5,98.3 1444.8,97.7 1446.1,98.4 1447.3,98 1448.6,97.3 1449.9,97.9 1451.1,98 1452.4,96.2 1453.7,98.1 1454.9,96.5 1456.2,98.1 1457.5,98.8 1458.8,98.8 1460,99 1461.3,98.9 1462.6,99.6 1463.8,98.7 1465.1,100.9 1466.4,98.6 1467.7,100 1468.9,99.4 1470.2,100.8 1471.5,101.2 1472.7,101.6 1474,103.6 1475.3,101.3 1476.5,99.9 1477.8,99.1 1479.1,98.3 1480.4,98.3 1481.6,97.9 1482.9,98.5 1484.2,98.6 1485.4,98.6 1486.7,98.3 1488,99.1 1489.2,98.1 1490.5,97.8 1491.8,95.9 1493.1,93.2 1494.3,91.2 1495.6,88.8 1496.9,88.5 1498.1,87.8 1499.4,84.7 1500.7,84.8 1502,82.5 1503.2,82.7 1504.5,80.4 1505.8,82.1 1507,82.5 1508.3,83.7 1509.6,84.6 1510.8,83.8 1512.1,80.2 1513.4,78.2 1514.7,75 1515.9,76.4 1517.2,76.1 1518.5,77.4 1519.7,78.6 1521,77.9 1522.3,78.1 1523.5,79.8 1524.8,80.4 1526.1,80.7 1527.4,80.9 1528.6,82.8 1529.9,83.8 1531.2,84.5 1532.4,86 1533.7,85.7 1535,86 1536.2,85.2 1537.5,86.3 1538.8,86.6 1540.1,86.6 1541.3,87.8 1542.6,87.4 1543.9,88.1 1545.1,87.6 1546.4,88.3 1547.7,88.8 1549,88.5 1550.2,88.9 1551.5,88.5 1552.8,87.6 1554,89.5 1555.3,89.8 1556.6,90.3 1557.8,91.8 1559.1,89.5 1560.4,87.5 1561.7,85.7 1562.9,87.4 1564.2,88.3 1565.5,90.2 1566.7,93.7 1568,95.6 1569.3,93.8 1570.5,90.9 1571.8,87.2 1573.1,82.2 1574.4,81.4 1575.6,82.8 1576.9,85 1578.2,88.3 1579.4,88.5 1580.7,90.6 1582,90.3 1583.3,89.4 1584.5,88.3 1585.8,88.2 1587.1,88.5 1588.3,90.9 1589.6,90.8 1590.9,93.1 1592.1,93.3 1593.4,92.8 1594.7,90.5 1596,88.2 1597.2,85.2 1598.5,84 1599.8,82.9 1601,84.5 1602.3,85.6 1603.6,88.2 1604.8,90.8 1606.1,91.2 1607.4,90.4 1608.7,87.9 1609.9,87 1611.2,86.2 1612.5,85.2 1613.7,86.2 1615,89.1 1616.3,92.6 1617.6,93.6 1618.8,94.1 1620.1,93.3 1621.4,92.2 1622.6,88.4 1623.9,86.6 1625.2,85.5 1626.4,87.3 1627.7,86.8 1629,89.4 1630.3,89.9 1631.5,89.1 1632.8,88.4 1634.1,86.1 1635.3,82.4 1636.6,80.6 1637.9,80.8 1639.1,81.9 1640.4,83.1 1641.7,83.3 1643,83.5 1644.2,84.3 1645.5,83.8 1646.8,84.9 1648,86.2 1649.3,86 1650.6,86.3 1651.8,86.1 1653.1,86.5 1654.4,88.2 1655.7,87.7 1656.9,87.3 1658.2,87.3 1659.5,87.9 1660.7,89.4 1662,88.6 1663.3,87.3 1664.6,88.7 1665.8,88.9 1667.1,87.7 1668.4,88.4 1669.6,89.2 1670.9,87.6 1672.2,86.8 1673.4,87.5 1674.7,88.1 1676,86.8 1677.3,87.3 1678.5,87.3 1679.8,86.9 1681.1,86.8 1682.3,85.6 1683.6,88 1684.9,86.3 1686.1,87.4 1687.3,86.5 1688.5,86 1689.7,85.6 1690.9,85.9 1692.1,86.7 1693.3,86.3 1694.6,87.8 1695.8,86.9 1697,87.1 1698.2,88.1 1699.4,87.4 1700.6,86 1701.8,87.8 1703,86.4 1704.2,86.6 1705.4,88 1706.7,87.6 1707.9,86.4 1709.1,88 1710.3,89.4 1711.5,86.4 1712.7,86.8 1713.9,86.3 1715.1,87.1 1716.3,86.7 1717.5,86.6 1718.8,85.7 1720,86.8 1721.2,86.3 1722.4,87.8 1723.6,86.2 1724.8,85.2 1726,85.2 1727.2,85.8 1728.4,85.4 1729.6,85.2 1730.9,86.4 1732.1,85.5 1733.3,85.1 1734.5,84.5 1735.7,84.5 1737,85.7 1738.2,86 1739.5,86 1740.8,85.9 1742,85.9 1743.3,87.2 1744.6,86.7 1745.9,86.8 1747.1,85.8 1748.4,86.8 1749.7,86 1750.9,85.5 1752.2,85 1753.5,85.9 1754.7,85.5 1756,85.1 1757.3,84.8 1758.6,84.5 1759.8,84.3 1761.1,84.2 1762.4,83 1763.6,82.8 1764.9,82.7 1766.2,82.7 1767.4,82.8 1768.7,82.3 1770,81.8 1771.3,82.5 1772.5,81.8 1773.8,82.6 1775.1,83.2 1776.3,81.7 1777.6,83.6 1778.9,82.2 1780.2,81.5 1781.4,81.7 1782.7,81.3 1784,82.6 1785.2,82.6 1786.5,82.7 1787.8,82 1789,81.6 1790.3,80.4 1791.6,79.3 1792.9,79.6 1794.1,78.8 1795.4,78.6 1796.7,77.8 1797.9,76.6 1799.2,76.6 1800.5,75.5 1801.7,75.7 1803,75.3 1804.3,75.3 1805.6,74.7 1806.8,75 1808.1,75.6 1809.4,74.3 1810.6,75.5 1811.9,75.4 1813.1,74.9 1814.3,74.3 1815.5,75.5 1816.7,74.3 1818,74.6 1819.2,75.2 1820.4,74 1821.6,74.9 1822.8,74 1824,75.1 1825.2,74 1826.4,74 1827.6,74.4 1828.8,74.2 1830.1,73.7 1831.3,74.5 1832.5,72.9 1833.7,74.5 1834.9,74.5 1836.1,73.7 1837.3,73.4" fill="none" stroke="#b020b0" stroke-width="3.6" stroke-linejoin="round" stroke-linecap="butt" />
<polyline points="995.9,154.2 1004.5,119.7 1008,129.1 1011.9,131.5 1016.6,144 1020.9,120.1" fill="none" stroke="#000" stroke-width="2.0" stroke-linejoin="round" stroke-linecap="butt" />
<polyline points="1020.9,118.6 1022.7,122.4 1024.4,126.3 1026.8,130.3 1028.3,131 1029.9,135.8 1031.5,137 1033,139.9 1035,146.5 1037,152.1 1038.5,152.8 1040.1,153.4 1041.6,155.4 1043.1,154 1044.7,154.1 1046.2,155.8 1047.7,154.7 1049.2,153.5 1050.6,149.3 1052,153.5 1053.5,151.6 1054.9,146.3 1056.3,147.7 1057.7,150.1 1059.2,147.3 1060.6,141.7 1062,141.8 1063.5,144.5 1065,143.7 1066.4,138.6 1067.9,143.2 1069.4,145 1070.9,142.9 1072.4,141.7 1073.8,144.3 1075.3,145.9 1076.8,142.6 1078.3,141.4 1079.7,143.8 1081.2,143.1 1082.6,140.4 1084.1,139.3 1085.6,143.7 1087.1,143.7 1088.6,140.2 1090.1,142.7 1091.6,147 1093.2,146 1094.7,142.3 1096.2,146.3 1097.7,151.8 1099.2,146.5 1100.7,147.1 1102.1,152 1103.5,151.7 1105,149 1106.4,146.3 1107.8,152.4 1109.2,152.3 1110.7,150.5 1112.1,149.8 1113.5,153.3 1114.9,155.9 1116.4,151.1 1117.8,152.8 1119.2,155.1 1120.7,156.5 1122.1,151.1 1123.5,153.8 1125,155.9 1126.4,158.8 1127.9,150.6 1129.5,153.8 1131,155.1 1132.5,150.8 1134.1,148 1135.6,150.1 1137.1,150.5 1138.5,146.6 1140,144.3 1141.5,149.3 1142.9,148.6 1144.4,142.1 1145.9,144.3 1147.4,149.1 1148.8,145.7 1150.3,142.4 1152.2,141 1154,140.3 1155.5,135.4 1156.9,135.5 1158.4,141 1159.9,141 1161.3,136.9 1162.8,137.5 1164.3,141.8 1165.8,139.6 1167.2,134.8 1168.7,139.6 1170.3,143.5 1171.8,139.5 1173.4,137.8 1175,142.2 1176.6,144.2 1178.1,139.8 1179.7,143.3 1181.2,147 1182.7,143.6 1184.2,141 1185.7,145 1187.2,145.2 1188.8,143.6 1190.3,142 1191.8,146.7 1193.3,146.8 1194.8,143.1 1196.3,144.8 1197.9,147 1199.4,143.7 1201,141.7 1202.6,142.8 1204.2,145.8 1205.7,140.3 1207.3,140.4 1208.8,139 1210.4,135 1211.9,126 1213.3,127.5 1214.8,132.2 1216.2,127.2 1217.7,122.1 1219.1,125.7 1220.6,128.4 1222,125.5 1223.4,122.7 1224.9,124.3 1226.3,126.9 1227.7,124.6 1229.2,121.5 1230.6,124.6 1232,126.3 1233.5,123.2 1234.9,124 1236.4,125.4 1237.8,126.8 1239.3,123.3 1240.7,122.2 1242.2,127.7 1243.7,127.6 1245.3,125.9 1246.8,126.2 1248.3,131.4 1249.9,129.4 1251.4,129.6 1252.9,130.9 1254.4,131.3 1255.8,127.6 1257.3,125.9 1258.8,126.1 1260.4,128.6 1261.9,123.5 1263.5,125.7 1265.1,130.5 1266.7,127.6 1268.2,125.8 1269.8,130.4 1271.2,132.7 1272.6,130.5 1274,126 1275.5,129.7 1276.9,131.8 1278.3,127.3 1279.7,128 1281.1,129.1 1282.5,131.2 1284,128.5 1285.4,125.8 1286.8,129.8 1288.2,132.9 1289.6,128.2 1291,128.5 1292.4,131.3 1293.8,132.4 1295.2,129.1 1296.6,127 1298.1,128.7 1299.5,129.9 1300.9,127.6 1302.3,125.3 1303.7,130.3 1305.1,130.7 1306.5,125.2 1307.9,125.8 1309.3,128.1 1310.7,128.7 1312.2,127.5 1313.6,124.8 1315,129.2 1316.4,130 1317.8,126 1319.2,125.6 1320.7,130.8 1322.1,127.6 1323.5,126 1324.9,125.9 1326.3,130.8 1327.7,128.9 1329.1,126.1 1330.6,126.6 1332,129.5 1333.4,128.7 1334.8,125.6 1336.2,126.8 1337.6,129.9 1339.1,129.7 1340.5,126.4 1341.9,127.6 1343.3,130.5 1344.7,128.7 1346.1,124.8 1347.5,126.7 1349,129.4 1350.4,127.1 1351.8,122.7 1353.2,124.2 1354.6,127.5 1356,125.3 1357.5,121.6 1358.9,122.8 1360.3,126.3 1361.7,124.2 1363.2,121.1 1364.8,125.1 1366.3,127.2 1367.8,124.4 1369.3,123.8 1370.9,127.3 1372.4,128.6 1373.9,125 1375.5,125.3 1377,128.2 1378.5,128.9 1380,126 1381.5,126.3 1383,126.9 1384.6,126.1 1386.1,125.5 1387.6,126.2 1389.1,126.2 1390.7,124.4 1392.2,125.1 1393.7,125.6 1395.2,124.4 1396.8,125.1 1398.3,126.4 1399.8,126 1401.3,129.7 1402.9,126.9 1404.4,127.6 1405.9,130.4 1407.4,130.5 1409,129.4 1410.5,132.5 1412,127.6 1413.6,130.1 1415.1,128.8 1416.7,128.5 1418.3,127.6 1419.8,127.5 1421.4,126.8 1422.9,125.6 1424.5,122.9 1427,129.4 1428.7,134.9 1430.4,139.2 1432.1,145 1434,147.5 1435.9,147.9 1437.3,148.9 1438.8,148.2 1440.2,149.1 1441.7,146.1 1443.2,149 1444.6,148.5 1446.1,149.8 1447.5,149.9 1449,147.1 1450.4,148.8 1451.9,148.5 1453.3,147.2 1454.8,148.7 1456.2,149.2 1457.6,147.5 1459,145.5 1460.5,148 1461.9,147.7 1463.3,147.2 1464.7,146.6 1466.1,145.9 1467.5,144.3 1468.9,144.6 1470.4,144.6 1472,145 1473.5,146 1475,144.1 1476.5,145.6 1478.1,147.1 1479.6,145.1 1481.1,145.8 1482.6,143.8 1484.2,145.4 1485.7,147.5 1487.2,152 1488.7,155.1 1490.3,157.4 1491.8,157.7 1493.3,158.6 1494.8,161.5 1496.4,162.3 1497.9,161.5 1499.4,161.5 1501.1,166.9 1502.8,171.1 1504.5,172.8 1506.4,167.1 1508.3,158.3 1509.7,158.7 1511.2,159.3 1512.6,160.6 1514,158.3 1515.4,159.7 1516.9,160.3 1518.3,160.6 1519.7,158.7 1521.1,157.1 1522.6,159.7 1524,158.9 1525.4,156.7 1526.8,154.3 1528.2,156.4 1529.6,154.1 1531,151.7 1532.4,154.7 1533.9,151.3 1535.3,150.3 1536.8,148.8 1538.2,147.5 1539.7,148.9 1541.1,147.5 1542.6,145.1 1544.1,143.2 1545.5,144.3 1547,141.3 1548.4,143.3 1549.9,141.3 1551.3,146.1 1552.8,138.6 1554.2,139 1555.7,141.3 1557.1,143.2 1558.6,139.7 1560,138 1561.5,141 1562.9,142.2 1564.4,137.6 1565.8,140.1 1567.3,143.9 1568.7,142.1 1570.2,140 1571.6,141.7 1573.1,145.2 1574.5,140.8 1576,138.9 1577.4,141.1 1578.9,144.8 1580.3,141.6 1581.8,139.9 1583.3,144.2 1584.7,141.9 1586.1,142.3 1587.5,140.9 1588.9,142.1 1590.3,147.2 1591.7,141.7 1593.1,140.9 1594.5,143.3 1596,148 1597.4,144.2 1598.8,140.8 1600.2,145.2 1601.6,145.3 1603,142.5 1604.4,139.1 1605.8,145.1 1607.2,145.1 1608.7,143.4 1610.1,140.7 1611.5,142.8 1612.9,144.6 1614.3,144.2 1615.7,140.6 1617.1,144.7 1618.5,146.4 1620,142.8 1621.4,141.1 1622.8,145.3 1624.2,148.8 1625.6,143.8 1627,143.5 1628.4,144.7 1629.8,148.3 1631.2,142.5 1632.7,142.3 1634.1,145.3 1635.8,149.4 1637.5,146.8 1639.1,150.2 1640.7,151.8 1642.2,149.3 1643.7,143.3 1645.2,146.4 1646.8,145.9 1648.2,144.8 1649.6,143.7 1651,145.3 1652.4,145.7 1653.8,143.7 1655.2,145.1 1656.6,144 1658.1,145.2 1659.5,142.4 1660.9,142.9 1662.3,144.4 1663.7,142.5 1665.1,141.7 1666.5,142.6 1667.9,143.9 1669.4,143.7 1670.8,142.6 1672.2,141.6 1673.6,143.9 1675,142.3 1676.4,141.8 1677.8,141.9 1679.2,139.7 1680.6,142.3 1682.1,141.3 1683.5,140.5 1684.9,140 1686.3,140.8 1687.7,139.6 1689.1,141.5 1690.5,139 1691.9,139.4 1693.3,139.5 1694.8,139.1 1696.2,140.6 1697.6,138.9 1699,140.3 1700.4,140 1701.8,139.5 1703.2,139.7 1704.6,142.2 1706.1,139 1707.5,140.6 1708.9,138.9 1710.3,139.4 1711.7,137.8 1713.1,138 1714.5,140.8 1715.9,138.3 1717.3,138.7 1718.8,139.4 1720.2,138.3 1721.6,138.3 1723,137.4 1724.4,138.2 1725.8,139.4 1727.2,136 1728.6,138.3 1730,140.6 1731.5,138 1732.9,138.1 1734.3,136.3 1735.7,138.5 1737.2,136.9 1738.7,136.2 1740.3,138.5 1741.8,139.1 1743.3,139.3 1744.8,138.6 1746.4,138 1747.9,137.9 1749.4,135.7 1750.9,136.7 1752.4,139.1 1753.8,139.6 1755.3,138.8 1756.7,140.1 1758.2,142 1759.6,141.1 1761.1,140.8 1762.5,142.4 1764,142.1 1765.5,143.6 1766.9,143.2 1768.4,142.7 1769.8,142 1771.3,141.5 1772.7,144.2 1774.2,145.5 1775.6,144.6 1777.1,143.4 1778.5,144.3 1780,145.5 1781.4,145.4 1782.9,145 1784.5,147.6 1786,150.2 1787.5,148.6 1789,149.2 1790.6,150 1792.1,152.5 1793.6,152.9 1795.1,153.4 1796.7,156.8 1798.2,155.2 1799.7,154.9 1801.2,154.4 1802.8,154.7 1804.3,156.6 1805.8,156.8 1807.3,158.3 1808.9,158.8 1810.4,156.8 1811.9,158.3 1813.3,158.9 1814.7,159.2 1816.1,157.7 1817.6,158.5 1819,160.1 1820.4,161.5 1821.8,160.3 1823.2,162 1824.6,161.9 1826,162 1827.4,159.3 1828.8,159.7 1830.3,160.6 1831.7,161.8 1833.1,161.5 1834.5,162.2 1835.9,163.5 1837.3,163.8" fill="none" stroke="#000" stroke-width="3.6" stroke-linejoin="round" stroke-linecap="butt" />
<text x="1659.5" y="120.7" font-size="27" text-anchor="start" fill="#b020b0" ><tspan>n</tspan><tspan font-size="18" dy="7">e0</tspan><tspan dy="-7" font-weight="normal" dx="1"> (</tspan><tspan>10</tspan><tspan font-size="18" dy="-10" dx="2.5">19</tspan><tspan dy="10" dx="1">m</tspan><tspan font-size="18" dy="-10" dx="1.5">-3</tspan><tspan dy="10" dx="1.5" font-weight="normal">)</tspan></text>
<line x1="1660" y1="98" x2="1675" y2="98" stroke="#b020b0" stroke-width="2"/>
<text x="1364" y="178.1" font-size="27.5" text-anchor="start" fill="#000" >T<tspan font-size="19" dy="7">e0</tspan><tspan dy="-7">(keV)</tspan></text>
<polyline points="1092.1,336.1 1102.7,326.9 1111.4,324.4 1120.9,326.4 1130.1,297 1140,298.3 1148.7,277.6 1158.7,282.6 1168.1,303.2 1176.6,280.9 1186.5,285.8 1196,282.1 1205.4,262.7 1214.6,256.7 1224.6,237.3 1233.3,241.1 1243.2,253.5 1252.7,262.7 1261.9,259.7 1270.6,262.7 1280.5,254.3 1290,256.5 1299.2,259.2 1308.4,246.5 1317.8,246.8 1327.3,245.3 1336.5,262.2 1345.7,256 1355.1,249.3 1365.1,256.7 1373.8,248.5 1380,257 1383.8,263.4 1392.7,240 1402.4,257.8 1411.8,232.9 1420.7,269.7 1430.8,265.4 1439.7,263.9 1448.6,278.1 1457.5,267.9 1467.7,272.2 1476.5,264.6 1486.7,264.6 1495.6,293.3 1504.5,267.2 1513.4,267.9 1523.5,254.5 1532.4,255.2 1542.6,263.9 1552.3,268.9 1560.9,241.8 1570.5,267.9 1580.7,246.1 1588.8,280.6 1598.5,286.2 1608.2,277.3 1617.6,245.6 1627,269.7 1636.6,276.1 1645.5,286.2 1654.4,250.1 1664.6,273 1673.4,293.8 1682.8,306 1692.5,290.8 1702.2,267.2 1711.6,285.7 1720.4,297.7 1730.1,264.6 1738.7,298.4 1748.4,290 1758,282.4 1767.4,305.3 1776.8,300.2 1786,321.8 1795.4,334 1804.8,320.5 1814.5,329.9 1824.1,318.7 1832.7,333.2 1837.3,335.8" fill="none" stroke="#000" stroke-width="3.2" stroke-linejoin="round" stroke-linecap="butt" />
<text x="1361.8" y="338.3" font-size="27.5" text-anchor="start" fill="#000" >T<tspan font-size="19" dy="7">i0</tspan><tspan dy="-7">(keV)</tspan></text>
<polyline points="1028.7,553.3 1030.6,537 1033.9,530.3 1036,529.6 1038.1,527.3 1040.2,523 1042.2,519.6 1044.3,517.1 1046.8,515.8 1049.3,513.2 1051.8,508.9 1054.3,508 1056.7,501.8 1059.2,499 1061.7,497.5 1064.2,496.6 1066.7,495.4 1069.2,491.4 1071.7,490.4 1075.4,492.2 1079.1,493.5 1081.6,493.1 1083.8,498.3 1086.1,502.1 1088.8,498.4 1091.6,495.6 1095.3,496.7 1099,500.8 1101.5,501.2 1104,498.9 1106.5,502.2 1109,505 1111.4,507.6 1113.9,507.5 1116.4,506.9 1118.9,504.1 1121.4,505.3 1123.6,507.8 1125.9,510.4 1128,501.9 1130.1,492.9 1132.6,492.6 1135.1,493.8 1138.8,486.5 1141.3,487.6 1143.8,490.5 1147.5,480.3 1149.6,479.2 1151.6,476.2 1153.7,474.3 1156.2,468.4 1158.7,473.6 1160.8,471.7 1162.8,469.6 1164.9,466.8 1167,466.7 1169,468.7 1171.1,469.7 1173.6,470.3 1176.1,468.8 1178.6,468 1181.1,465.1 1183.6,463.7 1186,465.9 1188.5,469.9 1191,465.4 1193.5,461.9 1196,466.1 1198.5,470.9 1201,466.7 1203.4,461.6 1205.9,454.8 1209.7,450.7 1213.4,429.9 1215.9,429 1218.4,427.3 1222.1,420.2 1224.2,420.2 1226.2,420.4 1228.3,418.7 1230.8,424.3 1233.3,423.9 1235.8,420.7 1238.2,418.9 1240.7,418.2 1243.2,422.3 1245.7,421.1 1248.2,419.4 1250.7,420.6 1253.2,418.7 1255.7,418.4 1258.1,417.4 1260.6,417.4 1263.1,417.9 1265.6,418 1268.1,422.5 1270.6,420.4 1273.1,419.9 1275.5,417.8 1278,419.2 1280.5,420.5 1283,422.2 1285.5,422.5 1288,420.7 1290.5,418.8 1292.9,415 1295.4,418.7 1297.9,418.7 1300.4,420.9 1302.9,420.4 1305.4,421 1307.9,421.6 1310.4,418 1312.8,420.2 1315.3,417.5 1317.8,417 1320.3,415.9 1322.8,415.4 1325.3,416.2 1327.8,418.9 1330.2,419.3 1332.3,420.3 1334.4,421.1 1336.5,417.7 1338.5,418 1340.6,417.7 1342.7,418.3 1344.7,419 1346.8,418.6 1348.9,419.3 1351,419.7 1353,420.1 1355.1,420.7 1357.6,418.5 1360.1,416.5 1362.6,414.4 1365.1,416 1367.5,419.1 1370,418.1 1372.5,418.2 1375,416.3 1377.5,417.7 1380,419.3 1382.1,420.5 1384.2,421.3 1386.4,423.8 1390.2,415.2 1394,420.4 1397.3,414.5 1399.4,418.5 1401.6,422.9 1405.4,417.9 1407.9,417.8 1410.5,417.6 1414.3,415 1416.8,422.5 1419.4,415.1 1421.5,415.2 1423.6,415.4 1425.7,416.8 1428.3,436.9 1432.1,463 1435.9,466 1438.4,469.2 1441,470.8 1443.5,467.2 1446.1,463.1 1449.9,469.9 1452.4,469.6 1454.9,470.1 1457.5,471.4 1460,475.2 1462.6,470.9 1465.1,465.6 1468.9,466.2 1471.5,462.2 1474,456.8 1477.8,464.1 1481.6,469.2 1484.2,462.8 1486.7,467.3 1489.2,486.4 1491.8,497.9 1494.3,497 1496.9,497.9 1500.7,512.9 1504.5,536.7 1507,514.7 1510.1,493.7 1513.4,484.7 1517.2,477.6 1519.7,479.4 1522.3,478.8 1524.8,477.4 1527.4,476.7 1529.9,476.5 1532.4,473.1 1536.2,470.5 1538.8,466.3 1541.3,463.7 1545.1,463.8 1547.7,469.6 1550.2,456.8 1552.8,460.4 1555.3,458.7 1557.8,462.8 1560.4,464.7 1562.9,459.2 1565.5,454.2 1568,458.4 1570.5,460.4 1573.1,463.1 1576.9,454.8 1579.4,461.3 1582,464.1 1584.5,470.1 1588.3,457.8 1590.9,464 1593.4,469.5 1596,466.6 1598.5,462.2 1601,457.9 1604.8,473.7 1607.4,463.5 1609.9,456.1 1612.5,461.9 1615,467.6 1617.6,472 1621.4,458.6 1623.9,462.4 1626.4,468.2 1628.6,464.5 1630.7,458.9 1632.8,456 1635.3,462.3 1637.9,471.1 1640,466 1642.1,463.7 1644.2,460.8 1646.8,464.4 1649.3,466 1651.3,465.6 1653.4,463.1 1655.4,462.5 1657.4,459.7 1659.5,458.5 1661.6,462 1663.7,466.6 1665.8,470.6 1668.4,469 1670.9,464.7 1673.4,467.3 1676,469.1 1678.5,471.5 1682.3,464.9 1684.4,463.7 1686.4,466.2 1688.4,467.8 1690.5,468.2 1692.5,470.3 1694.7,466.1 1696.9,464.1 1699.2,461.3 1701.4,458.9 1703.9,466.9 1706.5,470.7 1708.6,466.3 1710.7,461.3 1712.8,456.6 1715.4,462.7 1717.9,469.8 1720.4,463.7 1723,458.8 1725.5,459.3 1728.1,459.2 1730.6,459.9 1733.2,458.5 1735.7,456.1 1738.2,459.6 1740.8,464.1 1743.3,466.5 1745.9,459.6 1748.4,454.6 1750.9,451 1754.7,462.7 1756.9,463.4 1759,462.7 1761.1,460.2 1763.2,466 1765.3,473.3 1767.4,479.2 1771.3,473.4 1773.3,473.8 1775.3,473.3 1777.4,476.3 1779.4,475.8 1781.4,476.5 1785.2,494.3 1787.8,495.1 1790.3,497.8 1792.9,501.2 1795.1,501.8 1797.4,501.6 1799.7,502.9 1802,503.1 1804.3,503.9 1806.4,504.4 1808.5,504.3 1810.6,505 1812.8,505.9 1814.9,506.5 1817,506.8 1819,507.2 1821.1,508.2 1823.1,508.5 1825.1,509 1827.2,509.1 1829.2,510.2 1831.2,511.8 1833.3,512.6 1835.3,512.6 1837.3,513.2" fill="none" stroke="#000" stroke-width="3.0" stroke-linejoin="round" stroke-linecap="butt" />
<text x="1266.8" y="483.2" font-size="27.5" text-anchor="start" fill="#000" >W<tspan font-size="19" dy="7">MHD</tspan><tspan dy="-7">(kJ)</tspan></text>
<polyline points="995,730.4 1126.4,730.4" fill="none" stroke="#000" stroke-width="2.6" stroke-linejoin="round" stroke-linecap="butt" />
<polyline points="1126.4,729.7 1127.6,709.7 1128.9,703.9 1130.1,697.6 1131.3,697.1 1132.6,696.3 1133.8,695.3 1135.1,694.3 1136.1,694.4 1137.1,694.2 1138.2,694.2 1139.2,692.5 1140.2,691.6 1141.3,692.3 1142.5,691.5 1143.8,691.1 1145,693.1 1146.3,692.5 1148.2,659.2 1149.7,656.7 1151.2,654.8 1152.5,653.9 1153.7,653.4 1155,652.1 1156.2,650 1157.3,649.4 1158.3,651 1159.4,649.8 1160.5,647.2 1161.5,648.6 1162.6,647.9 1163.7,647.6 1164.7,647 1165.8,647.1 1166.9,646.1 1167.9,645.4 1169,646.5 1170.1,646.7 1171.1,646.2 1172.2,645.5 1173.2,646.6 1174.3,646.7 1175.4,648.1 1176.4,646.8 1177.5,647.2 1178.6,647.7 1179.6,647.6 1180.7,647.7 1181.8,646.5 1182.8,644.3 1183.9,643.9 1185,645.2 1186,643.4 1187.3,645.6 1188.5,648.6 1189.8,647.8 1191,647.7 1192.3,645.6 1193.5,643.9 1194.6,643.9 1195.6,645.6 1196.7,645 1197.8,645.4 1198.8,645.8 1199.9,644.8 1201,647.1 1202.2,642.5 1203.4,639.4 1204.7,637.5 1205.9,635.9 1207.2,633.7 1208.4,631.8 1209.7,630.1 1210.9,628.2 1212.1,625.2 1213.4,621.2 1214.6,617.3 1215.9,614.2 1217.1,608.5 1218.4,607.3 1219.6,605.8 1220.8,606 1221.9,603.9 1223,603.3 1224,604 1225.1,601.4 1226.2,601.7 1227.2,603.6 1228.3,601 1229.5,601.9 1230.8,600.7 1232,602.8 1233.3,602.7 1234.5,602 1235.8,601 1237,600.8 1238.2,599.5 1239.5,601.7 1240.7,600.2 1242,602.6 1243.2,604.8 1244.3,604.2 1245.3,604.7 1246.3,602.9 1247.4,603.7 1248.4,603 1249.4,601.2 1250.5,600.5 1251.5,603.1 1252.5,602.1 1253.6,601 1254.6,600 1255.7,598.8 1256.7,599.9 1257.7,600.2 1258.8,601.4 1259.8,599.8 1260.8,600 1261.9,599.9 1262.9,600.8 1263.9,601.2 1265,601.4 1266,599.9 1267,600.4 1268.1,599 1269.1,599.6 1270.2,600.2 1271.2,601.5 1272.2,599.5 1273.3,601.7 1274.3,603.6 1275.3,603.2 1276.4,603.9 1277.4,602.7 1278.4,603.8 1279.5,603.1 1280.5,605.5 1281.6,603.7 1282.6,603.5 1283.6,602.8 1284.7,603.7 1285.7,604.4 1286.7,603 1287.8,602.7 1288.8,602.2 1289.8,603.3 1290.9,602.3 1291.9,602.4 1292.9,601.8 1294,602 1295,602.5 1296.1,602.6 1297.1,601 1298.1,602.2 1299.2,602.1 1300.2,602.7 1301.2,603.4 1302.3,602 1303.3,602.1 1304.3,601.6 1305.4,602.3 1306.4,603.8 1307.5,602.4 1308.5,604 1309.5,603.1 1310.6,602.9 1311.6,603.3 1312.6,602.8 1313.7,603.6 1314.7,603.4 1315.7,601.9 1316.8,602.8 1317.8,603.9 1318.9,602.7 1320,600.7 1321.1,602.7 1322.2,602.4 1323.3,599.8 1324.4,600.2 1325.5,600.3 1326.7,599.5 1327.8,599 1328.9,597.6 1330,599.9 1331.1,599.1 1332.2,599.2 1333.3,600.3 1334.4,601 1335.5,601.2 1336.6,600.2 1337.7,601.3 1338.9,599.4 1340.2,600.8 1341.4,599.1 1342.7,598.6 1343.7,600 1344.7,599.8 1345.8,599.1 1346.8,600.4 1347.9,601.4 1348.9,599 1349.9,600.4 1351,600.6 1352,600.8 1353,600.9 1354.1,601.7 1355.1,601.6 1356.1,601.1 1357.2,601.7 1358.2,600.5 1359.3,602.2 1360.3,600.8 1361.3,600.5 1362.4,601.1 1363.4,599.8 1364.4,599.6 1365.5,599.8 1366.5,601.5 1367.5,600.8 1368.6,599.9 1369.7,600.5 1370.9,600.8 1372,600.4 1373.1,600.7 1374.2,600.5 1375.3,600.3 1376.4,601 1377.5,602.8 1378.7,602.3 1380,601.7 1381.1,602.4 1382.1,601.5 1383.2,602.8 1384.2,602.7 1385.3,602.6 1386.4,603.5 1387.4,603.3 1388.5,605.3 1389.5,603.1 1390.6,603.9 1391.6,604.5 1392.7,604.4 1393.8,605.7 1394.8,604.3 1395.9,602.6 1396.9,603.3 1398,601.8 1399.1,603.6 1400.1,603.1 1401.2,603.8 1402.2,603.9 1403.3,602.3 1404.3,602.9 1405.4,602.7 1406.4,603.8 1407.4,602.4 1408.5,601.8 1409.5,601.6 1410.5,602.1 1411.5,600.1 1412.5,600.5 1413.5,600.3 1414.6,599.7 1415.6,601.1 1416.6,599.8 1417.7,602.8 1418.7,601.2 1419.8,602 1420.9,605.2 1421.9,602.7 1422.9,603 1424,602.9 1425,600.9 1426,602 1427,602.1 1428.3,609.5 1429.5,615.8 1430.8,623.2 1432.1,629.8 1433.4,635.3 1434.6,639.6 1435.9,641.8 1437.2,643.8 1438.3,643.3 1439.4,643.3 1440.5,643 1441.6,642.3 1442.7,641.5 1443.8,642.5 1444.9,641.7 1446.1,641.7 1447.1,642.8 1448.2,641.6 1449.3,643.3 1450.4,643.4 1451.5,644.2 1452.6,644 1453.7,646.1 1454.7,643.3 1455.7,643.3 1456.7,643 1457.7,642.3 1458.8,641.4 1459.8,641.1 1460.8,642.2 1461.8,642.6 1462.8,644.9 1463.8,647.6 1464.9,645 1465.9,645.2 1466.9,643.8 1467.9,641.4 1468.9,639 1470,638.9 1471.1,639.5 1472.2,639.7 1473.3,640.5 1474.4,638.6 1475.5,638.3 1476.5,638.8 1477.6,639.2 1478.7,639.5 1479.8,641.1 1480.9,640.6 1482,641.4 1483.1,641.4 1484.2,643.2 1485.2,641 1486.2,642.2 1487.2,640.4 1488.2,641.4 1489.2,639.5 1490.5,646.8 1491.8,652.8 1493.1,658.5 1494.3,668.4 1495.3,666.4 1496.4,667.5 1497.4,667.5 1498.4,668.6 1499.4,669.5 1500.7,672.8 1502,677.5 1503.2,680.3 1504.5,681.9 1505.8,684.6 1507,677.2 1508.3,672.5 1509.4,669.1 1510.4,667.5 1511.5,666.2 1512.5,667.5 1513.6,664.8 1514.7,662.9 1515.7,661.1 1516.7,661.7 1517.7,659.8 1518.7,661 1519.7,659.7 1520.8,659.1 1521.8,657.6 1522.8,658.5 1523.8,657.2 1524.8,657.1 1525.9,655.4 1527,654.8 1528.1,656.9 1529.2,654.2 1530.3,653.7 1531.4,653.5 1532.4,653.1 1533.5,652 1534.5,648.9 1535.5,648.6 1536.5,647.2 1537.5,645.5 1538.6,643.1 1539.7,644 1540.8,643.2 1541.9,642.2 1543,639.6 1544.1,640.6 1545.1,638.5 1546.2,637.8 1547.2,637.5 1548.2,636.5 1549.2,636.8 1550.2,636.1 1551.5,632.7 1552.8,630.8 1553.8,629.9 1554.8,631.1 1555.8,630.1 1556.8,630.6 1557.8,631.6 1558.9,630.9 1559.9,630.9 1560.9,630 1561.9,633.5 1562.9,633.4 1564,632.7 1565.1,633 1566.2,633.4 1567.3,633.2 1568.4,631.5 1569.5,632.6 1570.5,632.1 1571.6,632.5 1572.6,634.6 1573.6,635 1574.6,635.7 1575.6,636.3 1576.6,634.7 1577.7,633.3 1578.7,631.5 1579.7,630.3 1580.7,629.5 1581.7,630.2 1582.7,634 1583.8,635 1584.8,636.9 1585.8,640.4 1586.9,638.6 1588,637.8 1589.1,636.1 1590.1,637.7 1591.2,637.9 1592.3,634.6 1593.4,635.2 1594.5,636.2 1595.6,636.9 1596.7,635.4 1597.8,637.4 1598.9,637.6 1599.9,639 1601,639 1602.1,638.9 1603.2,636.7 1604.3,636.1 1605.4,637.2 1606.5,634.6 1607.6,636 1608.7,634.6 1609.7,636.6 1610.7,636.3 1611.7,637 1612.7,636.2 1613.7,637.5 1614.8,637.2 1615.8,637.8 1616.8,639 1617.8,639 1618.8,638.2 1619.9,637.4 1621,637.1 1622.1,638.1 1623.2,637.9 1624.3,634.7 1625.4,635.6 1626.4,637.1 1627.5,636.7 1628.5,634.5 1629.5,635.6 1630.5,635.2 1631.5,636 1632.5,634.5 1633.6,635.3 1634.6,633.9 1635.6,635.2 1636.6,635.2 1637.7,635.7 1638.8,634.9 1639.9,636.8 1641,637.2 1642,636.6 1643.1,638.8 1644.2,639.6 1645.2,639.2 1646.3,637.2 1647.3,638.3 1648.3,636.8 1649.3,637.1 1650.3,636.7 1651.3,636.5 1652.4,634.9 1653.4,634.4 1654.4,635.3 1655.5,634.9 1656.6,633.6 1657.7,635.3 1658.7,634.6 1659.8,632.7 1660.9,632.9 1662,632.7 1663.3,634.1 1664.6,634.2 1665.8,636.6 1667.1,639.7 1668.4,642.9 1669.6,647 1670.7,647.2 1671.7,645.9 1672.7,645.9 1673.7,645.1 1674.7,644.1 1675.7,642.8 1676.7,643.9 1677.8,642.8 1678.8,643.5 1679.8,643.5 1680.8,643.1 1681.8,641.5 1682.8,642.8 1683.9,642 1684.9,642.6 1685.9,641.3 1686.9,642.8 1687.9,642.9 1688.9,643.4 1690,643.1 1691,643.7 1692.1,642.7 1693.1,640.8 1694.2,643.5 1695.3,641.6 1696.3,640.4 1697.4,640.2 1698.4,640.3 1699.5,641.2 1700.5,639.3 1701.6,638.4 1702.7,640.7 1703.8,640.3 1704.8,639.8 1705.9,641.5 1707,641.8 1708.1,643.2 1709.2,642.6 1710.3,642.2 1711.4,643.1 1712.5,641.3 1713.6,641.5 1714.6,640.3 1715.7,640.5 1716.8,638.2 1717.9,636.3 1719,638.9 1720.1,639.9 1721.2,638.7 1722.3,639.7 1723.4,640.3 1724.4,641.2 1725.5,641.9 1726.5,641.8 1727.6,640.8 1728.6,639.3 1729.6,642.6 1730.6,639.6 1731.6,638.6 1732.6,638.4 1733.7,640.1 1734.7,638.5 1735.7,639.3 1736.7,638.1 1737.8,639.2 1738.9,637.9 1739.9,640.4 1741,639.3 1742,640.3 1743.1,640.4 1744.2,640.2 1745.2,639.6 1746.3,641.2 1747.3,640.7 1748.4,642.3 1749.5,638.4 1750.5,639.7 1751.6,639.4 1752.6,638.6 1753.7,637.8 1754.7,637.9 1755.8,637.4 1756.9,638.8 1757.9,642.5 1759,641.5 1760,644.9 1761.1,644.8 1762.4,645.5 1763.6,644 1764.9,643 1766.2,657.1 1767.4,675.3 1768.7,685.9 1769.8,685.4 1770.9,684.3 1771.9,686.1 1773,686.6 1774.1,685.7 1775.2,686.5 1776.2,687 1777.3,686.1 1778.4,686.8 1779.5,685.6 1780.5,686 1781.6,686.6 1782.7,685.9" fill="none" stroke="#000" stroke-width="3.0" stroke-linejoin="round" stroke-linecap="butt" />
<polyline points="1782.7,685.8 1785.2,729 1837.3,729.7" fill="none" stroke="#000" stroke-width="3.0" stroke-linejoin="round" stroke-linecap="butt" />
<text x="1178.6" y="698" font-size="27.5" text-anchor="start" fill="#000" letter-spacing="0.15">Neutron rate(10<tspan font-size="17" dy="-11">13</tspan><tspan dy="11">n/sec)</tspan></text>
<polyline points="994.9,906 996.5,887.8 1000.9,844.3 1003.6,811.7 1004.7,801.5 1005.8,807.1 1009.5,808.4 1069.2,808.4 1079.1,806.6 1094,807.1 1097.8,812.1 1099,815.8 1109,813.3 1116.4,814.6 1120.1,805.9 1123.9,810.9 1126.4,819.1 1133.8,820.8 1143.8,819.6 1148.7,819.1 1152.5,806.6 1168.6,808.4 1218.4,807.6 1268.1,807.6 1317.8,807.1 1377.5,807.1 1380,807.3 1405.4,806.6 1427,806.6 1429.5,802.2 1432.1,816.2 1435.9,836.5 1446.1,837.1 1456.2,836 1461.3,831 1465.1,821.3 1468.9,826.4 1481.6,823.8 1486.7,828.9 1489.2,835.3 1491.8,828.9 1507,830.2 1510.8,831.5 1513.4,826.4 1515.9,799.7 1518.5,811.1 1521,817.5 1532.4,816.2 1545.1,817.5 1547.7,807.3 1552.8,804.8 1555.3,808.6 1557.8,811.1 1562.9,818.8 1570.5,821.3 1573.1,826.4 1575.6,812.4 1579.4,808.6 1582,828.9 1583.3,832.7 1588.3,825.1 1592.1,818.8 1596,823.8 1601,827.7 1606.1,826.4 1609.9,817.5 1612.5,816.2 1615,828.9 1620.1,831.5 1623.9,825.1 1626.4,813.7 1630.3,816.2 1634.1,816.2 1637.9,808.6 1640.4,821.3 1644.2,818.8 1649.3,827.7 1654.4,821.3 1659.5,822.6 1664.6,823.8 1667.1,814.9 1670.9,807.3 1684.9,808.1 1695,804.8 1710.3,805.5 1735.7,803.5 1761.1,804.8 1786.5,806.6 1811.9,805.5 1834.8,804.8" fill="none" stroke="#b020b0" stroke-width="3.0" stroke-linejoin="round" stroke-linecap="butt" />
<polyline points="994.9,905.8 995.3,903 995.7,898 996.1,893 996.5,888 996.9,884.3 997.2,880.4 997.6,877.6 998,872.5 998.3,871.7 998.7,867.9 999.1,862.8 999.4,860.4 999.8,857 1000.2,851.5 1000.5,847 1000.9,845.5 1001.3,837.9 1001.7,836.2 1002.1,831 1002.4,824.7 1002.8,818.1 1003.2,816.8 1003.6,812.6 1004,808.8 1004.3,801.5 1004.7,802 1005.1,803.7 1005.4,805.3 1005.8,806 1006.2,805.2 1006.5,809.2 1006.9,807.5 1007.3,805.6 1007.6,809.2 1008,806.3 1008.4,808.7 1008.8,806.3 1009.1,807.9 1009.5,808.1 1009.9,810.9 1010.2,806.8 1010.6,807.2 1010.9,809.9 1011.3,810 1011.6,808.5 1012,807.6 1012.3,807.6 1012.7,806.2 1013,809.7 1013.4,809.3 1013.7,809.5 1014.1,809.5 1014.4,809.1 1014.8,809.7 1015.1,807.1 1015.5,811 1015.8,808.9 1016.2,807.5 1016.5,807 1016.9,808.1 1017.2,809.5 1017.6,809.1 1017.9,810.1 1018.3,811.5 1018.6,809.4 1019,809.9 1019.3,809.5 1019.7,807.2 1020,807.8 1020.4,808.1 1020.7,809.8 1021.1,806.7 1021.4,811.5 1021.8,807.4 1022.1,807.1 1022.5,807.6 1022.8,807 1023.2,808.5 1023.5,808.6 1023.9,810.9 1024.3,807.9 1024.6,809.9 1025,809.4 1025.3,809 1025.7,805.6 1026,809 1026.4,808.7 1026.7,806.9 1027.1,809.5 1027.4,810.2 1027.8,809.4 1028.1,808.4 1028.5,806.9 1028.8,809.2 1029.2,807.3 1029.5,809 1029.9,807.2 1030.2,807.3 1030.6,809.1 1030.9,807.7 1031.3,805.7 1031.6,810 1032,809.2 1032.3,809.4 1032.7,806.6 1033,808.5 1033.4,809.7 1033.7,809.1 1034.1,807.8 1034.4,809.7 1034.8,808 1035.1,806.3 1035.5,808.1 1035.8,807.6 1036.2,806.7 1036.5,809.7 1036.9,806.9 1037.2,810.1 1037.6,807.4 1037.9,808 1038.3,808.1 1038.6,809.2 1039,807.8 1039.3,808.4 1039.7,808.8 1040,807.4 1040.4,807.5 1040.7,807 1041.1,806.3 1041.4,810.6 1041.8,807.5 1042.2,809.1 1042.5,807.3 1042.9,810.6 1043.2,809.1 1043.6,809.9 1043.9,808.3 1044.3,809.8 1044.6,807.3 1045,806.5 1045.3,810.1 1045.7,809.6 1046,808.9 1046.4,808.2 1046.7,807.8 1047.1,807.1 1047.4,807.9 1047.8,808.6 1048.1,809.7 1048.5,808.3 1048.8,806.4 1049.2,806.4 1049.5,807.1 1049.9,806.9 1050.2,809.3 1050.6,810 1050.9,809.5 1051.3,807.4 1051.6,806.7 1052,809.5 1052.3,804.6 1052.7,807.8 1053,804.8 1053.4,807.8 1053.7,807.5 1054.1,809.7 1054.4,806.9 1054.8,807.8 1055.1,807.8 1055.5,807.2 1055.8,807.9 1056.2,805.7 1056.5,807 1056.9,808.2 1057.2,808.6 1057.6,809.6 1057.9,809.5 1058.3,808.6 1058.6,808 1059,807.3 1059.4,809 1059.7,806.6 1060.1,809.1 1060.4,807.3 1060.8,808.4 1061.1,810.1 1061.5,806.6 1061.8,808.9 1062.2,808 1062.5,807.4 1062.9,808.2 1063.2,810.9 1063.6,810.1 1063.9,807.6 1064.3,807.1 1064.6,808.6 1065,805.8 1065.3,807.7 1065.7,808.5 1066,809.7 1066.4,807.4 1066.7,807.6 1067.1,808.8 1067.4,805.7 1067.8,808 1068.1,809.1 1068.5,808.1 1068.8,811.4 1069.2,811.2 1069.5,806.4 1069.9,808 1070.2,807.7 1070.6,806.8 1071,805.9 1071.3,809.7 1071.7,807.7 1072,807.7 1072.4,810.3 1072.7,808.4 1073.1,805.8 1073.4,806.4 1073.8,805.4 1074.2,807.5 1074.5,806.7 1074.9,808.4 1075.2,806.7 1075.6,808.2 1075.9,809.8 1076.3,806.3 1076.6,806.7 1077,806.9 1077.3,809.1 1077.7,805.8 1078.1,804.6 1078.4,804.1 1078.8,806.8 1079.1,804.8 1079.5,805.7 1079.8,808.3 1080.2,805.9 1080.5,807.1 1080.9,807 1081.3,807.3 1081.6,806.2 1082,805.5 1082.3,809.7 1082.7,806.5 1083,806.6 1083.4,807.4 1083.7,808.1 1084.1,804.5 1084.5,805.3 1084.8,808.5 1085.2,808.2 1085.5,806.3 1085.9,805.1 1086.2,807.5 1086.6,808.1 1086.9,805.2 1087.3,807.7 1087.6,806.9 1088,807.5 1088.4,807.3 1088.7,808 1089.1,806.5 1089.4,807.7 1089.8,807.3 1090.1,808.6 1090.5,807.2 1090.8,806.3 1091.2,806.2 1091.6,807.4 1091.9,807.1 1092.3,807 1092.6,807 1093,807.2 1093.3,808.6 1093.7,804.5 1094,808.8 1094.4,809.1 1094.8,807.5 1095.2,807.7 1095.5,808.3 1095.9,809.3 1096.3,809.8 1096.7,811.6 1097,813.4 1097.4,810.1 1097.8,812.5 1098.2,814.3 1098.6,812.9 1099,816.6 1099.4,817.1 1099.7,816.4 1100.1,814.6 1100.4,816.3 1100.8,815.1 1101.1,814.6 1101.5,815.7 1101.9,814.9 1102.2,816 1102.6,813.7 1102.9,813 1103.3,815.3 1103.6,814.2 1104,816.6 1104.3,814.4 1104.7,814.2 1105.1,816.3 1105.4,813.3 1105.8,813.3 1106.1,814 1106.5,814.5 1106.8,814.4 1107.2,816.4 1107.5,812.3 1107.9,815 1108.3,812.6 1108.6,813.8 1109,812.5 1109.3,813.8 1109.7,812.7 1110,813.9 1110.4,815.2 1110.7,815.4 1111.1,812.9 1111.4,815.7 1111.8,816.5 1112.2,812.5 1112.5,814.7 1112.9,812.6 1113.2,813.8 1113.6,814.1 1113.9,813.5 1114.3,812.8 1114.6,812.9 1115,816.6 1115.4,814.4 1115.7,812.1 1116.1,813.7 1116.4,815.9 1116.8,814.2 1117.2,809.9 1117.5,809.8 1117.9,811.3 1118.3,809.3 1118.7,809 1119,809.7 1119.4,806.4 1119.8,807.6 1120.1,807.5 1120.5,806.9 1120.9,806.3 1121.3,808.4 1121.6,809.5 1122,809.9 1122.4,810.6 1122.8,808.2 1123.1,808.9 1123.5,806.9 1123.9,811.9 1124.2,811.5 1124.6,814.9 1124.9,811.3 1125.3,817 1125.7,816.6 1126,818 1126.4,817.5 1126.7,819.7 1127.1,819.2 1127.4,817.4 1127.8,820.2 1128.1,818.8 1128.5,817.8 1128.9,817.7 1129.2,821.6 1129.6,818.2 1129.9,819.1 1130.3,818.8 1130.6,822 1131,819.1 1131.3,817.3 1131.7,821.6 1132,823 1132.4,818.1 1132.8,823.7 1133.1,819.6 1133.5,819.5 1133.8,821.5 1134.2,821.1 1134.5,820.7 1134.9,823.1 1135.2,819.8 1135.6,821.3 1136,822.3 1136.3,818.9 1136.7,822 1137,822.4 1137.4,819.2 1137.7,820.9 1138.1,819.3 1138.4,818.7 1138.8,820.2 1139.2,821 1139.5,819.7 1139.9,819.7 1140.2,818 1140.6,818.1 1140.9,822.5 1141.3,820.7 1141.6,819.2 1142,818.9 1142.3,821.5 1142.7,820.4 1143.1,820.5 1143.4,821.2 1143.8,821 1144.1,818.9 1144.5,819.5 1144.8,820.3 1145.2,818 1145.5,818.8 1145.9,818.5 1146.3,818.8 1146.6,818.2 1147,819.7 1147.3,819.1 1147.7,820.5 1148,819.5 1148.4,819.6 1148.7,819.6 1149.1,817.9 1149.5,814.9 1149.9,815.1 1150.2,813.3 1150.6,811.4 1151,809.8 1151.4,811.1 1151.7,809.5 1152.1,806.7 1152.5,806.9 1152.8,807.7 1153.2,805.3 1153.5,805.4 1153.9,807 1154.2,807.3 1154.6,807.6 1154.9,806.9 1155.3,807.1 1155.6,807.9 1156,808.6 1156.3,805.5 1156.7,807 1157,805.4 1157.4,806.7 1157.7,808.8 1158.1,807.2 1158.4,807.4 1158.8,806.2 1159.1,807.9 1159.5,805.8 1159.8,809.6 1160.2,804.8 1160.6,808.4 1160.9,810.2 1161.3,805.7 1161.6,805.5 1162,810.1 1162.3,808.5 1162.7,807.7 1163,805.1 1163.4,807.6 1163.7,809 1164.1,807.1 1164.4,806.9 1164.8,805.5 1165.1,807.3 1165.5,804.9 1165.8,811.1 1166.2,809.8 1166.5,806.8 1166.9,808.3 1167.2,808 1167.6,806.2 1167.9,806.3 1168.3,807.3 1168.6,809.9 1169,810.2 1169.3,809.7 1169.7,809.1 1170,812.1 1170.4,808 1170.7,808.1 1171.1,807.7 1171.4,808.2 1171.8,807.4 1172.1,810.1 1172.5,810.5 1172.8,809.6 1173.2,807.5 1173.5,806.4 1173.9,808 1174.2,808.9 1174.6,806.3 1174.9,807.9 1175.3,810.1 1175.6,807.6 1176,808.2 1176.3,806.8 1176.7,808.5 1177,809.9 1177.4,809.8 1177.7,807.5 1178.1,810 1178.4,808.9 1178.8,809.2 1179.1,807 1179.5,807.9 1179.8,807.5 1180.2,807.4 1180.5,806.7 1180.9,808.7 1181.2,806.7 1181.6,806.8 1181.9,808.7 1182.3,811.3 1182.6,805.5 1183,807.2 1183.3,808 1183.7,808 1184,807.1 1184.4,808.6 1184.7,807.7 1185.1,805.7 1185.4,809.9 1185.8,810.6 1186.1,808.7 1186.5,806.4 1186.8,806.8 1187.2,810.1 1187.5,808.9 1187.9,808.3 1188.2,808 1188.6,808.3 1188.9,810.6 1189.3,808.6 1189.6,806.3 1190,809.7 1190.3,807.4 1190.7,808.4 1191,810.4 1191.4,807.8 1191.7,809 1192.1,807.9 1192.4,808.8 1192.8,808.7 1193.1,810.3 1193.5,807.9 1193.8,808 1194.2,808.7 1194.5,807.7 1194.9,807.9 1195.2,809.6 1195.6,806.1 1195.9,810.4 1196.3,809.1 1196.6,805.4 1197,807.4 1197.3,808 1197.7,807.9 1198,808.7 1198.4,809.3 1198.7,808.3 1199.1,807.9 1199.4,808.9 1199.8,808.8 1200.1,808.1 1200.5,809.1 1200.8,807.7 1201.2,807.5 1201.6,806.6 1201.9,807.2 1202.3,809.1 1202.6,806.5 1203,808.2 1203.3,808.4 1203.7,807.6 1204,808.9 1204.4,806 1204.7,809.1 1205.1,805.8 1205.4,808.2 1205.8,807.4 1206.1,806.8 1206.5,809.4 1206.8,807.9 1207.2,807.6 1207.5,807.3 1207.9,808.5 1208.2,807.4 1208.6,810.1 1208.9,805.1 1209.3,805.3 1209.6,807.4 1210,807.5 1210.3,807.7 1210.7,809 1211,809.6 1211.4,809.2 1211.7,810.6 1212.1,807.4 1212.4,810.2 1212.8,807.9 1213.1,808.6 1213.5,807.4 1213.8,807.7 1214.2,808.6 1214.5,805.4 1214.9,809.1 1215.2,808 1215.6,807.1 1215.9,809.4 1216.3,809.3 1216.6,809.3 1217,805.9 1217.3,807.1 1217.7,809.2 1218,809.8 1218.4,804.5 1218.7,806.1 1219.1,808.6 1219.4,808.8 1219.8,804.6 1220.1,808.2 1220.5,808.1 1220.8,807.2 1221.2,808.4 1221.5,808.5 1221.9,807.3 1222.2,806.8 1222.6,808.4 1222.9,808 1223.3,805.7 1223.6,806.9 1224,808.4 1224.3,807.7 1224.7,807 1225,808.2 1225.4,807.2 1225.7,807.9 1226.1,807.5 1226.4,808.6 1226.8,806.8 1227.1,810.9 1227.5,808.2 1227.8,806.5 1228.2,807.1 1228.5,809.2 1228.9,809.5 1229.2,806.9 1229.6,807.7 1229.9,808.1 1230.3,809.4 1230.6,806.2 1231,807.2 1231.3,808.6 1231.7,806.5 1232,808.9 1232.4,808.4 1232.7,808 1233.1,807.3 1233.4,807.7 1233.8,809.1 1234.1,809.2 1234.5,809.1 1234.8,806.9 1235.2,805.9 1235.5,808.8 1235.9,811 1236.2,808 1236.6,806.8 1236.9,806.2 1237.3,807.7 1237.6,807.9 1238,808 1238.3,808.5 1238.7,808.1 1239,810 1239.4,807.2 1239.7,808 1240.1,807.8 1240.4,808 1240.8,809.2 1241.1,807.6 1241.5,811.2 1241.8,809.5 1242.2,806.6 1242.5,808.6 1242.9,808.7 1243.2,807.3 1243.6,808.4 1243.9,806.7 1244.3,808.6 1244.6,808.2 1245,808.7 1245.3,807.4 1245.7,809.5 1246,807 1246.4,807.4 1246.7,807.4 1247.1,808.9 1247.4,808.6 1247.8,807.8 1248.1,808.3 1248.5,808.8 1248.8,808.1 1249.2,807.5 1249.5,808 1249.9,808.6 1250.2,807.2 1250.6,809.8 1250.9,807.3 1251.3,807.9 1251.6,808.9 1252,806.9 1252.3,806.9 1252.7,805.5 1253,809.5 1253.4,809.4 1253.7,808.2 1254.1,806.2 1254.4,807.2 1254.8,806.4 1255.1,807.4 1255.5,806.2 1255.8,807.1 1256.2,807.5 1256.5,809 1256.9,807.3 1257.2,809 1257.6,806.4 1257.9,810 1258.3,810.1 1258.6,808.3 1259,804.6 1259.3,806.2 1259.7,808.1 1260,806.8 1260.4,806.2 1260.7,807.1 1261.1,809.5 1261.4,807.4 1261.8,808.1 1262.1,809.7 1262.5,809.1 1262.8,808.9 1263.2,810 1263.5,808.9 1263.9,806.2 1264.2,810.2 1264.6,808.2 1264.9,808.6 1265.3,809.2 1265.6,809.8 1266,806.9 1266.3,808.2 1266.7,808.1 1267,809.2 1267.4,807.3 1267.7,808.2 1268.1,804.8 1268.4,806.8 1268.8,807.1 1269.1,807.2 1269.5,806.3 1269.8,808 1270.2,806.2 1270.5,807 1270.9,809.4 1271.2,806.4 1271.6,806.6 1271.9,807.3 1272.3,805 1272.6,803.7 1273,808 1273.3,805.7 1273.7,808.5 1274,805.8 1274.4,806.7 1274.7,807.5 1275.1,805.7 1275.4,807.7 1275.8,807.8 1276.1,807.5 1276.5,808.2 1276.8,806.8 1277.2,807.2 1277.5,810 1277.9,807.7 1278.2,808.1 1278.6,806.6 1278.9,808 1279.3,807.4 1279.6,807.5 1280,805.3 1280.3,809.8 1280.7,805.8 1281,807.9 1281.4,810 1281.7,808.1 1282.1,806.8 1282.4,806.4 1282.8,808.2 1283.1,807 1283.5,808.1 1283.8,808.5 1284.2,806.6 1284.5,807.8 1284.9,807.9 1285.2,808.9 1285.6,809.7 1285.9,807.3 1286.3,804.8 1286.6,804.3 1287,806.6 1287.3,806.5 1287.7,806.7 1288,806.1 1288.4,807.3 1288.7,807.5 1289.1,809 1289.4,807.2 1289.8,807.2 1290.1,807.6 1290.5,806.9 1290.8,806.8 1291.2,807.3 1291.5,805.8 1291.9,808 1292.2,806.5 1292.6,805.4 1292.9,810.1 1293.3,806.8 1293.6,807.3 1294,807.8 1294.3,806.3 1294.7,807.1 1295,808.1 1295.4,808.1 1295.8,807.6 1296.1,809.8 1296.5,805 1296.8,807 1297.2,804.8 1297.5,807.6 1297.9,805.6 1298.2,809.1 1298.6,808 1298.9,808.6 1299.3,805.5 1299.6,807.7 1300,806.3 1300.3,805.7 1300.7,807.3 1301,807.8 1301.4,805.3 1301.7,805.2 1302.1,806.7 1302.4,806.3 1302.8,807.6 1303.1,806.1 1303.5,807.1 1303.8,804.4 1304.2,807.5 1304.5,807.9 1304.9,805 1305.2,806 1305.6,805.4 1305.9,808 1306.3,805.5 1306.6,807.7 1307,805.9 1307.3,807.6 1307.7,806.7 1308,807.8 1308.4,807.8 1308.7,808 1309.1,806.1 1309.4,807.9 1309.8,808.8 1310.1,807.3 1310.5,810.4 1310.8,807.9 1311.2,807.5 1311.5,808.2 1311.9,807.7 1312.2,806.1 1312.6,806.8 1312.9,808.7 1313.3,804.2 1313.6,807.4 1314,807.9 1314.3,809 1314.7,808.6 1315,807.6 1315.4,807.2 1315.7,805.4 1316.1,808.2 1316.4,807.3 1316.8,804.7 1317.1,810.2 1317.5,808.3 1317.8,804.7 1318.2,806.9 1318.5,808.7 1318.9,806.7 1319.2,808.7 1319.6,806.9 1319.9,806.6 1320.3,808.7 1320.6,807 1321,808.4 1321.3,805.6 1321.7,806.6 1322,808.6 1322.4,806.8 1322.7,807.3 1323.1,807.7 1323.4,808.1 1323.8,806.1 1324.1,805.9 1324.5,807.8 1324.8,808.6 1325.2,807.7 1325.5,806.1 1325.9,805.1 1326.2,806.6 1326.6,807.8 1326.9,806.5 1327.3,804.7 1327.6,808.3 1328,808.4 1328.3,809.1 1328.7,807.2 1329,807.9 1329.4,806.3 1329.7,806.6 1330.1,810.2 1330.4,806.8 1330.8,808.3 1331.2,806.9 1331.5,804.9 1331.9,806.6 1332.2,809.2 1332.6,805.1 1332.9,807 1333.3,805.6 1333.6,809.4 1334,806.8 1334.3,807.7 1334.7,807.5 1335,805.2 1335.4,807 1335.7,809.2 1336.1,807.2 1336.4,809.6 1336.8,809.6 1337.1,805.3 1337.5,808 1337.8,808.5 1338.2,804.9 1338.5,807.7 1338.9,803.6 1339.2,807.8 1339.6,808.8 1339.9,807.5 1340.3,808.7 1340.6,809.9 1341,807.7 1341.3,804.9 1341.7,808 1342,807.4 1342.4,810 1342.7,805.9 1343.1,808.5 1343.4,807.3 1343.8,806.1 1344.1,809.2 1344.5,808.7 1344.8,808 1345.2,807.2 1345.5,807.7 1345.9,807.9 1346.2,805.3 1346.6,804.8 1346.9,808.6 1347.3,807.8 1347.6,808.3 1348,807.5 1348.3,809.2 1348.7,808.8 1349.1,806.6 1349.4,808.1 1349.8,808.8 1350.1,805.7 1350.5,804.8 1350.8,807 1351.2,807.2 1351.5,808 1351.9,806.5 1352.2,807.1 1352.6,807 1352.9,807.9 1353.3,808.2 1353.6,806 1354,808.2 1354.3,807.5 1354.7,808.2 1355,807.5 1355.4,806.9 1355.7,807.5 1356.1,805.7 1356.4,810.2 1356.8,805.6 1357.1,806.6 1357.5,807.4 1357.8,805.1 1358.2,807.3 1358.5,805.1 1358.9,807.6 1359.2,808.3 1359.6,807.7 1359.9,808.1 1360.3,808.4 1360.6,808.1 1361,808.1 1361.3,807.7 1361.7,812.2 1362,809 1362.4,803.3 1362.7,808.6 1363.1,808.7 1363.4,808.1 1363.8,806 1364.1,806.8 1364.5,806.4 1364.8,805.1 1365.2,809.1 1365.5,807.2 1365.9,809.6 1366.3,807.7 1366.6,806.6 1367,807.1 1367.3,806.9 1367.7,806.1 1368,807 1368.4,806.6 1368.7,808.2 1369.1,808.5 1369.4,809.7 1369.8,807.8 1370.1,804.5 1370.5,807.4 1370.8,806 1371.2,807.6 1371.5,806.9 1371.9,807.8 1372.2,805.6 1372.6,805.8 1372.9,810.4 1373.3,807.3 1373.6,810.2 1374,806.5 1374.3,807.7 1374.7,807.8 1375,807.4 1375.4,807.8 1375.7,806.9 1376.1,806.8 1376.4,808 1376.8,806.7 1377.1,807.3 1377.5,807.6 1377.8,808.8 1378.2,808.3 1378.6,807.1 1378.9,808.6 1379.3,805.2 1379.6,805.7 1380,807.7 1380.4,808.9 1380.7,805.9 1381.1,807.1 1381.4,807.6 1381.8,807.4 1382.1,808.4 1382.5,808 1382.8,808 1383.2,807.8 1383.5,805.7 1383.9,807.2 1384.2,805.3 1384.6,807.8 1384.9,807.2 1385.3,806.4 1385.6,805.2 1386,809.6 1386.4,807.6 1386.7,805.9 1387.1,808.6 1387.4,805.4 1387.8,808 1388.1,807.7 1388.5,807.8 1388.8,808.6 1389.2,806.1 1389.5,805.5 1389.9,808 1390.2,804.9 1390.6,807.5 1390.9,808.2 1391.3,806.5 1391.6,808.3 1392,806.3 1392.4,805.3 1392.7,807.5 1393.1,809.2 1393.4,806.4 1393.8,804 1394.1,808.3 1394.5,810.1 1394.8,807.8 1395.2,807.7 1395.5,807.5 1395.9,806.3 1396.2,806.7 1396.6,807.5 1396.9,808 1397.3,807 1397.6,806.2 1398,808.3 1398.3,803 1398.7,807.6 1399.1,808.1 1399.4,808.4 1399.8,805.7 1400.1,807.8 1400.5,806.1 1400.8,807.5 1401.2,806 1401.5,805.2 1401.9,807.8 1402.2,807.2 1402.6,804.6 1402.9,807.1 1403.3,807.3 1403.6,803.9 1404,806.1 1404.3,807.3 1404.7,808.1 1405.1,807.5 1405.4,806.2 1405.8,807.6 1406.1,805.2 1406.5,806.9 1406.8,806.7 1407.2,807.5 1407.5,806 1407.9,806.7 1408.2,804.1 1408.6,806.5 1408.9,806.8 1409.3,806.4 1409.7,805.8 1410,807.3 1410.4,808.4 1410.7,807.1 1411.1,805.9 1411.4,807.2 1411.8,806.8 1412.1,806.1 1412.5,804.2 1412.8,805.4 1413.2,805.3 1413.5,809.1 1413.9,807.9 1414.3,806.8 1414.6,807.4 1415,806.8 1415.3,805 1415.7,805 1416,807.1 1416.4,806.6 1416.7,806.9 1417.1,804.6 1417.4,806.7 1417.8,807.7 1418.2,804.1 1418.5,806.9 1418.9,804.6 1419.2,806.4 1419.6,807 1419.9,804.4 1420.3,805.3 1420.6,804.8 1421,806.5 1421.3,806.6 1421.7,805.8 1422,807 1422.4,806.4 1422.8,806.6 1423.1,807.4 1423.5,806.9 1423.8,808 1424.2,806.2 1424.5,807.8 1424.9,807.1 1425.2,807.5 1425.6,806.3 1425.9,807.6 1426.3,806.3 1426.6,808.1 1427,805.3 1427.4,806.1 1427.7,803.7 1428.1,804.5 1428.5,802.2 1428.8,803.1 1429.2,802.2 1429.5,802.3 1429.9,803.7 1430.3,805.5 1430.6,805.6 1431,810 1431.4,812.9 1431.7,814.5 1432.1,817.4 1432.5,818.6 1432.8,819.3 1433.2,823.6 1433.6,824.4 1434,826.8 1434.4,826.6 1434.8,828.5 1435.1,833.5 1435.5,834.6 1435.9,836.9 1436.2,834.4 1436.6,836.5 1436.9,834.2 1437.3,837.1 1437.6,837.4 1438,836.3 1438.3,835.5 1438.7,837.5 1439,836.4 1439.4,838.1 1439.7,836.8 1440.1,833.8 1440.4,836.6 1440.8,839.5 1441.2,837.3 1441.5,836 1441.9,837.1 1442.2,838.6 1442.6,836.7 1442.9,836.6 1443.3,838.4 1443.6,839.6 1444,837 1444.3,834.9 1444.7,839.9 1445,837 1445.4,835 1445.7,837 1446.1,838.1 1446.4,837.5 1446.8,835.5 1447.1,836.6 1447.5,838.3 1447.8,839.1 1448.2,839.3 1448.5,838.3 1448.9,836.5 1449.2,836.4 1449.6,838.9 1449.9,836.1 1450.3,837.2 1450.6,834.7 1451,836.9 1451.3,837.5 1451.7,836.4 1452,834.6 1452.4,834.8 1452.7,835.3 1453.1,837.6 1453.4,838 1453.8,835.2 1454.1,836.1 1454.5,836.4 1454.8,836.7 1455.2,834.8 1455.5,835.9 1455.9,833.5 1456.2,836.9 1456.6,834.7 1456.9,835.9 1457.3,833.4 1457.7,834.8 1458,835.8 1458.4,834.5 1458.8,831.4 1459.1,835.2 1459.5,832.4 1459.8,830.1 1460.2,831.3 1460.6,831.6 1460.9,831.9 1461.3,829 1461.7,830.6 1462.1,830 1462.4,828.2 1462.8,826.2 1463.2,828.7 1463.6,825.2 1464,824.2 1464.3,824 1464.7,822.8 1465.1,822.8 1465.5,822.4 1465.9,820.6 1466.3,824.7 1466.6,821.3 1467,821.7 1467.4,822.5 1467.8,825.2 1468.2,825.1 1468.5,827.3 1468.9,828.5 1469.3,825.5 1469.6,826.8 1470,825.3 1470.3,828.2 1470.7,827.1 1471,825.8 1471.4,827.8 1471.7,824.7 1472.1,826.3 1472.5,823.9 1472.8,823.7 1473.2,824.6 1473.5,825.8 1473.9,825.8 1474.2,826.7 1474.6,826.1 1474.9,824.6 1475.3,823.3 1475.6,824 1476,825.7 1476.3,824.9 1476.7,827 1477,823.2 1477.4,822.9 1477.7,825.5 1478.1,823.2 1478.5,824.6 1478.8,825 1479.2,823.4 1479.5,824.7 1479.9,824.3 1480.2,824.8 1480.6,821.9 1480.9,822.9 1481.3,825.9 1481.6,825.4 1482,824 1482.4,823.4 1482.7,824.1 1483.1,824.9 1483.4,824.9 1483.8,823.6 1484.2,828.2 1484.5,825.5 1484.9,829.2 1485.3,826.2 1485.6,825.8 1486,829 1486.3,828.5 1486.7,830.2 1487.1,827.2 1487.4,833.8 1487.8,832.9 1488.2,831.4 1488.5,832.6 1488.9,833.2 1489.2,836.1 1489.6,833.1 1490,833.4 1490.3,833.4 1490.7,832.3 1491.1,833.1 1491.4,829.2 1491.8,828.3 1492.1,830.8 1492.5,828.8 1492.9,830.4 1493.2,831.1 1493.6,830.6 1493.9,829.3 1494.3,829.8 1494.6,829.1 1495,829.3 1495.3,828.8 1495.7,828 1496,828.4 1496.4,828.2 1496.8,831.2 1497.1,828.2 1497.5,826.8 1497.8,830.7 1498.2,829.5 1498.5,830.9 1498.9,827.5 1499.2,829.4 1499.6,831.6 1499.9,829.8 1500.3,827.4 1500.7,829.2 1501,829.5 1501.4,827 1501.7,830.7 1502.1,830.2 1502.4,829.4 1502.8,828 1503.1,829.3 1503.5,830.2 1503.8,830.8 1504.2,829.3 1504.6,829.4 1504.9,828.6 1505.3,831.5 1505.6,830.6 1506,827.6 1506.3,829.9 1506.7,831.3 1507,829.1 1507.4,831.6 1507.8,829.9 1508.2,831.8 1508.6,833.3 1508.9,830.8 1509.3,829.6 1509.7,828.8 1510.1,832.3 1510.5,829.3 1510.8,830.9 1511.2,829.7 1511.6,831.8 1511.9,827.9 1512.3,828.5 1512.7,826.9 1513,827.1 1513.4,826.9 1513.7,823.3 1514.1,817.1 1514.5,817.1 1514.8,812.3 1515.2,806.3 1515.6,803.8 1515.9,798.3 1516.3,800.3 1516.7,803.1 1517,804.5 1517.4,804.6 1517.7,807.3 1518.1,811.7 1518.5,813.3 1518.8,811.4 1519.2,812.1 1519.6,809.7 1519.9,813.2 1520.3,814.6 1520.6,817.3 1521,818 1521.4,815.5 1521.7,819 1522.1,816.3 1522.4,815.4 1522.8,818.2 1523.1,816.4 1523.5,816.9 1523.9,816.2 1524.2,818.4 1524.6,819 1524.9,816.5 1525.3,816.6 1525.7,816 1526,815.8 1526.4,816.3 1526.7,820.5 1527.1,815.9 1527.4,816.1 1527.8,816.6 1528.2,817.5 1528.5,814.8 1528.9,815.7 1529.2,816.3 1529.6,818 1529.9,816.8 1530.3,817.4 1530.7,816.1 1531,816.7 1531.4,817 1531.7,815.7 1532.1,814.3 1532.4,819 1532.8,819.1 1533.1,815.5 1533.5,816.1 1533.9,815.4 1534.2,817.1 1534.6,819.2 1534.9,818.1 1535.3,818.1 1535.6,816.9 1536,816.8 1536.3,814.7 1536.7,817.9 1537,818.5 1537.4,818.9 1537.7,817 1538.1,816.3 1538.4,816 1538.8,814.9 1539.1,816.3 1539.5,816.2 1539.8,818.7 1540.2,816.4 1540.6,819.5 1540.9,818 1541.3,816.8 1541.6,817.8 1542,817.7 1542.3,815.9 1542.7,819.4 1543,817.3 1543.4,817.7 1543.7,817.2 1544.1,818.3 1544.4,817.9 1544.8,818.4 1545.1,817.4 1545.5,814.1 1545.9,815.2 1546.2,813.9 1546.6,812.3 1547,808.2 1547.3,809.9 1547.7,808.1 1548,808 1548.4,807.1 1548.8,804 1549.1,808.2 1549.5,807 1549.9,807.5 1550.2,806.7 1550.6,806.2 1550.9,808.2 1551.3,805.6 1551.7,808.1 1552,803.5 1552.4,804.4 1552.8,806.7 1553.1,806.8 1553.5,805.4 1553.9,804.5 1554.2,807 1554.6,809 1554.9,811.1 1555.3,808 1555.7,807.4 1556,808.9 1556.4,808.3 1556.8,810.4 1557.1,810.5 1557.5,809.8 1557.8,809.9 1558.2,813.8 1558.6,812.1 1558.9,813.4 1559.3,813.2 1559.7,812 1560,813 1560.4,812.5 1560.7,816.1 1561.1,815.8 1561.5,815.4 1561.8,817 1562.2,818.8 1562.6,817.2 1562.9,821.9 1563.3,818.8 1563.7,820 1564,817.8 1564.4,818 1564.7,819.7 1565.1,819.6 1565.5,820.9 1565.8,822.7 1566.2,819.3 1566.6,822.1 1566.9,823.2 1567.3,819.3 1567.6,819.7 1568,822.5 1568.4,819.5 1568.7,819.8 1569.1,821 1569.5,820.3 1569.8,820.1 1570.2,822.8 1570.5,820.4 1570.9,820.1 1571.3,823.2 1571.6,823 1572,825.8 1572.4,826.6 1572.7,825.1 1573.1,830.2 1573.5,824.1 1573.8,822.1 1574.2,819.6 1574.5,818 1574.9,815.8 1575.3,815.6 1575.6,812.6 1576,816.2 1576.4,811.2 1576.8,811 1577.2,808.1 1577.5,811 1577.9,810.2 1578.3,809.8 1578.7,811.8 1579.1,808.8 1579.4,806.7 1579.8,811.8 1580.2,815 1580.5,816.3 1580.9,820.6 1581.3,826 1581.6,824.5 1582,829 1582.4,830 1582.8,834.6 1583.3,831.3 1583.6,829.9 1584,830.8 1584.3,831 1584.7,830.8 1585.1,830.7 1585.4,829.4 1585.8,828 1586.2,826.7 1586.5,828.9 1586.9,825.8 1587.2,826.3 1587.6,826.7 1588,826.5 1588.3,824.4 1588.7,824.3 1589.1,824.4 1589.5,823.4 1589.9,823.1 1590.2,821.2 1590.6,822.1 1591,822.5 1591.4,820.7 1591.8,818.8 1592.1,817.8 1592.5,820 1592.9,820.5 1593.3,820.4 1593.7,821.6 1594,820.2 1594.4,821.5 1594.8,821.6 1595.2,821.7 1595.6,824.4 1596,823.6 1596.3,825.8 1596.7,826.8 1597,826 1597.4,826.3 1597.8,824.7 1598.1,825.3 1598.5,824.8 1598.9,827 1599.2,826 1599.6,827.8 1599.9,826.7 1600.3,829.5 1600.7,828.9 1601,827.6 1601.4,827.4 1601.8,826.9 1602.1,825.8 1602.5,829.1 1602.9,825.6 1603.2,830 1603.6,826.6 1603.9,827.6 1604.3,827.5 1604.7,826.9 1605,827.9 1605.4,827.7 1605.8,828 1606.1,828 1606.5,827.2 1606.9,824.1 1607.3,824.4 1607.6,823 1608,821.8 1608.4,824.5 1608.8,818.9 1609.2,821.6 1609.5,816.7 1609.9,814 1610.3,817.9 1610.7,815.6 1611,817.1 1611.4,817.5 1611.7,818.6 1612.1,816.9 1612.5,815.5 1612.8,818.9 1613.2,819.3 1613.6,821 1613.9,824.1 1614.3,827 1614.6,827.2 1615,829.6 1615.4,830.4 1615.7,829.2 1616.1,830.1 1616.5,829.7 1616.8,829.5 1617.2,832.3 1617.6,830.4 1617.9,829.9 1618.3,829.7 1618.6,829.4 1619,830.5 1619.4,831.7 1619.7,830.1 1620.1,832.1 1620.5,827.1 1620.9,829.4 1621.2,829.7 1621.6,829.4 1622,827.8 1622.4,828 1622.8,830.1 1623.1,826.7 1623.5,827 1623.9,825.8 1624.3,823 1624.6,820.4 1625,820.5 1625.4,819.7 1625.7,817.8 1626.1,814.3 1626.4,814 1626.8,818.4 1627.2,814.9 1627.6,813.1 1628,814.5 1628.3,815.1 1628.7,814.8 1629.1,815.7 1629.5,815.1 1629.9,813.4 1630.3,816.1 1630.6,814.3 1631,815.4 1631.4,817.5 1631.8,815.9 1632.2,816.1 1632.5,817.9 1632.9,816.7 1633.3,816.6 1633.7,819.9 1634.1,817.6 1634.4,815.5 1634.8,816.8 1635.2,814.7 1635.6,814.3 1636,812.9 1636.4,811.7 1636.7,809.7 1637.1,809.3 1637.5,811.7 1637.9,809.6 1638.2,812.6 1638.6,809.8 1639,815.3 1639.3,817.6 1639.7,818.5 1640.1,820.3 1640.4,820.7 1640.8,820.3 1641.2,820.1 1641.6,820.8 1641.9,823 1642.3,819.3 1642.7,820.8 1643.1,818.8 1643.5,819.9 1643.8,820.1 1644.2,820.4 1644.6,820.5 1645,821.5 1645.3,821.8 1645.7,818.8 1646,822.2 1646.4,822.9 1646.8,825.8 1647.1,823.6 1647.5,823.1 1647.9,823.8 1648.2,825.6 1648.6,827.8 1648.9,828.9 1649.3,825.7 1649.7,827.9 1650,826.8 1650.4,827.1 1650.8,824 1651.1,824.3 1651.5,823.7 1651.8,824.4 1652.2,825.7 1652.6,823.1 1652.9,824.4 1653.3,822 1653.7,820.7 1654,820.1 1654.4,819.3 1654.8,821 1655.1,822.4 1655.5,823.2 1655.8,819.9 1656.2,821.7 1656.6,819.7 1656.9,821.9 1657.3,821.4 1657.7,820.8 1658,823.6 1658.4,822.9 1658.7,820.8 1659.1,823.6 1659.5,823.2 1659.8,820.6 1660.2,825.7 1660.6,823.3 1660.9,822.2 1661.3,821.3 1661.6,822.6 1662,824.2 1662.4,822.2 1662.7,827.3 1663.1,826.4 1663.5,822.9 1663.8,824.4 1664.2,822.4 1664.6,824.5 1664.9,821.8 1665.3,822.7 1665.6,820 1666,821 1666.4,817.3 1666.7,814.8 1667.1,811.5 1667.5,814.5 1667.9,811.6 1668.2,811.8 1668.6,811.8 1669,815.2 1669.4,812.2 1669.8,809.6 1670.1,812 1670.5,807.8 1670.9,806.6 1671.3,808.1 1671.6,807 1672,807.2 1672.3,807.6 1672.7,808 1673.1,805.7 1673.4,806.2 1673.8,808.2 1674.1,806.7 1674.5,807.2 1674.8,808 1675.2,808.3 1675.6,808.6 1675.9,807.7 1676.3,808.4 1676.6,808.9 1677,808.5 1677.4,809.4 1677.7,806 1678.1,808.8 1678.4,807 1678.8,808.7 1679.1,805.1 1679.5,806.7 1679.9,806.7 1680.2,810.6 1680.6,806.8 1680.9,808.4 1681.3,809.2 1681.7,810.1 1682,809.1 1682.4,807.6 1682.7,809.3 1683.1,806.7 1683.4,807.6 1683.8,808.6 1684.2,808.7 1684.5,808.3 1684.9,810.5 1685.2,808.3 1685.6,809.7 1685.9,808.7 1686.3,804 1686.6,806.2 1687,806.4 1687.3,807 1687.7,808.6 1688,805.6 1688.4,807.1 1688.7,807.8 1689.1,806.4 1689.4,806.4 1689.8,808.3 1690.1,808.1 1690.5,808.4 1690.8,806.8 1691.2,807.6 1691.5,806.5 1691.9,805.9 1692.2,807.1 1692.6,805.8 1692.9,807 1693.3,804.6 1693.6,804.9 1694,801.9 1694.3,803.4 1694.7,803.9 1695,805.5 1695.4,805.2 1695.7,804.6 1696.1,805.4 1696.5,802.5 1696.8,803 1697.2,804.8 1697.5,805 1697.9,803.1 1698.2,802.8 1698.6,806.7 1698.9,808.2 1699.3,804.7 1699.6,804.2 1700,805 1700.4,804.8 1700.7,808.4 1701.1,804.4 1701.4,804.8 1701.8,806.5 1702.1,805.3 1702.5,808.4 1702.8,803.9 1703.2,805.1 1703.5,805.5 1703.9,803.3 1704.3,804.8 1704.6,805.1 1705,806.8 1705.3,804.2 1705.7,803.9 1706,807.4 1706.4,803.3 1706.7,804.1 1707.1,806.1 1707.4,804.8 1707.8,807.8 1708.2,805.4 1708.5,804.1 1708.9,806.6 1709.2,806.3 1709.6,804.9 1709.9,805.9 1710.3,805.5 1710.6,805.1 1711,804.5 1711.3,804.9 1711.7,805.4 1712,806.9 1712.4,803.9 1712.8,804.1 1713.1,805.6 1713.5,807.7 1713.8,804.6 1714.2,807.7 1714.5,805.2 1714.9,803.3 1715.2,805.2 1715.6,803.5 1715.9,805.3 1716.3,805.7 1716.6,806.8 1717,805.6 1717.3,803.5 1717.7,805.1 1718,805.7 1718.4,804.9 1718.8,806 1719.1,805.9 1719.5,804.1 1719.8,805.9 1720.2,803 1720.5,805.2 1720.9,804.3 1721.2,802.5 1721.6,802.7 1721.9,805.2 1722.3,806.1 1722.6,802.7 1723,803.7 1723.3,806.5 1723.7,804.6 1724,802.8 1724.4,806.1 1724.8,803.4 1725.1,803 1725.5,803.9 1725.8,803.3 1726.2,804.3 1726.5,802.9 1726.9,804.1 1727.2,805 1727.6,802.8 1727.9,803.6 1728.3,804.9 1728.6,804.1 1729,802.2 1729.3,805.8 1729.7,803.2 1730,803.1 1730.4,803.3 1730.8,802.8 1731.1,803 1731.5,802.9 1731.8,802.5 1732.2,802.1 1732.5,803.1 1732.9,802.6 1733.2,804 1733.6,799.5 1733.9,804.2 1734.3,803.9 1734.6,803.4 1735,802.6 1735.3,806 1735.7,803.3 1736,803.7 1736.4,803.3 1736.7,802.2 1737.1,803.4 1737.5,803.1 1737.8,804.7 1738.2,805.2 1738.5,805.5 1738.9,804.1 1739.2,803.4 1739.6,802.6 1739.9,805.6 1740.3,802.2 1740.6,805.5 1741,804.2 1741.3,803.3 1741.7,803.1 1742,805 1742.4,804 1742.7,804.6 1743.1,803.7 1743.5,804.4 1743.8,802.1 1744.2,803.9 1744.5,802.4 1744.9,807.7 1745.2,800 1745.6,805.4 1745.9,806.6 1746.3,802.1 1746.6,804.5 1747,802.6 1747.3,803.4 1747.7,802.2 1748,805.1 1748.4,805.5 1748.7,805.7 1749.1,803.7 1749.5,803.5 1749.8,805.3 1750.2,804.3 1750.5,803.5 1750.9,805.4 1751.2,804.6 1751.6,805.1 1751.9,802.8 1752.3,802.7 1752.6,803.4 1753,803.7 1753.3,803.7 1753.7,803.4 1754,804.3 1754.4,805 1754.7,803.9 1755.1,803.5 1755.5,804.4 1755.8,805.5 1756.2,805 1756.5,805.5 1756.9,807.4 1757.2,805.4 1757.6,805.6 1757.9,804.3 1758.3,804.4 1758.6,808.3 1759,804.9 1759.3,804.4 1759.7,804.1 1760,805 1760.4,806.4 1760.7,804.3 1761.1,805.3 1761.5,804.7 1761.8,805.1 1762.2,803.8 1762.5,805.6 1762.9,806.3 1763.2,808 1763.6,804.6 1763.9,803.7 1764.3,804.8 1764.6,806.8 1765,805.2 1765.3,804.6 1765.7,801.5 1766,803.9 1766.4,803.4 1766.7,807.2 1767.1,806.1 1767.4,809 1767.8,805 1768.2,805.9 1768.5,807.2 1768.9,805.1 1769.2,808 1769.6,806.8 1769.9,804.3 1770.3,807.6 1770.6,806.3 1771,805.3 1771.3,806.1 1771.7,806 1772,804.6 1772.4,808.1 1772.7,808.3 1773.1,805.4 1773.4,806.7 1773.8,805 1774.2,804.3 1774.5,804.5 1774.9,803.6 1775.2,802.9 1775.6,807.5 1775.9,805.7 1776.3,802.6 1776.6,804.3 1777,806.6 1777.3,805.5 1777.7,806 1778,808.4 1778.4,807.1 1778.7,806.6 1779.1,806.4 1779.4,806.1 1779.8,806.1 1780.2,806.3 1780.5,805.7 1780.9,808.5 1781.2,805.7 1781.6,806.3 1781.9,806.2 1782.3,806.4 1782.6,808.2 1783,807.5 1783.3,807 1783.7,807.3 1784,806.9 1784.4,807.7 1784.7,805.9 1785.1,807.4 1785.4,806.7 1785.8,807.3 1786.2,804.2 1786.5,806.4 1786.9,808.8 1787.2,805.7 1787.6,806.3 1787.9,807.6 1788.3,806.6 1788.6,804.8 1789,808.2 1789.3,806.5 1789.7,806 1790,807.4 1790.4,809.2 1790.7,807.1 1791.1,804.8 1791.4,805.1 1791.8,805.8 1792.1,806.2 1792.5,804.1 1792.9,808 1793.2,805.1 1793.6,807.8 1793.9,805.6 1794.3,808.5 1794.6,806.4 1795,806.9 1795.3,806.4 1795.7,807.9 1796,807.3 1796.4,808.4 1796.7,804.4 1797.1,805.6 1797.4,805.8 1797.8,807.7 1798.1,805.9 1798.5,805.3 1798.9,808.8 1799.2,806.7 1799.6,808.1 1799.9,806.1 1800.3,807 1800.6,803.6 1801,804.8 1801.3,804.9 1801.7,807 1802,805.6 1802.4,804.5 1802.7,805.3 1803.1,803.4 1803.4,803.8 1803.8,803.7 1804.1,804.1 1804.5,802.9 1804.9,805.5 1805.2,807.3 1805.6,806.9 1805.9,805.1 1806.3,802.7 1806.6,803.9 1807,805.7 1807.3,804.2 1807.7,805.7 1808,804.3 1808.4,803.8 1808.7,806 1809.1,805.9 1809.4,806.5 1809.8,804.1 1810.1,807.1 1810.5,808.5 1810.9,805.3 1811.2,806.3 1811.6,809.8 1811.9,806.4 1812.3,805.6 1812.6,804 1813,804.7 1813.3,806.1 1813.7,807.3 1814,804.9 1814.4,803.7 1814.7,804.4 1815.1,805.4 1815.4,804.6 1815.8,803.9 1816.1,806.2 1816.5,807.5 1816.8,802.3 1817.2,804.2 1817.5,803.6 1817.9,806.7 1818.2,802.7 1818.6,806.6 1818.9,806.8 1819.3,806.6 1819.6,805.5 1820,802.7 1820.4,803.5 1820.7,806.2 1821.1,806.3 1821.4,803.5 1821.8,804.9 1822.1,802.9 1822.5,803.9 1822.8,804.6 1823.2,804.1 1823.5,804.7 1823.9,804.9 1824.2,802.9 1824.6,805 1824.9,803.1 1825.3,806 1825.6,805.3 1826,804.1 1826.3,804.8 1826.7,805.3 1827,805.4 1827.4,805.8 1827.7,806.6 1828.1,805.2 1828.4,805.8 1828.8,805.7 1829.1,806 1829.5,804 1829.9,803.6 1830.2,804.8 1830.6,805.7 1830.9,805.9 1831.3,804.7 1831.6,805.4 1832,804.1 1832.3,804 1832.7,804.1 1833,804.9 1833.4,805.4 1833.7,806.2 1834.1,803.9 1834.4,805.7" fill="none" stroke="#b020b0" stroke-width="1.2" stroke-linejoin="round" stroke-linecap="butt" />
<polyline points="995.5,907.2 1017,907.2" fill="none" stroke="#000" stroke-width="3.2" stroke-linejoin="round" stroke-linecap="butt" />
<polyline points="1017,906.4 1017.5,883.5 1019.5,881.4 1021.1,881.6 1022.8,882 1024.4,882.4 1026,881.3 1027.5,881.8 1029,882.4 1030.5,882.5 1032.1,882.3 1033.6,883.2 1035.1,882.9 1036.7,882.7 1038.2,883.4 1039.7,882.9 1041.3,884 1042.8,883.2 1044.3,884.3 1045.8,884 1047.3,883.3 1048.9,883.5 1050.4,883.4 1051.9,883.6 1053.4,883.5 1054.9,883.1 1056.4,883.8 1058,883.8 1059.5,883 1061,883.6 1062.5,883.6 1064,883.8 1065.5,883.6 1067.1,883.8 1068.6,883.3 1070.1,884.3 1071.6,883.9 1073.1,884 1074.6,883.8 1076.2,883.5 1077.7,884 1079.2,884 1080.7,883.4 1082.2,883.5 1083.7,883.8 1085.2,883.8 1086.8,883.8 1088.3,884.1 1089.8,883.6 1091.3,883.8 1092.8,883.9 1094.3,883.5 1095.9,883.8 1097.4,883.9 1098.9,883.9 1100.4,884 1101.9,884.6 1103.4,884.5 1105,884.1 1106.5,884.1 1108,884 1109.5,883.9 1111,884 1112.5,884.6 1114.1,884.2 1115.6,884.1 1117.1,884.1 1118.6,884.1 1120.1,884.3 1121.6,883.9 1123.2,884.5 1124.7,884.4 1126.2,884.2 1127.7,884.1 1129.2,883.9 1130.7,884.7 1132.2,884.6 1133.8,883.8 1135.3,883.8 1136.8,884.5 1138.3,884.6 1139.8,884.7 1141.3,884.4 1142.9,884.6 1144.4,884.6 1145.9,884.5 1147.4,884.8 1148.9,884.5 1150.4,884.3 1152,885 1153.5,884.4 1155,883.8 1156.5,884.7 1158,884.5 1159.5,884.6 1161.1,885 1162.6,884.5 1164.1,885.1 1165.6,884.7 1167.1,885.4 1168.6,884.4 1170.1,885.4 1171.6,885.2 1173.1,884.5 1174.6,884.7 1176.1,884.9 1177.6,885.5 1179.2,884.7 1180.7,884.7 1182.2,884.8 1183.7,884.8 1185.2,884.5 1186.7,883.9 1188.2,885.2 1189.7,885.4 1191.2,884.5 1192.7,885.3 1194.2,885.1 1195.7,884.4 1197.2,884.5 1198.7,885.7 1200.2,885 1201.7,884.9 1203.2,884.9 1204.7,884.6 1206.2,884.4 1207.7,884.9 1209.2,884.8 1210.7,885 1212.2,885.4 1213.7,884.5 1215.2,884.6 1216.7,885.5 1218.2,885 1219.7,885.1 1221.2,885.3 1222.7,885.3 1224.2,885.4 1225.7,885 1227.2,885.5 1228.7,885 1230.2,885.2 1231.7,884.9 1233.2,885.3 1234.7,884.8 1236.2,886.2 1237.7,884.5 1239.3,884.7 1240.8,884.5 1242.3,884.4 1243.8,884.8 1245.3,885.2 1246.8,885.1 1248.3,885.4 1249.8,885.5 1251.3,885 1252.8,884.7 1254.3,884.5 1255.8,885 1257.3,885.2 1258.8,885.1 1260.3,884.6 1261.8,885.6 1263.3,885.1 1264.8,885.6 1266.3,885.7 1267.8,885.3 1269.3,885.2 1270.8,885.6 1272.3,884.7 1273.8,885.8 1275.3,885.5 1276.8,885.7 1278.3,885.6 1279.8,885.7 1281.3,885.7 1282.8,885.3 1284.3,885.8 1285.8,885 1287.3,885 1288.8,885.2 1290.3,885.5 1291.8,885.3 1293.3,885.8 1294.8,885.3 1296.3,885.7 1297.8,885.8 1299.4,885.4 1300.9,885.8 1302.4,885.5 1303.9,885.6 1305.4,885 1306.9,885.4 1308.4,885.6 1309.9,885.1 1311.4,886.2 1312.9,885.7 1314.4,885.7 1315.9,885.5 1317.4,885.6 1318.9,886.2 1320.4,885.3 1321.9,886 1323.4,886.2 1324.9,886.2 1326.4,885.6 1327.9,885.7 1329.4,885.5 1330.9,885.7 1332.4,886.1 1333.9,885.9 1335.4,886.3 1336.9,885.3 1338.4,886 1339.9,885 1341.4,886.3 1342.9,885.4 1344.4,886.4 1345.9,886.1 1347.4,885.4 1348.9,886.5 1350.4,886.2 1351.9,885.9 1353.4,885.9 1354.9,886 1356.4,885.6 1358,886.5 1359.5,886 1361,886.1 1362.5,885.7 1364,885.5 1365.5,886.3 1367,885.8 1368.5,885.6 1370,886.1 1371.5,886 1373,885.9 1374.5,886 1376,885.9 1377.5,885.6 1380,886.6 1381.5,886.8 1383,886.5 1384.5,887.2 1386,887.3 1387.5,886.4 1389,886.2 1390.5,886.8 1392,886.7 1393.5,887.3 1395,886.7 1396.5,887.6 1398.1,886.8 1399.6,886.9 1401.1,886.9 1402.6,886.7 1404.1,887.3 1405.6,886.4 1407.1,887 1408.6,886.8 1410.1,886.8 1411.6,887 1413.1,887.3 1414.6,887 1416.1,886.8 1417.6,886.8 1419.1,886.7 1420.6,886.6 1422.1,887.2 1423.6,887.3 1425.1,886.6 1426.6,887 1428.1,887.3 1429.6,886.8 1431.1,886.6 1432.7,887.2 1434.2,887.1 1435.7,886.8 1437.2,886.6 1438.7,886.1 1440.2,886.8 1441.7,886.8 1443.2,887 1444.7,886.5 1446.2,887.1 1447.7,887.4 1449.2,887.3 1450.7,886.5 1452.2,887.1 1453.7,886.9 1455.2,887.6 1456.7,886.9 1458.2,886.7 1459.7,887.3 1461.2,887.2 1462.7,886.4 1464.2,886.7 1465.7,886.9 1467.3,886.1 1468.8,886.9 1470.3,887.1 1471.8,886.8 1473.3,887.3 1474.8,887.1 1476.3,886.3 1477.8,886.4 1479.3,887.3 1480.8,886.7 1482.3,886.8 1483.8,887.6 1485.3,886.8 1486.8,886.9 1488.3,886.5 1489.8,887.1 1491.3,886.6 1492.8,887.2 1494.3,887.1 1495.8,886.2 1497.3,886.8 1498.8,886.9 1500.3,887.6 1501.9,886.9 1503.4,886.6 1504.9,887.1 1506.4,887.1 1507.9,887 1509.4,886.7 1510.9,886.7 1512.4,887.2 1513.9,887 1515.4,887.2 1516.9,886.9 1518.4,886.6 1519.9,887.5 1521.4,886.8 1522.9,887.1 1524.4,886.9 1525.9,887.4 1527.4,887.7 1528.9,887.6 1530.4,886.7 1531.9,887 1533.4,886.9 1534.9,886.6 1536.5,886.8 1538,888 1539.5,886.9 1541,886.8 1542.5,887.6 1544,887 1545.5,887.1 1547,887.7 1548.5,886.8 1550,887 1551.5,887.5 1553,887.6 1554.5,887.4 1556,887.5 1557.5,886.8 1559,887.1 1560.5,887 1562,887.1 1563.5,887 1565,887.1 1566.5,887 1568,887.1 1569.5,887.3 1571.1,886.5 1572.6,887.7 1574.1,887.7 1575.6,887.2 1577.1,886.9 1578.6,886.6 1580.1,887.2 1581.6,887.2 1583.1,886.9 1584.6,887.2 1586.1,886.7 1587.6,887.3 1589.1,887.2 1590.6,887.4 1592.1,887.8 1593.6,887.2 1595.1,887 1596.6,887.7 1598.1,887 1599.6,887.2 1601.1,886.5 1602.6,887.5 1604.1,886.4 1605.6,886.2 1607.2,887 1608.7,887.8 1610.2,886.9 1611.7,886.9 1613.2,887.8 1614.7,886.8 1616.2,887 1617.7,887.3 1619.2,887 1620.7,886.9 1622.2,887.2 1623.7,887.9 1625.2,886.4 1626.7,887.1 1628.2,886.6 1629.7,886.9 1631.2,886.9 1632.7,886.6 1634.2,887.1 1635.7,887.3 1637.2,887 1638.7,887 1640.2,887.1 1641.8,887.2 1643.3,887.8 1644.8,887.1 1646.3,887 1647.8,887.1 1649.3,887 1650.8,887.8 1652.3,887.3 1653.8,886.9 1655.3,886.8 1656.8,887.6 1658.3,887.1 1659.8,886.9 1661.3,886.9 1662.8,886.6 1664.3,886.5 1665.8,887.2 1667.3,886.6 1668.8,888.1 1670.3,887.1 1671.8,887.3 1673.3,887.8 1674.8,887.7 1676.4,887.2 1677.9,887.8 1679.4,887.6 1680.9,887.2 1682.4,887.8 1683.9,887.6 1685.4,887.4 1686.9,887.6 1688.4,886.9 1689.9,887.4 1691.4,887.7 1692.9,887.1 1694.4,886.5 1695.9,887.4 1697.4,888 1698.9,887.2 1700.4,887 1701.9,887.2 1703.4,887.2 1704.9,887.1 1706.4,886.9 1707.9,886.7 1709.4,887.5 1711,887 1712.5,887.4 1714,887 1715.5,887.5 1717,887.2 1718.5,886.8 1720,886.6 1721.5,887.8 1723,887 1724.5,887.4 1726,887.1 1727.5,886.9 1729,886.7 1730.5,886.4 1732,887.4 1733.5,887.9 1735,887 1736.5,887 1738,887.6 1739.5,887.8 1741,886.6 1742.5,887.6 1744,887.3 1745.6,887.2 1747.1,887.1 1748.6,886.9 1750.1,887.2 1751.6,887.2 1753.1,887.3 1754.6,887.3 1756.1,887.8 1757.6,887.6 1759.1,887.1 1760.6,887.6 1762.1,887.4 1763.6,887.1 1765.1,887.4 1766.6,887.3 1768.1,887.8 1769.6,887.4 1771.1,886.9 1772.6,887.4 1774.1,886.9 1775.6,888.1 1777.1,887.2 1778.6,887.2 1780.2,886.9 1781.7,886.7 1783.2,888.1 1784.7,887.1 1786.2,887.9 1787.7,887 1789.2,887.9 1790.7,887.4 1792.2,887.1 1793.7,887.5 1795.2,887.6 1796.7,887.5 1798.2,887.2 1799.7,887.6 1801.2,887.5 1802.7,887 1804.2,887.2 1805.7,887.2 1807.2,887 1808.7,886.9 1810.2,887.2 1811.7,887.5 1813.2,887.7 1814.8,887.4 1816.3,887.3 1817.8,887.4 1819.3,887.1 1820.8,886.8 1822.3,887.1 1823.8,887.2 1825.3,887.3 1826.8,887.7 1828.3,887.7 1829.8,887.7 1831.3,886.6 1832.8,887.2 1834.3,887.3 1835.8,887 1837.3,887.5" fill="none" stroke="#000" stroke-width="4.0" stroke-linejoin="round" stroke-linecap="butt" />
<line x1="1012.4" y1="907" x2="1012.4" y2="894.2" stroke="#000" stroke-width="1.6"/>
<line x1="1764.1" y1="887" x2="1764.1" y2="832.7" stroke="#000" stroke-width="2.4"/>
<text transform="translate(1304.9 797.5) scale(0.887 1)" font-size="28.20" fill="#b020b0">LH</text>
<text transform="translate(1147.9 878.6) scale(0.825 1)" font-size="28.05" fill="#000">ECRF</text>
<polyline points="995.5,1085.4 1837,1085.4" fill="none" stroke="#000" stroke-width="2.8" stroke-linejoin="round" stroke-linecap="butt" />
<polyline points="1198.5,1085.3 1201,1079.1 1205.9,1056.7 1212.1,1024.4 1213.4,1002" fill="none" stroke="#000" stroke-width="1.6" stroke-linejoin="round" stroke-linecap="butt" />
<polygon points="1213.4,995.4 1214.1,991.9 1214.8,996.7 1215.5,994.6 1216.2,995.3 1216.9,996.4 1217.6,994.8 1218.3,994.8 1219,995.3 1219.7,994.6 1220.4,996.4 1221.1,995.5 1221.8,995.1 1222.5,995.2 1223.2,996.4 1223.9,992.9 1224.6,992.7 1225.3,996.7 1226,996.1 1226.7,995.7 1227.4,994 1228.1,996.7 1228.8,997.6 1229.5,996.2 1230.2,993.4 1230.9,994.1 1231.6,994.3 1232.3,992.8 1233,997.1 1233.7,994.7 1234.4,996 1235.1,996.8 1235.8,989.5 1236.5,992.8 1237.2,994.8 1237.9,996.1 1238.6,996.1 1239.3,997.5 1240,996.2 1240.7,996 1241.4,995.2 1242.1,996.2 1242.8,990.4 1243.5,996.8 1244.2,995.8 1244.9,991.2 1245.6,994.3 1246.3,995 1247,995.3 1247.7,996.8 1248.4,995.9 1249.1,993.3 1249.8,990.7 1250.5,993.6 1251.2,994.3 1251.9,996.6 1252.6,996.8 1253.3,996.5 1254,993.7 1254.7,996.7 1255.4,994.4 1256.1,992.8 1256.8,993.6 1257.5,994.5 1258.2,995.5 1258.9,993.7 1259.6,993.7 1260.3,995.3 1261,994.6 1261.7,994.8 1262.4,995.2 1263.1,995 1263.8,996.7 1264.5,994.8 1265.2,993.8 1265.9,996.3 1266.6,996.1 1267.3,995.6 1268,994.3 1268.7,990.6 1269.4,995.5 1270.1,994.9 1270.8,992.8 1271.5,993.4 1272.2,994.6 1272.9,997 1273.6,995.5 1274.3,996.6 1275,992 1275.7,996.6 1276.4,991.9 1277.1,996.3 1277.8,990.3 1278.5,994.8 1279.2,996.1 1279.9,993.9 1280.6,992.7 1281.3,992.8 1282,994.7 1282.7,993.3 1283.4,996.1 1284.1,994.8 1284.8,994.8 1285.5,994.2 1286.2,992.9 1286.9,993 1287.6,993.3 1288.3,993 1289,994.9 1289.7,993.9 1290.4,995 1291.1,993.3 1291.8,994.1 1292.5,988.7 1293.2,992.3 1293.9,994.2 1294.6,995.3 1295.3,995.3 1296,995.5 1296.7,992.8 1297.4,992.1 1298.1,993.9 1298.8,993.4 1299.5,991.7 1300.2,987.8 1300.9,992.6 1301.6,994 1302.3,991.7 1303,992.9 1303.7,994.4 1304.4,992.6 1305.1,994.8 1305.8,993.9 1306.5,995.1 1307.2,992.1 1307.9,994.3 1308.6,994.1 1309.3,994.7 1310,995.4 1310.7,995.2 1311.4,991 1312.1,995.8 1312.8,994.8 1313.5,994 1314.2,996.3 1314.9,992.1 1315.6,994.3 1316.3,992.1 1317,992.8 1317.7,993.9 1318.4,992.7 1319.1,993.5 1319.8,996.5 1320.5,990.4 1321.2,995.3 1321.9,993.9 1322.6,993.7 1323.3,995.4 1324,990.9 1324.7,994.8 1325.4,996.5 1326.1,994.6 1326.8,992.4 1327.5,995.4 1328.2,993.7 1328.9,992.8 1329.6,992.2 1330.3,991.4 1331,991.5 1331.7,993.1 1332.4,994.4 1333.1,993.4 1333.8,991.8 1334.5,992.6 1335.2,992 1335.9,994.5 1336.6,994.1 1337.3,994.9 1338,992 1338.7,993.1 1339.4,993.1 1340.1,993 1340.8,994.5 1341.5,993 1342.2,993.1 1342.9,993.2 1343.6,993.7 1344.3,992.2 1345,992.7 1345.7,991 1346.4,991.8 1347.1,992.3 1347.8,990.8 1348.5,991.2 1349.2,992.8 1349.9,994.6 1350.6,991.7 1351.3,992.9 1352,993.3 1352.7,994.4 1353.4,993.5 1354.1,994.7 1354.8,993.6 1355.5,992.6 1356.2,993.4 1356.9,992.8 1357.6,991.7 1358.3,994.4 1359,993.1 1359.7,992.1 1360.4,993.5 1361.1,993.1 1361.8,991.2 1362.5,990.2 1363.2,993.6 1363.9,992 1364.6,991.7 1365.3,993 1366,991.3 1366.7,994.4 1367.4,991.2 1368.1,992.9 1368.8,987.3 1369.5,993.2 1370.2,993.3 1370.9,991.1 1371.6,987.8 1372.3,991.8 1373,991.6 1373.7,991.2 1374.4,994.3 1375.1,990.4 1375.8,994.4 1376.5,992.5 1377.2,992.7 1377.9,993.1 1378.6,992 1379.3,988.7 1380,993.4 1380.7,990.5 1381.4,990.2 1382.1,992 1382.8,987.2 1383.5,991.2 1384.2,992.4 1384.9,992.1 1385.6,992.6 1386.3,992.8 1387,991.5 1387.7,991.9 1388.4,993.5 1389.1,991.7 1389.8,991.5 1390.5,991.4 1391.2,992 1391.9,992.9 1392.6,990.1 1393.3,992.2 1394,989.9 1394.7,991.6 1395.4,990.5 1396.1,991.8 1396.8,990.2 1397.5,990.6 1398.2,990.4 1398.9,993.1 1399.6,991.1 1400.3,992.1 1401,991.4 1401.7,989.1 1402.4,988.9 1403.1,993 1403.8,991.5 1404.5,986.8 1405.2,990.1 1405.9,991.6 1406.6,991.1 1407.3,992.3 1408,991.6 1408.7,990.8 1409.4,992.2 1410.1,991.7 1410.8,991.8 1411.5,992.8 1412.2,991.9 1412.9,991.1 1413.6,994.9 1414.3,983.8 1415,991 1415.7,989 1416.4,988.4 1417.1,990.9 1417.8,988.8 1418.5,988.8 1419.2,986.2 1419.9,990.5 1420.6,990.3 1421.3,990 1422,989.5 1422.7,987.7 1423.4,991.6 1424.1,992.4 1424.8,987.8 1425.5,991.2 1426.2,990.7 1426.2,998.9 1425.5,998.4 1424.8,1001.8 1424.1,999 1423.4,999.7 1422.7,999.9 1422,999.7 1421.3,1000 1420.6,998.1 1419.9,999.7 1419.2,999.7 1418.5,999.1 1417.8,999.3 1417.1,998.1 1416.4,1000.4 1415.7,999.2 1415,1000.4 1414.3,1000.2 1413.6,1000.2 1412.9,1000 1412.2,1001 1411.5,996.4 1410.8,1002.4 1410.1,999.9 1409.4,999.2 1408.7,1000.3 1408,1000.2 1407.3,998.7 1406.6,1000.6 1405.9,999.3 1405.2,998.7 1404.5,1001 1403.8,1000.5 1403.1,1000.2 1402.4,999.5 1401.7,999 1401,998.5 1400.3,1000.6 1399.6,999.9 1398.9,1000.6 1398.2,999.5 1397.5,999 1396.8,999.7 1396.1,1000.9 1395.4,1000.8 1394.7,999.4 1394,1000.8 1393.3,1001.3 1392.6,999.5 1391.9,1000.6 1391.2,1000.6 1390.5,1001 1389.8,1001.2 1389.1,1001.1 1388.4,1000.9 1387.7,998.6 1387,1000.6 1386.3,998.2 1385.6,999.7 1384.9,1001.6 1384.2,999.8 1383.5,1000.3 1382.8,1001 1382.1,999.1 1381.4,1000.4 1380.7,999.5 1380,1000.6 1379.3,1001.1 1378.6,999.5 1377.9,1000.8 1377.2,1000.5 1376.5,1000 1375.8,1000.9 1375.1,1000.2 1374.4,1002.8 1373.7,1000.5 1373,1000.9 1372.3,1001.4 1371.6,1000.5 1370.9,1000.9 1370.2,1002.8 1369.5,1002 1368.8,1001.5 1368.1,1000.4 1367.4,1000.7 1366.7,1001.4 1366,1000.9 1365.3,1001.1 1364.6,1002.4 1363.9,1000.8 1363.2,1002.2 1362.5,1002.2 1361.8,1001.5 1361.1,1001.8 1360.4,1000 1359.7,1000.8 1359,1002.2 1358.3,1000.3 1357.6,1000.5 1356.9,1002.4 1356.2,1002.7 1355.5,1001.3 1354.8,1000.6 1354.1,1000.8 1353.4,1000.1 1352.7,1003.2 1352,1002.8 1351.3,1000.6 1350.6,1000.2 1349.9,1001.9 1349.2,1001.3 1348.5,1000 1347.8,999.3 1347.1,999.6 1346.4,999.4 1345.7,1003.8 1345,1002.6 1344.3,1000.4 1343.6,1001.2 1342.9,1000.9 1342.2,1001.6 1341.5,1001.8 1340.8,1000.7 1340.1,999.3 1339.4,1001.6 1338.7,1002.4 1338,1002.3 1337.3,1000.5 1336.6,1001.4 1335.9,1002.4 1335.2,1002.4 1334.5,1002.1 1333.8,1001.3 1333.1,1002.6 1332.4,1000.9 1331.7,1001.5 1331,1000.2 1330.3,1000.5 1329.6,1001.7 1328.9,1001.6 1328.2,1000.2 1327.5,1001.8 1326.8,1000.8 1326.1,1002.9 1325.4,1003.6 1324.7,1002.7 1324,1003 1323.3,1002.2 1322.6,1003.5 1321.9,1003.6 1321.2,1000.5 1320.5,1001.6 1319.8,1002.7 1319.1,1003.4 1318.4,1002.8 1317.7,1003.4 1317,1001.1 1316.3,1001.8 1315.6,1003.8 1314.9,1001.1 1314.2,1002.8 1313.5,1001 1312.8,1000.8 1312.1,1000.9 1311.4,1001.9 1310.7,1001.6 1310,1002 1309.3,1002 1308.6,1001.3 1307.9,1003 1307.2,1000.8 1306.5,1001.4 1305.8,1001.6 1305.1,1001.8 1304.4,1002.5 1303.7,1003.4 1303,1001.8 1302.3,1002.7 1301.6,1003 1300.9,1001.8 1300.2,1001.7 1299.5,1001.7 1298.8,1002.5 1298.1,1002.1 1297.4,1002.1 1296.7,1003.6 1296,1003.9 1295.3,1002.7 1294.6,1000.2 1293.9,1002.9 1293.2,1002.4 1292.5,1001.9 1291.8,1002.4 1291.1,1003.3 1290.4,1003.2 1289.7,1002.7 1289,1001.7 1288.3,1003.4 1287.6,1004.5 1286.9,1004.8 1286.2,1002.7 1285.5,1003.4 1284.8,1003.6 1284.1,1002.9 1283.4,1003 1282.7,1002.9 1282,1003.1 1281.3,1002.4 1280.6,1003.9 1279.9,1004.5 1279.2,1002.8 1278.5,1003.8 1277.8,1001.6 1277.1,1003.9 1276.4,1003.3 1275.7,1004.7 1275,1003.6 1274.3,1003 1273.6,1003.7 1272.9,1002.4 1272.2,1003.1 1271.5,1003.1 1270.8,1002.8 1270.1,1001.9 1269.4,1004 1268.7,1003.8 1268,1004.8 1267.3,1004.1 1266.6,1004 1265.9,1004 1265.2,1002.6 1264.5,1003.4 1263.8,1004.1 1263.1,1002.7 1262.4,1004.9 1261.7,1003.7 1261,1003.2 1260.3,1003.1 1259.6,1003.6 1258.9,1003.6 1258.2,1003.3 1257.5,1003.6 1256.8,1004.8 1256.1,1003.7 1255.4,1004.1 1254.7,1004.1 1254,1004 1253.3,1003.1 1252.6,1004 1251.9,1003.5 1251.2,1006 1250.5,1003.7 1249.8,1004.8 1249.1,1004.5 1248.4,1005.8 1247.7,1003.3 1247,1003 1246.3,1004.3 1245.6,1003.9 1244.9,1003 1244.2,1002.7 1243.5,1002.9 1242.8,1005.2 1242.1,1003.9 1241.4,1005.3 1240.7,1004.1 1240,1004.6 1239.3,1004.8 1238.6,1003.2 1237.9,1004.1 1237.2,1006 1236.5,1003.3 1235.8,1002.2 1235.1,1003.5 1234.4,1004.4 1233.7,1003.8 1233,1002.3 1232.3,1004.1 1231.6,1004.2 1230.9,1004.4 1230.2,1004.8 1229.5,1004.8 1228.8,1004 1228.1,1004.5 1227.4,1004.7 1226.7,1005.9 1226,1003.4 1225.3,1004.9 1224.6,1005.5 1223.9,1004.8 1223.2,1003.2 1222.5,1006.2 1221.8,1004.3 1221.1,1003.9 1220.4,1006.2 1219.7,1003 1219,1005.4 1218.3,1002.8 1217.6,1003.9 1216.9,1004.6 1216.2,1004.4 1215.5,1004.9 1214.8,1004.8 1214.1,1004.7 1213.4,1005.6" fill="#000"/>
<line x1="1213.6" y1="990.5" x2="1213.6" y2="1004" stroke="#000" stroke-width="1.6"/>
<polyline points="1426.5,996.5 1426.5,964.5 1426.8,1038" fill="none" stroke="#000" stroke-width="1.4" stroke-linejoin="round" stroke-linecap="butt" />
<polygon points="1427,1033.9 1427.6,1034.2 1428.2,1034.2 1428.8,1033.6 1429.4,1035 1430,1034.2 1430.6,1034.4 1431.2,1033.8 1431.8,1036.4 1432.4,1034 1433,1035.5 1433.6,1035.3 1434.2,1034.6 1434.8,1035.6 1435.4,1034.7 1436,1033.9 1436.6,1034.5 1437.2,1034.8 1437.8,1035.5 1438.4,1034.9 1439,1034.7 1439.6,1034.8 1440.2,1034.1 1440.8,1033.6 1441.4,1033.9 1442,1035.2 1442.6,1034.8 1443.2,1033.7 1443.8,1033 1444.4,1032.5 1445,1033.7 1445.6,1034 1446.2,1035.3 1446.9,1035.5 1447.5,1034.9 1448.1,1035.3 1448.7,1035.1 1449.3,1032.8 1449.9,1034.2 1450.5,1035.3 1451.1,1034.2 1451.7,1035.2 1452.3,1033.9 1452.9,1034.4 1453.5,1034.8 1454.1,1034.8 1454.7,1033.8 1455.3,1035.5 1455.9,1034 1456.5,1035.4 1457.1,1034.7 1457.7,1032.7 1458.3,1032.6 1458.9,1035.4 1459.5,1035.7 1460.1,1034.4 1460.7,1034 1461.3,1033.5 1461.9,1033.7 1462.5,1034.7 1463.1,1034.5 1463.7,1033.7 1464.3,1032.9 1464.9,1033.8 1465.5,1035.5 1466.1,1032.4 1466.7,1034.7 1467.3,1034.9 1467.9,1034.1 1468.5,1036.2 1469.1,1033 1469.7,1033.6 1470.3,1033.3 1470.9,1034.9 1471.5,1035.4 1472.1,1034.3 1472.7,1033.1 1473.3,1035 1473.9,1035.8 1474.5,1032.8 1475.1,1034.1 1475.7,1034.3 1476.3,1034.6 1476.9,1034.5 1477.5,1035.8 1478.1,1034.4 1478.7,1034.1 1479.3,1034.7 1479.9,1034.9 1480.5,1033.1 1481.1,1032.5 1481.7,1034.3 1482.3,1035.3 1482.9,1035 1483.5,1033.4 1484.1,1033.8 1484.7,1034.8 1485.3,1036.1 1485.9,1036.4 1486.6,1031.9 1487.2,1033.9 1487.8,1034 1488.4,1034.4 1489,1034.7 1489.6,1035.4 1490.2,1034.3 1490.8,1034.4 1491.4,1034.6 1492,1033.3 1492.6,1036.9 1493.2,1034.2 1493.8,1034 1494.4,1034.7 1495,1036.7 1495.6,1033.7 1496.2,1036 1496.8,1034.2 1497.4,1034.1 1498,1035.7 1498.6,1033 1499.2,1034.8 1499.8,1034.2 1500.4,1034.5 1501,1035.3 1501.6,1034.9 1502.2,1033.2 1502.8,1036.1 1503.4,1034 1504,1035.6 1504.6,1035 1505.2,1036 1505.8,1035.4 1506.4,1035.2 1507,1034.5 1507.6,1033 1508.2,1033.1 1508.8,1035.7 1509.4,1035.7 1510,1035.2 1510.6,1035 1511.2,1034.6 1511.8,1033.3 1512.4,1033.9 1513,1033.4 1513.6,1033.5 1514.2,1032.9 1514.8,1033.8 1515.4,1034.5 1516,1035.5 1516.6,1034.5 1517.2,1034.6 1517.8,1035.2 1518.4,1034.6 1519,1035 1519.6,1035.3 1520.2,1034.3 1520.8,1034.6 1521.4,1034.3 1522,1032.4 1522.6,1033.9 1523.2,1033.9 1523.8,1033.9 1524.4,1033.8 1525,1033.3 1525.6,1033.1 1526.3,1034.2 1526.9,1033.7 1527.5,1032.8 1528.1,1036.9 1528.7,1035.2 1529.3,1033.7 1529.9,1033.7 1530.5,1035 1531.1,1034.8 1531.7,1036 1532.3,1035.1 1532.9,1034.5 1533.5,1034.8 1534.1,1032.9 1534.7,1034.9 1535.3,1035.3 1535.9,1036.1 1536.5,1035.9 1537.1,1034.1 1537.7,1035.9 1538.3,1035.2 1538.9,1035.1 1539.5,1033.6 1540.1,1035.1 1540.7,1033.8 1541.3,1036.1 1541.9,1035.2 1542.5,1034.3 1543.1,1036.5 1543.7,1034.2 1544.3,1033.4 1544.9,1033.4 1545.5,1033.7 1546.1,1033.5 1546.7,1035.9 1547.3,1034.7 1547.9,1033.8 1548.5,1033.1 1549.1,1033.3 1549.7,1032.6 1550.3,1034.4 1550.9,1036 1551.5,1033.8 1552.1,1035.5 1552.7,1036.6 1553.3,1035.1 1553.9,1033.9 1554.5,1034.6 1555.1,1034 1555.7,1034.7 1556.3,1033.1 1556.9,1035.2 1557.5,1033.7 1558.1,1033.9 1558.7,1032.6 1559.3,1034.7 1559.9,1033.7 1560.5,1035.3 1561.1,1034.9 1561.7,1033.4 1562.3,1037.2 1562.9,1036.2 1563.5,1035.1 1564.1,1034 1564.7,1032.6 1565.3,1035.2 1566,1036.1 1566.6,1036 1567.2,1033.2 1567.8,1033.8 1568.4,1033.1 1569,1034.9 1569.6,1032.4 1570.2,1034.6 1570.8,1034.1 1571.4,1035.6 1572,1034.9 1572.6,1036 1573.2,1034.4 1573.8,1034.8 1574.4,1033.5 1575,1033.7 1575.6,1034.4 1576.2,1034 1576.8,1035.4 1577.4,1034 1578,1036.1 1578.6,1034 1579.2,1035.4 1579.8,1033.2 1580.4,1034.9 1581,1034.3 1581.6,1034.4 1582.2,1035.5 1582.8,1033.8 1583.4,1032.4 1584,1032.9 1584.6,1033.2 1585.2,1033.4 1585.8,1034.3 1586.4,1033.4 1587,1033.3 1587.6,1034.1 1588.2,1035 1588.8,1033.1 1589.4,1034.7 1590,1034.1 1590.6,1033.9 1591.2,1034.5 1591.8,1034.6 1592.4,1033.7 1593,1035.2 1593.6,1034.5 1594.2,1032.8 1594.8,1035.3 1595.4,1033.1 1596,1033.5 1596.6,1035.1 1597.2,1033.7 1597.8,1034.9 1598.4,1034.7 1599,1034.4 1599.6,1033.9 1600.2,1032.9 1600.8,1033.4 1601.4,1035 1602,1034.9 1602.6,1036 1603.2,1034 1603.8,1034 1604.4,1034.5 1605,1034.7 1605.7,1033.3 1606.3,1035.5 1606.9,1033.8 1607.5,1036.2 1608.1,1035.7 1608.7,1035.1 1609.3,1033.7 1609.9,1032.4 1610.5,1032.8 1611.1,1035.4 1611.7,1035.7 1612.3,1035.4 1612.9,1035.8 1613.5,1034.5 1614.1,1034.4 1614.7,1032.8 1615.3,1035 1615.9,1032.9 1616.5,1032.2 1617.1,1034.9 1617.7,1034.4 1618.3,1033.7 1618.9,1033.5 1619.5,1035.6 1620.1,1035.1 1620.7,1032.4 1621.3,1034.8 1621.9,1034.4 1622.5,1035.2 1623.1,1036.7 1623.7,1033.4 1624.3,1031.6 1624.9,1033.6 1625.5,1035.1 1626.1,1035.2 1626.7,1036.4 1627.3,1034.7 1627.9,1035.9 1628.5,1035.8 1629.1,1035.5 1629.7,1032.9 1630.3,1033.6 1630.9,1033.6 1631.5,1033.7 1632.1,1034.3 1632.7,1035 1633.3,1034.4 1633.9,1035.8 1634.5,1033.6 1635.1,1036.7 1635.7,1034.2 1636.3,1032.6 1636.9,1035.2 1637.5,1035.8 1638.1,1033.6 1638.7,1035.7 1639.3,1034.8 1639.9,1035.6 1640.5,1033.4 1641.1,1034.6 1641.7,1035.5 1642.3,1034.5 1642.9,1034.6 1643.5,1033.9 1644.1,1034.6 1644.7,1034.7 1645.4,1033.4 1646,1034.4 1646.6,1033.4 1647.2,1033.9 1647.8,1032.8 1648.4,1033 1649,1031.9 1649.6,1035.4 1650.2,1034.2 1650.8,1034 1651.4,1033.1 1652,1032.3 1652.6,1033.6 1653.2,1037.3 1653.8,1036.3 1654.4,1033.2 1655,1033.7 1655.6,1035.8 1656.2,1034.2 1656.8,1034.2 1657.4,1033.9 1658,1033.9 1658.6,1035.8 1659.2,1034.9 1659.8,1033.9 1660.4,1034.1 1661,1035.3 1661.6,1032.8 1662.2,1034.1 1662.8,1035.2 1663.4,1033.4 1664,1033.6 1664.6,1035 1664.6,1041.1 1664,1042 1663.4,1041.5 1662.8,1040.5 1662.2,1041.4 1661.6,1042.9 1661,1042.3 1660.4,1040.9 1659.8,1040.7 1659.2,1040.6 1658.6,1039.5 1658,1044.2 1657.4,1041.3 1656.8,1040.7 1656.2,1041.6 1655.6,1042.5 1655,1040.9 1654.4,1042.5 1653.8,1041.3 1653.2,1042.4 1652.6,1041 1652,1040.8 1651.4,1041.2 1650.8,1040.9 1650.2,1039.4 1649.6,1041.3 1649,1041.1 1648.4,1041.2 1647.8,1041.2 1647.2,1041.9 1646.6,1041.9 1646,1043.5 1645.4,1043.5 1644.7,1042 1644.1,1042.4 1643.5,1042.2 1642.9,1041.9 1642.3,1042.8 1641.7,1043.3 1641.1,1043 1640.5,1041.2 1639.9,1040.4 1639.3,1043 1638.7,1042.5 1638.1,1041.5 1637.5,1041.8 1636.9,1042.2 1636.3,1041.5 1635.7,1041 1635.1,1040.9 1634.5,1039.4 1633.9,1041.2 1633.3,1040.6 1632.7,1040.7 1632.1,1042.1 1631.5,1041.9 1630.9,1040.2 1630.3,1042.2 1629.7,1042.7 1629.1,1040.9 1628.5,1041.1 1627.9,1040.7 1627.3,1041.5 1626.7,1042.2 1626.1,1041.9 1625.5,1041.2 1624.9,1041.2 1624.3,1043.7 1623.7,1041.3 1623.1,1041.5 1622.5,1042.9 1621.9,1040.5 1621.3,1040.5 1620.7,1041.9 1620.1,1041.3 1619.5,1042.2 1618.9,1040.8 1618.3,1039.4 1617.7,1040.3 1617.1,1040.7 1616.5,1041.8 1615.9,1041.9 1615.3,1043.1 1614.7,1041.5 1614.1,1040.9 1613.5,1040.5 1612.9,1041 1612.3,1040 1611.7,1042.3 1611.1,1042.3 1610.5,1042.3 1609.9,1040.8 1609.3,1040.9 1608.7,1041.8 1608.1,1041.3 1607.5,1040.4 1606.9,1042.9 1606.3,1041.3 1605.7,1041.8 1605,1040.7 1604.4,1041.9 1603.8,1041.5 1603.2,1040.4 1602.6,1041.8 1602,1042.1 1601.4,1040.4 1600.8,1042.3 1600.2,1043.6 1599.6,1041 1599,1041.7 1598.4,1040.9 1597.8,1042.7 1597.2,1039.5 1596.6,1041.8 1596,1040.9 1595.4,1042.5 1594.8,1042.9 1594.2,1040 1593.6,1042.5 1593,1041.8 1592.4,1041.4 1591.8,1042 1591.2,1041.4 1590.6,1041.4 1590,1042.9 1589.4,1041.7 1588.8,1041.4 1588.2,1040.7 1587.6,1041.8 1587,1042.2 1586.4,1040 1585.8,1039.8 1585.2,1041.6 1584.6,1042 1584,1043.4 1583.4,1042 1582.8,1041.9 1582.2,1041.7 1581.6,1042.2 1581,1040.7 1580.4,1040.4 1579.8,1042.4 1579.2,1040.5 1578.6,1041.8 1578,1042.3 1577.4,1042.3 1576.8,1042.2 1576.2,1042.5 1575.6,1041.9 1575,1042 1574.4,1042 1573.8,1041.2 1573.2,1043.2 1572.6,1041.9 1572,1042.1 1571.4,1039.2 1570.8,1041.3 1570.2,1041.4 1569.6,1041.7 1569,1041 1568.4,1040.8 1567.8,1042 1567.2,1042 1566.6,1041.4 1566,1041.7 1565.3,1042 1564.7,1039.8 1564.1,1042 1563.5,1042.1 1562.9,1042.6 1562.3,1040.2 1561.7,1042.5 1561.1,1040.6 1560.5,1040.8 1559.9,1040.9 1559.3,1040.5 1558.7,1042.9 1558.1,1041.6 1557.5,1041.9 1556.9,1042.7 1556.3,1043.4 1555.7,1041.9 1555.1,1041.5 1554.5,1043.4 1553.9,1042.7 1553.3,1039.8 1552.7,1044.3 1552.1,1040.4 1551.5,1040.8 1550.9,1042.5 1550.3,1042.1 1549.7,1043.1 1549.1,1040.9 1548.5,1042.8 1547.9,1042.8 1547.3,1041.8 1546.7,1042.9 1546.1,1041.5 1545.5,1043 1544.9,1041.9 1544.3,1043.6 1543.7,1039.7 1543.1,1042.8 1542.5,1041.7 1541.9,1041.8 1541.3,1041.9 1540.7,1040.9 1540.1,1041.8 1539.5,1040.6 1538.9,1040.2 1538.3,1042.8 1537.7,1041.9 1537.1,1043.8 1536.5,1042.1 1535.9,1042 1535.3,1041.9 1534.7,1042.6 1534.1,1041.2 1533.5,1041.4 1532.9,1040.4 1532.3,1039.5 1531.7,1041.8 1531.1,1041.9 1530.5,1042.7 1529.9,1043.2 1529.3,1040.8 1528.7,1043.3 1528.1,1041 1527.5,1041.5 1526.9,1040.5 1526.3,1040.3 1525.6,1041 1525,1042.7 1524.4,1041.1 1523.8,1042.6 1523.2,1041.3 1522.6,1042.3 1522,1042.5 1521.4,1043.1 1520.8,1039.8 1520.2,1040.9 1519.6,1042.4 1519,1039.4 1518.4,1042 1517.8,1043.1 1517.2,1040.5 1516.6,1042.9 1516,1040.9 1515.4,1041.6 1514.8,1042.3 1514.2,1042 1513.6,1042.9 1513,1042.3 1512.4,1043.2 1511.8,1042 1511.2,1041.6 1510.6,1041.3 1510,1040.9 1509.4,1041 1508.8,1041.9 1508.2,1041.2 1507.6,1042 1507,1041.1 1506.4,1042.5 1505.8,1041.9 1505.2,1040.8 1504.6,1040.3 1504,1042.7 1503.4,1041.5 1502.8,1041.3 1502.2,1041.9 1501.6,1040.9 1501,1042.5 1500.4,1042.3 1499.8,1041 1499.2,1040.6 1498.6,1041 1498,1039.8 1497.4,1040.3 1496.8,1043.2 1496.2,1041.6 1495.6,1041.1 1495,1040.4 1494.4,1040.7 1493.8,1042.9 1493.2,1041.7 1492.6,1041.1 1492,1041.9 1491.4,1042 1490.8,1041.3 1490.2,1041 1489.6,1041.7 1489,1041.2 1488.4,1043.1 1487.8,1042.9 1487.2,1041.3 1486.6,1042.7 1485.9,1041.3 1485.3,1042.2 1484.7,1040.5 1484.1,1041.3 1483.5,1042 1482.9,1039.6 1482.3,1041.1 1481.7,1042.2 1481.1,1041.9 1480.5,1039.8 1479.9,1042.2 1479.3,1042.5 1478.7,1043 1478.1,1043.2 1477.5,1041.8 1476.9,1040.9 1476.3,1040.7 1475.7,1042.6 1475.1,1042.2 1474.5,1041.7 1473.9,1040.4 1473.3,1040.6 1472.7,1041.8 1472.1,1041.9 1471.5,1042.7 1470.9,1041.9 1470.3,1040.8 1469.7,1041.6 1469.1,1042.6 1468.5,1041.5 1467.9,1039.8 1467.3,1040 1466.7,1042.5 1466.1,1041.5 1465.5,1043.3 1464.9,1041.6 1464.3,1042.3 1463.7,1042 1463.1,1039.8 1462.5,1043.1 1461.9,1039.8 1461.3,1040.3 1460.7,1041.7 1460.1,1040.8 1459.5,1040.9 1458.9,1043.2 1458.3,1041.7 1457.7,1044.1 1457.1,1040.8 1456.5,1041.7 1455.9,1041.2 1455.3,1042.6 1454.7,1042.5 1454.1,1040.9 1453.5,1041.2 1452.9,1041.8 1452.3,1041.9 1451.7,1040.1 1451.1,1042.1 1450.5,1041.2 1449.9,1042 1449.3,1042.3 1448.7,1041.4 1448.1,1043.4 1447.5,1041.7 1446.9,1040.8 1446.2,1041.9 1445.6,1040.2 1445,1042 1444.4,1042.2 1443.8,1040.9 1443.2,1042.7 1442.6,1041.1 1442,1042.5 1441.4,1041.7 1440.8,1041.4 1440.2,1042.9 1439.6,1039.8 1439,1043.1 1438.4,1041.8 1437.8,1040.7 1437.2,1040.5 1436.6,1041.5 1436,1040.3 1435.4,1042.2 1434.8,1040.8 1434.2,1041.1 1433.6,1040.6 1433,1041.8 1432.4,1041 1431.8,1042.9 1431.2,1041.5 1430.6,1043.2 1430,1040.9 1429.4,1043.3 1428.8,1041.5 1428.2,1042.4 1427.6,1040.1 1427,1041.3" fill="#000"/>
<polyline points="1664.6,1038.5 1665,1085" fill="none" stroke="#000" stroke-width="1.8" stroke-linejoin="round" stroke-linecap="butt" />
<line x1="1437.4" y1="1038" x2="1437.4" y2="1029" stroke="#000" stroke-width="1.6"/>
<line x1="1503.8" y1="1047" x2="1503.8" y2="1028" stroke="#000" stroke-width="1.6"/>
<line x1="1588" y1="1038" x2="1588" y2="1021.5" stroke="#000" stroke-width="1.6"/>
<line x1="1592" y1="1038" x2="1592" y2="1031" stroke="#000" stroke-width="1.6"/>
<line x1="1604" y1="1038" x2="1604" y2="1030" stroke="#000" stroke-width="1.6"/>
<line x1="1624" y1="1038" x2="1624" y2="1030" stroke="#000" stroke-width="1.6"/>
<line x1="1632.4" y1="1038" x2="1632.4" y2="1021.5" stroke="#000" stroke-width="1.6"/>
<polyline points="1126.6,1085 1127.4,1024.4" fill="none" stroke="#1414f0" stroke-width="3.0" stroke-linejoin="round" stroke-linecap="butt" />
<polygon points="1127.4,1022.2 1128.2,1021.3 1129,1021.4 1129.7,1020.7 1130.5,1019.3 1131.3,1019 1132,1020 1132.8,1019.1 1133.5,1019.3 1134.2,1019.5 1135,1017.9 1135.7,1017.8 1136.4,1018.9 1137.2,1017.5 1137.9,1017.5 1138.6,1017.7 1139.3,1017.9 1140.1,1018.2 1140.8,1017.1 1141.5,1017.9 1142.3,1017.6 1143,1016.9 1143.7,1016 1144.4,1018.4 1145.1,1016.6 1145.8,1016.6 1146.5,1016.8 1147.2,1015.9 1147.9,1017.6 1148.6,1018.5 1149.3,1017.8 1150,1017.5 1150.7,1016.8 1151.4,1016.9 1152.1,1016.8 1152.8,1017.3 1153.5,1017.2 1154.2,1018 1154.9,1016.4 1155.6,1016.5 1156.3,1016.5 1157,1017.2 1157.7,1018.3 1158.4,1016.9 1159.1,1016.3 1159.8,1016.9 1160.5,1017.4 1161.2,1017.5 1161.9,1018.5 1162.6,1017.9 1163.3,1017.2 1164,1016.8 1164.7,1016.8 1165.4,1016.4 1166.1,1016.6 1166.8,1016.4 1167.5,1016.9 1168.2,1017.2 1168.9,1017.2 1169.6,1017.6 1170.3,1016.9 1171,1016.5 1171.7,1015.2 1172.4,1017.6 1173.2,1017.5 1173.9,1017.3 1174.6,1017.5 1175.3,1016.1 1176,1017.7 1176.7,1016.5 1177.4,1016.5 1178.1,1016.4 1178.8,1016.1 1179.5,1017.3 1180.2,1017.5 1180.9,1016 1181.6,1015.7 1182.3,1017.8 1183,1015.9 1183.7,1016 1184.4,1017 1185.1,1017.2 1185.8,1016.1 1186.5,1016.2 1187.2,1016.6 1187.9,1018.2 1188.6,1017.7 1189.3,1016.4 1190,1017.7 1190.7,1016.4 1191.4,1016.2 1192.1,1016.7 1192.8,1015.2 1193.5,1015.9 1194.2,1015.5 1194.9,1016 1195.6,1016.4 1196.3,1016.6 1197,1015.8 1197.7,1016.4 1198.4,1014.7 1199.1,1015.7 1199.8,1017.9 1200.5,1015.9 1201.2,1015.9 1201.9,1015.7 1202.6,1014.9 1203.3,1016 1204,1016.6 1204.7,1016.4 1205.4,1017 1206.1,1016.7 1206.8,1017.8 1207.5,1016.2 1208.2,1014.7 1208.9,1015.7 1209.6,1016.1 1210.3,1015 1211,1016.2 1211.7,1016.6 1212.4,1016.5 1213.1,1017.6 1213.8,1016.9 1214.5,1015.6 1215.2,1016.6 1215.9,1016.7 1216.6,1016 1217.3,1017.1 1218,1016.2 1218.7,1014.7 1219.4,1015.6 1220.1,1015.7 1220.8,1015.8 1221.5,1016.5 1222.2,1016.2 1222.9,1016.2 1223.6,1017.2 1224.3,1017.1 1225,1014.2 1225.7,1015.9 1226.4,1015.4 1227.1,1015.9 1227.8,1015.8 1228.5,1016.7 1229.2,1015.6 1229.9,1015.5 1230.6,1015.9 1231.3,1015.8 1232.1,1015.7 1232.8,1015.5 1233.5,1016.8 1234.2,1016.8 1234.9,1015.9 1235.6,1015.3 1236.3,1016.9 1237,1016.1 1237.7,1016.1 1238.4,1015.6 1239.1,1016.9 1239.8,1015.4 1240.5,1015.8 1241.2,1016 1241.9,1015.5 1242.6,1015.1 1243.3,1015.4 1244,1017.6 1244.7,1016.1 1245.4,1016.1 1246.1,1014.1 1246.8,1015.1 1247.5,1015.9 1248.2,1015.7 1248.9,1016.1 1249.6,1015.9 1250.3,1015.2 1251,1016.3 1251.7,1015.3 1252.4,1015.9 1253.1,1015.1 1253.8,1015.4 1254.5,1015.4 1255.2,1015.8 1255.9,1016.2 1256.6,1015.8 1257.3,1014.6 1258,1015.9 1258.7,1016.4 1259.4,1014.8 1260.1,1016.2 1260.8,1016.2 1261.5,1014.6 1262.2,1014.5 1262.9,1015.9 1263.6,1015.4 1264.3,1016.7 1265,1014.6 1265.7,1015.6 1266.4,1015.6 1267.1,1015.6 1267.8,1015.8 1268.5,1015.9 1269.2,1015 1269.9,1013.7 1270.6,1015.4 1271.3,1015.3 1272,1014.7 1272.7,1014.8 1273.4,1014.7 1274.1,1015.5 1274.8,1015.9 1275.5,1015.8 1276.2,1014.7 1276.9,1015.8 1277.6,1014.6 1278.3,1016.6 1279,1016.2 1279.7,1016.5 1280.4,1015.5 1281.1,1014 1281.8,1015.7 1282.5,1015.5 1283.2,1015 1283.9,1015.2 1284.6,1015 1285.3,1015.3 1286,1015 1286.7,1014.6 1287.4,1015.7 1288.1,1015.2 1288.8,1016 1289.5,1014.1 1290.2,1014.8 1290.9,1015.2 1291.7,1015 1292.4,1014.5 1293.1,1013.6 1293.8,1015.7 1294.5,1014.7 1295.2,1015.6 1295.9,1015 1296.6,1014 1297.3,1015.1 1298,1014.1 1298.7,1014.7 1299.4,1014.8 1300.1,1015.6 1300.8,1014.8 1301.5,1015.3 1302.2,1014.5 1302.9,1015.8 1303.6,1013.9 1304.3,1014.2 1305,1015.5 1305.7,1014.7 1306.4,1013.6 1307.1,1014.4 1307.8,1014.2 1308.5,1013.8 1309.2,1014.8 1309.9,1015 1310.6,1014 1311.3,1015.6 1312,1014.8 1312.7,1015.1 1313.4,1014.4 1314.1,1013.6 1314.8,1013.7 1315.5,1014.5 1316.2,1013.7 1316.9,1014.3 1317.6,1014.7 1318.3,1013.1 1319,1014.6 1319.7,1014.9 1320.4,1013.7 1321.1,1013.9 1321.8,1014.1 1322.5,1013.9 1323.2,1014.3 1323.9,1014.7 1324.6,1014.1 1325.3,1015.2 1326,1015.8 1326.7,1015.9 1327.4,1014.6 1328.1,1015.4 1328.8,1013.9 1329.5,1014.7 1330.2,1013.8 1330.9,1014.5 1331.6,1014 1332.3,1013.5 1333,1014.1 1333.7,1012.8 1334.4,1015.6 1335.1,1013 1335.8,1015 1336.5,1013.8 1337.2,1013.7 1337.9,1013.7 1338.6,1013.8 1339.3,1013.4 1340,1015 1340.7,1014.2 1341.4,1013.6 1342.1,1013.7 1342.8,1012.9 1343.5,1013.3 1344.2,1013.7 1344.9,1015 1345.6,1013.6 1346.3,1014.6 1347,1014.5 1347.7,1014.2 1348.4,1013.1 1349.1,1014.2 1349.8,1013.7 1350.6,1014 1351.3,1013.4 1352,1014.4 1352.7,1013.7 1353.4,1014 1354.1,1013.8 1354.8,1014.6 1355.5,1014.5 1356.2,1014.3 1356.9,1013.3 1357.6,1013.4 1358.3,1013.6 1359,1014.9 1359.7,1014.7 1360.4,1012.2 1361.1,1012.9 1361.8,1013 1362.5,1012.6 1363.2,1013.3 1363.9,1013.9 1364.6,1013.3 1365.3,1014.2 1366,1013.2 1366.7,1013.7 1367.4,1012.9 1368.1,1014 1368.8,1013.5 1369.5,1013.6 1370.2,1013.7 1370.9,1013.6 1371.6,1013.2 1372.3,1014 1373,1014.1 1373.7,1013.2 1374.4,1013.7 1375.1,1014.4 1375.8,1013.8 1376.5,1013.1 1377.2,1012.7 1377.9,1013.7 1378.6,1012.9 1379.3,1014.2 1380,1014.4 1380.7,1012.1 1381.4,1013.6 1382.1,1013.5 1382.8,1013.2 1383.5,1012.5 1384.2,1013.2 1384.9,1014.4 1385.6,1012.8 1386.3,1014.1 1387,1012.7 1387.7,1015.1 1388.4,1013.9 1389.1,1013.6 1389.8,1013.9 1390.5,1013.9 1391.2,1014 1391.9,1013.9 1392.6,1012.5 1393.3,1013 1394,1013.3 1394.7,1013.7 1395.4,1013.8 1396.1,1012.5 1396.8,1012.5 1397.5,1013.4 1398.2,1011.6 1398.9,1012.5 1399.6,1013.2 1400.3,1013.7 1401,1013.7 1401.7,1013.9 1402.4,1012.8 1403.1,1014.3 1403.8,1013.4 1404.5,1013.7 1405.2,1014.7 1405.9,1014.2 1406.6,1013.8 1407.3,1012.8 1408,1014.4 1408.7,1014 1409.4,1013.1 1410.1,1013.2 1410.8,1012 1411.5,1012.8 1412.2,1013.1 1412.9,1013 1413.6,1012.8 1414.3,1013.5 1415,1012.9 1415.7,1012.7 1416.4,1013.3 1417.1,1014.2 1417.8,1013.6 1418.5,1013.9 1419.2,1013.7 1419.9,1013.2 1420.6,1013 1421.3,1013.7 1422,1012.6 1422.7,1013.5 1423.4,1013.5 1424.1,1013.5 1424.8,1014.3 1425.5,1013.6 1426.2,1013.5 1426.9,1013.3 1427.6,1013.5 1428.3,1013.4 1429,1013.8 1429.7,1013.6 1430.4,1013.4 1431.1,1013.4 1431.8,1013.4 1432.5,1015.1 1433.2,1014 1433.9,1013.3 1434.6,1012.4 1435.4,1012.6 1436.1,1013.6 1436.8,1013.7 1437.5,1013.8 1438.2,1013.5 1438.9,1014.2 1439.6,1013.7 1440.3,1014.2 1441,1013.7 1441.7,1014.2 1442.4,1013.5 1443.1,1012.6 1443.8,1013.1 1444.5,1012.5 1445.2,1012.7 1445.9,1012.6 1446.6,1012.2 1447.3,1011.5 1448,1013.4 1448.7,1014.8 1449.4,1014.1 1450.1,1012.5 1450.8,1013.9 1451.5,1013.2 1452.2,1012.3 1452.9,1013.7 1453.6,1013.4 1454.3,1012.6 1455,1013.6 1455.7,1013 1456.4,1013.8 1457.1,1013.3 1457.8,1013.5 1458.5,1013.2 1459.2,1013.9 1459.9,1013.6 1460.6,1013.4 1461.3,1013.8 1462,1013.6 1462.7,1012.7 1463.4,1013.5 1464.1,1012.9 1464.8,1014.1 1465.5,1013.7 1466.2,1012.6 1466.9,1013.8 1467.6,1012.3 1468.3,1012.9 1469,1013.6 1469.7,1013.7 1470.4,1012.8 1471.1,1013.7 1471.8,1013.8 1472.5,1012.9 1473.2,1012.7 1473.9,1013.1 1474.6,1012.7 1475.3,1013.5 1476,1014 1476.7,1012.5 1477.4,1013.4 1478.1,1013 1478.8,1014 1479.5,1012.4 1480.2,1012 1480.9,1013.1 1481.6,1013.7 1482.3,1012.4 1483,1012.9 1483.7,1012.7 1484.4,1014 1485.1,1012.8 1485.8,1013.2 1486.5,1012.9 1487.2,1013.2 1487.9,1013.6 1488.6,1014.5 1489.3,1013.6 1490,1012.5 1490.7,1012.6 1491.4,1012.7 1492.1,1012.6 1492.8,1013.5 1493.5,1012.5 1494.2,1013.5 1494.9,1014.3 1495.6,1013.2 1496.3,1013.4 1497,1012.1 1497.7,1013 1498.4,1014.1 1499.1,1013.8 1499.8,1013.2 1500.5,1014.3 1501.2,1014.1 1501.9,1012.3 1502.6,1013.5 1503.3,1013.6 1504,1013.8 1504.7,1012.9 1505.4,1013.3 1506.1,1013.5 1506.8,1011.2 1507.5,1012.8 1508.2,1014 1508.9,1013 1509.6,1012.7 1510.3,1012.9 1511,1013.5 1511.7,1012.8 1512.4,1012.4 1513.1,1013.4 1513.8,1014.3 1514.5,1013.8 1515.2,1013 1515.9,1013.3 1516.6,1013.7 1517.3,1013.2 1518,1014 1518.7,1012.2 1519.4,1011.8 1520.1,1012.5 1520.8,1011.9 1521.5,1013 1522.2,1012.8 1522.9,1012.8 1523.6,1013.9 1524.3,1013.4 1525,1012.6 1525.7,1013.6 1526.4,1013.6 1527.1,1013 1527.8,1013.7 1528.5,1011.5 1529.2,1012 1529.9,1014.1 1530.6,1013.2 1531.3,1012.2 1532,1012.3 1532.7,1013.4 1533.4,1012.6 1534.1,1014.1 1534.8,1013 1535.5,1013.5 1536.2,1014.3 1536.9,1013.2 1537.6,1014 1538.3,1013 1539,1013.5 1539.7,1013.1 1540.4,1012.1 1541.1,1012.8 1541.8,1013.3 1542.5,1013.5 1543.2,1012.7 1543.9,1013.1 1544.6,1012.5 1545.4,1013.3 1546.1,1012.1 1546.8,1013.6 1547.5,1012.9 1548.2,1013.3 1548.9,1012.2 1549.6,1012.4 1550.3,1013.9 1551,1014.3 1551.7,1013.9 1552.4,1013.3 1553.1,1012.5 1553.8,1012.6 1554.5,1013.3 1555.2,1013.3 1555.9,1012.8 1556.6,1013.5 1557.3,1012.6 1558,1012.7 1558.7,1013.4 1559.4,1013.1 1560.1,1012.9 1560.8,1012.7 1561.5,1013.6 1562.2,1013.3 1562.9,1012.6 1563.6,1013.7 1564.3,1013 1565,1013.4 1565.7,1014.1 1566.4,1013.6 1567.1,1013.6 1567.8,1013.1 1568.5,1012.5 1569.2,1014.4 1569.9,1014.5 1570.6,1011 1571.3,1013.2 1572,1013.6 1572.7,1013.4 1573.4,1012.9 1574.1,1013.8 1574.8,1012.5 1575.5,1013.3 1576.2,1013.8 1576.9,1012.5 1577.6,1013.2 1578.3,1011.8 1579,1012.9 1579.7,1013.2 1580.4,1014.3 1581.1,1013.8 1581.8,1012.7 1582.5,1013.1 1583.2,1012.9 1583.9,1013.7 1584.6,1012.1 1585.3,1011.7 1586,1013.7 1586.7,1011.7 1587.4,1013 1588.1,1013.3 1588.8,1013.5 1589.5,1013.7 1590.2,1013.1 1590.9,1012.8 1591.6,1013.4 1592.3,1013.6 1593,1013.4 1593.7,1014.5 1594.4,1013.3 1595.1,1014 1595.8,1014.8 1596.5,1014.1 1597.2,1012.9 1597.9,1012.3 1598.6,1013.6 1599.3,1013.1 1600,1012.4 1600.7,1013.5 1601.4,1013.1 1602.1,1013.1 1602.8,1013.9 1603.5,1013.1 1604.2,1014.4 1604.9,1013.5 1605.6,1013.3 1606.3,1012.2 1607,1013.1 1607.7,1014.2 1608.4,1012.3 1609.1,1013.8 1609.8,1011.6 1610.5,1013.1 1611.2,1014.2 1611.9,1013.6 1612.6,1012.6 1613.3,1014.5 1614,1012.9 1614.7,1014.6 1615.4,1013.1 1616.1,1011.9 1616.8,1013.3 1617.5,1013.1 1618.2,1013.1 1618.9,1013.4 1619.6,1012.2 1620.3,1012.3 1621,1013.3 1621.7,1013.4 1622.4,1013.3 1623.1,1013.4 1623.8,1011.7 1624.5,1012.8 1625.2,1014.2 1625.9,1012.2 1626.6,1013.7 1627.3,1012.5 1628,1011.9 1628.7,1013.2 1629.4,1011.6 1630.1,1013.1 1630.9,1012.6 1631.6,1012.4 1632.3,1013.5 1633,1012.1 1633.7,1012.1 1634.4,1013 1635.1,1013.8 1635.8,1012.8 1636.5,1012.7 1637.2,1013.4 1637.9,1014.2 1638.6,1013.9 1639.3,1012 1640,1012.4 1640.7,1012.4 1641.4,1014.4 1642.1,1012.9 1642.8,1014.1 1643.5,1013.7 1644.2,1013.5 1644.9,1013.9 1645.6,1013.6 1646.3,1013.2 1647,1013.3 1647.7,1012.5 1648.4,1014.8 1649.1,1012.6 1649.8,1013.5 1650.5,1014.2 1651.2,1012.9 1651.9,1012.9 1652.6,1013.8 1653.3,1013.4 1654,1012.7 1654.7,1012 1655.4,1013.8 1656.1,1012.5 1656.8,1012.1 1657.5,1013.7 1658.2,1013.5 1658.9,1013.3 1659.6,1011.6 1660.3,1012.8 1661,1012.8 1661.7,1014 1662.4,1011.6 1663.1,1012.4 1663.8,1013.3 1664.5,1012.4 1665.2,1014 1665.9,1014 1666.6,1013.2 1667.3,1013.1 1668,1013.2 1668.7,1012.9 1669.4,1014.2 1670.1,1013.2 1670.8,1012.3 1671.5,1013.9 1672.2,1012.7 1672.9,1013.9 1673.6,1011.4 1674.3,1011.8 1675,1013.2 1675.7,1012.6 1676.4,1013.3 1677.1,1012.8 1677.8,1013.6 1678.5,1012.8 1679.2,1012.6 1679.9,1012.5 1680.6,1013.5 1681.3,1013.2 1682,1012.2 1682.7,1013.2 1683.4,1012.4 1684.1,1012.6 1684.8,1013.3 1685.5,1013.4 1686.2,1012.8 1686.9,1013.3 1687.6,1012.2 1688.3,1013.2 1689,1014.1 1689.7,1011.9 1690.4,1012.9 1691.1,1013.2 1691.9,1012.7 1692.6,1012.9 1693.3,1012.9 1694,1011.7 1694.7,1012.9 1695.4,1013.7 1696.1,1013.1 1696.8,1013.6 1697.5,1013.2 1698.2,1013.6 1698.9,1014 1699.6,1012.5 1700.3,1013.5 1701,1013 1701.7,1013.6 1702.4,1013.6 1703.1,1013.7 1703.8,1013.1 1704.5,1013.6 1705.2,1012.7 1705.9,1012.8 1706.6,1013.6 1707.3,1013.2 1708,1013.5 1708.7,1014.2 1709.4,1013.8 1710.1,1013 1710.8,1013.4 1711.5,1013.4 1712.2,1012.8 1712.9,1012.4 1713.6,1012 1714.3,1013.9 1715,1013.4 1715.7,1013.1 1716.4,1013.5 1717.1,1013.5 1717.8,1012.7 1718.5,1013.9 1719.2,1013.6 1719.9,1012.3 1720.6,1013.6 1721.3,1013.5 1722,1012.6 1722.7,1013.7 1723.4,1011.9 1724.1,1012 1724.8,1012.8 1725.5,1011.7 1726.2,1012.9 1726.9,1012.3 1727.6,1014.2 1728.3,1013.5 1729,1012.9 1729.7,1013.1 1730.4,1012.7 1731.1,1012.8 1731.8,1012.5 1732.5,1014.3 1733.2,1012.6 1733.9,1012.9 1734.6,1013.1 1735.3,1013.4 1736,1013.5 1736.7,1013 1737.4,1012.6 1738.1,1012.6 1738.8,1013.9 1739.5,1012.9 1740.2,1013.7 1740.9,1012.1 1741.6,1013.4 1742.3,1013.2 1743,1013.5 1743.7,1013.4 1744.4,1012.9 1745.1,1012.3 1745.8,1011.6 1746.5,1012.9 1747.2,1013.4 1747.9,1013.4 1748.6,1013 1749.3,1012.6 1750,1013.8 1750.7,1014.8 1751.4,1012.3 1752.1,1014.7 1752.9,1013.7 1753.6,1011.8 1754.3,1013 1755,1012.6 1755.7,1012.7 1756.4,1013.3 1757.1,1013.4 1757.8,1012.8 1758.5,1013.4 1759.2,1012.1 1759.9,1012.7 1760.6,1014.3 1761.3,1013.3 1762,1012.6 1762.7,1013.2 1763.4,1011.9 1764.1,1012.2 1764.8,1013.3 1765.5,1013.5 1766.2,1013.5 1766.9,1013.2 1767.6,1013.8 1768.3,1011.5 1769,1013.7 1769.7,1013.3 1770.4,1013.7 1771.1,1014.5 1771.8,1014.3 1772.5,1012.2 1773.2,1012.9 1773.9,1013.3 1774.6,1012.2 1775.3,1013.1 1776,1012.3 1776.7,1013.5 1777.4,1012.6 1778.1,1012.1 1778.8,1012.7 1779.5,1014.6 1780.2,1014.2 1780.9,1013.5 1781.6,1013 1782.3,1012.9 1783,1012.9 1783,1019.2 1782.3,1018.6 1781.6,1018.7 1780.9,1020.6 1780.2,1019.7 1779.5,1019.3 1778.8,1017.8 1778.1,1018.4 1777.4,1018.9 1776.7,1019.9 1776,1019.4 1775.3,1018.6 1774.6,1019.5 1773.9,1018.8 1773.2,1019.8 1772.5,1018.5 1771.8,1019.3 1771.1,1018.6 1770.4,1019.4 1769.7,1019.4 1769,1018.5 1768.3,1018.7 1767.6,1018.3 1766.9,1018.9 1766.2,1018 1765.5,1019.4 1764.8,1018.7 1764.1,1018.8 1763.4,1018.3 1762.7,1018 1762,1018.3 1761.3,1018.7 1760.6,1019.2 1759.9,1018.1 1759.2,1018.7 1758.5,1018.6 1757.8,1017.9 1757.1,1017.7 1756.4,1019.6 1755.7,1018.3 1755,1019.5 1754.3,1019 1753.6,1018.3 1752.9,1019.9 1752.1,1019 1751.4,1019.3 1750.7,1018.9 1750,1018.9 1749.3,1018.9 1748.6,1020.5 1747.9,1019.5 1747.2,1020.4 1746.5,1018.5 1745.8,1019.8 1745.1,1019.8 1744.4,1018.7 1743.7,1019.3 1743,1019.5 1742.3,1018.7 1741.6,1018.2 1740.9,1019.6 1740.2,1018.5 1739.5,1017.9 1738.8,1017.9 1738.1,1018 1737.4,1020.4 1736.7,1017.9 1736,1019.3 1735.3,1018.3 1734.6,1019.2 1733.9,1019.5 1733.2,1018.4 1732.5,1019.6 1731.8,1019.4 1731.1,1018.9 1730.4,1019.2 1729.7,1017.8 1729,1019.6 1728.3,1019 1727.6,1019.4 1726.9,1019.8 1726.2,1021.1 1725.5,1019.4 1724.8,1019.3 1724.1,1018.9 1723.4,1017.8 1722.7,1018.5 1722,1019.5 1721.3,1019 1720.6,1019.3 1719.9,1019.4 1719.2,1018.8 1718.5,1019.4 1717.8,1018.8 1717.1,1018.6 1716.4,1018.2 1715.7,1018.8 1715,1019.2 1714.3,1019.5 1713.6,1020.3 1712.9,1017 1712.2,1018.7 1711.5,1019.3 1710.8,1018.8 1710.1,1019.1 1709.4,1018.9 1708.7,1020.2 1708,1019.3 1707.3,1019.5 1706.6,1018.8 1705.9,1018.4 1705.2,1019.2 1704.5,1016.9 1703.8,1018.6 1703.1,1018.2 1702.4,1019.6 1701.7,1019 1701,1018.7 1700.3,1018.4 1699.6,1020.1 1698.9,1018.1 1698.2,1018.5 1697.5,1019.7 1696.8,1019.6 1696.1,1019.2 1695.4,1018.2 1694.7,1019.7 1694,1019.5 1693.3,1019.5 1692.6,1018 1691.9,1020.8 1691.1,1018.3 1690.4,1018.2 1689.7,1018.7 1689,1018.4 1688.3,1018.3 1687.6,1018.9 1686.9,1019.1 1686.2,1018.3 1685.5,1018.8 1684.8,1017.1 1684.1,1018.7 1683.4,1020 1682.7,1019.1 1682,1019.4 1681.3,1019 1680.6,1018.2 1679.9,1018.7 1679.2,1019.3 1678.5,1019.2 1677.8,1018.7 1677.1,1019.2 1676.4,1019.6 1675.7,1018.2 1675,1018.5 1674.3,1018 1673.6,1017.7 1672.9,1019.4 1672.2,1018.6 1671.5,1019.5 1670.8,1018.3 1670.1,1018.7 1669.4,1018.7 1668.7,1018.5 1668,1019.3 1667.3,1018.6 1666.6,1019.3 1665.9,1018.4 1665.2,1019.5 1664.5,1018.5 1663.8,1018.6 1663.1,1018.8 1662.4,1019.8 1661.7,1018 1661,1018.5 1660.3,1019 1659.6,1018.6 1658.9,1018.8 1658.2,1020 1657.5,1018.5 1656.8,1019.4 1656.1,1019.6 1655.4,1018.6 1654.7,1019.8 1654,1018 1653.3,1017.7 1652.6,1019.3 1651.9,1018.5 1651.2,1018.7 1650.5,1018.6 1649.8,1018.9 1649.1,1018.1 1648.4,1018.2 1647.7,1018.9 1647,1018.6 1646.3,1018.4 1645.6,1018.6 1644.9,1019.8 1644.2,1019.2 1643.5,1018.8 1642.8,1019.3 1642.1,1019.8 1641.4,1019 1640.7,1019 1640,1018.5 1639.3,1018.9 1638.6,1019.5 1637.9,1018.2 1637.2,1019.6 1636.5,1018.8 1635.8,1018.1 1635.1,1018.5 1634.4,1019.2 1633.7,1018.5 1633,1019.6 1632.3,1019.6 1631.6,1019.5 1630.9,1019 1630.1,1018.5 1629.4,1018 1628.7,1018.7 1628,1018.1 1627.3,1019.2 1626.6,1018.6 1625.9,1019.3 1625.2,1019 1624.5,1018.3 1623.8,1018.6 1623.1,1019.2 1622.4,1019 1621.7,1019 1621,1018.1 1620.3,1019.6 1619.6,1018.6 1618.9,1019 1618.2,1019.2 1617.5,1019.3 1616.8,1019.7 1616.1,1018.4 1615.4,1019.2 1614.7,1017.6 1614,1018.5 1613.3,1019 1612.6,1019.8 1611.9,1018.1 1611.2,1018.3 1610.5,1018.3 1609.8,1020.7 1609.1,1018.1 1608.4,1018.7 1607.7,1019.8 1607,1019.2 1606.3,1020 1605.6,1018.9 1604.9,1019.9 1604.2,1019.2 1603.5,1020.2 1602.8,1018.8 1602.1,1019.5 1601.4,1019.7 1600.7,1019.1 1600,1018.7 1599.3,1018.5 1598.6,1019 1597.9,1018.4 1597.2,1018.8 1596.5,1018.8 1595.8,1018.7 1595.1,1018.6 1594.4,1018.3 1593.7,1019.2 1593,1019.1 1592.3,1017.8 1591.6,1019.3 1590.9,1019.5 1590.2,1019.4 1589.5,1019.3 1588.8,1018.4 1588.1,1018.7 1587.4,1020 1586.7,1018.8 1586,1017.6 1585.3,1018.4 1584.6,1017.8 1583.9,1018.8 1583.2,1018.9 1582.5,1019.8 1581.8,1019.2 1581.1,1017.8 1580.4,1018.6 1579.7,1018.4 1579,1018.7 1578.3,1019.7 1577.6,1019.4 1576.9,1018.7 1576.2,1020.4 1575.5,1019.1 1574.8,1018.4 1574.1,1018.3 1573.4,1020.1 1572.7,1017 1572,1020.6 1571.3,1018.6 1570.6,1020 1569.9,1020.2 1569.2,1018.3 1568.5,1017.4 1567.8,1019.2 1567.1,1018.5 1566.4,1018.9 1565.7,1017.9 1565,1019.1 1564.3,1018.4 1563.6,1018.7 1562.9,1019.3 1562.2,1019.2 1561.5,1019.3 1560.8,1017.7 1560.1,1020.5 1559.4,1018.4 1558.7,1018.4 1558,1018.2 1557.3,1019.1 1556.6,1019.1 1555.9,1019.4 1555.2,1019.5 1554.5,1018.4 1553.8,1019.2 1553.1,1019 1552.4,1016.6 1551.7,1018.9 1551,1019 1550.3,1018.8 1549.6,1019.4 1548.9,1019.7 1548.2,1018.8 1547.5,1019.6 1546.8,1018.9 1546.1,1018.5 1545.4,1018.7 1544.6,1018.7 1543.9,1018.3 1543.2,1019.2 1542.5,1018.6 1541.8,1019.6 1541.1,1018.5 1540.4,1020.3 1539.7,1018.4 1539,1019 1538.3,1020.3 1537.6,1019.5 1536.9,1019.1 1536.2,1019.1 1535.5,1019.2 1534.8,1018.4 1534.1,1018.6 1533.4,1020.3 1532.7,1020.3 1532,1019.1 1531.3,1019.3 1530.6,1019.7 1529.9,1018.4 1529.2,1019.8 1528.5,1019.4 1527.8,1019.5 1527.1,1020.1 1526.4,1018.8 1525.7,1019.4 1525,1018.3 1524.3,1019.4 1523.6,1018.8 1522.9,1019.5 1522.2,1020 1521.5,1018.6 1520.8,1018.3 1520.1,1019.1 1519.4,1019.5 1518.7,1017.5 1518,1018 1517.3,1017.9 1516.6,1018.5 1515.9,1020.1 1515.2,1019.5 1514.5,1019.6 1513.8,1018.6 1513.1,1018.8 1512.4,1018.6 1511.7,1018.7 1511,1019.1 1510.3,1019.2 1509.6,1018.6 1508.9,1019.9 1508.2,1018.2 1507.5,1019 1506.8,1019.6 1506.1,1018.7 1505.4,1018.3 1504.7,1019 1504,1018.9 1503.3,1019.5 1502.6,1018.6 1501.9,1018.7 1501.2,1018.9 1500.5,1019.7 1499.8,1019.3 1499.1,1019.8 1498.4,1019.1 1497.7,1018.5 1497,1019.8 1496.3,1018.2 1495.6,1019.1 1494.9,1018.9 1494.2,1019.8 1493.5,1019.5 1492.8,1019.2 1492.1,1018.7 1491.4,1019.2 1490.7,1019.9 1490,1019.6 1489.3,1019.7 1488.6,1018.4 1487.9,1017.3 1487.2,1018 1486.5,1018.1 1485.8,1019 1485.1,1019.4 1484.4,1020.1 1483.7,1019.1 1483,1017.5 1482.3,1018.5 1481.6,1019.6 1480.9,1018.5 1480.2,1020.7 1479.5,1019.6 1478.8,1019 1478.1,1019.1 1477.4,1019.9 1476.7,1019.8 1476,1018 1475.3,1019.7 1474.6,1019 1473.9,1020 1473.2,1019.1 1472.5,1019.1 1471.8,1018.4 1471.1,1019.5 1470.4,1019.9 1469.7,1019.2 1469,1019.2 1468.3,1020.5 1467.6,1020.3 1466.9,1019.8 1466.2,1018.6 1465.5,1019 1464.8,1019.5 1464.1,1018.8 1463.4,1019.1 1462.7,1018.4 1462,1018.4 1461.3,1019.6 1460.6,1018.2 1459.9,1018.9 1459.2,1018.7 1458.5,1019.3 1457.8,1018.4 1457.1,1020.7 1456.4,1019.1 1455.7,1018 1455,1018.6 1454.3,1019.1 1453.6,1020.5 1452.9,1019.8 1452.2,1019.6 1451.5,1019.4 1450.8,1020.2 1450.1,1019.4 1449.4,1019.1 1448.7,1019.3 1448,1019.3 1447.3,1020.2 1446.6,1018.9 1445.9,1018.6 1445.2,1019.4 1444.5,1018.9 1443.8,1018.4 1443.1,1018.5 1442.4,1018.2 1441.7,1018.7 1441,1018.9 1440.3,1020 1439.6,1019.3 1438.9,1019.6 1438.2,1019.4 1437.5,1019.5 1436.8,1018.4 1436.1,1018.8 1435.4,1019.3 1434.6,1019.4 1433.9,1019.4 1433.2,1018.4 1432.5,1018.6 1431.8,1019.4 1431.1,1018.2 1430.4,1018.8 1429.7,1018.6 1429,1018.4 1428.3,1018.8 1427.6,1019.1 1426.9,1017.9 1426.2,1018.1 1425.5,1019.4 1424.8,1019.6 1424.1,1018.4 1423.4,1018.7 1422.7,1018.8 1422,1018.6 1421.3,1018.4 1420.6,1020 1419.9,1019.4 1419.2,1018.1 1418.5,1019 1417.8,1019.3 1417.1,1018 1416.4,1019.2 1415.7,1018.5 1415,1018.7 1414.3,1018.9 1413.6,1019.8 1412.9,1019.3 1412.2,1018.4 1411.5,1020.8 1410.8,1019.5 1410.1,1019.3 1409.4,1019.2 1408.7,1019.7 1408,1019 1407.3,1019.5 1406.6,1019.3 1405.9,1020.2 1405.2,1018.6 1404.5,1019.3 1403.8,1020.1 1403.1,1019.1 1402.4,1019.2 1401.7,1019 1401,1019.8 1400.3,1019.7 1399.6,1020 1398.9,1019.2 1398.2,1019.5 1397.5,1018.7 1396.8,1019.8 1396.1,1018.7 1395.4,1020 1394.7,1020.1 1394,1018.5 1393.3,1019 1392.6,1019 1391.9,1018.9 1391.2,1018.7 1390.5,1019 1389.8,1019.7 1389.1,1019.7 1388.4,1019.5 1387.7,1019 1387,1019.3 1386.3,1018.4 1385.6,1019 1384.9,1019.4 1384.2,1019 1383.5,1019.9 1382.8,1019.4 1382.1,1019.1 1381.4,1019 1380.7,1020.2 1380,1018.9 1379.3,1019.7 1378.6,1020 1377.9,1019.9 1377.2,1020.3 1376.5,1020 1375.8,1019.1 1375.1,1020 1374.4,1019.6 1373.7,1020.4 1373,1018.7 1372.3,1018.7 1371.6,1020 1370.9,1019.6 1370.2,1018.6 1369.5,1018.8 1368.8,1019.3 1368.1,1019.9 1367.4,1018.5 1366.7,1017.6 1366,1018.6 1365.3,1019.3 1364.6,1020.5 1363.9,1019.5 1363.2,1019.8 1362.5,1019.2 1361.8,1018.2 1361.1,1019.3 1360.4,1018.6 1359.7,1019.7 1359,1019.9 1358.3,1019.5 1357.6,1020.2 1356.9,1018.8 1356.2,1020.2 1355.5,1019 1354.8,1019.6 1354.1,1019.8 1353.4,1019.3 1352.7,1020.4 1352,1019.8 1351.3,1018.4 1350.6,1019.8 1349.8,1019.5 1349.1,1020 1348.4,1019.8 1347.7,1019.4 1347,1019.8 1346.3,1020 1345.6,1019.5 1344.9,1019.3 1344.2,1020.1 1343.5,1021.3 1342.8,1020.3 1342.1,1019.5 1341.4,1019.6 1340.7,1020.6 1340,1020.7 1339.3,1020 1338.6,1018.5 1337.9,1019.2 1337.2,1020.3 1336.5,1019.6 1335.8,1022.2 1335.1,1021.2 1334.4,1020 1333.7,1019.9 1333,1020.1 1332.3,1021.3 1331.6,1020.1 1330.9,1018.8 1330.2,1020 1329.5,1020.7 1328.8,1020.9 1328.1,1019.5 1327.4,1019.8 1326.7,1020.5 1326,1019.3 1325.3,1019.7 1324.6,1019.9 1323.9,1018.9 1323.2,1020.4 1322.5,1019.5 1321.8,1019.4 1321.1,1021.4 1320.4,1020.3 1319.7,1019.3 1319,1020.5 1318.3,1020.1 1317.6,1018.8 1316.9,1020.9 1316.2,1020.9 1315.5,1019 1314.8,1020.8 1314.1,1020.1 1313.4,1021.2 1312.7,1020.3 1312,1020.3 1311.3,1019.2 1310.6,1019.5 1309.9,1020.1 1309.2,1020.4 1308.5,1022.1 1307.8,1020.4 1307.1,1020 1306.4,1020.5 1305.7,1020.2 1305,1019.8 1304.3,1020.7 1303.6,1020.6 1302.9,1020.6 1302.2,1020.6 1301.5,1020.5 1300.8,1020.5 1300.1,1020.9 1299.4,1020.4 1298.7,1020.4 1298,1020.7 1297.3,1019.5 1296.6,1020.6 1295.9,1020.5 1295.2,1020.2 1294.5,1020.6 1293.8,1021.2 1293.1,1020.7 1292.4,1021.3 1291.7,1019.9 1290.9,1020.8 1290.2,1019.9 1289.5,1021.1 1288.8,1021.7 1288.1,1021 1287.4,1020 1286.7,1020.2 1286,1022.3 1285.3,1020 1284.6,1021 1283.9,1020 1283.2,1020.6 1282.5,1021.2 1281.8,1021.6 1281.1,1021.7 1280.4,1020.6 1279.7,1019.1 1279,1020.7 1278.3,1019.8 1277.6,1021.2 1276.9,1020.6 1276.2,1020.4 1275.5,1021.8 1274.8,1020.9 1274.1,1019.8 1273.4,1020.9 1272.7,1021.1 1272,1020.1 1271.3,1022.4 1270.6,1019.4 1269.9,1021.9 1269.2,1022.1 1268.5,1021.5 1267.8,1021.2 1267.1,1019.9 1266.4,1021 1265.7,1021.4 1265,1022.3 1264.3,1021.9 1263.6,1022.5 1262.9,1020.9 1262.2,1022.1 1261.5,1021.9 1260.8,1022.1 1260.1,1019.9 1259.4,1021.7 1258.7,1021.3 1258,1021.2 1257.3,1022.1 1256.6,1019.7 1255.9,1021.6 1255.2,1020 1254.5,1021.2 1253.8,1019.8 1253.1,1021 1252.4,1022.2 1251.7,1022 1251,1021.1 1250.3,1020.9 1249.6,1021.8 1248.9,1022 1248.2,1022.6 1247.5,1021.5 1246.8,1021.1 1246.1,1021.2 1245.4,1021.4 1244.7,1021.1 1244,1021.1 1243.3,1021 1242.6,1020.9 1241.9,1021.5 1241.2,1020.9 1240.5,1021.2 1239.8,1020.8 1239.1,1020.9 1238.4,1022.3 1237.7,1021 1237,1022.4 1236.3,1020.8 1235.6,1021 1234.9,1021.5 1234.2,1021.2 1233.5,1022.2 1232.8,1021.1 1232.1,1021.4 1231.3,1022.3 1230.6,1021.3 1229.9,1022.6 1229.2,1021.8 1228.5,1021.2 1227.8,1022 1227.1,1021.5 1226.4,1021.4 1225.7,1020.7 1225,1023.4 1224.3,1022.6 1223.6,1022 1222.9,1022.8 1222.2,1022.1 1221.5,1022.2 1220.8,1023 1220.1,1023.1 1219.4,1021.8 1218.7,1022.4 1218,1022.1 1217.3,1021.8 1216.6,1022.4 1215.9,1022.9 1215.2,1023 1214.5,1021.6 1213.8,1022.3 1213.1,1021 1212.4,1021.8 1211.7,1022.4 1211,1022.1 1210.3,1021.3 1209.6,1021.6 1208.9,1022.5 1208.2,1023.6 1207.5,1021.8 1206.8,1020.9 1206.1,1021.8 1205.4,1022.1 1204.7,1021.7 1204,1023.3 1203.3,1021.3 1202.6,1022.5 1201.9,1022.4 1201.2,1021.9 1200.5,1022 1199.8,1021.6 1199.1,1023.1 1198.4,1022 1197.7,1022 1197,1022.5 1196.3,1021.9 1195.6,1023.4 1194.9,1023.4 1194.2,1022.9 1193.5,1022.9 1192.8,1022.8 1192.1,1023 1191.4,1022.7 1190.7,1021.9 1190,1023.4 1189.3,1023.9 1188.6,1022.9 1187.9,1021 1187.2,1022.7 1186.5,1022.5 1185.8,1022.7 1185.1,1022.8 1184.4,1023.8 1183.7,1021.4 1183,1022.5 1182.3,1023.2 1181.6,1022.3 1180.9,1023.2 1180.2,1023.2 1179.5,1022.2 1178.8,1022.2 1178.1,1022.4 1177.4,1022 1176.7,1022 1176,1022.4 1175.3,1022.3 1174.6,1022.9 1173.9,1023.4 1173.2,1023.5 1172.4,1022.3 1171.7,1022.5 1171,1022.9 1170.3,1021.8 1169.6,1022.8 1168.9,1022.7 1168.2,1023.8 1167.5,1022.9 1166.8,1022.8 1166.1,1022.9 1165.4,1022.2 1164.7,1023 1164,1024 1163.3,1023.2 1162.6,1023.5 1161.9,1023.7 1161.2,1021.6 1160.5,1023 1159.8,1021.7 1159.1,1024.1 1158.4,1022.4 1157.7,1023 1157,1023.3 1156.3,1024.1 1155.6,1022.5 1154.9,1023.3 1154.2,1023.3 1153.5,1023.3 1152.8,1023.3 1152.1,1023.9 1151.4,1023.3 1150.7,1022.9 1150,1022.8 1149.3,1023.5 1148.6,1023.8 1147.9,1023.4 1147.2,1021.9 1146.5,1024.1 1145.8,1023.3 1145.1,1022 1144.4,1023.5 1143.7,1023.2 1143,1023.4 1142.3,1023.4 1141.5,1024 1140.8,1023.1 1140.1,1023.8 1139.3,1024.5 1138.6,1025.2 1137.9,1024.2 1137.2,1023.8 1136.4,1023.7 1135.7,1025.6 1135,1023.6 1134.2,1024.3 1133.5,1025.3 1132.8,1023.8 1132,1026.2 1131.3,1025.1 1130.5,1024.8 1129.7,1025 1129,1026.5 1128.2,1026.6 1127.4,1026.6" fill="#1414f0"/>
<polyline points="1782.8,1015 1783.1,1085" fill="none" stroke="#1414f0" stroke-width="3.0" stroke-linejoin="round" stroke-linecap="butt" />
<polyline points="1146.5,1085 1148.7,1024" fill="none" stroke="#f01010" stroke-width="3.0" stroke-linejoin="round" stroke-linecap="butt" />
<polygon points="1148.7,1020.1 1149.5,1020.3 1150.3,1019.5 1151.2,1019 1152,1017.1 1152.7,1019.2 1153.5,1019.3 1154.2,1019 1154.9,1018.6 1155.6,1018.4 1156.4,1019.3 1157.1,1019.6 1157.8,1019.1 1158.5,1018.3 1159.3,1019.1 1160,1020 1160.7,1017.8 1161.4,1019.1 1162.1,1017.5 1162.8,1017.6 1163.5,1019.8 1164.2,1017.3 1164.9,1017.8 1165.6,1017 1166.3,1018.5 1167,1017.2 1167.7,1017.7 1168.4,1018.4 1169.1,1018 1169.8,1019.8 1170.5,1018.1 1171.2,1017.8 1171.9,1018.6 1172.6,1017.8 1173.3,1017.8 1174,1017.4 1174.7,1018 1175.4,1018.6 1176.1,1017.4 1176.8,1017.7 1177.5,1017.3 1178.2,1017.3 1178.9,1018.6 1179.6,1016.8 1180.3,1016.7 1181,1016.7 1181.7,1016.5 1182.4,1018 1183.1,1018.5 1183.8,1016.8 1184.5,1018.6 1185.2,1018.6 1185.9,1017.6 1186.6,1017.9 1187.3,1017.4 1188,1018.5 1188.7,1018 1189.4,1017.9 1190.1,1017.3 1190.8,1017.5 1191.5,1019.2 1192.2,1017.7 1192.9,1018.4 1193.6,1016.7 1194.3,1018 1195,1018.9 1195.7,1018.1 1196.4,1018 1197.1,1017.4 1197.8,1018.1 1198.5,1018.6 1199.2,1017.9 1199.9,1018 1200.6,1017.7 1201.3,1017.9 1202,1019.3 1202.7,1016.9 1203.4,1017.6 1204.1,1016.6 1204.8,1018.3 1205.5,1017 1206.2,1017.8 1206.9,1016.9 1207.6,1018.6 1208.3,1018.4 1209,1017.7 1209.7,1017.6 1210.4,1017.5 1211.1,1017.3 1211.8,1018.2 1212.5,1017.1 1213.2,1016.9 1213.9,1017 1214.6,1017.6 1215.3,1016.1 1216,1018.2 1216.7,1017.7 1217.4,1017.7 1218.1,1017.6 1218.8,1017.7 1219.5,1017.9 1220.2,1017.9 1220.9,1017.3 1221.6,1015.7 1222.3,1018.3 1223,1017.5 1223.7,1017.5 1224.4,1018.9 1225.1,1018.5 1225.8,1017.4 1226.5,1018.2 1227.2,1017.5 1227.9,1016.6 1228.6,1017.7 1229.3,1017.4 1230,1017.5 1230.7,1016.3 1231.4,1016.5 1232.1,1017 1232.9,1017.9 1233.6,1018.1 1234.3,1017.5 1235,1017.6 1235.7,1016.5 1236.4,1017.5 1237.1,1017.5 1237.8,1017.9 1238.5,1016.3 1239.2,1017.2 1239.9,1018 1240.6,1017.8 1241.3,1017.8 1242,1017.8 1242.7,1017.3 1243.4,1016.4 1244.1,1017.2 1244.8,1016.8 1245.5,1018.1 1246.2,1017.1 1246.9,1018.3 1247.6,1017.5 1248.3,1016.3 1249,1017.6 1249.7,1016.9 1250.4,1017.3 1251.1,1017 1251.8,1016.6 1252.5,1016.9 1253.2,1017.4 1253.9,1017.4 1254.6,1017 1255.3,1017 1256,1016.7 1256.7,1018.5 1257.4,1017.3 1258.1,1016 1258.8,1017.7 1259.5,1016.7 1260.2,1017 1260.9,1015.4 1261.6,1016.1 1262.3,1016.8 1263,1017.8 1263.7,1018.2 1264.4,1016.6 1265.1,1017.3 1265.8,1017 1266.5,1018 1267.2,1016.6 1267.9,1017.8 1268.6,1015.7 1269.3,1015.5 1270,1017.5 1270.7,1015.2 1271.4,1016.8 1272.1,1016.9 1272.8,1017.2 1273.5,1016.8 1274.2,1017.1 1274.9,1016.9 1275.6,1016.5 1276.3,1016 1277,1016.6 1277.7,1017.5 1278.4,1016.8 1279.1,1017.3 1279.8,1016.5 1280.5,1016.8 1281.2,1018 1281.9,1016.1 1282.6,1016 1283.3,1017.4 1284,1017.3 1284.7,1016.7 1285.4,1016 1286.1,1016.1 1286.8,1017.1 1287.5,1017.1 1288.2,1016.6 1288.9,1017.5 1289.6,1016.2 1290.3,1015.7 1291,1017.3 1291.7,1015.5 1292.4,1017.9 1293.1,1017.8 1293.8,1016 1294.5,1015.7 1295.2,1015.2 1295.9,1016.6 1296.6,1016.1 1297.3,1017.4 1298,1015.7 1298.7,1017 1299.4,1015.7 1300.1,1015.8 1300.8,1016.2 1301.5,1016.2 1302.2,1016.5 1302.9,1017 1303.6,1016 1304.3,1016.9 1305,1016.1 1305.7,1016.8 1306.4,1015.9 1307.1,1016.3 1307.8,1017.4 1308.5,1017.2 1309.2,1015.6 1309.9,1015.2 1310.6,1015.5 1311.3,1017.5 1312,1015.5 1312.7,1016.5 1313.4,1016.7 1314.1,1016.2 1314.8,1015.4 1315.5,1015.3 1316.2,1015.7 1316.9,1017.4 1317.6,1016 1318.3,1016 1319,1016.2 1319.7,1018.3 1320.4,1016.1 1321.1,1016.1 1321.8,1015.8 1322.5,1015.5 1323.2,1017.4 1323.9,1017 1324.6,1015.2 1325.3,1016.6 1326,1015.3 1326.7,1017.3 1327.4,1015.5 1328.1,1015.6 1328.8,1015.7 1329.5,1017.5 1330.2,1014.8 1330.9,1014.5 1331.6,1016.3 1332.3,1016.6 1333,1015.2 1333.7,1014.1 1334.4,1016 1335.1,1015.1 1335.8,1016.9 1336.5,1015.2 1337.2,1015.5 1337.9,1016.5 1338.6,1013.6 1339.3,1014.6 1340,1015.4 1340.7,1015.2 1341.4,1015.7 1342.1,1015.5 1342.9,1014.9 1343.6,1015.6 1344.3,1015.7 1345,1014.2 1345.7,1016.7 1346.4,1016.1 1347.1,1015.2 1347.8,1015.8 1348.5,1015.2 1349.2,1015.7 1349.9,1016.2 1350.6,1017.1 1351.3,1015.5 1352,1015.5 1352.7,1015.5 1353.4,1015.9 1354.1,1015.2 1354.8,1016.1 1355.5,1015.9 1356.2,1015.7 1356.9,1013.7 1357.6,1016.4 1358.3,1015.2 1359,1017.1 1359.7,1016.5 1360.4,1016.4 1361.1,1016.3 1361.8,1016.3 1362.5,1016.3 1363.2,1016.8 1363.9,1016 1364.6,1015.3 1365.3,1016.6 1366,1015.4 1366.7,1016.8 1367.4,1015.9 1368.1,1014.8 1368.8,1015.8 1369.5,1015 1370.2,1015.6 1370.9,1016.4 1371.6,1014.9 1372.3,1015.5 1373,1014.1 1373.7,1015.3 1374.4,1016.5 1375.1,1015.4 1375.8,1014.7 1376.5,1014.8 1377.2,1014.6 1377.9,1015.9 1378.6,1014.8 1379.3,1014.6 1380,1015.9 1380.7,1015.4 1381.4,1014.2 1382.1,1014.6 1382.8,1015.9 1383.5,1016.2 1384.2,1014.9 1384.9,1015.2 1385.6,1014.8 1386.3,1014.4 1387,1015.4 1387.7,1015.1 1388.4,1016.1 1389.1,1015.6 1389.8,1015.5 1390.5,1014.4 1391.2,1016.2 1391.9,1015.7 1392.6,1014.9 1393.3,1016.6 1394,1014.3 1394.7,1014.7 1395.4,1015.7 1396.1,1015.2 1396.8,1015.6 1397.5,1015.4 1398.2,1014.6 1398.9,1015.9 1399.6,1016.3 1400.3,1015.2 1401,1014.7 1401.7,1015.1 1402.4,1013.8 1403.1,1014 1403.8,1014.9 1404.5,1014.6 1405.2,1016.3 1405.9,1015.5 1406.6,1013.9 1407.3,1014.6 1408,1015 1408.7,1016.2 1409.4,1014.3 1410.1,1014.4 1410.8,1016.1 1411.5,1014.1 1412.2,1014.9 1412.9,1015 1413.6,1014.1 1414.3,1013.4 1415,1015.9 1415.7,1014.7 1416.4,1014.5 1417.1,1015 1417.8,1015.9 1418.5,1015.9 1419.2,1015.1 1419.9,1014.9 1420.6,1015.4 1421.3,1015 1422,1015.4 1422.7,1015 1423.4,1015.9 1424.1,1014.8 1424.8,1015 1425.5,1012.8 1426.2,1015.2 1426.9,1014.7 1427.6,1013.7 1428.3,1014.9 1429,1014.7 1429.7,1014.7 1430.4,1015.2 1431.1,1014.9 1431.8,1015 1432.5,1014.1 1433.2,1014.4 1433.9,1014.3 1434.6,1015.9 1435.4,1015.7 1436.1,1015.8 1436.8,1015.5 1437.5,1013.3 1438.2,1015.4 1438.9,1014.3 1439.6,1014.4 1440.3,1015.3 1441,1014.6 1441.7,1015.5 1442.4,1014.7 1443.1,1015.1 1443.8,1015.5 1444.5,1015.3 1445.2,1015.3 1445.9,1015.2 1446.6,1014.9 1447.3,1014.6 1448,1014.3 1448.7,1014.8 1449.4,1015.6 1450.1,1015.7 1450.8,1014.5 1451.5,1015.5 1452.2,1015 1452.9,1014.3 1453.6,1015.8 1454.3,1013.6 1455,1015.2 1455.7,1015.4 1456.4,1014.2 1457.1,1015.7 1457.8,1014.9 1458.5,1014.4 1459.2,1015.1 1459.9,1014.4 1460.6,1015.5 1461.3,1014.8 1462,1014.5 1462.7,1015.6 1463.4,1014.5 1464.1,1015.1 1464.8,1014.2 1465.5,1015 1466.2,1016.2 1466.9,1015.6 1467.6,1014.9 1468.3,1015.9 1469,1014.7 1469.7,1015.4 1470.4,1014.4 1471.1,1015.2 1471.8,1014 1472.5,1014.2 1473.2,1014.2 1473.9,1014.6 1474.6,1014.3 1475.3,1015.7 1476,1015 1476.7,1015 1477.4,1015.3 1478.1,1015.2 1478.8,1015.1 1479.5,1013.6 1480.2,1014.7 1480.9,1014.8 1481.6,1014 1482.3,1015.2 1483,1016.2 1483.7,1014.7 1484.4,1014.6 1485.1,1015.1 1485.8,1014.4 1486.5,1014.4 1487.2,1016.9 1487.9,1014.5 1488.6,1015.7 1489.3,1013.7 1490,1015.6 1490.7,1015.4 1491.4,1015.4 1492.1,1015.1 1492.8,1016.3 1493.5,1014.4 1494.2,1013.8 1494.9,1013.6 1495.6,1015.1 1496.3,1013.8 1497,1015.3 1497.7,1014.7 1498.4,1015.1 1499.1,1014.1 1499.8,1015.4 1500.5,1015.5 1501.2,1014.7 1501.9,1013.7 1502.6,1014.6 1503.3,1014 1504,1014.9 1504.7,1015.5 1505.4,1014.5 1506.1,1014.5 1506.8,1015 1507.5,1014.5 1508.2,1015.8 1508.9,1015.5 1509.6,1014.3 1510.3,1014.8 1511,1012.8 1511.7,1015.6 1512.4,1015.3 1513.1,1015.6 1513.8,1014.6 1514.5,1013.5 1515.2,1014.3 1515.9,1014.7 1516.6,1015.3 1517.3,1015.1 1518,1013.8 1518.7,1014.2 1519.4,1013.9 1520.1,1015.6 1520.8,1014.8 1521.5,1014.6 1522.2,1015 1522.9,1014.8 1523.6,1014.9 1524.3,1014.3 1525,1015.5 1525.7,1014.7 1526.4,1015.5 1527.1,1014.9 1527.8,1014.6 1528.5,1013.9 1529.2,1014.7 1529.9,1014.3 1530.6,1014.4 1531.3,1014.5 1532,1016 1532.7,1014.2 1533.4,1013.1 1534.1,1014.5 1534.8,1015.7 1535.5,1015.1 1536.2,1013.9 1536.9,1014.7 1537.6,1014.7 1538.3,1015.6 1539,1014.5 1539.7,1013.6 1540.4,1014.7 1541.1,1014.8 1541.8,1014.7 1542.5,1014.2 1543.2,1015.6 1543.9,1014.6 1544.6,1014.7 1545.4,1014.5 1546.1,1015 1546.8,1015.7 1547.5,1015.3 1548.2,1015 1548.9,1015.7 1549.6,1013.6 1550.3,1015 1551,1014.2 1551.7,1015 1552.4,1014.1 1553.1,1014 1553.8,1014.1 1554.5,1014.2 1555.2,1014.9 1555.9,1015.5 1556.6,1014.5 1557.3,1014 1558,1014.9 1558.7,1014.3 1559.4,1014.9 1560.1,1015.3 1560.8,1015 1561.5,1015.1 1562.2,1012.9 1562.9,1014.8 1563.6,1014.1 1564.3,1014 1565,1015.2 1565.7,1014.7 1566.4,1014.4 1567.1,1015.1 1567.8,1014.5 1568.5,1014.4 1569.2,1014.8 1569.9,1015.1 1570.6,1015 1571.3,1014.9 1572,1014 1572.7,1015.4 1573.4,1014.3 1574.1,1014.2 1574.8,1014.4 1575.5,1013.9 1576.2,1014.2 1576.9,1015.4 1577.6,1014.8 1578.3,1015.9 1579,1016.2 1579.7,1014.9 1580.4,1014.5 1581.1,1015 1581.8,1014.1 1582.5,1014.8 1583.2,1014.2 1583.9,1014.3 1584.6,1014.7 1585.3,1014.2 1586,1014.3 1586.7,1016.5 1587.4,1014.1 1588.1,1014 1588.8,1013.4 1589.5,1014.1 1590.2,1015.1 1590.9,1014.6 1591.6,1015.1 1592.3,1014.8 1593,1015.6 1593.7,1014.4 1594.4,1014.2 1595.1,1013.9 1595.8,1014.7 1596.5,1013.7 1597.2,1015.5 1597.9,1013.8 1598.6,1015.2 1599.3,1013.7 1600,1014.3 1600.7,1014.6 1601.4,1015.5 1602.1,1014.4 1602.8,1014.9 1603.5,1015.5 1604.2,1014.9 1604.9,1014.8 1605.6,1015.2 1606.3,1013.9 1607,1014.5 1607.7,1014.1 1608.4,1016 1609.1,1014.2 1609.8,1013.6 1610.5,1016.6 1611.2,1014.8 1611.9,1014.1 1612.6,1015.1 1613.3,1014.8 1614,1014.5 1614.7,1015 1615.4,1015 1616.1,1015.7 1616.8,1014.1 1617.5,1015.1 1618.2,1013.3 1618.9,1014.8 1619.6,1014.3 1620.3,1014.3 1621,1013.5 1621.7,1014.7 1622.4,1014.2 1623.1,1014.3 1623.8,1014.4 1624.5,1013.9 1625.2,1015.2 1625.9,1014.5 1626.6,1014 1627.3,1014.5 1628.1,1014.9 1628.8,1014.6 1629.5,1015.4 1630.2,1014 1630.9,1014 1631.6,1014.3 1632.3,1014.1 1633,1014.1 1633.7,1014.4 1634.4,1015.4 1635.1,1014.5 1635.8,1015.9 1636.5,1014.8 1637.2,1012.9 1637.9,1014.2 1638.6,1013.3 1639.3,1014.5 1640,1014.1 1640.7,1014.3 1641.4,1014.7 1642.1,1015 1642.8,1015.1 1643.5,1015.2 1644.2,1014.5 1644.9,1014.7 1645.6,1015.5 1646.3,1013.3 1647,1015 1647.7,1014 1648.4,1014.4 1649.1,1015.1 1649.8,1014.2 1650.5,1016.1 1651.2,1014.4 1651.9,1013.5 1652.6,1014.4 1653.3,1014.5 1654,1013.4 1654.7,1014.3 1655.4,1015 1656.1,1014.2 1656.8,1014.7 1657.5,1014.5 1658.2,1014.5 1658.9,1014 1659.6,1013.7 1660.3,1014.3 1661,1014.9 1661.7,1015.3 1662.4,1014.7 1663.1,1015.4 1663.8,1014.1 1664.5,1014.7 1665.2,1013.7 1665.9,1014.1 1666.6,1014.4 1667.3,1014.3 1668,1013.9 1668.7,1016.6 1669.4,1014.8 1670.1,1013.7 1670.8,1014.3 1671.5,1014.8 1672.2,1014.1 1672.9,1012.7 1673.6,1014.3 1674.3,1014 1675,1014.8 1675.7,1014.6 1676.4,1014.1 1677.1,1014.3 1677.8,1015 1678.5,1013.8 1679.2,1015.1 1679.9,1014.3 1680.6,1014.7 1681.3,1015.3 1682,1013.6 1682.8,1014.4 1683.5,1015 1684.2,1015.5 1684.9,1013.1 1685.6,1014 1686.3,1015.4 1687,1014.1 1687.7,1013.8 1688.4,1013.5 1689.1,1014.3 1689.8,1013.9 1690.5,1013.4 1691.2,1014.2 1691.9,1014.8 1692.6,1014.2 1693.3,1013.9 1694,1014.1 1694.7,1015.5 1695.4,1014.7 1696.1,1013.5 1696.8,1014.4 1697.5,1014.1 1698.2,1015.3 1698.9,1013.9 1699.6,1013.2 1700.3,1015.1 1701,1014.2 1701.7,1014.1 1702.4,1014.9 1703.1,1015 1703.8,1014 1704.5,1015.3 1705.2,1013.5 1705.9,1012.7 1706.6,1014.4 1707.3,1014.5 1708,1014.1 1708.7,1013.3 1709.4,1013.8 1710.1,1014.2 1710.8,1014.2 1711.5,1012.8 1712.2,1014 1712.9,1014 1713.6,1013.2 1714.3,1014.6 1715,1015 1715.7,1015.1 1716.4,1015.7 1717.1,1013.2 1717.8,1014.6 1718.5,1015.2 1719.2,1013.6 1719.9,1014.6 1720.6,1015.3 1721.3,1014.1 1722,1014 1722.7,1013.7 1723.4,1015.5 1724.1,1013.8 1724.8,1014.9 1725.5,1014.3 1726.2,1013.7 1726.9,1014.4 1727.6,1014.4 1728.3,1014.8 1729,1013.8 1729.7,1014.1 1730.4,1014.3 1731.1,1014 1731.8,1014 1732.5,1014.8 1733.2,1013.3 1733.9,1013 1734.6,1014.2 1735.3,1015.3 1736,1012.8 1736.8,1014.9 1737.5,1014.8 1738.2,1014.5 1738.9,1013.2 1739.6,1014.9 1740.3,1013.3 1741,1014.5 1741.7,1013.7 1742.4,1015.3 1743.1,1013.7 1743.8,1013.6 1744.5,1014.7 1745.2,1014.8 1745.9,1013 1746.6,1015.4 1747.3,1014.2 1748,1014.5 1748.7,1015.1 1749.4,1014.7 1750.1,1014.4 1750.8,1015.4 1751.5,1014.4 1752.2,1014.2 1752.9,1014.9 1753.6,1014.8 1754.3,1014.2 1755,1014.9 1755.7,1013.9 1756.4,1013.4 1757.1,1015.6 1757.8,1012.5 1758.5,1013.9 1759.2,1014.8 1759.9,1013.8 1760.6,1014.7 1761.3,1013.2 1762,1013.8 1762.7,1014.6 1763.4,1014 1764.1,1014.8 1764.1,1021 1763.4,1021.2 1762.7,1020.4 1762,1023 1761.3,1021.1 1760.6,1020.9 1759.9,1020.7 1759.2,1020.6 1758.5,1021.2 1757.8,1020.7 1757.1,1021 1756.4,1020.6 1755.7,1020.6 1755,1020.5 1754.3,1021 1753.6,1021.6 1752.9,1020.9 1752.2,1023 1751.5,1020.3 1750.8,1023.1 1750.1,1020.4 1749.4,1020 1748.7,1020.6 1748,1021.2 1747.3,1021.8 1746.6,1021.4 1745.9,1021.4 1745.2,1022 1744.5,1021.7 1743.8,1020.6 1743.1,1021.2 1742.4,1020.4 1741.7,1020.8 1741,1021.2 1740.3,1022 1739.6,1021.2 1738.9,1022 1738.2,1021 1737.5,1020 1736.8,1021.7 1736,1020.7 1735.3,1020.1 1734.6,1020.3 1733.9,1021 1733.2,1020.2 1732.5,1021.2 1731.8,1020.8 1731.1,1022.2 1730.4,1020.9 1729.7,1022 1729,1020.4 1728.3,1019.5 1727.6,1021.3 1726.9,1022.3 1726.2,1021.2 1725.5,1021.3 1724.8,1021.4 1724.1,1020.7 1723.4,1021 1722.7,1020.2 1722,1020.2 1721.3,1021 1720.6,1021.5 1719.9,1021.2 1719.2,1021.6 1718.5,1020.8 1717.8,1021.2 1717.1,1020.8 1716.4,1020.4 1715.7,1020 1715,1020.5 1714.3,1020.1 1713.6,1020.8 1712.9,1021.8 1712.2,1021.3 1711.5,1021.5 1710.8,1020.9 1710.1,1022.7 1709.4,1021 1708.7,1021.7 1708,1021.5 1707.3,1022 1706.6,1021.4 1705.9,1019.9 1705.2,1022 1704.5,1020.7 1703.8,1020.2 1703.1,1020 1702.4,1021.8 1701.7,1020.5 1701,1020.9 1700.3,1021 1699.6,1021.3 1698.9,1021.9 1698.2,1021 1697.5,1022.1 1696.8,1022.1 1696.1,1020.1 1695.4,1020.8 1694.7,1020.8 1694,1021.5 1693.3,1022.5 1692.6,1021.8 1691.9,1021.1 1691.2,1020 1690.5,1020.8 1689.8,1021.4 1689.1,1020.7 1688.4,1020.7 1687.7,1021 1687,1020.4 1686.3,1021.5 1685.6,1022.4 1684.9,1020.7 1684.2,1020.6 1683.5,1019.7 1682.8,1021.2 1682,1021.4 1681.3,1020.4 1680.6,1021.2 1679.9,1021.2 1679.2,1021.4 1678.5,1019.9 1677.8,1020.8 1677.1,1021.1 1676.4,1020.3 1675.7,1020.8 1675,1020 1674.3,1020.7 1673.6,1020.1 1672.9,1020.6 1672.2,1021.1 1671.5,1019.8 1670.8,1020 1670.1,1021.1 1669.4,1020.5 1668.7,1020.6 1668,1019.7 1667.3,1020.9 1666.6,1021.2 1665.9,1022.8 1665.2,1020 1664.5,1020.7 1663.8,1021.1 1663.1,1021.5 1662.4,1021 1661.7,1020.9 1661,1020.3 1660.3,1022 1659.6,1021.2 1658.9,1021 1658.2,1021.5 1657.5,1021.2 1656.8,1020.4 1656.1,1020.3 1655.4,1020 1654.7,1021.1 1654,1020.8 1653.3,1021.8 1652.6,1021.4 1651.9,1021.4 1651.2,1020.2 1650.5,1022.1 1649.8,1022 1649.1,1020.6 1648.4,1021.6 1647.7,1020.4 1647,1020.3 1646.3,1020.3 1645.6,1021.5 1644.9,1020.1 1644.2,1020.1 1643.5,1020.4 1642.8,1020.7 1642.1,1021.5 1641.4,1021 1640.7,1020.4 1640,1021.9 1639.3,1020.9 1638.6,1021.6 1637.9,1019.9 1637.2,1021.9 1636.5,1021.8 1635.8,1020.8 1635.1,1020.3 1634.4,1020.7 1633.7,1020.9 1633,1021.1 1632.3,1021 1631.6,1021.3 1630.9,1021.4 1630.2,1021.3 1629.5,1021.4 1628.8,1022.3 1628.1,1020.9 1627.3,1022.2 1626.6,1021.5 1625.9,1022.5 1625.2,1020.8 1624.5,1020.7 1623.8,1020.9 1623.1,1021.3 1622.4,1021.3 1621.7,1020.6 1621,1021.1 1620.3,1021.3 1619.6,1021.5 1618.9,1021.2 1618.2,1020.1 1617.5,1021.4 1616.8,1020.4 1616.1,1020.8 1615.4,1020.2 1614.7,1021.2 1614,1021.3 1613.3,1020.8 1612.6,1020.5 1611.9,1019.7 1611.2,1022.3 1610.5,1020.7 1609.8,1020.6 1609.1,1019.5 1608.4,1021.7 1607.7,1021.9 1607,1021.5 1606.3,1020.5 1605.6,1021.6 1604.9,1022.2 1604.2,1021.5 1603.5,1021.3 1602.8,1019.5 1602.1,1020.3 1601.4,1020 1600.7,1021.4 1600,1022.3 1599.3,1021 1598.6,1021.7 1597.9,1020.9 1597.2,1021 1596.5,1021.7 1595.8,1020.7 1595.1,1021.5 1594.4,1020.7 1593.7,1021.7 1593,1021 1592.3,1022.1 1591.6,1020.8 1590.9,1022 1590.2,1021.4 1589.5,1020.8 1588.8,1022 1588.1,1021.2 1587.4,1021.3 1586.7,1022.2 1586,1022 1585.3,1021 1584.6,1019.2 1583.9,1021.5 1583.2,1020.2 1582.5,1022 1581.8,1020.8 1581.1,1021.2 1580.4,1021.3 1579.7,1020.6 1579,1022.2 1578.3,1022.3 1577.6,1021.5 1576.9,1021.4 1576.2,1019.5 1575.5,1020.1 1574.8,1020.3 1574.1,1021.7 1573.4,1020.8 1572.7,1020.5 1572,1020.7 1571.3,1020.7 1570.6,1020.7 1569.9,1021.4 1569.2,1021.8 1568.5,1021.5 1567.8,1020.2 1567.1,1020.7 1566.4,1022.6 1565.7,1020.7 1565,1020.8 1564.3,1021.4 1563.6,1021.3 1562.9,1022.2 1562.2,1021 1561.5,1022.1 1560.8,1021.8 1560.1,1021 1559.4,1021.4 1558.7,1020.1 1558,1020.3 1557.3,1021.5 1556.6,1021.4 1555.9,1020.4 1555.2,1022.2 1554.5,1022.2 1553.8,1020.2 1553.1,1021.5 1552.4,1021.2 1551.7,1023.2 1551,1021.4 1550.3,1022 1549.6,1021.4 1548.9,1022.9 1548.2,1021.7 1547.5,1021.7 1546.8,1021.1 1546.1,1022 1545.4,1022.2 1544.6,1020.7 1543.9,1020.7 1543.2,1021.2 1542.5,1021.3 1541.8,1021 1541.1,1022.5 1540.4,1021.7 1539.7,1022.5 1539,1021.7 1538.3,1019.7 1537.6,1019.8 1536.9,1021.5 1536.2,1021.2 1535.5,1020.9 1534.8,1021.4 1534.1,1022.6 1533.4,1020.3 1532.7,1021.9 1532,1022 1531.3,1022.1 1530.6,1021 1529.9,1020.9 1529.2,1020.8 1528.5,1020.8 1527.8,1020.5 1527.1,1021.5 1526.4,1020.7 1525.7,1021.4 1525,1023.2 1524.3,1020.7 1523.6,1021.2 1522.9,1020.6 1522.2,1022 1521.5,1020.6 1520.8,1021.3 1520.1,1022.1 1519.4,1021.5 1518.7,1021.7 1518,1020.8 1517.3,1021.7 1516.6,1021.2 1515.9,1020.2 1515.2,1022.3 1514.5,1020.8 1513.8,1020.8 1513.1,1021 1512.4,1021.4 1511.7,1021.5 1511,1021.7 1510.3,1022 1509.6,1020.7 1508.9,1020.6 1508.2,1022.2 1507.5,1022 1506.8,1020.9 1506.1,1022.7 1505.4,1021.4 1504.7,1022.4 1504,1021.1 1503.3,1021.5 1502.6,1021.8 1501.9,1020.4 1501.2,1022.5 1500.5,1021.5 1499.8,1021.4 1499.1,1021.8 1498.4,1021.6 1497.7,1020.4 1497,1021.7 1496.3,1022.1 1495.6,1022.6 1494.9,1022.6 1494.2,1020.4 1493.5,1021.2 1492.8,1021.8 1492.1,1020.9 1491.4,1020.7 1490.7,1020.4 1490,1021 1489.3,1021.6 1488.6,1019.9 1487.9,1022.2 1487.2,1021 1486.5,1021.8 1485.8,1022.6 1485.1,1023.7 1484.4,1021.2 1483.7,1020.4 1483,1022.7 1482.3,1020.8 1481.6,1021.2 1480.9,1022.9 1480.2,1020.7 1479.5,1020.6 1478.8,1021 1478.1,1022 1477.4,1020.9 1476.7,1021.1 1476,1020.8 1475.3,1021.8 1474.6,1021.5 1473.9,1021.5 1473.2,1021.7 1472.5,1022 1471.8,1020.5 1471.1,1021.5 1470.4,1022.6 1469.7,1022.5 1469,1021.3 1468.3,1021.1 1467.6,1021.5 1466.9,1021.7 1466.2,1023.1 1465.5,1021.8 1464.8,1020.6 1464.1,1021.9 1463.4,1022.2 1462.7,1021.5 1462,1021.3 1461.3,1021.6 1460.6,1020.4 1459.9,1022.8 1459.2,1020.8 1458.5,1020.7 1457.8,1021.4 1457.1,1021.1 1456.4,1022.7 1455.7,1020.3 1455,1020.8 1454.3,1020.7 1453.6,1022.3 1452.9,1021 1452.2,1021.8 1451.5,1022.4 1450.8,1021 1450.1,1022.4 1449.4,1022.9 1448.7,1022.3 1448,1021.6 1447.3,1021.9 1446.6,1021.1 1445.9,1022.2 1445.2,1021 1444.5,1021.2 1443.8,1021.8 1443.1,1022.1 1442.4,1020.6 1441.7,1021.5 1441,1021.3 1440.3,1021.2 1439.6,1021.1 1438.9,1021.5 1438.2,1021.4 1437.5,1022.5 1436.8,1021.8 1436.1,1022.1 1435.4,1021.7 1434.6,1021 1433.9,1022 1433.2,1021.8 1432.5,1021.1 1431.8,1021.6 1431.1,1021.2 1430.4,1021.8 1429.7,1020.8 1429,1021.6 1428.3,1020.6 1427.6,1021.8 1426.9,1022.5 1426.2,1022.9 1425.5,1021.5 1424.8,1020.9 1424.1,1020.8 1423.4,1021.7 1422.7,1021.3 1422,1022.5 1421.3,1020.5 1420.6,1022.4 1419.9,1022.9 1419.2,1020.6 1418.5,1021.9 1417.8,1021.6 1417.1,1021.2 1416.4,1022.4 1415.7,1021.7 1415,1021.6 1414.3,1021.7 1413.6,1021.6 1412.9,1021.5 1412.2,1020.8 1411.5,1021.7 1410.8,1022.3 1410.1,1022.7 1409.4,1022.2 1408.7,1021.8 1408,1022.8 1407.3,1023.1 1406.6,1021.6 1405.9,1020.8 1405.2,1021.6 1404.5,1021.4 1403.8,1022.2 1403.1,1022.9 1402.4,1021.5 1401.7,1022.3 1401,1021.8 1400.3,1021.3 1399.6,1020.8 1398.9,1022.2 1398.2,1023.1 1397.5,1020.9 1396.8,1022.2 1396.1,1021.7 1395.4,1022 1394.7,1021.1 1394,1021.6 1393.3,1021.5 1392.6,1021.5 1391.9,1021 1391.2,1021.3 1390.5,1022.3 1389.8,1021.9 1389.1,1022.8 1388.4,1020.6 1387.7,1022.3 1387,1022.5 1386.3,1021.7 1385.6,1022.1 1384.9,1021.3 1384.2,1022.2 1383.5,1021.2 1382.8,1021.9 1382.1,1022.3 1381.4,1023.4 1380.7,1022.4 1380,1022.6 1379.3,1021.4 1378.6,1021.9 1377.9,1022.6 1377.2,1021.2 1376.5,1021.7 1375.8,1021.9 1375.1,1021.1 1374.4,1021.4 1373.7,1022.2 1373,1022.1 1372.3,1021.3 1371.6,1022.5 1370.9,1023.1 1370.2,1021.2 1369.5,1022.7 1368.8,1022 1368.1,1020.9 1367.4,1022.2 1366.7,1021.4 1366,1021.8 1365.3,1023.2 1364.6,1021.5 1363.9,1021.7 1363.2,1021.3 1362.5,1023.5 1361.8,1021 1361.1,1022.5 1360.4,1021.7 1359.7,1021.2 1359,1021.4 1358.3,1022 1357.6,1022.2 1356.9,1021.9 1356.2,1021.8 1355.5,1021.6 1354.8,1023.2 1354.1,1023.9 1353.4,1022 1352.7,1022 1352,1022.4 1351.3,1021.2 1350.6,1023 1349.9,1022.6 1349.2,1022.5 1348.5,1022.7 1347.8,1021.5 1347.1,1022.9 1346.4,1021.6 1345.7,1023.3 1345,1022 1344.3,1021.8 1343.6,1022.2 1342.9,1021.7 1342.1,1021.7 1341.4,1021.7 1340.7,1022.5 1340,1023 1339.3,1022.3 1338.6,1023 1337.9,1021.3 1337.2,1021.4 1336.5,1024 1335.8,1023.7 1335.1,1022.6 1334.4,1022.6 1333.7,1022.5 1333,1023.2 1332.3,1022.1 1331.6,1022.3 1330.9,1022.1 1330.2,1023.1 1329.5,1023.4 1328.8,1022.5 1328.1,1022 1327.4,1023.1 1326.7,1022.5 1326,1023 1325.3,1023.6 1324.6,1023.4 1323.9,1023.2 1323.2,1022.6 1322.5,1021.6 1321.8,1022.7 1321.1,1023.5 1320.4,1022.3 1319.7,1022.9 1319,1022.5 1318.3,1022.1 1317.6,1022.7 1316.9,1022.4 1316.2,1022.8 1315.5,1022.8 1314.8,1022.6 1314.1,1022.3 1313.4,1023.5 1312.7,1022.7 1312,1021.4 1311.3,1024.4 1310.6,1022.9 1309.9,1021.9 1309.2,1023.5 1308.5,1023.2 1307.8,1022.6 1307.1,1022.3 1306.4,1023.9 1305.7,1024 1305,1023.9 1304.3,1023.2 1303.6,1022.2 1302.9,1023 1302.2,1023.9 1301.5,1023.4 1300.8,1022.9 1300.1,1022.4 1299.4,1023 1298.7,1023 1298,1022.4 1297.3,1024.6 1296.6,1023.1 1295.9,1021.7 1295.2,1023.4 1294.5,1023.3 1293.8,1023.3 1293.1,1022.4 1292.4,1023.8 1291.7,1022 1291,1022.7 1290.3,1021.9 1289.6,1022.5 1288.9,1023 1288.2,1023.9 1287.5,1023.8 1286.8,1021.9 1286.1,1023.2 1285.4,1024.3 1284.7,1023.6 1284,1022.8 1283.3,1023.7 1282.6,1023.6 1281.9,1023.7 1281.2,1022.8 1280.5,1024.3 1279.8,1023.5 1279.1,1024 1278.4,1023 1277.7,1023.8 1277,1023.6 1276.3,1023 1275.6,1022.6 1274.9,1023.4 1274.2,1024.3 1273.5,1023.7 1272.8,1022.1 1272.1,1023.3 1271.4,1023.8 1270.7,1023.3 1270,1022.6 1269.3,1023.3 1268.6,1023.9 1267.9,1023.2 1267.2,1022.9 1266.5,1023.7 1265.8,1023.9 1265.1,1023.7 1264.4,1023.9 1263.7,1023 1263,1024.2 1262.3,1023.3 1261.6,1023.5 1260.9,1023.9 1260.2,1022.4 1259.5,1023.8 1258.8,1023.4 1258.1,1025 1257.4,1023.5 1256.7,1023.8 1256,1023.7 1255.3,1023.8 1254.6,1024 1253.9,1023.2 1253.2,1024.4 1252.5,1023.2 1251.8,1023.8 1251.1,1023.3 1250.4,1023.8 1249.7,1024.5 1249,1023 1248.3,1023.7 1247.6,1023.4 1246.9,1022.8 1246.2,1023.3 1245.5,1024.3 1244.8,1023.3 1244.1,1024.7 1243.4,1022.7 1242.7,1023.4 1242,1024.1 1241.3,1023.8 1240.6,1024.5 1239.9,1023.4 1239.2,1023.1 1238.5,1023.4 1237.8,1024 1237.1,1024.1 1236.4,1023.3 1235.7,1023.2 1235,1023.4 1234.3,1023.3 1233.6,1023.5 1232.9,1023.7 1232.1,1024.1 1231.4,1024.7 1230.7,1024.3 1230,1023 1229.3,1024.8 1228.6,1023.8 1227.9,1023.6 1227.2,1023.7 1226.5,1024.2 1225.8,1023.7 1225.1,1024.6 1224.4,1024.8 1223.7,1024.8 1223,1023.7 1222.3,1023.1 1221.6,1024.7 1220.9,1024.8 1220.2,1022.7 1219.5,1024.4 1218.8,1024.4 1218.1,1023.9 1217.4,1024.5 1216.7,1024.5 1216,1024.8 1215.3,1025.2 1214.6,1023.8 1213.9,1025.7 1213.2,1023.4 1212.5,1025.3 1211.8,1023.3 1211.1,1024.2 1210.4,1023.6 1209.7,1023.7 1209,1024 1208.3,1024.8 1207.6,1024.6 1206.9,1023.8 1206.2,1025.1 1205.5,1024.3 1204.8,1025.3 1204.1,1025.9 1203.4,1024.7 1202.7,1024.4 1202,1024.5 1201.3,1023.8 1200.6,1022.9 1199.9,1024.4 1199.2,1024.3 1198.5,1024.5 1197.8,1023.9 1197.1,1024 1196.4,1024 1195.7,1025.5 1195,1025.1 1194.3,1025.2 1193.6,1025.1 1192.9,1024.1 1192.2,1024.6 1191.5,1024.7 1190.8,1024.7 1190.1,1024.7 1189.4,1023.7 1188.7,1025 1188,1024.9 1187.3,1024 1186.6,1025.5 1185.9,1023.7 1185.2,1025.1 1184.5,1025.3 1183.8,1024.5 1183.1,1023.9 1182.4,1024.4 1181.7,1025.5 1181,1024.5 1180.3,1026.2 1179.6,1023.6 1178.9,1025.5 1178.2,1023.8 1177.5,1023.5 1176.8,1025.4 1176.1,1024.5 1175.4,1025.6 1174.7,1025.2 1174,1024.9 1173.3,1025.1 1172.6,1025.4 1171.9,1024.5 1171.2,1024.9 1170.5,1024.8 1169.8,1023.4 1169.1,1023.8 1168.4,1024.9 1167.7,1023.2 1167,1025 1166.3,1023.9 1165.6,1024.6 1164.9,1025 1164.2,1024.1 1163.5,1024.4 1162.8,1025.2 1162.1,1027.2 1161.4,1024 1160.7,1025 1160,1024.1 1159.3,1024.7 1158.5,1024.6 1157.8,1025.5 1157.1,1024.3 1156.4,1025.6 1155.6,1025.8 1154.9,1024.1 1154.2,1024.9 1153.5,1025 1152.7,1025 1152,1025.6 1151.2,1024.1 1150.3,1026.2 1149.5,1026.8 1148.7,1026.8" fill="#f01010"/>
<polyline points="1764,1017.6 1764.2,1085" fill="none" stroke="#f01010" stroke-width="3.0" stroke-linejoin="round" stroke-linecap="butt" />
<text transform="translate(1112.6 1014.3) scale(0.934 1)" font-size="28.20" fill="#1414f0">NBI1L</text>
<text transform="translate(1222.3 1055.4) scale(0.931 1)" font-size="28.34" fill="#f01010">NBI2L</text>
<text transform="translate(1318.7 983.5) scale(0.865 1)" font-size="28.20" fill="#000">ICRF</text>
</svg></body></html>
